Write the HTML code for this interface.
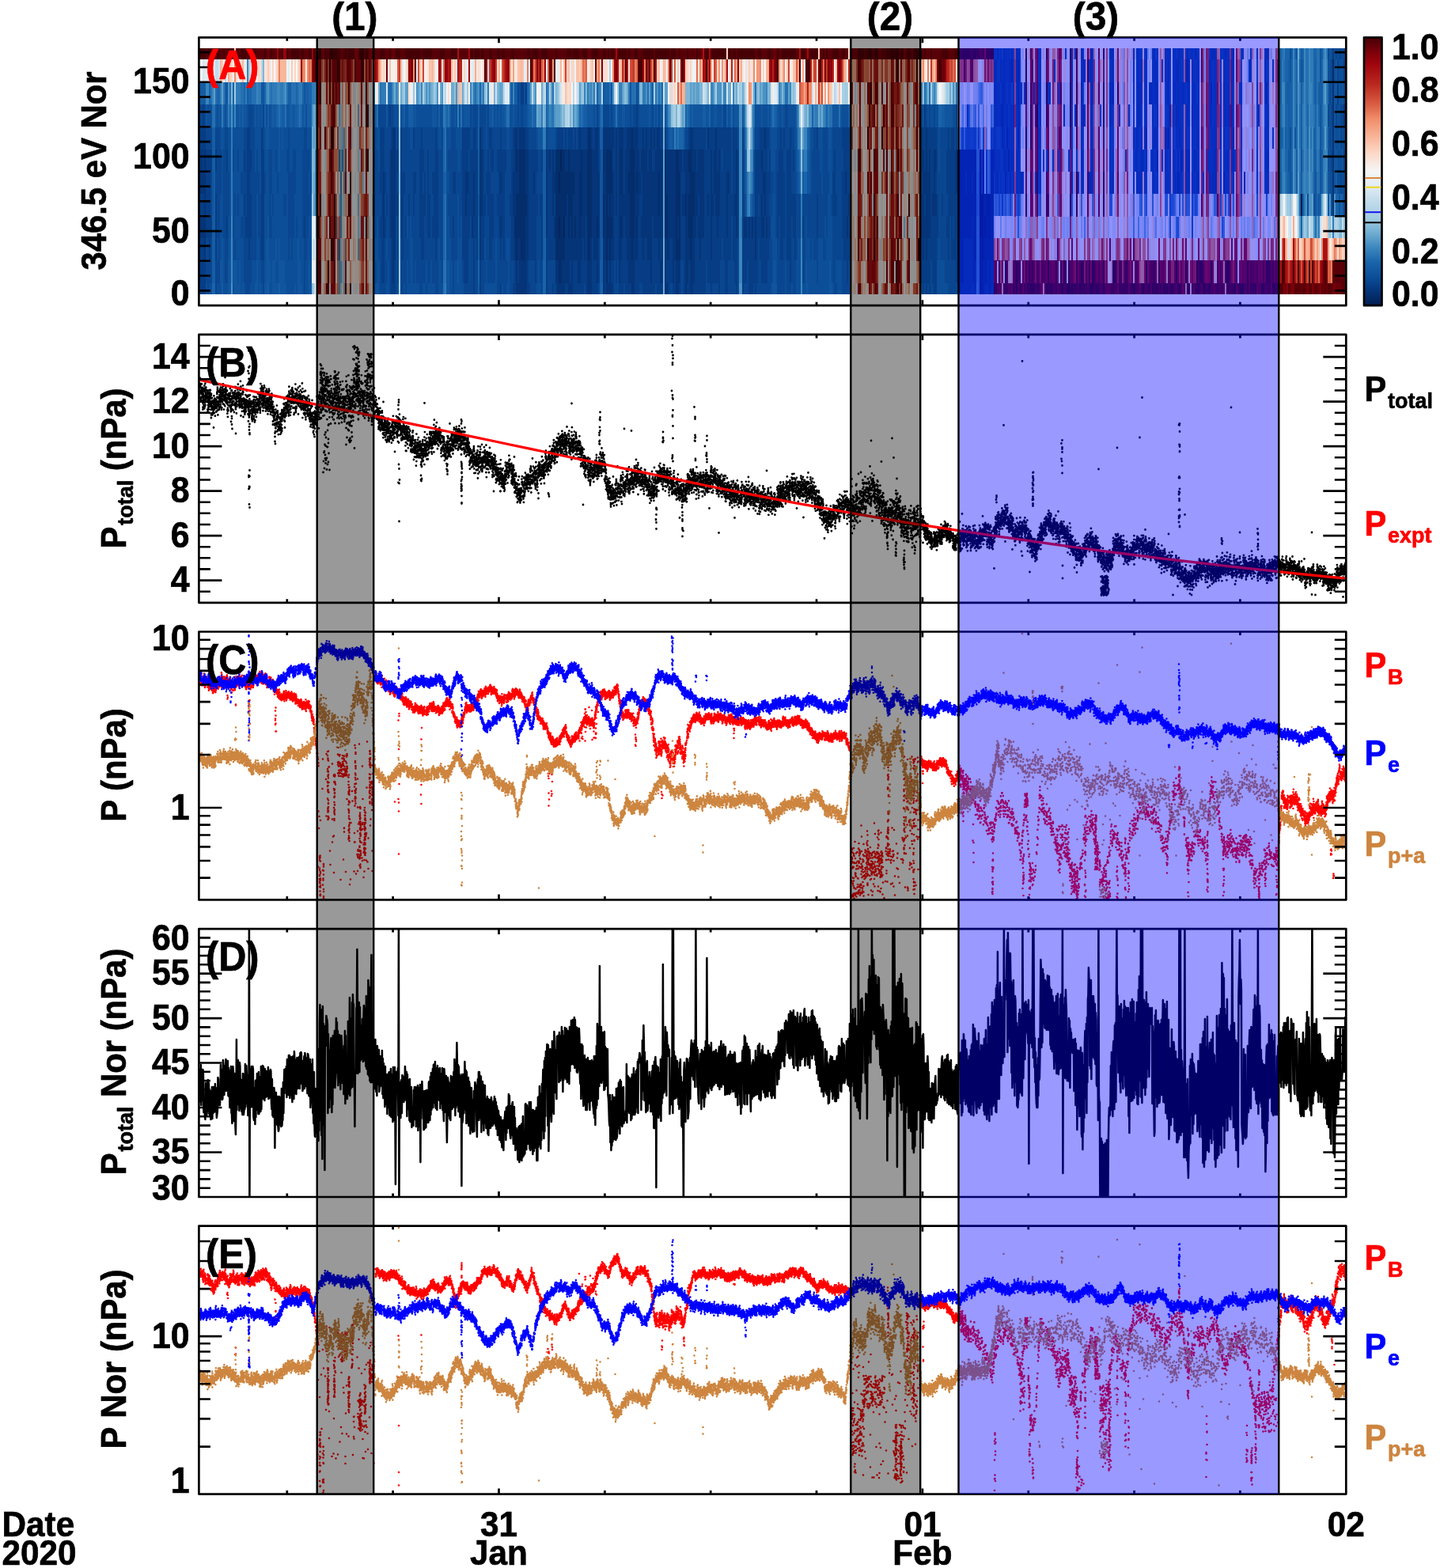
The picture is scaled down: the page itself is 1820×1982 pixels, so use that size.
<!DOCTYPE html>
<html><head><meta charset="utf-8"><title>Figure</title>
<style>
html,body{margin:0;padding:0;background:#fff;}
svg{display:block;}
text{font-family:"Liberation Sans", Arial, Helvetica, sans-serif;font-weight:bold;stroke-width:0.7px;stroke-linejoin:round;}
</style></head>
<body>
<svg width="1820" height="1982" viewBox="0 0 1820 1982">
<rect width="1820" height="1982" fill="#fff"/>
<defs><path id="t0" vector-effect="non-scaling-stroke" d="M0 -.4h0m0 1.85h0m.5-.85h0m0 1.6h0m0-2.2h0m.5 .2h0m0 .5h0m0 .65h0m.5-.85h0m0-1.7h0m0 1.35h0m0 .15h0m0-.6h0m.5-.7h0m0 2.4h0m0-1.7h0m0-.6h0m0 1.3h0m.5-.8h0m0-.45h0m0 .85h0m0-.55h0m0 .3h0m0 .55h0m0-.6h0m0-.55h0m.5 .65h0m0-.25h0m0 .8h0m0-1.15h0m0-.8h0m0 1.45h0m0-1.25h0m0-.4h0m0 2.4h0m.5-1.35h0m0 1.15h0m0-1.15h0m.5-.7h0m0 .2h0m0 1.1h0m0 .4h0m.5-.5h0m0 .65h0m0-1.3h0m0 1.5h0m0-2.05h0m0 1.55h0m.5 1.4h0m0 .55h0m.5 .45h0m0-3.45h0m0 2.05h0m0 .5h0m0-.15h0m.5-2.3h0"/><path id="t1" vector-effect="non-scaling-stroke" d="M0 1.4h0m0-.5h0m.5-2.25h0m0 2h0m0 1.15h0m0-1.4h0m0-.6h0m0 .45h0m.5-.8h0m0 1.15h0m.5-.65h0m0 1.4h0m0-1h0m0-1.25h0m.5 1.25h0m0 .25h0m0-1.25h0m0 .2h0m0-1.35h0m0 2.85h0m.5-1.45h0m0-1.65h0m0 .3h0m0 1.6h0m.5 .7h0m0-.75h0m.5 .65h0m0-1.5h0m0-.35h0m0 2.3h0m0-.35h0m0-.45h0m0 1.45h0m.5-1.8h0m0 .35h0m0 1.15h0m0 .8h0m0-1.75h0m.5 1.1h0m0-1.85h0m0 .85h0m0-.3h0m0-1.6h0m.5 2h0m0 .45h0m0-1.05h0m0-.25h0m0 1.3h0m.5-2.45h0m0-.25h0m0 .9h0m0-.5h0m0 2.55h0m.5-1.05h0m0-1.3h0m0 .25h0"/><path id="t2" vector-effect="non-scaling-stroke" d="M.5 -.2h0m0 1.3h0m0-3.25h0m0 2.1h0m0-.85h0m0 1.45h0m.5-.95h0m0-.25h0m0 .65h0m.5-1.6h0m0 1.6h0m0-.95h0m0 .35h0m0 .15h0m0 1.6h0m.5-1.25h0m0 .35h0m0 .3h0m0-1.25h0m0 1.5h0m0 .05h0m0-.05h0m.5-.75h0m0-.25h0m0 .5h0m0 1.05h0m.5-2.8h0m0 1.35h0m0-.7h0m0 1.15h0m0-.2h0m0 .85h0m.5-3.9h0m0 2.1h0m0-.7h0m0 1.15h0m.5-.5h0m0 .25h0m0 1.65h0m0 1.45h0m0-4.6h0m.5 2.65h0m.5 .25h0m0-.2h0m0-.3h0m0-1.35h0m.5 .75h0m0 1.45h0m0 .5h0m0-1.05h0m0-.65h0m0 1.2h0m0-.55h0m0 .4h0m.5-.45h0m0-.5h0"/><path id="t3" vector-effect="non-scaling-stroke" d="M0 0h0m0-.1h0m.5 .95h0m0 .25h0m0-.65h0m0-.95h0m0 .35h0m0-.3h0m.5 2.4h0m0-.6h0m0 .15h0m0-.8h0m0-.75h0m0 1.55h0m.5 .45h0m0-1.15h0m0-.85h0m0 1h0m0-1.5h0m.5 1.25h0m0-1.3h0m0-.45h0m0 1.3h0m0-.3h0m.5 1.35h0m0-1.7h0m0 0h0m0-1.4h0m0-.5h0m0 .05h0m0 2.05h0m.5-1.3h0m.5 2h0m0 .45h0m0-1.65h0m0 1.7h0m0-1.4h0m.5 .6h0m0-1h0m0 1.2h0m0-2.05h0m0 1.15h0m.5-.8h0m0 .55h0m0 .55h0m.5-.35h0m0-.5h0m0 1.3h0m0 .2h0m0-1.75h0m0 1.85h0m.5 .3h0m0-1.15h0m0 .9h0m0-1.4h0m.5 2.4h0"/><path id="t4" vector-effect="non-scaling-stroke" d="M0 0h0m0 1.4h0m0-.15h0m.5-1.35h0m0-.05h0m.5 .95h0m0-.35h0m0 .2h0m0-1.95h0m.5 1.7h0m0-1.6h0m0-1.15h0m0 1.85h0m0 .8h0m0 1.45h0m0-2.35h0m.5-.7h0m0 3h0m0-1.85h0m0-.55h0m.5-.65h0m0-.25h0m0 2.45h0m0-1.7h0m0-.25h0m.5 .2h0m0 2.25h0m0-2.35h0m0 1.4h0m0-.2h0m0-.05h0m0-.7h0m.5 1.45h0m0 1.15h0m0-1.7h0m0-1h0m0-.05h0m.5 1.85h0m0-.35h0m0 .3h0m.5-.1h0m0-1.7h0m.5 2h0m0-.2h0m0-.75h0m0 .15h0m0 .25h0m0-.8h0m0-.6h0m.5 1.6h0m0-1.55h0m.5 .05h0m0-.8h0m0 1.2h0m0-1.25h0m0 .05h0"/><path id="t5" vector-effect="non-scaling-stroke" d="M0 -1.85h0m0 3.6h0m.5-2.75h0m0-.15h0m0 .25h0m0 .9h0m.5 .45h0m0 .1h0m0 .25h0m0-.9h0m0-1h0m0 1.85h0m0 .95h0m0-.35h0m0-1.15h0m0 .45h0m.5-1h0m0 .25h0m0-.85h0m0 1.25h0m.5 .5h0m0-.4h0m0 .85h0m0 1h0m0-.35h0m0-1.8h0m0-.65h0m.5-.4h0m0-.15h0m.5 .9h0m0 .25h0m0-.35h0m0-.1h0m.5-.2h0m0-.3h0m0-.6h0m0 2.55h0m0-.5h0m.5-1.9h0m0-.1h0m0 .6h0m.5 .65h0m0 1.15h0m0-.05h0m0 .35h0m0-.25h0m.5-.15h0m0-.7h0m0-.15h0m.5-.55h0m0-1.55h0m0 1.3h0m0 1.9h0m0-2.1h0m.5-.15h0m0 1.75h0"/><path id="t6" vector-effect="non-scaling-stroke" d="M0 .25h0m0 .05h0m.5-1.5h0m0 .75h0m0-.15h0m0-.6h0m0 .8h0m0 .1h0m0 .8h0m.5 .5h0m0-1.6h0m0 .35h0m0 .7h0m0 .3h0m.5-2.6h0m0 2.55h0m0-.95h0m.5 1h0m0-1.35h0m0-.15h0m0 .85h0m.5 .45h0m.5-.55h0m0-1.5h0m0 1.95h0m0-1.85h0m.5 .55h0m0-.15h0m0-.45h0m0 .6h0m0 .1h0m0 .3h0m0 .5h0m0-.05h0m.5-.5h0m0 1.15h0m0 .8h0m0-.1h0m0-.2h0m.5 .35h0m0 .2h0m0 .1h0m0 .3h0m0-1.55h0m.5-.1h0m0 .95h0m0-.05h0m0 0h0m0-2.95h0m0 1.35h0m0-2.1h0m.5 2.55h0m0-.65h0m0-.05h0m0-.35h0m.5 1.15h0"/><path id="t7" vector-effect="non-scaling-stroke" d="M0 .4h0m0-.55h0m.5 .95h0m0 .6h0m0-1.7h0m0 .9h0m.5-.4h0m0 .9h0m0-.5h0m0-2h0m0 .45h0m0-1.35h0m.5 .6h0m0 1.05h0m0 .5h0m0 .45h0m0-1.2h0m.5-.9h0m0 1.65h0m0-.35h0m.5 .25h0m.5 .1h0m0-.15h0m0-.1h0m.5 0h0m.5-1.05h0m0 1.2h0m0-.95h0m0 .25h0m0 2.45h0m0-1.4h0m0-1.5h0m0 2.85h0m0 .05h0m0 .35h0m0-1.55h0m.5 .45h0m0-.55h0m0-.85h0m0 2.45h0m0-2.2h0m0-.05h0m.5 .1h0m0 2.2h0m0-.8h0m0-1.55h0m.5 .4h0m0 .45h0m0 .4h0m0-2.05h0m0 2.6h0m.5-1.45h0m0-.5h0m0 .15h0m0 1.25h0m0 1.05h0"/><path id="s0" vector-effect="non-scaling-stroke" d="M0 -1.25h0m1 2.15h0m0-.1h0m.5-.45h0m0 .35h0m0 .6h0m0-.9h0m0 .2h0m1-1.55h0m1 0h0m0 1.55h0m0-.95h0m0 .9h0m.5-1.85h0m0-.25h0m1-.25h0m0 3.05h0m.5-2.4h0m0 2.2h0m0-1.65h0m0 .6h0m.5 1.35h0"/><path id="s1" vector-effect="non-scaling-stroke" d="M.5 -1.75h0m.5 3.1h0m.5-2.15h0m0 2.4h0m0 .45h0m.5-1.15h0m0-.95h0m0 .85h0m.5-.75h0m0 .55h0m.5-.3h0m0-.95h0m.5 .65h0m.5 .35h0m0-.65h0m.5 .8h0m0-.8h0m0-1.4h0m0 1.25h0m.5 .15h0m1-.05h0m0-1.5h0"/><path id="s2" vector-effect="non-scaling-stroke" d="M0 -1.55h0m.5 1.25h0m.5 .1h0m.5 2h0m0-.1h0m.5-2.75h0m0 .8h0m.5 .5h0m0 1.2h0m.5-.65h0m.5-.55h0m0-1.35h0m.5 .3h0m0-1.05h0m.5 .7h0m0 1.45h0m0 .25h0m.5-1.2h0m0 .75h0m0 1.25h0m.5-1.1h0m0-.1h0"/><path id="s3" vector-effect="non-scaling-stroke" d="M.5 -.1h0m0 1.65h0m0-2.45h0m.5 .05h0m0 1.15h0m.5 .9h0m0-.95h0m1.5-1.6h0m.5 1.85h0m0 .3h0m0 1.45h0m0-2.35h0m0 .65h0m0-.3h0m0-1.05h0m.5 .9h0m.5 .6h0m1-1.85h0m0-.3h0m0-.05h0m.5 2.25h0m0-1.65h0"/><path id="s4" vector-effect="non-scaling-stroke" d="M.5 .05h0m0-.6h0m0 .5h0m0 .75h0m.5-2.95h0m0 2.65h0m0-1.05h0m0-.95h0m1 1.95h0m0-.1h0m0 .15h0m0-1.7h0m0 2.65h0m.5-1.75h0m.5-.3h0m0 1.75h0m0-.3h0m0 .2h0m.5 .1h0m.5-2.6h0m.5 3.1h0m.5-1.25h0"/><path id="s5" vector-effect="non-scaling-stroke" d="M.5 -.1h0m0 .55h0m0-1.05h0m0-1.1h0m.5 1.55h0m0 .35h0m.5 .95h0m.5-.8h0m0-1.95h0m.5 .85h0m.5-.4h0m0 .7h0m0-.4h0m.5-.45h0m.5 1.7h0m0-.3h0m.5-.3h0m0 1.2h0m.5 1.45h0m.5-1.45h0m.5-.4h0m0 .6h0"/><path id="s6" vector-effect="non-scaling-stroke" d="M0 1.95h0m.5-1.2h0m.5-.05h0m.5-1.7h0m0 .6h0m0-.55h0m0 .85h0m0 1.8h0m0-1.15h0m0-.05h0m.5-2h0m.5-.35h0m0 1.1h0m.5 .7h0m.5-.65h0m0 1.4h0m.5-1.25h0m.5 1.85h0m0-.25h0m0-2.1h0m0 1.15h0m0-.55h0"/><path id="s7" vector-effect="non-scaling-stroke" d="M0 .9h0m.5-.25h0m0-1.85h0m0 2.3h0m0 .2h0m.5-1.15h0m0-.8h0m0 0h0m.5-.15h0m.5 1.05h0m0-.75h0m.5-1.35h0m0 4h0m.5-3.85h0m0 2.7h0m.5-1.55h0m0 1.4h0m.5-1.8h0m.5 1.5h0m1-.8h0m0 .05h0m0 .7h0"/></defs>
<defs><clipPath id="clipA"><rect x="251.4" y="47.3" width="1449.9" height="338.9"/></clipPath><clipPath id="clipB"><rect x="251.4" y="422.9" width="1449.9" height="338.9"/></clipPath><clipPath id="clipC"><rect x="251.4" y="798.5" width="1449.9" height="338.9"/></clipPath><clipPath id="clipD"><rect x="251.4" y="1174.1" width="1449.9" height="338.9"/></clipPath><clipPath id="clipE"><rect x="251.4" y="1549.7" width="1449.9" height="338.9"/></clipPath></defs>
<g shape-rendering="crispEdges" fill="none"><path stroke="#053478" stroke-width="14.7" d="M652 365h14M704 365h10M718 365h6M742 365h6M762 365h2M766 365h8M798 365h4M840 365h4M854 365h4M866 365h2M872 365h4M1238 365h4"/><path stroke="#063d84" stroke-width="14.7" d="M1378 68.5h2M1558 68.5h2M1684 68.5h2M254 365h6M494 365h6M598 365h2M606 365h2M632 365h2M648 365h4M666 365h4M690 365h2M698 365h2M702 365h2M714 365h4M724 365h14M740 365h2M748 365h8M764 365h2M774 365h2M782 365h6M790 365h8M802 365h6M812 365h16M830 365h8M844 365h2M850 365h4M858 365h2M864 365h2M868 365h4M876 365h16M898 365h2M908 365h2M916 365h4M930 365h2M938 365h2M946 365h6M954 365h2M1162 365h2M1166 365h2M1170 365h2M1174 365h2M1180 365h4M1212 365h2M1242 365h2M1250 365h2"/><path stroke="#09468f" stroke-width="14.7" d="M1260 68.5h2M1268 68.5h2M1278 68.5h2M1284 68.5h4M1366 68.5h2M1404 68.5h4M1432 68.5h2M1458 68.5h2M1500 68.5h2M1510 68.5h2M1530 68.5h6M1548 68.5h2M1600 68.5h2M1678 68.5h2M1688 68.5h2M1692 68.5h4M1698 68.5h2M252 365h2M262 365h2M272 365h2M310 365h6M332 365h2M384 365h2M480 365h8M492 365h2M500 365h2M506 365h4M512 365h2M530 365h4M538 365h2M550 365h4M572 365h2M586 365h12M600 365h4M608 365h4M628 365h4M636 365h4M644 365h4M670 365h8M684 365h2M692 365h6M700 365h2M738 365h2M756 365h2M776 365h6M788 365h2M808 365h4M828 365h2M846 365h4M860 365h4M892 365h6M900 365h8M910 365h6M920 365h10M932 365h2M940 365h6M952 365h2M956 365h18M982 365h10M994 365h6M1002 365h4M1054 365h4M1064 365h10M1164 365h2M1168 365h2M1172 365h2M1176 365h4M1198 365h14M1214 365h14M1230 365h4M1244 365h6M1252 365h4"/><path stroke="#0c4e98" stroke-width="14.7" d="M1256 68.5h2M1264 68.5h2M1270 68.5h6M1288 68.5h2M1312 68.5h4M1346 68.5h2M1354 68.5h2M1358 68.5h2M1368 68.5h2M1380 68.5h2M1402 68.5h2M1436 68.5h4M1448 68.5h2M1456 68.5h2M1462 68.5h2M1472 68.5h8M1482 68.5h4M1488 68.5h6M1504 68.5h4M1512 68.5h2M1536 68.5h2M1542 68.5h2M1546 68.5h2M1550 68.5h4M1556 68.5h2M1570 68.5h2M1580 68.5h2M1588 68.5h2M1598 68.5h2M1602 68.5h2M1630 68.5h2M1682 68.5h2M1686 68.5h2M1690 68.5h2M1696 68.5h2M260 365h2M264 365h4M274 365h6M282 365h6M294 365h2M304 365h2M308 365h2M316 365h6M326 365h2M330 365h2M340 365h4M362 365h10M374 365h2M382 365h2M386 365h4M472 365h4M478 365h2M488 365h4M502 365h2M510 365h2M514 365h16M534 365h4M540 365h10M554 365h6M568 365h4M574 365h12M612 365h16M634 365h2M640 365h4M678 365h6M974 365h2M992 365h2M1000 365h2M1006 365h6M1014 365h4M1022 365h26M1052 365h2M1058 365h6M1184 365h14M1228 365h2"/><path stroke="#10559e" stroke-width="14.7" d="M1258 68.5h2M1262 68.5h2M1276 68.5h2M1440 68.5h4M1446 68.5h2M1486 68.5h2M1494 68.5h2M1498 68.5h2M1502 68.5h2M1508 68.5h2M1514 68.5h2M1528 68.5h2M1544 68.5h2M1568 68.5h2M1638 68.5h2M1668 68.5h2M1680 68.5h2M288 365h4M296 365h8M306 365h2M322 365h4M328 365h2M334 365h4M344 365h8M354 365h8M372 365h2M376 365h6M390 365h4M476 365h2M564 365h4M976 365h6M1018 365h4M1048 365h4"/><path stroke="#155da4" stroke-width="14.7" d="M1266 68.5h2M1280 68.5h2M1460 68.5h2M1632 68.5h2M1644 68.5h2M1670 68.5h2M280 365h2M338 365h2M352 365h2M604 365h2M758 365h2"/><path stroke="#1964aa" stroke-width="14.7" d="M1616 68.5h4M1624 68.5h6M1636 68.5h2M1646 68.5h2M1660 68.5h4M268 365h4M686 365h4M760 365h2"/><path stroke="#2570b1" stroke-width="14.7" d="M1620 68.5h2M1642 68.5h2M1650 68.5h4M1664 68.5h4M560 365h2"/><path stroke="#307bb7" stroke-width="14.7" d="M1622 68.5h2M1656 68.5h4M1672 68.5h2M1676 68.5h2M562 365h2"/><path stroke="#3b86bd" stroke-width="14.7" d="M1634 68.5h2M1648 68.5h2M1654 68.5h2M1012 365h2M1236 365h2"/><path stroke="#4b92c4" stroke-width="14.7" d="M1674 68.5h2M292 365h2M934 365h4M1234 365h2"/><path stroke="#5c9eca" stroke-width="14.7" d="M428 365h2"/><path stroke="#6dabd0" stroke-width="14.7" d="M1640 68.5h2M838 365h2"/><path stroke="#7eb6d6" stroke-width="14.7" d="M434 365h2"/><path stroke="#8ec0db" stroke-width="14.7" d="M394 365h2"/><path stroke="#9fcae1" stroke-width="14.7" d="M1450 68.5h2M1576 68.5h2M504 365h2"/><path stroke="#a8cfe4" stroke-width="14.7" d="M1454 68.5h2M1606 68.5h2M430 365h2"/><path stroke="#b2d3e6" stroke-width="14.7" d="M396 365h2"/><path stroke="#bbd8e9" stroke-width="14.7" d="M1418 68.5h2"/><path stroke="#c4dcec" stroke-width="14.7" d="M1434 68.5h2M1522 68.5h2M1578 68.5h2"/><path stroke="#cde1ef" stroke-width="14.7" d="M1292 68.5h2M1326 68.5h2M1344 68.5h2M1370 68.5h2M1400 68.5h2M1572 68.5h2"/><path stroke="#d7e6f1" stroke-width="14.7" d="M1290 68.5h2M1348 68.5h2M450 365h2"/><path stroke="#e0ecf4" stroke-width="14.7" d="M1316 68.5h2M1428 68.5h2M1584 68.5h4M446 365h2"/><path stroke="#e8f0f5" stroke-width="14.7" d="M1452 68.5h2M1610 68.5h2M400 365h2M416 365h2M444 365h2M452 365h2M1074 365h2M1082 365h2M1112 365h2"/><path stroke="#eff3f6" stroke-width="14.7" d="M1298 68.5h2M1320 68.5h2M1350 68.5h2M1408 68.5h2M1414 68.5h2M1608 68.5h2M398 365h2M406 365h2M1076 365h2M1110 365h2M1142 365h2"/><path stroke="#f6f6f6" stroke-width="14.7" d="M1294 68.5h2M1390 68.5h4M1480 68.5h2M1560 68.5h2M1122 365h2M1150 365h2"/><path stroke="#f7eeea" stroke-width="14.7" d="M1384 68.5h4M1422 68.5h2M1468 68.5h2M470 365h2"/><path stroke="#f8e6de" stroke-width="14.7" d="M1372 68.5h2M1396 68.5h2M1444 68.5h2M1464 68.5h2M1516 68.5h2M1590 68.5h2M468 365h2M1094 365h2M1152 365h2"/><path stroke="#faded2" stroke-width="14.7" d="M1306 68.5h2M1328 68.5h2M1364 68.5h2M1574 68.5h2M1596 68.5h2M432 365h2M448 365h2M1096 365h2"/><path stroke="#fbd6c5" stroke-width="14.7" d="M918 68.5h2M1072 68.5h2M1318 68.5h2M1334 68.5h2M1362 68.5h2M1426 68.5h2M466 365h2M1078 365h4M1090 365h2M1146 365h2"/><path stroke="#fbcdb8" stroke-width="14.7" d="M296 68.5h2M1034 68.5h2M1342 68.5h2M1410 68.5h2M1416 68.5h2M1604 68.5h2M408 365h2M440 365h2M460 365h2M1092 365h2M1124 365h2M1144 365h2M1504 365h2"/><path stroke="#fac2aa" stroke-width="14.7" d="M1300 68.5h2M1430 68.5h2M1594 68.5h2M438 365h2"/><path stroke="#f8b79c" stroke-width="14.7" d="M1470 68.5h2"/><path stroke="#f7ad8e" stroke-width="14.7" d="M424 365h2M1266 365h2M1318 365h2M1498 365h2M1548 365h2"/><path stroke="#f4a282" stroke-width="14.7" d="M1382 68.5h2M1420 68.5h2M1496 68.5h2M1540 68.5h2M1564 68.5h2M1102 365h2M1114 365h2M1140 365h2M1148 365h2M1160 365h2"/><path stroke="#f29776" stroke-width="14.7" d="M1332 68.5h2M1356 68.5h2M1424 68.5h2M1466 68.5h2"/><path stroke="#f08c69" stroke-width="14.7" d="M1330 68.5h2M1538 68.5h2M1566 68.5h2M1582 68.5h2M410 365h2M1088 365h2"/><path stroke="#e97d5d" stroke-width="14.7" d="M1376 68.5h2M454 365h2"/><path stroke="#e16e51" stroke-width="14.7" d="M1282 68.5h2M1520 68.5h2M1614 68.5h2M426 365h2"/><path stroke="#d95e44" stroke-width="14.7" d="M1398 68.5h2M1592 68.5h2M464 365h2M1116 365h2M1154 365h4"/><path stroke="#d2513b" stroke-width="14.7" d="M1554 68.5h2M1612 68.5h2M1136 365h2"/><path stroke="#ca4432" stroke-width="14.7" d="M1336 68.5h2"/><path stroke="#c23829" stroke-width="14.7" d="M1304 68.5h2M1526 68.5h2M456 365h2"/><path stroke="#bb2b20" stroke-width="14.7" d="M1324 68.5h2M1524 68.5h2M1100 365h2M1104 365h2M1128 365h4M1158 365h2"/><path stroke="#b5221b" stroke-width="14.7" d="M1308 68.5h2"/><path stroke="#ae1918" stroke-width="14.7" d="M1108 365h2M1118 365h4"/><path stroke="#a81114" stroke-width="14.7" d="M578 68.5h2M888 68.5h2M1010 68.5h2M1412 68.5h2M1562 68.5h2M1084 365h2M1126 365h2"/><path stroke="#a20810" stroke-width="14.7" d="M450 68.5h2M592 68.5h2M778 68.5h2M896 68.5h2M1020 68.5h2M1244 68.5h2M1340 68.5h2M1374 68.5h2M420 365h4M458 365h2M462 365h2M1098 365h2"/><path stroke="#97040e" stroke-width="14.7" d="M350 68.5h2M358 68.5h4M394 68.5h2M408 68.5h2M448 68.5h2M466 68.5h4M1310 68.5h2M1338 68.5h2M404 365h2M418 365h2M1132 365h2M1316 365h2M1494 365h2"/><path stroke="#89020c" stroke-width="14.7" d="M406 68.5h2M430 68.5h4M452 68.5h2M1142 68.5h2M1388 68.5h2M402 365h2M1138 365h2M1278 365h2M1292 365h2M1412 365h2M1426 365h2M1440 365h2M1562 365h2M1588 365h2M1626 365h2"/><path stroke="#7b000a" stroke-width="14.7" d="M412 68.5h4M434 68.5h2M438 68.5h2M460 68.5h2M470 68.5h2M1078 68.5h6M1110 68.5h4M1144 68.5h2M1152 68.5h2M1518 68.5h2M1106 365h2M1260 365h4M1274 365h2M1286 365h2M1296 365h2M1314 365h2M1336 365h2M1398 365h6M1454 365h2M1486 365h2M1508 365h2M1518 365h2M1534 365h2M1546 365h2M1574 365h2M1578 365h2M1590 365h4M1606 365h2M1622 365h2M1632 365h4M1652 365h2M1658 365h2M1668 365h2M1686 365h2"/><path stroke="#6a0009" stroke-width="14.7" d="M338 68.5h2M410 68.5h2M426 68.5h4M436 68.5h2M440 68.5h8M464 68.5h2M496 68.5h2M744 68.5h2M886 68.5h2M978 68.5h2M1076 68.5h2M1092 68.5h2M1102 68.5h4M1114 68.5h6M1136 68.5h2M1150 68.5h2M1238 68.5h4M1302 68.5h2M412 365h4M1086 365h2M1264 365h2M1268 365h2M1276 365h2M1282 365h2M1308 365h2M1320 365h2M1330 365h4M1338 365h2M1344 365h4M1362 365h2M1374 365h2M1390 365h4M1396 365h2M1408 365h4M1436 365h4M1446 365h4M1464 365h2M1468 365h2M1476 365h2M1484 365h2M1492 365h2M1496 365h2M1516 365h2M1524 365h2M1530 365h4M1536 365h2M1540 365h4M1554 365h2M1564 365h2M1572 365h2M1598 365h4M1612 365h2M1616 365h2M1624 365h2M1630 365h2M1644 365h2M1650 365h2M1660 365h2M1664 365h4M1672 365h2M1676 365h2M1684 365h2M1688 365h8"/><path stroke="#580007" stroke-width="14.7" d="M260 68.5h2M268 68.5h2M272 68.5h2M278 68.5h4M284 68.5h4M298 68.5h2M302 68.5h2M312 68.5h2M324 68.5h10M336 68.5h2M340 68.5h2M344 68.5h6M352 68.5h4M364 68.5h4M378 68.5h2M384 68.5h6M398 68.5h4M416 68.5h2M420 68.5h6M454 68.5h2M462 68.5h2M474 68.5h6M486 68.5h6M494 68.5h2M498 68.5h2M506 68.5h6M532 68.5h2M546 68.5h10M562 68.5h8M580 68.5h12M598 68.5h2M606 68.5h2M612 68.5h6M622 68.5h6M632 68.5h2M638 68.5h8M650 68.5h16M670 68.5h2M680 68.5h4M692 68.5h10M704 68.5h12M722 68.5h2M732 68.5h4M742 68.5h2M746 68.5h2M756 68.5h6M766 68.5h2M770 68.5h2M776 68.5h2M780 68.5h2M792 68.5h2M796 68.5h6M806 68.5h6M826 68.5h2M846 68.5h2M854 68.5h4M860 68.5h8M870 68.5h10M882 68.5h4M890 68.5h2M898 68.5h2M924 68.5h2M930 68.5h2M954 68.5h4M962 68.5h8M974 68.5h4M980 68.5h2M984 68.5h4M1006 68.5h4M1018 68.5h2M1022 68.5h2M1036 68.5h4M1042 68.5h2M1046 68.5h6M1060 68.5h4M1068 68.5h4M1074 68.5h2M1084 68.5h2M1088 68.5h4M1094 68.5h4M1108 68.5h2M1120 68.5h6M1130 68.5h2M1138 68.5h4M1146 68.5h4M1154 68.5h2M1162 68.5h2M1166 68.5h2M1170 68.5h6M1178 68.5h12M1198 68.5h8M1210 68.5h6M1226 68.5h4M1234 68.5h4M1242 68.5h2M1246 68.5h2M1250 68.5h2M436 365h2M1134 365h2M1258 365h2M1270 365h4M1288 365h4M1294 365h2M1298 365h4M1310 365h4M1324 365h4M1334 365h2M1340 365h2M1352 365h2M1356 365h6M1366 365h8M1376 365h2M1382 365h4M1388 365h2M1404 365h4M1414 365h12M1428 365h4M1434 365h2M1442 365h2M1450 365h4M1458 365h4M1466 365h2M1472 365h2M1478 365h2M1482 365h2M1488 365h2M1500 365h2M1506 365h2M1510 365h4M1526 365h2M1538 365h2M1544 365h2M1550 365h4M1556 365h4M1580 365h6M1602 365h4M1618 365h4M1628 365h2M1636 365h8M1646 365h4M1654 365h4M1662 365h2M1670 365h2M1674 365h2M1678 365h6M1696 365h4"/><path stroke="#460005" stroke-width="14.7" d="M252 68.5h8M262 68.5h6M270 68.5h2M274 68.5h4M282 68.5h2M288 68.5h8M300 68.5h2M304 68.5h8M314 68.5h10M334 68.5h2M342 68.5h2M356 68.5h2M362 68.5h2M368 68.5h10M380 68.5h4M390 68.5h4M396 68.5h2M402 68.5h4M418 68.5h2M456 68.5h4M472 68.5h2M480 68.5h6M492 68.5h2M500 68.5h6M512 68.5h20M534 68.5h12M556 68.5h6M570 68.5h8M594 68.5h4M600 68.5h6M608 68.5h4M618 68.5h4M628 68.5h4M634 68.5h4M646 68.5h4M666 68.5h4M672 68.5h8M684 68.5h8M702 68.5h2M716 68.5h6M724 68.5h8M736 68.5h6M748 68.5h8M762 68.5h4M768 68.5h2M772 68.5h4M782 68.5h10M794 68.5h2M802 68.5h4M812 68.5h14M828 68.5h18M848 68.5h6M858 68.5h2M868 68.5h2M880 68.5h2M892 68.5h4M900 68.5h18M920 68.5h4M926 68.5h4M932 68.5h22M958 68.5h4M970 68.5h4M982 68.5h2M988 68.5h18M1012 68.5h6M1024 68.5h10M1040 68.5h2M1044 68.5h2M1052 68.5h8M1064 68.5h4M1086 68.5h2M1098 68.5h4M1106 68.5h2M1126 68.5h4M1132 68.5h4M1156 68.5h6M1164 68.5h2M1168 68.5h2M1176 68.5h2M1190 68.5h8M1206 68.5h4M1216 68.5h10M1230 68.5h4M1248 68.5h2M1252 68.5h4M1296 68.5h2M1322 68.5h2M1352 68.5h2M1360 68.5h2M1394 68.5h2M442 365h2M1256 365h2M1280 365h2M1284 365h2M1302 365h6M1322 365h2M1328 365h2M1342 365h2M1348 365h4M1354 365h2M1364 365h2M1378 365h4M1386 365h2M1394 365h2M1432 365h2M1444 365h2M1456 365h2M1462 365h2M1470 365h2M1474 365h2M1480 365h2M1490 365h2M1502 365h2M1514 365h2M1520 365h4M1528 365h2M1560 365h2M1566 365h6M1576 365h2M1586 365h2M1594 365h4M1608 365h4M1614 365h2"/><path stroke="#031e50" stroke-width="28.8" d="M1644 259.1h2"/><path stroke="#04255d" stroke-width="28.8" d="M708 202.6h2M706 230.9h2M706 287.4h2M712 287.4h2"/><path stroke="#042d6b" stroke-width="28.8" d="M1684 89.7h2M744 174.4h2M798 174.4h2M652 202.6h2M656 202.6h8M702 202.6h6M710 202.6h4M718 202.6h2M734 202.6h2M742 202.6h6M762 202.6h2M766 202.6h8M784 202.6h2M796 202.6h6M840 202.6h2M854 202.6h4M870 202.6h4M1238 202.6h2M656 230.9h8M702 230.9h4M708 230.9h18M732 230.9h4M742 230.9h6M766 230.9h8M784 230.9h2M794 230.9h8M804 230.9h2M832 230.9h2M840 230.9h2M854 230.9h6M872 230.9h6M1238 230.9h2M652 259.1h14M702 259.1h14M718 259.1h6M732 259.1h4M742 259.1h6M762 259.1h2M766 259.1h2M770 259.1h2M796 259.1h6M832 259.1h2M840 259.1h4M854 259.1h6M866 259.1h2M870 259.1h8M1238 259.1h4M650 287.4h14M702 287.4h4M708 287.4h4M718 287.4h2M722 287.4h2M726 287.4h2M732 287.4h2M742 287.4h6M754 287.4h2M762 287.4h2M766 287.4h8M784 287.4h2M796 287.4h6M804 287.4h2M840 287.4h4M854 287.4h2M858 287.4h2M870 287.4h6M1238 287.4h4M652 315.6h2M658 315.6h6M702 315.6h12M742 315.6h4M766 315.6h2M770 315.6h2M798 315.6h2M854 315.6h6M872 315.6h2M706 343.8h4M766 343.8h2"/><path stroke="#053478" stroke-width="28.8" d="M1684 117.9h2M1684 146.1h2M1698 146.1h2M496 174.4h4M606 174.4h2M650 174.4h4M656 174.4h8M732 174.4h2M742 174.4h2M746 174.4h2M752 174.4h4M762 174.4h14M778 174.4h2M782 174.4h6M792 174.4h6M800 174.4h6M812 174.4h2M816 174.4h2M822 174.4h2M826 174.4h2M830 174.4h4M872 174.4h4M894 174.4h2M904 174.4h2M966 174.4h2M1162 174.4h4M1170 174.4h2M1684 174.4h2M254 202.6h2M258 202.6h2M494 202.6h6M606 202.6h4M650 202.6h2M654 202.6h2M664 202.6h4M690 202.6h2M694 202.6h2M698 202.6h2M714 202.6h4M720 202.6h14M736 202.6h6M748 202.6h8M764 202.6h2M778 202.6h2M782 202.6h2M786 202.6h2M790 202.6h6M802 202.6h6M810 202.6h8M820 202.6h4M828 202.6h10M842 202.6h12M858 202.6h4M864 202.6h6M874 202.6h6M882 202.6h8M898 202.6h2M902 202.6h4M908 202.6h2M930 202.6h2M962 202.6h2M1162 202.6h6M1170 202.6h2M1174 202.6h2M1180 202.6h4M1208 202.6h6M1242 202.6h2M1684 202.6h2M252 230.9h8M484 230.9h2M494 230.9h6M588 230.9h4M598 230.9h2M606 230.9h4M632 230.9h2M648 230.9h8M664 230.9h4M674 230.9h2M690 230.9h2M698 230.9h4M726 230.9h6M736 230.9h6M748 230.9h10M762 230.9h4M774 230.9h2M778 230.9h2M782 230.9h2M786 230.9h2M790 230.9h4M802 230.9h2M806 230.9h4M812 230.9h20M834 230.9h4M842 230.9h12M866 230.9h6M878 230.9h12M898 230.9h2M902 230.9h8M918 230.9h4M930 230.9h2M964 230.9h4M1068 230.9h2M1162 230.9h2M1166 230.9h10M1180 230.9h2M1208 230.9h6M1232 230.9h2M1242 230.9h2M1684 230.9h2M258 259.1h2M484 259.1h2M494 259.1h6M588 259.1h2M598 259.1h2M606 259.1h4M648 259.1h4M666 259.1h2M690 259.1h2M698 259.1h2M716 259.1h2M724 259.1h8M736 259.1h6M748 259.1h10M764 259.1h2M768 259.1h2M772 259.1h4M778 259.1h2M782 259.1h14M802 259.1h6M812 259.1h20M834 259.1h4M844 259.1h10M862 259.1h4M868 259.1h2M878 259.1h4M884 259.1h6M894 259.1h2M898 259.1h4M904 259.1h6M918 259.1h2M928 259.1h4M962 259.1h2M966 259.1h2M1072 259.1h2M1162 259.1h6M1170 259.1h6M1178 259.1h6M1210 259.1h4M1242 259.1h2M1246 259.1h6M1684 259.1h2M252 287.4h8M484 287.4h2M494 287.4h6M596 287.4h2M606 287.4h2M632 287.4h2M664 287.4h4M690 287.4h2M700 287.4h2M714 287.4h4M720 287.4h2M724 287.4h2M728 287.4h4M734 287.4h6M748 287.4h6M756 287.4h2M764 287.4h2M774 287.4h2M782 287.4h2M786 287.4h2M790 287.4h6M802 287.4h2M810 287.4h14M826 287.4h12M844 287.4h10M856 287.4h2M866 287.4h4M876 287.4h4M882 287.4h8M898 287.4h2M906 287.4h2M918 287.4h2M930 287.4h2M940 287.4h4M946 287.4h2M950 287.4h2M954 287.4h2M962 287.4h4M968 287.4h2M1070 287.4h2M1162 287.4h14M1212 287.4h2M1242 287.4h6M1250 287.4h2M258 315.6h2M496 315.6h4M606 315.6h2M650 315.6h2M654 315.6h4M664 315.6h4M714 315.6h22M738 315.6h2M746 315.6h2M750 315.6h6M762 315.6h4M768 315.6h2M772 315.6h4M782 315.6h4M792 315.6h6M800 315.6h6M812 315.6h2M818 315.6h6M832 315.6h2M836 315.6h2M840 315.6h6M850 315.6h4M866 315.6h6M874 315.6h4M884 315.6h2M898 315.6h2M954 315.6h2M1166 315.6h2M1170 315.6h2M1238 315.6h6M496 343.8h2M652 343.8h2M656 343.8h10M702 343.8h4M710 343.8h10M722 343.8h2M730 343.8h4M742 343.8h6M754 343.8h2M762 343.8h2M770 343.8h2M782 343.8h2M794 343.8h8M822 343.8h2M834 343.8h4M840 343.8h2M850 343.8h2M854 343.8h6M866 343.8h4M872 343.8h6M1238 343.8h4"/><path stroke="#063d84" stroke-width="28.8" d="M1278 89.7h2M1286 89.7h2M1500 89.7h2M1698 89.7h2M658 117.9h4M664 117.9h2M1286 117.9h2M1366 117.9h2M1406 117.9h2M1530 117.9h2M1600 117.9h2M1690 117.9h2M256 146.1h2M492 146.1h2M804 146.1h2M1168 146.1h2M1208 146.1h2M1266 146.1h2M1368 146.1h2M1478 146.1h2M1556 146.1h2M252 174.4h8M312 174.4h4M330 174.4h2M480 174.4h6M494 174.4h2M506 174.4h2M522 174.4h2M532 174.4h2M550 174.4h2M584 174.4h10M598 174.4h4M608 174.4h2M618 174.4h4M632 174.4h2M648 174.4h2M654 174.4h2M664 174.4h4M704 174.4h8M714 174.4h2M718 174.4h6M726 174.4h2M730 174.4h2M734 174.4h8M748 174.4h4M756 174.4h2M776 174.4h2M780 174.4h2M788 174.4h4M806 174.4h6M814 174.4h2M818 174.4h4M824 174.4h2M828 174.4h2M834 174.4h4M840 174.4h2M870 174.4h2M876 174.4h16M896 174.4h8M906 174.4h18M926 174.4h6M938 174.4h2M960 174.4h6M968 174.4h4M986 174.4h2M990 174.4h2M998 174.4h2M1032 174.4h2M1064 174.4h10M1166 174.4h4M1172 174.4h12M1198 174.4h2M1202 174.4h4M1208 174.4h2M1272 174.4h2M1286 174.4h2M1448 174.4h2M1472 174.4h2M1476 174.4h2M1558 174.4h2M252 202.6h2M256 202.6h2M260 202.6h8M272 202.6h2M286 202.6h2M308 202.6h2M312 202.6h6M330 202.6h4M472 202.6h2M480 202.6h6M492 202.6h2M500 202.6h4M506 202.6h2M530 202.6h6M540 202.6h2M550 202.6h4M584 202.6h8M594 202.6h10M610 202.6h2M616 202.6h2M620 202.6h4M628 202.6h12M646 202.6h4M668 202.6h12M684 202.6h2M692 202.6h2M696 202.6h2M700 202.6h2M756 202.6h2M774 202.6h4M780 202.6h2M788 202.6h2M808 202.6h2M818 202.6h2M824 202.6h4M862 202.6h2M880 202.6h2M890 202.6h8M900 202.6h2M906 202.6h2M910 202.6h2M914 202.6h10M926 202.6h4M932 202.6h2M938 202.6h2M954 202.6h8M964 202.6h6M972 202.6h2M984 202.6h6M994 202.6h6M1002 202.6h2M1054 202.6h2M1066 202.6h8M1168 202.6h2M1172 202.6h2M1176 202.6h4M1196 202.6h12M1214 202.6h20M1252 202.6h4M1274 202.6h2M1462 202.6h2M1492 202.6h2M1502 202.6h2M1698 202.6h2M260 230.9h6M312 230.9h4M330 230.9h4M472 230.9h2M480 230.9h4M486 230.9h2M492 230.9h2M500 230.9h2M506 230.9h6M522 230.9h4M530 230.9h4M536 230.9h2M540 230.9h2M546 230.9h8M572 230.9h4M584 230.9h4M592 230.9h6M600 230.9h4M610 230.9h2M614 230.9h6M630 230.9h2M634 230.9h4M646 230.9h2M668 230.9h6M676 230.9h2M692 230.9h6M776 230.9h2M780 230.9h2M788 230.9h2M810 230.9h2M860 230.9h6M890 230.9h8M900 230.9h2M910 230.9h8M922 230.9h2M926 230.9h4M932 230.9h2M938 230.9h2M954 230.9h10M968 230.9h6M982 230.9h10M994 230.9h6M1052 230.9h4M1064 230.9h4M1070 230.9h4M1164 230.9h2M1176 230.9h4M1182 230.9h2M1196 230.9h12M1214 230.9h6M1222 230.9h6M1230 230.9h2M1252 230.9h4M1270 230.9h2M1354 230.9h2M1488 230.9h2M1546 230.9h2M1572 230.9h2M252 259.1h6M260 259.1h6M272 259.1h2M308 259.1h2M312 259.1h6M330 259.1h4M472 259.1h2M482 259.1h2M488 259.1h2M492 259.1h2M500 259.1h4M506 259.1h4M516 259.1h2M522 259.1h2M530 259.1h8M540 259.1h4M548 259.1h6M584 259.1h4M590 259.1h8M600 259.1h4M610 259.1h4M616 259.1h8M628 259.1h10M644 259.1h4M668 259.1h12M682 259.1h4M692 259.1h6M700 259.1h2M776 259.1h2M780 259.1h2M808 259.1h4M860 259.1h2M882 259.1h2M890 259.1h4M896 259.1h2M902 259.1h2M910 259.1h8M920 259.1h8M932 259.1h2M938 259.1h2M954 259.1h4M960 259.1h2M964 259.1h2M968 259.1h4M982 259.1h10M994 259.1h12M1032 259.1h2M1052 259.1h6M1064 259.1h8M1168 259.1h2M1176 259.1h2M1184 259.1h2M1190 259.1h2M1198 259.1h12M1214 259.1h20M1244 259.1h2M1252 259.1h4M260 287.4h8M272 287.4h2M286 287.4h2M310 287.4h8M330 287.4h4M384 287.4h2M480 287.4h4M486 287.4h2M492 287.4h2M506 287.4h4M512 287.4h2M530 287.4h6M540 287.4h4M546 287.4h8M572 287.4h2M584 287.4h10M598 287.4h6M608 287.4h4M618 287.4h6M630 287.4h2M634 287.4h4M646 287.4h4M668 287.4h10M684 287.4h2M692 287.4h8M740 287.4h2M776 287.4h6M788 287.4h2M806 287.4h4M824 287.4h2M860 287.4h6M880 287.4h2M890 287.4h8M900 287.4h6M908 287.4h10M920 287.4h4M926 287.4h4M932 287.4h2M938 287.4h2M944 287.4h2M948 287.4h2M952 287.4h2M956 287.4h6M966 287.4h2M970 287.4h4M982 287.4h2M986 287.4h6M994 287.4h6M1002 287.4h4M1014 287.4h2M1032 287.4h2M1064 287.4h6M1072 287.4h2M1176 287.4h10M1196 287.4h4M1202 287.4h2M1206 287.4h6M1214 287.4h14M1230 287.4h4M1248 287.4h2M1252 287.4h4M252 315.6h6M264 315.6h2M272 315.6h2M314 315.6h2M330 315.6h4M482 315.6h4M494 315.6h2M508 315.6h2M532 315.6h4M550 315.6h2M584 315.6h8M598 315.6h2M602 315.6h2M608 315.6h4M618 315.6h4M632 315.6h2M636 315.6h2M646 315.6h4M668 315.6h10M684 315.6h2M690 315.6h12M736 315.6h2M740 315.6h2M748 315.6h2M756 315.6h2M776 315.6h6M786 315.6h6M806 315.6h6M814 315.6h4M824 315.6h8M834 315.6h2M846 315.6h4M860 315.6h6M878 315.6h6M886 315.6h12M900 315.6h12M914 315.6h10M926 315.6h6M938 315.6h16M956 315.6h2M960 315.6h12M986 315.6h4M994 315.6h6M1004 315.6h2M1066 315.6h8M1162 315.6h4M1168 315.6h2M1172 315.6h12M1198 315.6h2M1202 315.6h16M1230 315.6h4M1244 315.6h12M252 343.8h8M482 343.8h4M494 343.8h2M498 343.8h2M586 343.8h6M598 343.8h2M606 343.8h2M650 343.8h2M654 343.8h2M666 343.8h2M676 343.8h2M690 343.8h2M720 343.8h2M724 343.8h6M734 343.8h8M748 343.8h6M756 343.8h2M764 343.8h2M768 343.8h2M772 343.8h4M778 343.8h2M784 343.8h10M802 343.8h20M824 343.8h10M842 343.8h8M852 343.8h2M864 343.8h2M870 343.8h2M878 343.8h14M894 343.8h16M916 343.8h4M928 343.8h4M938 343.8h6M946 343.8h12M962 343.8h8M998 343.8h2M1070 343.8h2M1162 343.8h14M1178 343.8h6M1208 343.8h10M1230 343.8h2M1242 343.8h6M1250 343.8h2"/><path stroke="#09468f" stroke-width="28.8" d="M1256 89.7h4M1264 89.7h2M1268 89.7h2M1276 89.7h2M1284 89.7h2M1354 89.7h2M1368 89.7h4M1378 89.7h2M1406 89.7h2M1432 89.7h2M1442 89.7h2M1460 89.7h2M1472 89.7h2M1476 89.7h2M1486 89.7h4M1498 89.7h2M1502 89.7h2M1528 89.7h2M1556 89.7h4M1580 89.7h2M1598 89.7h2M1682 89.7h2M1690 89.7h2M654 117.9h2M1256 117.9h4M1266 117.9h4M1306 117.9h2M1312 117.9h4M1378 117.9h4M1402 117.9h4M1438 117.9h6M1454 117.9h2M1460 117.9h4M1474 117.9h4M1484 117.9h2M1488 117.9h2M1494 117.9h2M1502 117.9h2M1508 117.9h2M1546 117.9h2M1552 117.9h2M1556 117.9h2M1680 117.9h2M1698 117.9h2M252 146.1h4M258 146.1h2M314 146.1h6M332 146.1h2M478 146.1h10M490 146.1h2M494 146.1h4M594 146.1h2M598 146.1h6M606 146.1h8M616 146.1h2M654 146.1h2M658 146.1h4M754 146.1h2M762 146.1h8M772 146.1h2M796 146.1h2M800 146.1h4M806 146.1h2M824 146.1h2M832 146.1h2M914 146.1h4M992 146.1h4M1164 146.1h2M1170 146.1h2M1174 146.1h2M1180 146.1h2M1258 146.1h2M1264 146.1h2M1272 146.1h2M1280 146.1h2M1286 146.1h2M1314 146.1h2M1358 146.1h2M1378 146.1h2M1402 146.1h2M1414 146.1h2M1426 146.1h2M1438 146.1h4M1456 146.1h2M1462 146.1h2M1486 146.1h4M1500 146.1h2M1506 146.1h2M1530 146.1h2M1548 146.1h2M1552 146.1h2M1590 146.1h2M1678 146.1h2M1682 146.1h2M1688 146.1h2M1694 146.1h4M260 174.4h8M272 174.4h6M284 174.4h4M308 174.4h4M316 174.4h6M332 174.4h2M364 174.4h2M384 174.4h4M472 174.4h4M486 174.4h8M500 174.4h4M508 174.4h10M524 174.4h8M534 174.4h16M552 174.4h2M558 174.4h2M570 174.4h6M594 174.4h4M602 174.4h2M610 174.4h4M616 174.4h2M622 174.4h10M634 174.4h6M644 174.4h4M668 174.4h10M690 174.4h2M702 174.4h2M712 174.4h2M716 174.4h2M724 174.4h2M728 174.4h2M842 174.4h2M866 174.4h4M892 174.4h2M924 174.4h2M932 174.4h2M954 174.4h6M972 174.4h2M982 174.4h4M988 174.4h2M992 174.4h6M1000 174.4h4M1028 174.4h4M1040 174.4h6M1052 174.4h12M1184 174.4h2M1188 174.4h10M1200 174.4h2M1206 174.4h2M1266 174.4h4M1312 174.4h2M1432 174.4h2M1436 174.4h2M1442 174.4h2M1446 174.4h2M1458 174.4h4M1474 174.4h2M1490 174.4h2M1512 174.4h2M1536 174.4h2M1542 174.4h2M1546 174.4h2M1556 174.4h2M1568 174.4h2M1680 174.4h2M1694 174.4h2M1698 174.4h2M274 202.6h6M282 202.6h4M294 202.6h2M300 202.6h2M310 202.6h2M318 202.6h4M324 202.6h2M340 202.6h4M348 202.6h2M362 202.6h4M370 202.6h4M382 202.6h10M474 202.6h4M486 202.6h6M508 202.6h22M536 202.6h4M542 202.6h8M554 202.6h6M566 202.6h12M582 202.6h2M592 202.6h2M612 202.6h4M618 202.6h2M624 202.6h4M640 202.6h6M680 202.6h4M912 202.6h2M924 202.6h2M970 202.6h2M980 202.6h4M990 202.6h4M1000 202.6h2M1004 202.6h2M1026 202.6h10M1040 202.6h6M1052 202.6h2M1056 202.6h10M1184 202.6h2M1188 202.6h8M1256 202.6h2M1268 202.6h4M1278 202.6h2M1286 202.6h2M1330 202.6h2M1366 202.6h2M1380 202.6h2M1436 202.6h2M1442 202.6h4M1448 202.6h2M1456 202.6h2M1472 202.6h2M1488 202.6h2M1498 202.6h4M1508 202.6h4M1526 202.6h2M1534 202.6h4M1550 202.6h2M1556 202.6h4M1588 202.6h2M1600 202.6h4M1682 202.6h2M266 230.9h2M272 230.9h8M282 230.9h8M304 230.9h8M316 230.9h12M334 230.9h2M340 230.9h4M350 230.9h2M364 230.9h10M382 230.9h8M392 230.9h2M474 230.9h6M488 230.9h4M502 230.9h2M512 230.9h10M526 230.9h4M534 230.9h2M538 230.9h2M542 230.9h4M554 230.9h6M568 230.9h4M576 230.9h8M612 230.9h2M620 230.9h10M638 230.9h8M678 230.9h8M924 230.9h2M974 230.9h4M980 230.9h2M992 230.9h2M1000 230.9h6M1026 230.9h12M1040 230.9h8M1056 230.9h8M1184 230.9h12M1220 230.9h2M1228 230.9h2M1258 230.9h4M1276 230.9h2M1290 230.9h2M1308 230.9h2M1362 230.9h2M1368 230.9h2M1376 230.9h4M1406 230.9h2M1432 230.9h2M1436 230.9h2M1440 230.9h2M1484 230.9h2M1490 230.9h2M1498 230.9h2M1502 230.9h2M1512 230.9h4M1520 230.9h2M1528 230.9h2M1532 230.9h6M1694 230.9h2M1698 230.9h2M266 259.1h2M274 259.1h4M282 259.1h8M296 259.1h2M300 259.1h2M310 259.1h2M318 259.1h6M326 259.1h4M340 259.1h2M344 259.1h2M358 259.1h4M364 259.1h8M382 259.1h10M474 259.1h8M486 259.1h2M490 259.1h2M510 259.1h6M518 259.1h4M524 259.1h6M538 259.1h2M544 259.1h4M554 259.1h6M566 259.1h12M580 259.1h4M614 259.1h2M624 259.1h4M638 259.1h6M680 259.1h2M940 259.1h2M958 259.1h2M972 259.1h4M980 259.1h2M992 259.1h2M1006 259.1h6M1014 259.1h18M1034 259.1h12M1050 259.1h2M1058 259.1h6M1186 259.1h4M1192 259.1h6M1698 259.1h2M274 287.4h4M282 287.4h4M294 287.4h2M304 287.4h6M318 287.4h6M326 287.4h4M340 287.4h4M364 287.4h8M374 287.4h2M382 287.4h2M386 287.4h4M472 287.4h4M478 287.4h2M488 287.4h4M500 287.4h4M510 287.4h2M516 287.4h2M520 287.4h10M536 287.4h4M544 287.4h2M554 287.4h6M568 287.4h4M574 287.4h4M580 287.4h2M594 287.4h2M612 287.4h6M624 287.4h6M638 287.4h8M678 287.4h6M924 287.4h2M980 287.4h2M984 287.4h2M992 287.4h2M1000 287.4h2M1006 287.4h6M1016 287.4h2M1020 287.4h12M1034 287.4h8M1044 287.4h2M1052 287.4h12M1186 287.4h10M1200 287.4h2M1204 287.4h2M1228 287.4h2M260 315.6h4M266 315.6h2M276 315.6h2M284 315.6h4M296 315.6h2M308 315.6h6M316 315.6h8M328 315.6h2M364 315.6h2M368 315.6h2M384 315.6h4M472 315.6h2M478 315.6h4M486 315.6h2M490 315.6h4M500 315.6h4M506 315.6h2M510 315.6h8M522 315.6h10M536 315.6h14M552 315.6h2M556 315.6h4M570 315.6h8M592 315.6h6M600 315.6h2M614 315.6h4M622 315.6h4M628 315.6h4M634 315.6h2M638 315.6h2M644 315.6h2M678 315.6h6M912 315.6h2M924 315.6h2M932 315.6h2M958 315.6h2M972 315.6h4M982 315.6h4M990 315.6h4M1000 315.6h4M1006 315.6h2M1014 315.6h4M1024 315.6h2M1028 315.6h6M1040 315.6h4M1052 315.6h14M1184 315.6h2M1188 315.6h10M1200 315.6h2M1218 315.6h12M260 343.8h8M272 343.8h6M284 343.8h4M308 343.8h10M330 343.8h4M384 343.8h2M472 343.8h4M480 343.8h2M486 343.8h4M492 343.8h2M500 343.8h4M506 343.8h8M516 343.8h2M522 343.8h2M526 343.8h12M540 343.8h4M546 343.8h8M558 343.8h2M572 343.8h2M584 343.8h2M592 343.8h6M600 343.8h4M608 343.8h6M616 343.8h10M628 343.8h14M644 343.8h6M668 343.8h8M678 343.8h2M682 343.8h4M692 343.8h10M776 343.8h2M780 343.8h2M860 343.8h4M892 343.8h2M910 343.8h6M920 343.8h8M932 343.8h2M944 343.8h2M958 343.8h4M970 343.8h6M982 343.8h10M994 343.8h4M1000 343.8h6M1014 343.8h4M1032 343.8h2M1052 343.8h4M1064 343.8h6M1072 343.8h2M1176 343.8h2M1194 343.8h14M1218 343.8h12M1232 343.8h2M1248 343.8h2M1252 343.8h4"/><path stroke="#0c4e98" stroke-width="28.8" d="M1266 89.7h2M1270 89.7h6M1288 89.7h2M1312 89.7h4M1332 89.7h2M1366 89.7h2M1376 89.7h2M1380 89.7h2M1404 89.7h2M1436 89.7h6M1446 89.7h4M1456 89.7h4M1468 89.7h2M1474 89.7h2M1482 89.7h4M1490 89.7h2M1506 89.7h4M1512 89.7h4M1530 89.7h2M1534 89.7h4M1546 89.7h8M1608 89.7h2M1678 89.7h4M1686 89.7h2M1692 89.7h6M656 117.9h2M662 117.9h2M804 117.9h2M1260 117.9h4M1270 117.9h2M1274 117.9h4M1280 117.9h2M1284 117.9h2M1288 117.9h4M1294 117.9h2M1324 117.9h4M1338 117.9h2M1354 117.9h2M1432 117.9h2M1436 117.9h2M1446 117.9h4M1452 117.9h2M1456 117.9h4M1482 117.9h2M1486 117.9h2M1490 117.9h4M1496 117.9h2M1500 117.9h2M1506 117.9h2M1510 117.9h2M1514 117.9h2M1528 117.9h2M1534 117.9h4M1542 117.9h2M1548 117.9h4M1566 117.9h4M1588 117.9h2M1598 117.9h2M1682 117.9h2M1694 117.9h2M262 146.1h6M274 146.1h2M284 146.1h2M312 146.1h2M320 146.1h2M324 146.1h2M328 146.1h2M336 146.1h2M340 146.1h2M386 146.1h2M472 146.1h2M498 146.1h6M506 146.1h2M512 146.1h4M526 146.1h20M552 146.1h2M556 146.1h4M570 146.1h4M576 146.1h2M580 146.1h2M584 146.1h2M596 146.1h2M614 146.1h2M624 146.1h2M628 146.1h2M632 146.1h2M644 146.1h4M650 146.1h4M656 146.1h2M662 146.1h4M750 146.1h2M756 146.1h2M770 146.1h2M774 146.1h2M782 146.1h4M790 146.1h6M798 146.1h2M808 146.1h12M822 146.1h2M828 146.1h2M836 146.1h2M898 146.1h4M906 146.1h6M920 146.1h2M926 146.1h2M954 146.1h8M964 146.1h6M972 146.1h2M984 146.1h4M990 146.1h2M996 146.1h10M1064 146.1h8M1162 146.1h2M1166 146.1h2M1172 146.1h2M1176 146.1h4M1182 146.1h4M1204 146.1h4M1222 146.1h2M1256 146.1h2M1260 146.1h4M1268 146.1h4M1276 146.1h4M1284 146.1h2M1288 146.1h2M1344 146.1h2M1366 146.1h2M1404 146.1h2M1436 146.1h2M1446 146.1h4M1476 146.1h2M1482 146.1h2M1490 146.1h4M1502 146.1h2M1508 146.1h8M1528 146.1h2M1534 146.1h4M1542 146.1h2M1546 146.1h2M1550 146.1h2M1600 146.1h4M1680 146.1h2M1690 146.1h4M278 174.4h2M282 174.4h2M288 174.4h4M294 174.4h14M322 174.4h8M334 174.4h2M340 174.4h12M354 174.4h2M358 174.4h6M366 174.4h18M388 174.4h6M476 174.4h4M518 174.4h4M554 174.4h4M564 174.4h6M576 174.4h8M614 174.4h2M640 174.4h4M678 174.4h2M692 174.4h10M974 174.4h8M1004 174.4h2M1024 174.4h4M1034 174.4h6M1046 174.4h2M1050 174.4h2M1186 174.4h2M1256 174.4h2M1274 174.4h8M1366 174.4h2M1378 174.4h4M1402 174.4h2M1438 174.4h2M1456 174.4h2M1462 174.4h2M1486 174.4h4M1492 174.4h2M1498 174.4h2M1502 174.4h2M1506 174.4h4M1514 174.4h2M1530 174.4h6M1552 174.4h2M1598 174.4h6M1608 174.4h2M1630 174.4h2M1682 174.4h2M1688 174.4h4M1696 174.4h2M280 202.6h2M288 202.6h4M296 202.6h4M302 202.6h6M322 202.6h2M326 202.6h4M334 202.6h6M344 202.6h4M350 202.6h2M354 202.6h8M366 202.6h4M374 202.6h8M392 202.6h2M478 202.6h2M564 202.6h2M578 202.6h4M758 202.6h2M940 202.6h2M952 202.6h2M974 202.6h6M1024 202.6h2M1036 202.6h4M1046 202.6h6M1186 202.6h2M1258 202.6h6M1272 202.6h2M1276 202.6h2M1280 202.6h2M1284 202.6h2M1312 202.6h2M1338 202.6h2M1350 202.6h2M1354 202.6h2M1360 202.6h2M1368 202.6h2M1378 202.6h2M1402 202.6h2M1406 202.6h2M1422 202.6h2M1434 202.6h2M1440 202.6h2M1460 202.6h2M1468 202.6h2M1474 202.6h2M1478 202.6h2M1482 202.6h4M1494 202.6h2M1512 202.6h4M1528 202.6h6M1546 202.6h4M1552 202.6h2M1568 202.6h2M1598 202.6h2M1678 202.6h4M1690 202.6h6M280 230.9h2M290 230.9h2M294 230.9h10M328 230.9h2M336 230.9h4M344 230.9h6M352 230.9h12M374 230.9h8M390 230.9h2M564 230.9h4M940 230.9h2M952 230.9h2M978 230.9h2M1006 230.9h2M1024 230.9h2M1038 230.9h2M1048 230.9h4M1264 230.9h2M1272 230.9h2M1280 230.9h2M1284 230.9h6M1292 230.9h2M1314 230.9h2M1380 230.9h2M1402 230.9h4M1438 230.9h2M1442 230.9h2M1446 230.9h2M1456 230.9h4M1462 230.9h2M1472 230.9h6M1486 230.9h2M1492 230.9h2M1500 230.9h2M1506 230.9h4M1530 230.9h2M1542 230.9h2M1548 230.9h6M1558 230.9h2M1588 230.9h2M1600 230.9h4M1680 230.9h4M1690 230.9h4M1696 230.9h2M278 259.1h4M290 259.1h2M294 259.1h2M298 259.1h2M302 259.1h6M324 259.1h2M334 259.1h6M342 259.1h2M346 259.1h12M362 259.1h2M372 259.1h10M392 259.1h2M564 259.1h2M578 259.1h2M952 259.1h2M976 259.1h4M1046 259.1h4M1652 259.1h2M1660 259.1h2M1682 259.1h2M278 287.4h4M288 287.4h4M296 287.4h8M324 287.4h2M334 287.4h4M344 287.4h20M372 287.4h2M376 287.4h6M390 287.4h4M476 287.4h2M514 287.4h2M518 287.4h2M564 287.4h4M578 287.4h2M582 287.4h2M974 287.4h6M1018 287.4h2M1042 287.4h2M1046 287.4h6M274 315.6h2M278 315.6h2M282 315.6h2M288 315.6h2M294 315.6h2M298 315.6h10M324 315.6h4M334 315.6h2M340 315.6h8M350 315.6h2M354 315.6h10M366 315.6h2M370 315.6h6M378 315.6h6M388 315.6h6M474 315.6h4M488 315.6h2M518 315.6h4M554 315.6h2M564 315.6h6M578 315.6h6M612 315.6h2M626 315.6h2M640 315.6h4M976 315.6h6M1008 315.6h4M1018 315.6h6M1026 315.6h2M1034 315.6h6M1044 315.6h8M1186 315.6h2M282 343.8h2M300 343.8h2M304 343.8h4M318 343.8h6M326 343.8h4M334 343.8h2M342 343.8h2M348 343.8h4M360 343.8h16M380 343.8h4M386 343.8h4M392 343.8h2M476 343.8h4M490 343.8h2M514 343.8h2M518 343.8h4M524 343.8h2M538 343.8h2M544 343.8h2M554 343.8h4M568 343.8h4M574 343.8h4M580 343.8h4M614 343.8h2M626 343.8h2M642 343.8h2M680 343.8h2M976 343.8h2M980 343.8h2M992 343.8h2M1006 343.8h6M1020 343.8h12M1034 343.8h14M1050 343.8h2M1056 343.8h8M1184 343.8h10"/><path stroke="#10559e" stroke-width="28.8" d="M1260 89.7h4M1280 89.7h2M1402 89.7h2M1462 89.7h2M1478 89.7h2M1492 89.7h4M1510 89.7h2M1532 89.7h2M1542 89.7h2M1568 89.7h2M1578 89.7h2M1600 89.7h4M1630 89.7h2M1644 89.7h2M1668 89.7h2M1688 89.7h2M286 117.9h2M330 117.9h4M384 117.9h2M646 117.9h2M762 117.9h2M772 117.9h2M796 117.9h2M1264 117.9h2M1272 117.9h2M1368 117.9h2M1498 117.9h2M1512 117.9h2M1532 117.9h2M1558 117.9h2M1616 117.9h2M1686 117.9h4M1692 117.9h2M1696 117.9h2M260 146.1h2M272 146.1h2M276 146.1h4M298 146.1h4M304 146.1h2M308 146.1h4M322 146.1h2M326 146.1h2M330 146.1h2M342 146.1h2M346 146.1h2M362 146.1h4M370 146.1h2M382 146.1h2M488 146.1h2M508 146.1h2M522 146.1h4M546 146.1h6M574 146.1h2M586 146.1h8M618 146.1h4M626 146.1h2M630 146.1h2M634 146.1h4M648 146.1h2M666 146.1h2M742 146.1h8M752 146.1h2M776 146.1h2M780 146.1h2M786 146.1h4M820 146.1h2M826 146.1h2M830 146.1h2M834 146.1h2M840 146.1h2M872 146.1h2M876 146.1h12M892 146.1h4M902 146.1h4M912 146.1h2M922 146.1h2M928 146.1h6M938 146.1h2M962 146.1h2M970 146.1h2M982 146.1h2M988 146.1h2M1052 146.1h8M1062 146.1h2M1194 146.1h10M1274 146.1h2M1312 146.1h2M1354 146.1h2M1370 146.1h2M1380 146.1h2M1390 146.1h2M1406 146.1h2M1432 146.1h2M1442 146.1h2M1458 146.1h4M1474 146.1h2M1484 146.1h2M1494 146.1h2M1498 146.1h2M1532 146.1h2M1558 146.1h2M1568 146.1h2M1588 146.1h2M1668 146.1h2M1686 146.1h2M280 174.4h2M336 174.4h4M352 174.4h2M356 174.4h2M680 174.4h6M844 174.4h2M850 174.4h2M864 174.4h2M940 174.4h2M1006 174.4h2M1048 174.4h2M1258 174.4h2M1264 174.4h2M1270 174.4h2M1288 174.4h2M1314 174.4h2M1354 174.4h2M1368 174.4h2M1404 174.4h4M1434 174.4h2M1440 174.4h2M1478 174.4h2M1482 174.4h2M1494 174.4h2M1500 174.4h2M1510 174.4h2M1528 174.4h2M1548 174.4h4M1588 174.4h2M1636 174.4h2M1668 174.4h2M1678 174.4h2M1686 174.4h2M1692 174.4h2M352 202.6h2M1006 202.6h2M1022 202.6h2M1240 202.6h2M1246 202.6h2M1264 202.6h4M1288 202.6h2M1314 202.6h2M1318 202.6h2M1404 202.6h2M1432 202.6h2M1438 202.6h2M1446 202.6h2M1454 202.6h2M1458 202.6h2M1476 202.6h2M1486 202.6h2M1490 202.6h2M1506 202.6h2M1542 202.6h2M1560 202.6h2M1628 202.6h4M1644 202.6h2M1668 202.6h2M1686 202.6h4M1696 202.6h2M268 230.9h2M758 230.9h4M1008 230.9h2M1020 230.9h4M1240 230.9h2M1246 230.9h2M1256 230.9h2M1262 230.9h2M1266 230.9h4M1274 230.9h2M1278 230.9h2M1312 230.9h2M1366 230.9h2M1448 230.9h2M1460 230.9h2M1478 230.9h2M1482 230.9h2M1510 230.9h2M1556 230.9h2M1568 230.9h2M1598 230.9h2M1630 230.9h2M1662 230.9h2M1668 230.9h2M1678 230.9h2M1686 230.9h2M268 259.1h2M604 259.1h2M758 259.1h4M942 259.1h2M950 259.1h2M1662 259.1h2M1666 259.1h2M1678 259.1h2M1692 259.1h2M338 287.4h2M758 287.4h4M280 315.6h2M290 315.6h2M336 315.6h4M348 315.6h2M352 315.6h2M376 315.6h2M758 315.6h2M278 343.8h4M288 343.8h4M294 343.8h6M302 343.8h2M324 343.8h2M336 343.8h6M344 343.8h4M352 343.8h8M376 343.8h4M390 343.8h2M564 343.8h4M578 343.8h2M978 343.8h2M1018 343.8h2M1048 343.8h2"/><path stroke="#155da4" stroke-width="28.8" d="M1588 89.7h2M1618 89.7h2M1628 89.7h2M1646 89.7h2M1662 89.7h2M252 117.9h8M284 117.9h2M312 117.9h2M364 117.9h4M386 117.9h4M650 117.9h4M764 117.9h6M806 117.9h2M824 117.9h2M1278 117.9h2M1472 117.9h2M1478 117.9h2M1602 117.9h2M1618 117.9h2M1626 117.9h6M1644 117.9h2M1662 117.9h2M1666 117.9h6M1678 117.9h2M282 146.1h2M286 146.1h2M294 146.1h2M302 146.1h2M306 146.1h2M334 146.1h2M338 146.1h2M344 146.1h2M348 146.1h2M356 146.1h4M366 146.1h4M372 146.1h4M384 146.1h2M388 146.1h6M474 146.1h2M510 146.1h2M516 146.1h6M554 146.1h2M568 146.1h2M604 146.1h2M622 146.1h2M638 146.1h2M668 146.1h4M738 146.1h4M874 146.1h2M888 146.1h4M918 146.1h2M974 146.1h2M980 146.1h2M1072 146.1h2M1190 146.1h4M1472 146.1h2M1598 146.1h2M1616 146.1h2M1628 146.1h4M1638 146.1h2M1644 146.1h2M268 174.4h4M604 174.4h2M758 174.4h4M846 174.4h4M952 174.4h2M1022 174.4h2M1216 174.4h2M1222 174.4h4M1230 174.4h4M1236 174.4h2M1242 174.4h2M1252 174.4h4M1260 174.4h4M1284 174.4h2M1484 174.4h2M1616 174.4h4M1624 174.4h2M1628 174.4h2M1644 174.4h2M1660 174.4h2M268 202.6h4M604 202.6h2M686 202.6h4M760 202.6h2M1008 202.6h2M1020 202.6h2M1322 202.6h2M1616 202.6h2M1638 202.6h2M1660 202.6h4M1670 202.6h2M270 230.9h2M560 230.9h2M604 230.9h2M686 230.9h4M942 230.9h2M1014 230.9h2M1494 230.9h2M1616 230.9h4M1628 230.9h2M1632 230.9h2M1638 230.9h2M1644 230.9h2M1660 230.9h2M1670 230.9h2M1688 230.9h2M270 259.1h2M686 259.1h4M1266 259.1h2M1646 259.1h2M1696 259.1h2M268 287.4h4M604 287.4h2M686 287.4h4M1506 287.4h2M268 315.6h4M604 315.6h2M686 315.6h2M760 315.6h2M268 343.8h4M758 343.8h4"/><path stroke="#1964aa" stroke-width="28.8" d="M1616 89.7h2M1624 89.7h4M1632 89.7h2M1638 89.7h2M1642 89.7h2M1660 89.7h2M1670 89.7h2M264 117.9h2M274 117.9h4M294 117.9h2M308 117.9h2M314 117.9h4M334 117.9h2M374 117.9h2M382 117.9h2M390 117.9h4M492 117.9h2M606 117.9h2M666 117.9h2M754 117.9h2M836 117.9h2M1624 117.9h2M1632 117.9h2M1638 117.9h2M1660 117.9h2M290 146.1h2M350 146.1h2M354 146.1h2M376 146.1h2M380 146.1h2M564 146.1h2M674 146.1h4M690 146.1h2M732 146.1h2M736 146.1h2M758 146.1h2M842 146.1h2M866 146.1h2M870 146.1h2M896 146.1h2M924 146.1h2M978 146.1h2M1006 146.1h2M1026 146.1h2M1044 146.1h2M1186 146.1h4M1618 146.1h2M1624 146.1h4M1632 146.1h2M1652 146.1h2M1662 146.1h2M1666 146.1h2M1670 146.1h2M560 174.4h2M854 174.4h2M858 174.4h6M1020 174.4h2M1220 174.4h2M1226 174.4h4M1620 174.4h2M1626 174.4h2M1632 174.4h2M1638 174.4h2M1652 174.4h2M1662 174.4h2M1670 174.4h2M560 202.6h2M942 202.6h2M1618 202.6h2M1624 202.6h4M1632 202.6h2M562 230.9h2M1010 230.9h2M1016 230.9h4M1626 230.9h2M560 259.1h2M948 259.1h2M1286 259.1h2M1478 259.1h2M1506 259.1h2M1642 259.1h2M1664 259.1h2M1668 259.1h2M1688 259.1h4M1694 259.1h2M560 287.4h2M1644 287.4h2M560 315.6h2M688 315.6h2M604 343.8h2M686 343.8h4"/><path stroke="#2570b1" stroke-width="28.8" d="M1622 89.7h2M1636 89.7h2M1650 89.7h4M1664 89.7h4M266 117.9h2M272 117.9h2M290 117.9h2M304 117.9h4M318 117.9h6M342 117.9h2M362 117.9h2M368 117.9h6M376 117.9h2M480 117.9h2M490 117.9h2M494 117.9h2M600 117.9h2M668 117.9h2M690 117.9h2M698 117.9h2M770 117.9h2M798 117.9h6M818 117.9h2M822 117.9h2M832 117.9h2M954 117.9h2M992 117.9h4M1168 117.9h2M1174 117.9h2M1208 117.9h2M1636 117.9h2M1646 117.9h2M1650 117.9h4M1664 117.9h2M268 146.1h4M352 146.1h2M360 146.1h2M378 146.1h2M476 146.1h2M562 146.1h2M566 146.1h2M582 146.1h2M640 146.1h4M672 146.1h2M692 146.1h2M698 146.1h2M734 146.1h2M760 146.1h2M778 146.1h2M868 146.1h2M940 146.1h2M952 146.1h2M976 146.1h2M1048 146.1h4M1060 146.1h2M1636 146.1h2M1642 146.1h2M1650 146.1h2M1660 146.1h2M562 174.4h2M856 174.4h2M1642 174.4h2M1656 174.4h2M1672 174.4h2M562 202.6h2M1010 202.6h2M1014 202.6h2M1646 202.6h2M1652 202.6h2M1666 202.6h2M950 230.9h2M1624 230.9h2M1642 230.9h2M1664 230.9h4M562 259.1h2M1262 259.1h2M1276 259.1h2M1510 259.1h2M1542 259.1h2M1588 259.1h2M1600 259.1h2M562 287.4h2M1478 287.4h2M1488 287.4h2M1662 287.4h2M428 315.6h2M562 315.6h2M560 343.8h4"/><path stroke="#307bb7" stroke-width="28.8" d="M1620 89.7h2M1656 89.7h4M278 117.9h2M282 117.9h2M298 117.9h6M310 117.9h2M326 117.9h4M340 117.9h2M344 117.9h6M354 117.9h4M378 117.9h4M394 117.9h4M482 117.9h6M598 117.9h2M610 117.9h2M616 117.9h2M644 117.9h2M742 117.9h2M750 117.9h2M756 117.9h2M784 117.9h2M794 117.9h2M812 117.9h4M828 117.9h2M1642 117.9h2M1658 117.9h2M1676 117.9h2M280 146.1h2M288 146.1h2M560 146.1h2M578 146.1h2M684 146.1h2M696 146.1h2M1030 146.1h4M1042 146.1h2M1046 146.1h2M1224 146.1h2M1620 146.1h2M1646 146.1h2M1656 146.1h4M1664 146.1h2M1672 146.1h2M292 174.4h2M686 174.4h4M852 174.4h2M942 174.4h2M1008 174.4h2M1214 174.4h2M1622 174.4h2M1646 174.4h2M1650 174.4h2M1664 174.4h4M1676 174.4h2M292 202.6h2M428 202.6h2M1016 202.6h4M1620 202.6h4M1636 202.6h2M1642 202.6h2M1650 202.6h2M1656 202.6h2M1664 202.6h2M1672 202.6h2M292 230.9h2M944 230.9h2M1236 230.9h2M1620 230.9h2M1636 230.9h2M1646 230.9h2M1650 230.9h4M1658 230.9h2M1672 230.9h2M1676 230.9h2M292 259.1h2M944 259.1h2M1012 259.1h2M1234 259.1h4M1270 259.1h2M1288 259.1h2M1314 259.1h2M1354 259.1h2M1402 259.1h4M1448 259.1h2M1474 259.1h2M1480 259.1h4M1490 259.1h2M1498 259.1h2M1512 259.1h2M1548 259.1h2M1552 259.1h2M1568 259.1h2M1648 259.1h2M936 287.4h2M1012 287.4h2M1544 287.4h2M1666 287.4h2M1684 287.4h2"/><path stroke="#3b86bd" stroke-width="28.8" d="M312 89.7h2M1634 89.7h2M1648 89.7h2M1654 89.7h2M1672 89.7h2M1676 89.7h2M260 117.9h4M268 117.9h2M324 117.9h2M336 117.9h2M350 117.9h4M358 117.9h2M398 117.9h2M500 117.9h2M532 117.9h2M594 117.9h2M602 117.9h2M648 117.9h2M692 117.9h2M738 117.9h2M746 117.9h2M758 117.9h2M782 117.9h2M834 117.9h2M898 117.9h4M914 117.9h4M926 117.9h2M968 117.9h2M984 117.9h2M998 117.9h2M1164 117.9h2M1170 117.9h2M1180 117.9h2M1620 117.9h4M1634 117.9h2M1648 117.9h2M1654 117.9h4M1672 117.9h2M296 146.1h2M694 146.1h2M730 146.1h2M844 146.1h2M1008 146.1h2M1028 146.1h2M1040 146.1h2M1622 146.1h2M1634 146.1h2M1648 146.1h2M1654 146.1h2M1674 146.1h4M934 174.4h4M1010 174.4h2M1016 174.4h4M1634 174.4h2M1648 174.4h2M1658 174.4h2M398 202.6h2M432 202.6h2M934 202.6h4M950 202.6h2M1234 202.6h4M1250 202.6h2M1648 202.6h2M1658 202.6h2M1674 202.6h4M398 230.9h2M430 230.9h2M934 230.9h4M948 230.9h2M1234 230.9h2M1250 230.9h2M1622 230.9h2M1648 230.9h2M1656 230.9h2M398 259.1h2M934 259.1h4M946 259.1h2M1258 259.1h2M1284 259.1h2M1442 259.1h2M1456 259.1h2M1472 259.1h2M1494 259.1h2M1500 259.1h4M1558 259.1h2M292 287.4h2M934 287.4h2M1234 287.4h4M1286 287.4h2M1486 287.4h2M292 315.6h2M934 315.6h4M1012 315.6h2M1234 315.6h4M292 343.8h2M934 343.8h4M1012 343.8h2M1234 343.8h4"/><path stroke="#4b92c4" stroke-width="28.8" d="M1674 89.7h2M288 117.9h2M338 117.9h2M360 117.9h2M472 117.9h2M496 117.9h2M502 117.9h2M526 117.9h2M538 117.9h2M542 117.9h2M552 117.9h2M558 117.9h2M576 117.9h2M604 117.9h2M608 117.9h2M676 117.9h2M744 117.9h2M774 117.9h2M816 117.9h2M830 117.9h2M906 117.9h6M964 117.9h4M986 117.9h2M1204 117.9h2M1240 117.9h2M1640 117.9h2M292 146.1h2M394 146.1h2M700 146.1h2M724 146.1h2M846 146.1h2M934 146.1h4M950 146.1h2M1022 146.1h4M1036 146.1h2M1232 146.1h2M1236 146.1h2M1252 146.1h2M1640 146.1h2M950 174.4h2M1218 174.4h2M1234 174.4h2M1640 174.4h2M1654 174.4h2M948 202.6h2M1634 202.6h2M1640 202.6h2M1654 202.6h2M946 230.9h2M1634 230.9h2M1654 230.9h2M1674 230.9h2M430 259.1h2M1256 259.1h2M1260 259.1h2M1264 259.1h2M1268 259.1h2M1274 259.1h2M1278 259.1h2M1312 259.1h2M1336 259.1h2M1366 259.1h2M1380 259.1h2M1432 259.1h2M1440 259.1h2M1446 259.1h2M1484 259.1h2M1508 259.1h2M1534 259.1h4M1650 259.1h2M1654 259.1h4M1680 259.1h2M1686 259.1h2M430 287.4h2M1546 287.4h2M1660 287.4h2"/><path stroke="#5c9eca" stroke-width="28.8" d="M1640 89.7h2M270 117.9h2M280 117.9h2M512 117.9h4M528 117.9h2M632 117.9h2M670 117.9h2M696 117.9h2M732 117.9h2M748 117.9h2M786 117.9h2M820 117.9h2M840 117.9h4M872 117.9h2M876 117.9h2M880 117.9h4M960 117.9h2M990 117.9h2M996 117.9h2M1178 117.9h2M1182 117.9h2M1238 117.9h2M1674 117.9h2M398 146.1h2M680 146.1h4M702 146.1h6M728 146.1h2M862 146.1h2M1230 146.1h2M396 174.4h2M1014 174.4h2M1238 174.4h2M1674 174.4h2M838 202.6h2M1248 202.6h2M434 230.9h2M838 230.9h2M1248 230.9h2M1640 230.9h2M396 259.1h2M838 259.1h2M1272 259.1h2M1658 259.1h2M838 287.4h2M1432 287.4h2M1642 287.4h2M1664 287.4h2M428 343.8h2"/><path stroke="#6dabd0" stroke-width="28.8" d="M478 117.9h2M498 117.9h2M506 117.9h2M540 117.9h2M544 117.9h2M556 117.9h2M570 117.9h4M584 117.9h2M596 117.9h2M630 117.9h2M634 117.9h2M674 117.9h2M684 117.9h2M792 117.9h2M874 117.9h2M878 117.9h2M902 117.9h2M920 117.9h4M930 117.9h2M938 117.9h2M952 117.9h2M962 117.9h2M1162 117.9h2M1200 117.9h2M396 146.1h2M452 146.1h2M678 146.1h2M688 146.1h2M708 146.1h2M726 146.1h2M864 146.1h2M942 146.1h2M1018 146.1h2M1034 146.1h2M1038 146.1h2M1216 146.1h2M1254 146.1h2M394 174.4h2M398 174.4h2M434 174.4h2M838 174.4h2M1246 174.4h2M396 230.9h2M1012 230.9h2M1670 259.1h2M1370 287.4h2M1438 287.4h2M1446 287.4h2M1652 287.4h2M452 315.6h2M838 315.6h2M430 343.8h2M838 343.8h2"/><path stroke="#7eb6d6" stroke-width="28.8" d="M332 89.7h2M292 117.9h2M530 117.9h2M536 117.9h2M546 117.9h2M624 117.9h2M628 117.9h2M702 117.9h2M740 117.9h2M788 117.9h2M808 117.9h4M866 117.9h6M884 117.9h4M894 117.9h2M956 117.9h2M970 117.9h4M988 117.9h2M1172 117.9h2M1206 117.9h2M1236 117.9h2M428 146.1h2M686 146.1h2M712 146.1h2M720 146.1h2M854 146.1h2M860 146.1h2M1016 146.1h2M1242 146.1h2M944 174.4h2M948 174.4h2M1210 174.4h2M394 202.6h4M430 202.6h2M394 230.9h2M504 230.9h2M452 259.1h2M1640 259.1h2M426 287.4h2M1460 287.4h2M1584 287.4h2M1646 287.4h2M1694 287.4h2"/><path stroke="#8ec0db" stroke-width="28.8" d="M508 117.9h2M550 117.9h2M574 117.9h2M612 117.9h2M704 117.9h2M734 117.9h2M790 117.9h2M928 117.9h2M958 117.9h2M1002 117.9h2M1166 117.9h2M710 146.1h2M848 146.1h2M1020 146.1h2M1220 146.1h2M1226 146.1h2M432 174.4h2M504 174.4h2M1212 174.4h2M434 202.6h2M504 202.6h2M944 202.6h2M1012 202.6h2M428 259.1h2M504 259.1h2M1630 259.1h2M504 287.4h2M1610 287.4h2M1650 287.4h2M1680 287.4h2M1692 287.4h2M1698 287.4h2M434 315.6h2M504 315.6h2"/><path stroke="#9fcae1" stroke-width="28.8" d="M296 117.9h2M510 117.9h2M522 117.9h2M548 117.9h2M590 117.9h2M736 117.9h2M752 117.9h2M912 117.9h2M934 117.9h2M940 117.9h2M1000 117.9h2M1004 117.9h2M1068 117.9h2M1196 117.9h2M1202 117.9h2M1242 117.9h2M722 146.1h2M838 146.1h2M850 146.1h2M1010 146.1h2M1228 146.1h2M1240 174.4h2M946 202.6h2M394 259.1h2M1290 259.1h2M1486 259.1h2M1626 259.1h4M1676 259.1h2M452 287.4h2M1142 287.4h2M1264 287.4h2M1300 287.4h2M1354 287.4h2M1450 287.4h2M1490 287.4h2M1530 287.4h2M1648 287.4h2M1678 287.4h2M504 343.8h2"/><path stroke="#a8cfe4" stroke-width="28.8" d="M314 89.7h2M1576 89.7h2M534 117.9h2M614 117.9h2M686 117.9h2M694 117.9h2M780 117.9h2M826 117.9h2M892 117.9h2M904 117.9h2M936 117.9h2M1064 117.9h4M1070 117.9h2M1176 117.9h2M1198 117.9h2M504 146.1h2M852 146.1h2M1428 146.1h2M428 174.4h4M1418 174.4h2M452 202.6h2M1244 202.6h2M458 230.9h2M1244 230.9h2M1556 259.1h2M1616 259.1h2M1288 287.4h2M1306 287.4h2M1366 287.4h2M1472 287.4h2M1572 287.4h2M1586 287.4h2M1596 287.4h2M1658 287.4h2M1686 287.4h2M1690 287.4h2M430 315.6h2M434 343.8h2"/><path stroke="#b2d3e6" stroke-width="28.8" d="M770 89.7h2M580 117.9h2M586 117.9h2M700 117.9h2M706 117.9h2M1234 117.9h2M1370 117.9h2M1418 117.9h2M430 146.1h2M714 146.1h4M858 146.1h2M1014 146.1h2M1214 146.1h2M1246 146.1h2M1298 146.1h2M1012 174.4h2M1356 230.9h2M434 259.1h2M1550 259.1h2M1618 259.1h2M1632 259.1h2M1672 259.1h2M1318 287.4h2M1448 287.4h2M1476 287.4h2M1502 287.4h2M1558 287.4h2M1568 287.4h2M1576 287.4h2M1640 287.4h2M1656 287.4h2M1688 287.4h2M432 343.8h2"/><path stroke="#bbd8e9" stroke-width="28.8" d="M330 89.7h2M616 89.7h2M1418 89.7h2M562 117.9h2M636 117.9h2M672 117.9h2M724 117.9h2M730 117.9h2M760 117.9h2M776 117.9h2M932 117.9h2M982 117.9h2M1054 117.9h2M1194 117.9h2M1222 117.9h2M1230 117.9h4M1292 117.9h2M1298 117.9h2M1344 117.9h2M1428 117.9h2M466 146.1h2M718 146.1h2M856 146.1h2M1234 146.1h2M1240 146.1h2M1290 146.1h2M1584 146.1h2M1298 174.4h2M1320 174.4h2M1450 202.6h2M1606 230.9h2M432 259.1h2M1438 259.1h2M1462 259.1h2M1532 259.1h2M1606 259.1h2M454 287.4h2M1256 287.4h2M1270 287.4h2M1284 287.4h2M1298 287.4h2M1316 287.4h2M1334 287.4h2M1344 287.4h2M1348 287.4h2M1400 287.4h2M1458 287.4h2M1468 287.4h2M1484 287.4h2M1578 287.4h2M1588 287.4h2M1682 287.4h2"/><path stroke="#c4dcec" stroke-width="28.8" d="M272 89.7h4M284 89.7h2M1290 89.7h2M1428 89.7h2M1452 89.7h2M1522 89.7h2M688 117.9h2M890 117.9h2M950 117.9h2M1080 117.9h2M1184 117.9h2M1212 117.9h2M1224 117.9h2M1246 117.9h2M1320 117.9h2M1400 117.9h2M944 146.1h2M1156 146.1h2M1218 146.1h2M1238 146.1h2M444 174.4h2M452 174.4h2M946 174.4h2M1292 174.4h2M1334 174.4h2M1356 174.4h2M1408 174.4h2M1584 174.4h2M454 202.6h2M1080 202.6h2M1344 202.6h2M1584 202.6h2M1576 230.9h2M470 259.1h2M1514 259.1h2M1528 259.1h2M1546 259.1h2M1602 259.1h2M1624 259.1h2M1638 259.1h2M1290 287.4h2M1328 287.4h2M1342 287.4h2M1350 287.4h2M1380 287.4h2M1384 287.4h2M1444 287.4h2M1482 287.4h2M1510 287.4h2M1532 287.4h2M1542 287.4h2M1654 287.4h2M1668 287.4h2M1696 287.4h2M396 315.6h2M1112 315.6h2M1334 315.6h2"/><path stroke="#cde1ef" stroke-width="28.8" d="M316 89.7h2M1320 89.7h2M430 117.9h2M460 117.9h2M560 117.9h2M626 117.9h2M838 117.9h2M848 117.9h2M888 117.9h2M1026 117.9h2M1056 117.9h2M1150 117.9h2M1214 117.9h4M1250 117.9h2M1254 117.9h2M1576 117.9h2M948 146.1h2M1306 146.1h2M1346 146.1h6M1522 146.1h2M1118 202.6h2M1408 202.6h2M452 230.9h2M1142 230.9h2M1318 230.9h2M1418 230.9h2M1590 230.9h2M1102 259.1h2M1280 259.1h2M1292 259.1h2M1298 259.1h2M1428 259.1h2M1436 259.1h2M1488 259.1h2M1492 259.1h2M1584 259.1h2M1620 259.1h2M398 287.4h2M432 287.4h2M466 287.4h2M1278 287.4h2M1346 287.4h2M1356 287.4h2M1372 287.4h2M1386 287.4h2M1390 287.4h2M1426 287.4h6M1440 287.4h4M1466 287.4h2M1498 287.4h4M1552 287.4h2M1570 287.4h2M1580 287.4h2M1602 287.4h4M1616 287.4h2M1630 287.4h2M1276 315.6h2M1452 315.6h2M1508 315.6h2"/><path stroke="#d7e6f1" stroke-width="28.8" d="M256 89.7h2M276 89.7h2M318 89.7h4M558 89.7h2M576 89.7h2M1294 89.7h2M1408 89.7h2M1430 89.7h2M1450 89.7h2M1516 89.7h2M448 117.9h2M488 117.9h2M588 117.9h2M708 117.9h2M728 117.9h2M918 117.9h2M942 117.9h2M974 117.9h2M1192 117.9h2M1252 117.9h2M1318 117.9h2M1346 117.9h6M1408 117.9h2M1570 117.9h2M470 146.1h2M1250 146.1h2M1318 146.1h2M1334 146.1h2M1452 146.1h2M1504 146.1h2M470 174.4h2M1110 174.4h2M1250 174.4h2M1290 174.4h2M1452 174.4h2M1570 174.4h2M1576 174.4h2M410 202.6h2M1124 202.6h2M1328 202.6h2M1400 202.6h2M1428 202.6h2M1522 202.6h2M1574 202.6h2M428 230.9h2M448 230.9h2M1136 230.9h2M1152 230.9h2M408 259.1h2M444 259.1h2M1356 259.1h2M1368 259.1h2M1384 259.1h2M1408 259.1h2M1460 259.1h2M1476 259.1h2M1530 259.1h2M408 287.4h2M1144 287.4h2M1148 287.4h2M1272 287.4h6M1280 287.4h2M1314 287.4h2M1326 287.4h2M1358 287.4h2M1362 287.4h2M1368 287.4h2M1396 287.4h2M1406 287.4h4M1434 287.4h4M1504 287.4h2M1512 287.4h2M1516 287.4h2M1528 287.4h2M1556 287.4h2M1574 287.4h2M1628 287.4h2M394 315.6h2M424 315.6h2M468 315.6h2M1076 315.6h2M1278 315.6h2M1346 315.6h2M1404 315.6h2M1628 315.6h2M1668 315.6h2M1564 343.8h2"/><path stroke="#e0ecf4" stroke-width="28.8" d="M258 89.7h4M268 89.7h4M308 89.7h2M364 89.7h2M508 89.7h2M526 89.7h2M588 89.7h2M596 89.7h4M662 89.7h2M702 89.7h2M720 89.7h2M926 89.7h2M944 89.7h2M1240 89.7h2M1306 89.7h2M1356 89.7h2M1464 89.7h2M1574 89.7h2M1606 89.7h2M468 117.9h2M524 117.9h2M618 117.9h4M638 117.9h6M978 117.9h4M1006 117.9h2M1058 117.9h2M1082 117.9h2M1190 117.9h2M1210 117.9h2M1220 117.9h2M1334 117.9h2M1416 117.9h2M1422 117.9h2M1450 117.9h2M1504 117.9h2M1580 117.9h2M946 146.1h2M1144 146.1h2M1210 146.1h4M1248 146.1h2M1294 146.1h2M1392 146.1h2M1400 146.1h2M1578 146.1h2M450 174.4h2M1078 174.4h2M1148 174.4h2M1294 174.4h2M1348 174.4h2M1392 174.4h2M1522 174.4h2M1578 174.4h2M1606 174.4h2M1076 202.6h2M1082 202.6h2M1364 202.6h2M1370 202.6h2M1418 202.6h2M1570 202.6h2M460 230.9h2M1112 230.9h2M1144 230.9h2M1294 230.9h2M1316 230.9h2M1426 230.9h2M1452 230.9h2M1586 230.9h2M450 259.1h2M1080 259.1h4M1152 259.1h2M1386 259.1h2M1434 259.1h2M1450 259.1h2M1454 259.1h2M1458 259.1h2M1598 259.1h2M1674 259.1h2M394 287.4h2M460 287.4h2M1152 287.4h2M1268 287.4h2M1312 287.4h2M1376 287.4h2M1462 287.4h4M1508 287.4h2M1514 287.4h2M1522 287.4h2M1534 287.4h4M1670 287.4h2M1408 315.6h2M1516 315.6h2M1542 315.6h2M1588 315.6h2M1338 343.8h2"/><path stroke="#e8f0f5" stroke-width="28.8" d="M264 89.7h4M286 89.7h2M664 89.7h2M668 89.7h2M690 89.7h2M704 89.7h2M850 89.7h2M874 89.7h2M910 89.7h2M1348 89.7h4M1386 89.7h2M1392 89.7h2M1584 89.7h2M444 117.9h2M470 117.9h2M474 117.9h2M520 117.9h2M712 117.9h2M1052 117.9h2M1094 117.9h2M1116 117.9h2M1142 117.9h2M1244 117.9h2M1248 117.9h2M1372 117.9h2M1434 117.9h2M1584 117.9h2M406 146.1h2M410 146.1h2M1012 146.1h2M1090 146.1h2M1292 146.1h2M1320 146.1h2M1384 146.1h2M1396 146.1h2M1418 146.1h2M1444 146.1h2M1594 146.1h2M1608 146.1h2M1150 174.4h2M1396 174.4h2M1516 174.4h2M1596 174.4h2M448 202.6h2M470 202.6h2M1130 202.6h2M1144 202.6h2M1320 202.6h2M1348 202.6h2M1358 202.6h2M1396 202.6h2M1576 202.6h2M1596 202.6h2M450 230.9h2M468 230.9h2M1298 230.9h2M1334 230.9h2M1416 230.9h2M1434 230.9h2M1450 230.9h2M1578 230.9h4M1584 230.9h2M1074 259.1h2M1326 259.1h2M1344 259.1h2M1370 259.1h2M1378 259.1h2M1426 259.1h2M1452 259.1h2M1576 259.1h2M1604 259.1h2M396 287.4h2M400 287.4h2M414 287.4h2M1116 287.4h2M1392 287.4h2M1402 287.4h2M1410 287.4h2M1416 287.4h2M1422 287.4h2M1494 287.4h2M1550 287.4h2M1560 287.4h2M1590 287.4h2M1632 287.4h2M398 315.6h2M1156 315.6h2M1264 315.6h2M1292 315.6h2M1310 315.6h2M1330 315.6h2M1364 315.6h2M1378 315.6h2M1386 315.6h2M1564 315.6h2M1586 315.6h2M1600 315.6h2M1618 315.6h2M396 343.8h4M1076 343.8h2M1112 343.8h2M1154 343.8h4"/><path stroke="#eff3f6" stroke-width="28.8" d="M252 89.7h2M302 89.7h2M324 89.7h2M342 89.7h2M362 89.7h2M490 89.7h2M494 89.7h2M550 89.7h2M726 89.7h2M750 89.7h2M834 89.7h2M842 89.7h2M854 89.7h2M920 89.7h2M940 89.7h2M962 89.7h2M1238 89.7h2M1292 89.7h2M1298 89.7h2M1316 89.7h2M1396 89.7h2M1400 89.7h2M1434 89.7h2M450 117.9h2M564 117.9h2M680 117.9h2M844 117.9h2M854 117.9h2M896 117.9h2M1316 117.9h2M1430 117.9h2M1464 117.9h2M1480 117.9h2M1516 117.9h2M1572 117.9h2M438 146.1h2M446 146.1h2M1150 146.1h4M1326 146.1h2M1422 146.1h2M1430 146.1h2M1434 146.1h2M1516 146.1h2M1574 146.1h2M1606 146.1h2M406 174.4h2M1144 174.4h2M1248 174.4h2M1306 174.4h2M1318 174.4h2M1342 174.4h4M1350 174.4h2M1358 174.4h2M1372 174.4h2M1390 174.4h2M1400 174.4h2M1428 174.4h2M1580 174.4h2M1586 174.4h2M1604 174.4h2M438 202.6h2M1102 202.6h2M1152 202.6h2M1294 202.6h2M1306 202.6h2M1316 202.6h2M1326 202.6h2M1346 202.6h2M1356 202.6h2M1452 202.6h2M1610 202.6h2M440 230.9h2M446 230.9h2M466 230.9h2M1082 230.9h2M1092 230.9h2M1370 230.9h2M1384 230.9h2M1400 230.9h2M1408 230.9h2M1430 230.9h2M1464 230.9h2M1468 230.9h2M448 259.1h2M1090 259.1h2M1112 259.1h2M1118 259.1h2M1294 259.1h2M1320 259.1h2M1348 259.1h4M1358 259.1h2M1406 259.1h2M1416 259.1h2M1464 259.1h2M1516 259.1h2M1522 259.1h2M1586 259.1h2M450 287.4h2M1112 287.4h2M1122 287.4h2M1156 287.4h2M1260 287.4h2M1266 287.4h2M1364 287.4h2M1404 287.4h2M1454 287.4h2M1566 287.4h2M1638 287.4h2M450 315.6h2M1142 315.6h2M1284 315.6h2M1366 315.6h2M1460 315.6h2M1476 315.6h2M1502 315.6h2M1524 315.6h2M1558 315.6h2M394 343.8h2M1092 343.8h2M1118 343.8h2M1142 343.8h2M1150 343.8h2"/><path stroke="#f6f6f6" stroke-width="28.8" d="M254 89.7h2M294 89.7h2M346 89.7h2M366 89.7h2M370 89.7h2M374 89.7h2M510 89.7h2M552 89.7h2M608 89.7h2M632 89.7h2M710 89.7h2M772 89.7h2M876 89.7h2M966 89.7h2M1012 89.7h2M1170 89.7h2M1342 89.7h2M1364 89.7h2M1454 89.7h2M1480 89.7h2M1560 89.7h2M1570 89.7h2M434 117.9h2M554 117.9h2M568 117.9h2M678 117.9h2M722 117.9h2M726 117.9h2M778 117.9h2M924 117.9h2M1008 117.9h2M1044 117.9h2M1062 117.9h2M1090 117.9h2M1118 117.9h2M1186 117.9h4M1218 117.9h2M1226 117.9h4M1396 117.9h2M1426 117.9h2M1586 117.9h2M1596 117.9h2M1316 146.1h2M1356 146.1h2M1416 146.1h2M1570 146.1h2M1576 146.1h2M1596 146.1h2M438 174.4h2M448 174.4h2M460 174.4h2M1082 174.4h2M1094 174.4h2M1102 174.4h2M1142 174.4h2M1326 174.4h2M1370 174.4h2M1414 174.4h2M1450 174.4h2M1464 174.4h2M1610 174.4h2M408 202.6h2M466 202.6h2M1092 202.6h2M1110 202.6h2M1114 202.6h2M1290 202.6h4M1414 202.6h4M1430 202.6h2M1464 202.6h2M1504 202.6h2M1572 202.6h2M1580 202.6h2M1590 202.6h2M1604 202.6h6M424 230.9h2M1076 230.9h2M1300 230.9h2M1320 230.9h2M1328 230.9h2M1344 230.9h2M1348 230.9h4M1428 230.9h2M1454 230.9h2M1570 230.9h2M410 259.1h2M446 259.1h2M466 259.1h4M1094 259.1h2M1110 259.1h2M1116 259.1h2M1362 259.1h2M1372 259.1h2M1418 259.1h2M1422 259.1h2M1470 259.1h2M1504 259.1h2M1574 259.1h2M1622 259.1h2M1636 259.1h2M468 287.4h4M1080 287.4h2M1110 287.4h2M1140 287.4h2M1154 287.4h2M1258 287.4h2M1262 287.4h2M1320 287.4h2M1414 287.4h2M1452 287.4h2M1474 287.4h2M1548 287.4h2M1600 287.4h2M1606 287.4h2M1626 287.4h2M444 315.6h2M1074 315.6h2M1352 315.6h2M1356 315.6h4M1418 315.6h2M1430 315.6h2M1468 315.6h2M1490 315.6h2M1500 315.6h2M1512 315.6h2M1566 315.6h2M1592 315.6h2M408 343.8h2M424 343.8h2M438 343.8h2M466 343.8h4M1130 343.8h2"/><path stroke="#f7eeea" stroke-width="28.8" d="M282 89.7h2M300 89.7h2M386 89.7h2M496 89.7h6M536 89.7h4M584 89.7h2M590 89.7h2M594 89.7h2M742 89.7h2M768 89.7h2M858 89.7h2M878 89.7h2M900 89.7h2M954 89.7h2M992 89.7h2M998 89.7h4M1016 89.7h2M1054 89.7h2M1070 89.7h2M1174 89.7h2M1318 89.7h2M1384 89.7h2M1422 89.7h2M1426 89.7h2M1572 89.7h2M1586 89.7h2M466 117.9h2M504 117.9h2M518 117.9h2M592 117.9h2M682 117.9h2M944 117.9h2M976 117.9h2M1028 117.9h2M1072 117.9h2M1078 117.9h2M1152 117.9h2M1328 117.9h2M1392 117.9h2M1468 117.9h2M1606 117.9h2M1610 117.9h2M434 146.1h2M450 146.1h2M458 146.1h4M1088 146.1h2M1110 146.1h2M1142 146.1h2M1454 146.1h2M1572 146.1h2M408 174.4h2M424 174.4h2M446 174.4h2M468 174.4h2M1090 174.4h2M1300 174.4h2M1346 174.4h2M1416 174.4h2M1504 174.4h2M1572 174.4h2M400 202.6h2M446 202.6h2M468 202.6h2M1090 202.6h2M1142 202.6h2M1392 202.6h2M1426 202.6h2M1516 202.6h2M1586 202.6h2M408 230.9h4M438 230.9h2M470 230.9h2M1078 230.9h2M1094 230.9h2M1122 230.9h2M1326 230.9h2M1392 230.9h2M1414 230.9h2M1516 230.9h2M1544 230.9h2M1610 230.9h2M426 259.1h2M1122 259.1h2M1136 259.1h2M1140 259.1h2M1146 259.1h2M1300 259.1h2M1306 259.1h2M1390 259.1h4M1444 259.1h2M1594 259.1h4M1610 259.1h2M1634 259.1h2M436 287.4h2M1150 287.4h2M1292 287.4h4M1338 287.4h2M1378 287.4h2M1418 287.4h2M1470 287.4h2M1480 287.4h2M1594 287.4h2M1636 287.4h2M400 315.6h2M442 315.6h2M1144 315.6h2M1312 315.6h2M1326 315.6h2M1342 315.6h2M1368 315.6h2M1384 315.6h2M1462 315.6h2M1466 315.6h2M1480 315.6h2M1484 315.6h2M1510 315.6h2M1580 315.6h6M1594 315.6h2M1610 315.6h2M1680 315.6h2M406 343.8h2M440 343.8h2M446 343.8h2M470 343.8h2M1078 343.8h2M1114 343.8h2M1140 343.8h2M1152 343.8h2M1268 343.8h2M1402 343.8h2"/><path stroke="#f8e6de" stroke-width="28.8" d="M262 89.7h2M310 89.7h2M322 89.7h2M334 89.7h2M512 89.7h2M540 89.7h2M602 89.7h2M606 89.7h2M646 89.7h2M650 89.7h4M706 89.7h2M744 89.7h2M836 89.7h2M870 89.7h2M882 89.7h2M938 89.7h2M948 89.7h2M1236 89.7h2M1300 89.7h2M1326 89.7h2M1344 89.7h4M1358 89.7h2M1594 89.7h4M1604 89.7h2M408 117.9h2M476 117.9h2M622 117.9h2M710 117.9h2M1040 117.9h2M1074 117.9h2M1088 117.9h2M1112 117.9h2M1144 117.9h2M1300 117.9h2M1342 117.9h2M1356 117.9h4M1364 117.9h2M1384 117.9h2M1390 117.9h2M1410 117.9h2M1470 117.9h2M408 146.1h2M426 146.1h2M444 146.1h2M1080 146.1h2M1084 146.1h2M1112 146.1h2M1244 146.1h2M1300 146.1h2M1342 146.1h2M1362 146.1h2M1450 146.1h2M1464 146.1h2M1470 146.1h2M1560 146.1h2M1112 174.4h2M1410 174.4h2M1422 174.4h2M1426 174.4h2M1454 174.4h2M1544 174.4h2M406 202.6h2M1094 202.6h2M1112 202.6h2M1122 202.6h2M1150 202.6h2M1372 202.6h2M1544 202.6h2M1594 202.6h2M406 230.9h2M1110 230.9h2M1150 230.9h2M1372 230.9h2M1386 230.9h2M1522 230.9h2M1560 230.9h2M1078 259.1h2M1114 259.1h2M1144 259.1h2M1316 259.1h4M1346 259.1h2M1414 259.1h2M1468 259.1h2M1560 259.1h2M1578 259.1h4M1608 259.1h2M448 287.4h2M1090 287.4h2M1492 287.4h2M1598 287.4h2M1608 287.4h2M1618 287.4h2M1624 287.4h2M1094 315.6h2M1150 315.6h2M1154 315.6h2M1286 315.6h2M1296 315.6h4M1308 315.6h2M1372 315.6h2M1416 315.6h2M1442 315.6h2M1448 315.6h2M1454 315.6h6M1474 315.6h2M1522 315.6h2M1554 315.6h2M1616 315.6h2M448 343.8h4M1110 343.8h2M1260 343.8h2"/><path stroke="#faded2" stroke-width="28.8" d="M298 89.7h2M304 89.7h2M328 89.7h2M336 89.7h2M340 89.7h2M348 89.7h2M482 89.7h2M486 89.7h2M572 89.7h2M604 89.7h2M762 89.7h6M794 89.7h2M942 89.7h2M950 89.7h2M986 89.7h2M1168 89.7h2M1208 89.7h2M1328 89.7h2M1416 89.7h2M1504 89.7h2M1544 89.7h2M1590 89.7h2M406 117.9h2M452 117.9h2M516 117.9h2M566 117.9h2M718 117.9h2M850 117.9h2M1032 117.9h2M1444 117.9h2M1578 117.9h2M1604 117.9h2M1328 146.1h2M1586 146.1h2M1604 146.1h2M1610 146.1h2M1080 174.4h2M1092 174.4h2M1316 174.4h2M1328 174.4h2M1384 174.4h2M1590 174.4h2M1594 174.4h2M444 202.6h2M450 202.6h2M460 202.6h2M1074 202.6h2M1078 202.6h2M1156 202.6h2M464 230.9h2M1074 230.9h2M1080 230.9h2M1146 230.9h2M1396 230.9h2M1422 230.9h2M1504 230.9h2M1574 230.9h2M1594 230.9h4M1142 259.1h2M1334 259.1h2M1396 259.1h2M1400 259.1h2M1570 259.1h2M434 287.4h2M444 287.4h2M1456 287.4h2M1672 287.4h4M408 315.6h2M464 315.6h2M1082 315.6h2M1152 315.6h2M1328 315.6h2M1348 315.6h2M1400 315.6h2M1406 315.6h2M1604 315.6h2M1642 315.6h2M1682 315.6h2M1690 315.6h2M444 343.8h2M452 343.8h2M1090 343.8h2M1122 343.8h2M1290 343.8h2M1348 343.8h2M1400 343.8h2M1536 343.8h2"/><path stroke="#fbd6c5" stroke-width="28.8" d="M292 89.7h2M326 89.7h2M344 89.7h2M372 89.7h2M376 89.7h2M484 89.7h2M532 89.7h2M548 89.7h2M586 89.7h2M610 89.7h2M628 89.7h2M722 89.7h4M868 89.7h2M872 89.7h2M906 89.7h2M914 89.7h2M922 89.7h2M964 89.7h2M1032 89.7h2M1162 89.7h2M1362 89.7h2M1414 89.7h2M1610 89.7h2M410 117.9h2M446 117.9h2M716 117.9h2M720 117.9h2M846 117.9h2M852 117.9h2M1110 117.9h2M1122 117.9h2M1522 117.9h2M1560 117.9h2M448 146.1h2M454 146.1h2M468 146.1h2M1076 146.1h2M1092 146.1h2M1364 146.1h2M1372 146.1h2M1408 146.1h4M1468 146.1h2M414 174.4h2M1152 174.4h2M1430 174.4h2M1444 174.4h2M1560 174.4h2M1574 174.4h2M1100 202.6h2M1298 202.6h4M1334 202.6h2M1384 202.6h4M1390 202.6h2M432 230.9h2M444 230.9h2M1102 230.9h2M1158 230.9h2M1342 230.9h2M406 259.1h2M1076 259.1h2M1092 259.1h2M1150 259.1h2M1154 259.1h2M1328 259.1h2M1572 259.1h2M1590 259.1h2M446 287.4h2M1076 287.4h2M1082 287.4h2M1094 287.4h2M1324 287.4h2M1398 287.4h2M1420 287.4h2M1496 287.4h2M1620 287.4h2M406 315.6h2M448 315.6h2M466 315.6h2M470 315.6h2M1078 315.6h2M1110 315.6h2M1314 315.6h2M1362 315.6h2M1396 315.6h2M1492 315.6h2M1518 315.6h2M1630 315.6h2M1696 315.6h2M1074 343.8h2M1116 343.8h2M1144 343.8h2M1432 343.8h2"/><path stroke="#fbcdb8" stroke-width="28.8" d="M280 89.7h2M290 89.7h2M338 89.7h2M350 89.7h2M368 89.7h2M514 89.7h2M574 89.7h2M716 89.7h2M732 89.7h2M746 89.7h2M758 89.7h2M830 89.7h2M856 89.7h2M866 89.7h2M934 89.7h2M946 89.7h2M994 89.7h2M1242 89.7h2M1334 89.7h2M1372 89.7h2M1470 89.7h2M1582 89.7h2M458 117.9h2M1050 117.9h2M1386 117.9h2M1544 117.9h2M1074 146.1h2M1094 146.1h2M1122 146.1h2M1332 146.1h2M1580 146.1h2M466 174.4h2M1140 174.4h2M1364 174.4h2M1470 202.6h2M1480 202.6h2M1578 202.6h2M1346 230.9h2M1390 230.9h2M1444 230.9h2M1470 230.9h2M1604 230.9h2M454 259.1h2M1332 259.1h2M1342 259.1h2M1364 259.1h2M1376 259.1h2M1078 287.4h2M1676 287.4h2M416 315.6h2M432 315.6h2M1114 315.6h2M1332 315.6h2M1340 315.6h2M1504 315.6h2M1536 315.6h2M1544 315.6h2M1626 315.6h2M1644 315.6h2M1662 315.6h2M460 343.8h2M1080 343.8h2M1088 343.8h2M1276 343.8h2M1502 343.8h2"/><path stroke="#fac2aa" stroke-width="28.8" d="M378 89.7h2M492 89.7h2M530 89.7h2M542 89.7h4M654 89.7h4M660 89.7h2M712 89.7h2M718 89.7h2M728 89.7h4M748 89.7h2M782 89.7h4M832 89.7h2M840 89.7h2M988 89.7h2M1002 89.7h4M1056 89.7h2M1136 89.7h2M1160 89.7h2M1164 89.7h2M1180 89.7h2M454 117.9h2M582 117.9h2M714 117.9h2M1048 117.9h2M1060 117.9h2M1414 117.9h2M1574 117.9h2M1590 117.9h2M1608 117.9h2M1082 146.1h2M1386 146.1h2M1544 146.1h2M1074 174.4h2M1088 174.4h2M1386 174.4h2M1468 174.4h2M1480 174.4h2M1154 202.6h2M1154 230.9h2M1306 230.9h2M1332 230.9h2M1358 230.9h2M1364 230.9h2M1480 230.9h2M1160 259.1h2M1430 259.1h2M406 287.4h2M1088 287.4h2M1114 287.4h2M1330 287.4h2M1518 287.4h2M412 315.6h2M446 315.6h2M1080 315.6h2M1136 315.6h2M1258 315.6h2M1382 315.6h2M1496 315.6h2M1570 315.6h2M1666 315.6h2M1698 315.6h2M410 343.8h2M454 343.8h2M1474 343.8h2M1534 343.8h2"/><path stroke="#f8b79c" stroke-width="28.8" d="M278 89.7h2M306 89.7h2M354 89.7h8M480 89.7h2M506 89.7h2M546 89.7h2M570 89.7h2M630 89.7h2M658 89.7h2M708 89.7h2M734 89.7h2M838 89.7h2M886 89.7h2M968 89.7h2M1026 89.7h2M1068 89.7h2M1116 89.7h2M1130 89.7h2M1410 89.7h2M1444 89.7h2M858 117.9h2M862 117.9h2M1030 117.9h2M1084 117.9h2M1092 117.9h2M1362 117.9h2M412 146.1h2M440 146.1h2M400 174.4h2M1362 174.4h2M412 202.6h2M1096 202.6h2M1160 202.6h2M1362 202.6h2M1420 202.6h2M1090 230.9h2M1148 230.9h2M1608 230.9h2M412 259.1h2M1496 259.1h2M1296 287.4h2M1388 287.4h2M1524 287.4h2M1538 287.4h2M1622 287.4h2M438 315.6h2M460 315.6h2M1122 315.6h2M1320 315.6h2M1632 315.6h2M1652 315.6h2M1684 315.6h2M1694 315.6h2M1082 343.8h2M1158 343.8h2M1274 343.8h2M1278 343.8h2M1404 343.8h2"/><path stroke="#f7ad8e" stroke-width="28.8" d="M288 89.7h2M600 89.7h2M936 89.7h2M970 89.7h2M1014 89.7h2M1078 89.7h4M1102 89.7h2M1142 89.7h2M1390 89.7h2M1420 89.7h2M578 117.9h2M864 117.9h2M1102 117.9h2M1140 117.9h2M1148 117.9h2M1594 117.9h2M432 146.1h2M436 146.1h2M1106 146.1h2M1376 146.1h2M436 174.4h2M1104 174.4h2M1376 174.4h2M1564 174.4h2M1410 202.6h2M1116 230.9h2M1156 230.9h2M438 259.1h2M1398 259.1h2M1420 259.1h2M1130 287.4h2M1308 287.4h2M1336 287.4h2M1564 287.4h2M1582 287.4h2M1612 287.4h2M1634 287.4h2M1390 315.6h2M1488 315.6h2M1578 315.6h2M1638 315.6h2M1646 315.6h2M1650 315.6h2M416 343.8h2M464 343.8h2M1094 343.8h2"/><path stroke="#f4a282" stroke-width="28.8" d="M644 89.7h2M648 89.7h2M754 89.7h2M898 89.7h2M916 89.7h2M930 89.7h2M1066 89.7h2M1076 89.7h2M1110 89.7h2M1178 89.7h2M1592 89.7h2M1016 117.9h2M1042 117.9h2M1078 146.1h2M458 174.4h2M1130 174.4h2M1154 174.4h2M1160 174.4h2M1244 174.4h2M1282 174.4h2M1420 174.4h2M1466 174.4h2M1470 174.4h2M1282 202.6h2M412 230.9h2M426 230.9h2M1088 230.9h2M1410 230.9h2M436 259.1h2M1410 259.1h2M1304 287.4h2M1360 287.4h2M1382 287.4h2M1424 287.4h2M414 315.6h2M1090 315.6h2M1146 315.6h2M1306 315.6h2M1344 315.6h2M1380 315.6h2M1654 315.6h2M1660 315.6h2M1664 315.6h2M1678 315.6h2M1688 315.6h2M1692 315.6h2M1462 343.8h2M1546 343.8h2"/><path stroke="#f29776" stroke-width="28.8" d="M698 89.7h2M908 89.7h2M912 89.7h2M956 89.7h4M984 89.7h2M1008 89.7h2M1074 89.7h2M1098 89.7h2M1112 89.7h2M1122 89.7h4M1140 89.7h2M1156 89.7h2M1234 89.7h2M1466 89.7h2M414 117.9h2M432 117.9h2M948 117.9h2M1036 117.9h2M1046 117.9h2M1138 117.9h2M1160 117.9h2M1332 117.9h2M1466 117.9h2M1564 117.9h2M1420 146.1h2M1496 146.1h2M1592 146.1h2M464 174.4h2M1136 174.4h2M1332 174.4h2M1424 174.4h2M1496 174.4h2M1582 174.4h2M1140 202.6h2M1540 202.6h2M1130 230.9h2M1582 230.9h2M1096 259.1h2M410 287.4h2M1118 287.4h2M1282 287.4h2M1302 287.4h2M1394 287.4h2M1412 287.4h2M1520 287.4h2M1554 287.4h2M1092 315.6h2M1140 315.6h2M1262 315.6h2M1294 315.6h2M1426 315.6h2M1438 315.6h2M1624 315.6h2M442 343.8h2M1442 343.8h4"/><path stroke="#f08c69" stroke-width="28.8" d="M296 89.7h2M384 89.7h2M388 89.7h2M408 89.7h2M478 89.7h2M522 89.7h2M774 89.7h2M884 89.7h2M952 89.7h2M960 89.7h2M990 89.7h2M1166 89.7h2M1182 89.7h2M1232 89.7h2M436 117.9h2M464 117.9h2M946 117.9h2M1022 117.9h4M1376 117.9h2M1424 117.9h2M424 146.1h2M1096 146.1h2M1114 146.1h2M1388 146.1h2M1424 146.1h2M1466 146.1h2M1480 146.1h2M456 174.4h2M1084 174.4h2M1122 174.4h2M1330 174.4h2M1398 174.4h2M1592 174.4h2M414 202.6h2M426 202.6h2M1088 202.6h2M1148 202.6h2M1332 202.6h2M1376 202.6h2M1466 202.6h2M1496 202.6h2M1564 202.6h2M454 230.9h2M1124 230.9h2M1420 230.9h2M1540 230.9h2M1424 259.1h2M1544 259.1h2M1582 259.1h2M440 287.4h2M1332 287.4h2M1340 287.4h2M1540 287.4h2M1132 315.6h2M1270 315.6h2M1388 315.6h2M1436 315.6h2M1530 315.6h4M1576 315.6h2M1670 315.6h2M412 343.8h2"/><path stroke="#e97d5d" stroke-width="28.8" d="M352 89.7h2M382 89.7h2M392 89.7h2M460 89.7h2M470 89.7h2M666 89.7h2M674 89.7h2M686 89.7h2M738 89.7h2M756 89.7h2M802 89.7h2M814 89.7h2M824 89.7h2M844 89.7h2M1092 89.7h2M1154 89.7h2M1172 89.7h2M1222 89.7h2M1230 89.7h2M1424 89.7h2M1496 89.7h2M438 117.9h2M442 117.9h2M1014 117.9h2M1018 117.9h2M1124 117.9h2M1420 117.9h2M1520 117.9h2M1540 117.9h2M1124 146.1h2M1138 146.1h2M1148 146.1h2M1330 146.1h2M1382 146.1h2M1582 146.1h2M422 174.4h2M1146 174.4h2M1156 174.4h2M1612 174.4h4M422 202.6h4M1342 202.6h2M1592 202.6h2M1612 202.6h2M456 230.9h2M1466 230.9h2M1496 230.9h2M1564 230.9h2M1108 259.1h2M1520 259.1h2M1592 259.1h2M464 287.4h2M1092 287.4h2M1096 287.4h2M1160 287.4h2M1592 287.4h2M454 315.6h2M1118 315.6h2M1272 315.6h2M1280 315.6h2M1444 315.6h4M1478 315.6h2M1534 315.6h2M1596 315.6h2M1614 315.6h2M1686 315.6h2M426 343.8h2M1440 343.8h2M1682 343.8h2"/><path stroke="#e16e51" stroke-width="28.8" d="M390 89.7h2M446 89.7h2M560 89.7h2M736 89.7h2M804 89.7h2M880 89.7h2M928 89.7h2M1040 89.7h2M1094 89.7h4M1150 89.7h2M1204 89.7h2M1224 89.7h2M1246 89.7h2M1564 89.7h2M418 117.9h2M860 117.9h2M1012 117.9h2M1282 117.9h2M1582 117.9h2M416 146.1h2M1146 146.1h2M1520 146.1h2M1614 146.1h2M416 174.4h2M1116 174.4h4M1124 174.4h2M1382 174.4h2M1566 174.4h2M1160 230.9h2M1398 230.9h2M1538 230.9h2M1566 230.9h2M456 259.1h2M1330 259.1h2M1466 259.1h2M1566 259.1h2M1310 287.4h2M1526 287.4h2M1562 287.4h2M410 315.6h2M1086 315.6h2M1116 315.6h2M1256 315.6h2M1288 315.6h2M1304 315.6h2M1394 315.6h2M1410 315.6h2M1414 315.6h2M1434 315.6h2M1526 315.6h2M1550 315.6h2M1658 315.6h2M400 343.8h2M456 343.8h2M1084 343.8h2M1160 343.8h2M1666 343.8h2"/><path stroke="#d95e44" stroke-width="28.8" d="M406 89.7h2M502 89.7h2M684 89.7h2M692 89.7h2M740 89.7h2M788 89.7h2M852 89.7h2M904 89.7h2M1006 89.7h2M1118 89.7h2M1212 89.7h2M1250 89.7h2M1254 89.7h2M1336 89.7h2M1398 89.7h2M1520 89.7h2M1540 89.7h2M1566 89.7h2M856 117.9h2M1382 117.9h2M1398 117.9h2M1612 117.9h2M414 146.1h2M1130 146.1h2M1136 146.1h2M412 174.4h2M1076 174.4h2M1538 174.4h2M458 202.6h2M1424 202.6h2M1554 202.6h2M1614 202.6h2M1282 230.9h2M1336 230.9h2M1554 230.9h2M1592 230.9h2M424 259.1h2M458 259.1h2M1124 259.1h2M1130 259.1h2M1156 259.1h2M1540 259.1h2M428 287.4h2M1098 287.4h2M1374 287.4h2M436 315.6h2M456 315.6h2M1124 315.6h2M1290 315.6h2M1370 315.6h2M1374 315.6h2M1398 315.6h2M1420 315.6h4M1450 315.6h2M1470 315.6h4M1520 315.6h2M1552 315.6h2M1598 315.6h2M1602 315.6h2M1636 315.6h2M1640 315.6h2M1678 343.8h4"/><path stroke="#d2513b" stroke-width="28.8" d="M414 89.7h2M528 89.7h2M634 89.7h2M796 89.7h2M1082 89.7h2M1120 89.7h2M1144 89.7h2M1200 89.7h2M1206 89.7h2M1214 89.7h4M1282 89.7h2M1612 89.7h2M1010 117.9h2M1038 117.9h2M1104 117.9h2M1562 117.9h2M1154 146.1h2M1336 146.1h2M1398 146.1h2M1566 146.1h2M402 174.4h2M426 174.4h2M454 174.4h2M1520 174.4h2M1540 174.4h2M404 202.6h2M1146 202.6h2M1398 202.6h2M1520 202.6h2M1566 202.6h2M414 230.9h2M422 230.9h2M1114 230.9h2M1140 230.9h2M1330 230.9h2M464 259.1h2M1382 259.1h2M1564 259.1h2M1322 287.4h2M1614 287.4h2M426 315.6h2M1102 315.6h2M1266 315.6h4M1274 315.6h2M1282 315.6h2M1316 315.6h2M1338 315.6h2M1350 315.6h2M1376 315.6h2M1528 315.6h2M1548 315.6h2M1620 315.6h2M1648 315.6h2M458 343.8h2M1086 343.8h2M1108 343.8h2M1264 343.8h2M1644 343.8h2M1652 343.8h2"/><path stroke="#ca4432" stroke-width="28.8" d="M436 89.7h2M464 89.7h2M534 89.7h2M618 89.7h2M676 89.7h2M714 89.7h2M798 89.7h2M822 89.7h2M902 89.7h2M996 89.7h2M1028 89.7h4M1064 89.7h2M1114 89.7h2M1152 89.7h2M1202 89.7h2M1252 89.7h2M1382 89.7h2M1154 117.9h2M1554 117.9h2M1592 117.9h2M1614 117.9h2M400 146.1h2M1134 146.1h2M1160 146.1h2M1412 146.1h2M1540 146.1h2M1612 146.1h2M1098 174.4h2M1336 174.4h2M1524 174.4h2M442 202.6h2M1136 202.6h2M1382 202.6h2M1538 202.6h2M1582 202.6h2M1118 230.9h2M1382 230.9h2M1614 230.9h2M1088 259.1h2M1308 259.1h2M1524 259.1h2M1612 259.1h2M404 287.4h2M412 287.4h2M1074 287.4h2M1102 287.4h2M1134 287.4h2M1146 287.4h2M1300 315.6h2M1324 315.6h2M1412 315.6h2M1440 315.6h2M1506 315.6h2M1608 315.6h2M1656 315.6h2M1124 343.8h2M1418 343.8h2M1628 343.8h2M1656 343.8h2M1662 343.8h2"/><path stroke="#c23829" stroke-width="28.8" d="M410 89.7h2M430 89.7h2M434 89.7h2M504 89.7h2M626 89.7h2M800 89.7h2M848 89.7h2M1044 89.7h2M1090 89.7h2M1176 89.7h2M1308 89.7h2M1524 89.7h4M1538 89.7h2M1554 89.7h2M1034 117.9h2M1136 117.9h2M1100 146.1h2M1108 146.1h2M1118 146.1h2M1282 146.1h2M1338 146.1h2M1538 146.1h2M1564 146.1h2M462 174.4h2M436 202.6h2M1128 202.6h2M1132 202.6h2M1098 230.9h2M1132 230.9h2M1138 230.9h2M1424 230.9h2M402 259.1h2M418 259.1h2M1338 259.1h2M1526 259.1h2M1614 259.1h2M424 287.4h2M1106 287.4h2M1352 287.4h2M440 315.6h2M1088 315.6h2M1138 315.6h2M1158 315.6h2M1318 315.6h2M1360 315.6h2M1482 315.6h2M1568 315.6h2M1606 315.6h2M1612 315.6h2M1480 343.8h4M1638 343.8h2"/><path stroke="#bb2b20" stroke-width="28.8" d="M418 89.7h2M444 89.7h2M636 89.7h2M786 89.7h2M894 89.7h2M1072 89.7h2M1104 89.7h2M1198 89.7h2M1210 89.7h2M1330 89.7h2M1340 89.7h2M400 117.9h2M1130 117.9h2M1146 117.9h2M1330 117.9h2M1132 146.1h2M1304 146.1h2M1106 174.4h4M1138 174.4h2M1554 174.4h2M1562 202.6h2M404 230.9h2M416 230.9h2M1134 230.9h2M1304 230.9h2M1518 230.9h2M1526 230.9h2M1562 230.9h2M1612 230.9h2M400 259.1h2M414 259.1h2M460 259.1h2M1106 259.1h2M1138 259.1h2M1282 259.1h2M438 287.4h2M458 315.6h2M1486 315.6h2M1538 315.6h2M1590 315.6h2M418 343.8h2M1138 343.8h2M1370 343.8h2M1396 343.8h2M1490 343.8h2M1510 343.8h2M1558 343.8h2M1650 343.8h2M1664 343.8h2"/><path stroke="#b5221b" stroke-width="28.8" d="M468 89.7h2M472 89.7h2M476 89.7h2M580 89.7h4M620 89.7h2M680 89.7h2M924 89.7h2M976 89.7h2M1052 89.7h2M1100 89.7h2M1196 89.7h2M1220 89.7h2M1244 89.7h2M1324 89.7h2M1614 89.7h2M422 117.9h2M1020 117.9h2M1132 117.9h2M1308 117.9h2M1518 117.9h2M1524 117.9h4M402 146.1h4M456 146.1h2M1140 146.1h2M1518 146.1h2M1526 146.1h2M1100 174.4h2M1304 174.4h2M1308 174.4h2M1562 174.4h2M1308 202.6h2M1336 202.6h2M1352 202.6h2M1524 202.6h2M402 230.9h2M1128 230.9h2M420 259.1h2M1084 259.1h4M1100 259.1h2M1412 259.1h2M1100 287.4h2M1124 287.4h2M1158 287.4h2M1106 315.6h4M1260 315.6h2M1392 315.6h2M1424 315.6h2M1546 315.6h2M462 343.8h2M1146 343.8h2M1412 343.8h2M1496 343.8h2M1508 343.8h2M1616 343.8h2"/><path stroke="#ae1918" stroke-width="28.8" d="M432 89.7h2M556 89.7h2M566 89.7h2M1024 89.7h2M1038 89.7h2M1088 89.7h2M1108 89.7h2M1128 89.7h2M1146 89.7h2M1248 89.7h2M1388 89.7h2M1412 89.7h2M412 117.9h2M426 117.9h2M1304 117.9h2M1336 117.9h2M1538 117.9h2M442 146.1h2M1102 146.1h2M1524 146.1h2M440 174.4h2M1322 174.4h2M1526 174.4h2M402 202.6h2M420 202.6h2M456 202.6h2M1304 202.6h2M1518 202.6h2M1338 230.9h4M1524 230.9h2M462 259.1h2M1120 259.1h2M1128 259.1h2M1158 259.1h2M1554 259.1h2M418 287.4h4M456 287.4h4M1120 287.4h2M1126 287.4h2M422 315.6h2M1098 315.6h2M1120 315.6h2M1322 315.6h2M1464 315.6h2M1494 315.6h2M1560 315.6h2M1676 315.6h2M1106 343.8h2M1294 343.8h2M1308 343.8h2M1314 343.8h2M1358 343.8h2M1428 343.8h2M1472 343.8h2M1504 343.8h2M1626 343.8h2M1630 343.8h2M1642 343.8h2"/><path stroke="#a81114" stroke-width="28.8" d="M578 89.7h2M638 89.7h2M792 89.7h2M818 89.7h2M888 89.7h4M1106 89.7h2M1126 89.7h2M1076 117.9h2M1156 117.9h2M418 146.1h2M1158 146.1h2M1340 146.1h2M1554 146.1h2M1086 174.4h2M1126 174.4h4M1134 174.4h2M440 202.6h2M1098 202.6h2M1116 202.6h2M1138 202.6h2M1374 202.6h2M1412 202.6h2M1104 230.9h2M1108 230.9h2M1324 230.9h2M1098 259.1h2M1126 259.1h2M1132 259.1h2M1304 259.1h2M1128 287.4h2M1100 315.6h2M1130 315.6h2M1562 315.6h2M1572 315.6h2M1672 315.6h4M420 343.8h2M436 343.8h2M1096 343.8h6M1336 343.8h2M1342 343.8h2M1378 343.8h2M1398 343.8h2M1446 343.8h2M1450 343.8h2M1494 343.8h2M1524 343.8h2M1556 343.8h2M1618 343.8h2M1636 343.8h2M1646 343.8h2M1660 343.8h2M1668 343.8h2"/><path stroke="#a20810" stroke-width="28.8" d="M442 89.7h2M450 89.7h6M462 89.7h2M554 89.7h2M568 89.7h2M780 89.7h2M828 89.7h2M918 89.7h2M972 89.7h2M1058 89.7h2M1338 89.7h2M1394 89.7h2M402 117.9h2M1128 117.9h2M1134 117.9h2M1086 146.1h2M1120 146.1h2M1374 146.1h2M1562 146.1h2M1412 174.4h2M1108 202.6h2M1340 202.6h2M420 230.9h2M436 230.9h2M462 230.9h2M1084 230.9h4M1388 230.9h2M1562 259.1h2M442 287.4h2M1086 287.4h2M1132 287.4h2M404 315.6h2M1128 315.6h2M1302 315.6h2M1354 315.6h2M1428 315.6h2M1498 315.6h2M1514 315.6h2M1540 315.6h2M1556 315.6h2M1574 315.6h2M1622 315.6h2M1634 315.6h2M1102 343.8h4M1356 343.8h2M1426 343.8h2M1438 343.8h2M1506 343.8h2M1522 343.8h2M1526 343.8h4M1544 343.8h2M1566 343.8h2M1624 343.8h2M1632 343.8h2"/><path stroke="#97040e" stroke-width="28.8" d="M380 89.7h2M402 89.7h2M438 89.7h2M474 89.7h2M518 89.7h2M564 89.7h2M592 89.7h2M622 89.7h2M640 89.7h2M688 89.7h2M776 89.7h2M812 89.7h2M864 89.7h2M896 89.7h2M1048 89.7h2M1062 89.7h2M1138 89.7h2M1302 89.7h2M1310 89.7h2M1562 89.7h2M428 117.9h2M1086 117.9h2M1098 117.9h2M1120 117.9h2M1296 146.1h2M1324 146.1h2M404 174.4h2M1120 174.4h2M1132 174.4h2M1324 174.4h2M416 202.6h2M1126 202.6h2M1158 202.6h2M1302 202.6h2M1388 202.6h2M1394 202.6h2M1106 230.9h2M1296 230.9h2M1352 230.9h2M416 259.1h2M1340 259.1h2M1136 287.4h2M462 315.6h2M1402 315.6h2M1256 343.8h2M1266 343.8h2M1298 343.8h2M1322 343.8h2M1330 343.8h2M1362 343.8h2M1374 343.8h2M1386 343.8h2M1390 343.8h2M1466 343.8h2M1540 343.8h2M1560 343.8h2M1568 343.8h2M1572 343.8h2M1590 343.8h2M1594 343.8h2M1598 343.8h2"/><path stroke="#89020c" stroke-width="28.8" d="M394 89.7h2M400 89.7h2M404 89.7h2M412 89.7h2M420 89.7h6M440 89.7h2M466 89.7h2M516 89.7h2M562 89.7h2M614 89.7h2M624 89.7h2M642 89.7h2M672 89.7h2M678 89.7h2M932 89.7h2M974 89.7h2M978 89.7h2M1050 89.7h2M1148 89.7h2M1194 89.7h2M1226 89.7h2M1322 89.7h2M424 117.9h2M456 117.9h2M1096 117.9h2M1108 117.9h2M1114 117.9h2M1310 117.9h2M422 146.1h2M1104 146.1h2M1308 146.1h2M442 174.4h2M1310 174.4h2M1338 174.4h4M1374 174.4h2M1388 174.4h2M1518 174.4h2M1084 202.6h2M1106 202.6h2M1310 202.6h2M400 230.9h2M1096 230.9h2M1120 230.9h2M1412 230.9h2M1302 259.1h2M1374 259.1h2M1084 287.4h2M402 315.6h2M1126 315.6h2M1336 315.6h2M1126 343.8h2M1292 343.8h2M1306 343.8h2M1326 343.8h4M1332 343.8h2M1392 343.8h2M1420 343.8h2M1430 343.8h2M1452 343.8h2M1460 343.8h2M1468 343.8h2M1478 343.8h2M1484 343.8h2M1488 343.8h2M1492 343.8h2M1532 343.8h2M1570 343.8h2M1574 343.8h2M1578 343.8h2M1586 343.8h2M1592 343.8h2M1610 343.8h2M1614 343.8h2M1670 343.8h2"/><path stroke="#7b000a" stroke-width="28.8" d="M448 89.7h2M682 89.7h2M696 89.7h2M760 89.7h2M778 89.7h2M860 89.7h2M1034 89.7h2M1042 89.7h2M1046 89.7h2M1060 89.7h2M1086 89.7h2M1184 89.7h2M1218 89.7h2M1228 89.7h2M1304 89.7h2M1518 89.7h2M1158 117.9h2M1374 117.9h2M1388 117.9h2M420 146.1h2M1126 146.1h4M410 174.4h2M1352 174.4h2M1394 174.4h2M1104 202.6h2M1324 202.6h2M418 230.9h2M1100 230.9h2M1374 230.9h2M442 259.1h2M1310 259.1h2M1388 259.1h2M1518 259.1h2M1538 259.1h2M416 287.4h2M1104 287.4h2M1108 287.4h2M1138 287.4h2M1084 315.6h2M1148 315.6h2M1432 315.6h2M422 343.8h2M1120 343.8h2M1128 343.8h2M1134 343.8h4M1148 343.8h2M1258 343.8h2M1280 343.8h2M1302 343.8h2M1312 343.8h2M1318 343.8h4M1352 343.8h4M1364 343.8h2M1384 343.8h2M1434 343.8h2M1470 343.8h2M1476 343.8h2M1500 343.8h2M1554 343.8h2M1582 343.8h4M1606 343.8h2"/><path stroke="#6a0009" stroke-width="28.8" d="M396 89.7h2M428 89.7h2M488 89.7h2M520 89.7h2M752 89.7h2M816 89.7h2M980 89.7h2M1084 89.7h2M1132 89.7h2M1190 89.7h4M1352 89.7h2M1374 89.7h2M416 117.9h2M420 117.9h2M440 117.9h2M1106 117.9h2M1126 117.9h2M1296 117.9h2M1302 117.9h2M1340 117.9h2M1098 146.1h2M1116 146.1h2M1158 174.4h2M1360 174.4h2M418 202.6h2M462 202.6h2M1120 202.6h2M1322 230.9h2M1104 259.1h2M1134 259.1h2M1324 259.1h2M1096 315.6h2M402 343.8h4M1272 343.8h2M1282 343.8h2M1286 343.8h2M1310 343.8h2M1316 343.8h2M1372 343.8h2M1388 343.8h2M1410 343.8h2M1414 343.8h4M1424 343.8h2M1436 343.8h2M1454 343.8h4M1514 343.8h2M1520 343.8h2M1538 343.8h2M1542 343.8h2M1548 343.8h2M1562 343.8h2M1580 343.8h2M1588 343.8h2M1596 343.8h2M1608 343.8h2M1612 343.8h2M1672 343.8h2M1676 343.8h2"/><path stroke="#580007" stroke-width="28.8" d="M456 89.7h4M524 89.7h2M612 89.7h2M694 89.7h2M806 89.7h2M820 89.7h2M846 89.7h2M862 89.7h2M1360 89.7h2M462 117.9h2M464 146.1h2M1322 146.1h2M1360 146.1h2M1096 174.4h2M1296 202.6h2M1302 230.9h2M1310 230.9h2M1148 259.1h2M1296 259.1h2M1322 259.1h2M420 315.6h2M1262 343.8h2M1288 343.8h2M1296 343.8h2M1300 343.8h2M1304 343.8h2M1340 343.8h2M1346 343.8h2M1360 343.8h2M1368 343.8h2M1376 343.8h2M1382 343.8h2M1458 343.8h2M1464 343.8h2M1602 343.8h4M1684 343.8h16"/><path stroke="#460005" stroke-width="28.8" d="M398 89.7h2M416 89.7h2M426 89.7h2M670 89.7h2M700 89.7h2M790 89.7h2M808 89.7h4M826 89.7h2M892 89.7h2M982 89.7h2M1010 89.7h2M1018 89.7h6M1036 89.7h2M1134 89.7h2M1158 89.7h2M1186 89.7h4M1296 89.7h2M404 117.9h2M1100 117.9h2M1322 117.9h2M1352 117.9h2M1360 117.9h2M1394 117.9h2M1412 117.9h2M462 146.1h2M1302 146.1h2M1310 146.1h2M1352 146.1h2M1394 146.1h2M418 174.4h4M1114 174.4h2M1296 174.4h2M1302 174.4h2M464 202.6h2M1086 202.6h2M1134 202.6h2M442 230.9h2M1126 230.9h2M1360 230.9h2M1394 230.9h2M404 259.1h2M422 259.1h2M440 259.1h2M1352 259.1h2M1360 259.1h2M1394 259.1h2M402 287.4h2M422 287.4h2M462 287.4h2M418 315.6h2M1104 315.6h2M1134 315.6h2M1160 315.6h2M414 343.8h2M1132 343.8h2M1270 343.8h2M1284 343.8h2M1324 343.8h2M1334 343.8h2M1344 343.8h2M1350 343.8h2M1366 343.8h2M1380 343.8h2M1394 343.8h2M1406 343.8h4M1422 343.8h2M1448 343.8h2M1486 343.8h2M1498 343.8h2M1512 343.8h2M1516 343.8h4M1530 343.8h2M1550 343.8h4M1576 343.8h2M1600 343.8h2M1620 343.8h4M1634 343.8h2M1640 343.8h2M1648 343.8h2M1654 343.8h2M1658 343.8h2M1674 343.8h2"/></g>
<g clip-path="url(#clipB)">
<g stroke="#000" stroke-width="2.8" stroke-linecap="round" fill="none"><use href="#t5" transform="matrix(-1 -1.4 0 8 258.4 502.3)"/><use href="#t7" transform="matrix(1 .87 0 8 258.4 502.3)"/><use href="#t3" transform="matrix(1 .95 0 -8 264.4 507.5)"/><use href="#t6" transform="matrix(1 -1.5 0 -8 270.4 513.2)"/><use href="#t1" transform="matrix(-1 .82 0 -8 282.4 499.3)"/><use href="#t0" transform="matrix(1 1.39 0 8 282.4 499.3)"/><use href="#t4" transform="matrix(-1 .06 0 -8 294.4 507.3)"/><use href="#t4" transform="matrix(-1 .8 0 -8 300.4 502.5)"/><use href="#t2" transform="matrix(1 .75 0 8 300.4 502.5)"/><use href="#t0" transform="matrix(-1 -.82 0 -8 312.4 511.9)"/><use href="#t4" transform="matrix(1 1.12 0 -8 312.4 511.9)"/><use href="#t1" transform="matrix(-1 .43 0 -8 324.4 516)"/><use href="#t6" transform="matrix(1 -2.43 0 8 324.4 516)"/><use href="#t1" transform="matrix(-1 -.69 0 8 336.4 505.6)"/><use href="#t1" transform="matrix(-1 -.68 0 8 342.4 509.7)"/><use href="#t3" transform="matrix(1 3.46 0 -8 342.4 509.7)"/><use href="#t4" transform="matrix(1 .67 0 8 348.4 530.4)"/><use href="#t7" transform="matrix(-1 2.36 0 8 360.4 520.3)"/><use href="#t6" transform="matrix(1 -2.55 0 8 360.4 520.3)"/><use href="#t0" transform="matrix(-1 .12 0 8 372.4 504.2)"/><use href="#t6" transform="matrix(-1 -.12 0 8 378.4 505)"/><use href="#t2" transform="matrix(1 .77 0 8 378.4 505)"/><use href="#t5" transform="matrix(1 1.35 0 8 384.4 509.6)"/><use href="#t1" transform="matrix(-1 -2.62 0 8 396.4 533.4)"/><use href="#t2" transform="matrix(1 -3.03 0 -8 396.4 533.4)"/><use href="#t5" transform="matrix(-1 2.27 0 -13 408.4 501.6)"/><use href="#t6" transform="matrix(1 -.41 0 -13 408.4 501.6)"/><use href="#t1" transform="matrix(-1 -.87 0 13 420.4 504.3)"/><use href="#t3" transform="matrix(1 .53 0 13 420.4 504.3)"/><use href="#t1" transform="matrix(-1 -.57 0 13 432.4 510.9)"/><use href="#t0" transform="matrix(1 -.46 0 -13 432.4 510.9)"/><use href="#t2" transform="matrix(-1 .67 0 -13 444.4 504.2)"/><use href="#t5" transform="matrix(1 -.94 0 13 444.4 504.2)"/><use href="#t3" transform="matrix(1 .75 0 -13 450.4 498.5)"/><use href="#t0" transform="matrix(1 -.21 0 -13 456.4 503)"/><use href="#t1" transform="matrix(-1 -.89 0 -13 468.4 507.2)"/><use href="#t6" transform="matrix(-1 -1.62 0 13 474.4 516.9)"/><use href="#t5" transform="matrix(-1 -2.16 0 7.5 480.4 529.8)"/><use href="#t1" transform="matrix(1 2.02 0 7.5 480.4 529.8)"/><use href="#t1" transform="matrix(1 .57 0 -7.5 486.4 542)"/><use href="#t4" transform="matrix(-1 .42 0 7.5 498.4 542.8)"/><use href="#t4" transform="matrix(-1 .53 0 -7.5 504.4 539.7)"/><use href="#t0" transform="matrix(1 1.11 0 -7.5 504.4 539.7)"/><use href="#t2" transform="matrix(-1 -.7 0 -7.5 516.4 550.5)"/><use href="#t0" transform="matrix(1 2.32 0 -7.5 516.4 550.5)"/><use href="#t2" transform="matrix(1 .7 0 -7.5 522.4 564.5)"/><use href="#t5" transform="matrix(-1 -.22 0 7.5 534.4 570)"/><use href="#t2" transform="matrix(-1 .87 0 7.5 540.4 564.8)"/><use href="#t0" transform="matrix(1 -1.79 0 7.5 540.4 564.8)"/><use href="#t2" transform="matrix(-1 .68 0 7.5 552.4 550)"/><use href="#t0" transform="matrix(1 1.49 0 7.5 552.4 550)"/><use href="#t4" transform="matrix(1 2.24 0 7.5 558.4 558.9)"/><use href="#t5" transform="matrix(1 -1.92 0 -7.5 564.4 572.3)"/><use href="#t1" transform="matrix(-1 1.36 0 7.5 576.4 552.7)"/><use href="#t1" transform="matrix(1 .29 0 -7.5 576.4 552.7)"/><use href="#t6" transform="matrix(1 .72 0 7.5 582.4 554.4)"/><use href="#t0" transform="matrix(1 2.76 0 7.5 588.4 558.8)"/><use href="#t6" transform="matrix(1 1.03 0 -7.5 594.4 575.3)"/><use href="#t2" transform="matrix(1 .35 0 -7.5 600.4 581.5)"/><use href="#t0" transform="matrix(-1 .33 0 -7.5 612.4 581.6)"/><use href="#t2" transform="matrix(-1 .08 0 -7.5 618.4 581.1)"/><use href="#t5" transform="matrix(-1 -1.26 0 7.5 624.4 588.7)"/><use href="#t3" transform="matrix(1 1.68 0 -7.5 624.4 588.7)"/><use href="#t2" transform="matrix(-1 -1.72 0 7.5 636.4 609.1)"/><use href="#t3" transform="matrix(1 -2.88 0 7.5 636.4 609.1)"/><use href="#t7" transform="matrix(1 1.25 0 7.5 642.4 591.8)"/><use href="#t1" transform="matrix(-1 -4.05 0 7.5 654.4 623.6)"/><use href="#t0" transform="matrix(1 -.51 0 -7.5 654.4 623.6)"/><use href="#t4" transform="matrix(1 -2.12 0 -7.5 660.4 620.5)"/><use href="#t6" transform="matrix(1 -.58 0 -7.5 666.4 607.8)"/><use href="#t6" transform="matrix(1 -.48 0 7.5 672.4 604.3)"/><use href="#t0" transform="matrix(-1 1.19 0 7.5 684.4 594.3)"/><use href="#t0" transform="matrix(1 -1.08 0 -7.5 684.4 594.3)"/><use href="#t4" transform="matrix(-1 1.37 0 7.5 696.4 579.7)"/><use href="#t3" transform="matrix(-1 1.8 0 7.5 702.4 568.8)"/><use href="#t4" transform="matrix(1 -1.44 0 -7.5 702.4 568.8)"/><use href="#t1" transform="matrix(-1 -.09 0 -7.5 714.4 560.7)"/><use href="#t7" transform="matrix(-1 -.22 0 7.5 720.4 562)"/><use href="#t2" transform="matrix(-1 .06 0 7.5 726.4 561.7)"/><use href="#t6" transform="matrix(-1 -.59 0 -7.5 732.4 565.2)"/><use href="#t5" transform="matrix(1 3.36 0 7.5 732.4 565.2)"/><use href="#t7" transform="matrix(-1 -2.07 0 7.5 744.4 597.8)"/><use href="#t6" transform="matrix(-1 .11 0 7.5 750.4 597.1)"/><use href="#t3" transform="matrix(-1 1.37 0 7.5 756.4 588.8)"/><use href="#t1" transform="matrix(1 -.66 0 7.5 756.4 588.8)"/><use href="#t4" transform="matrix(1 5.22 0 7.5 762.4 584.9)"/><use href="#t1" transform="matrix(-1 -1.84 0 -7.5 774.4 627.3)"/><use href="#t6" transform="matrix(1 -1.28 0 -7.5 774.4 627.3)"/><use href="#t6" transform="matrix(1 -.62 0 -7.5 780.4 619.6)"/><use href="#t0" transform="matrix(-1 .74 0 -7.5 792.4 611.5)"/><use href="#t0" transform="matrix(-1 .36 0 -7.5 798.4 609.3)"/><use href="#t1" transform="matrix(-1 1.33 0 7.5 804.4 601.3)"/><use href="#t5" transform="matrix(1 .39 0 -7.5 804.4 601.3)"/><use href="#t3" transform="matrix(-1 -1.04 0 -7.5 816.4 609.9)"/><use href="#t6" transform="matrix(1 1.65 0 -7.5 816.4 609.9)"/><use href="#t1" transform="matrix(1 -.58 0 7.5 822.4 619.8)"/><use href="#t6" transform="matrix(-1 3.09 0 7.5 834.4 597.8)"/><use href="#t3" transform="matrix(-1 -.98 0 -7.5 840.4 603.7)"/><use href="#t0" transform="matrix(1 .69 0 7.5 840.4 603.7)"/><use href="#t0" transform="matrix(1 1.13 0 -7.5 846.4 607.8)"/><use href="#t4" transform="matrix(-1 -.62 0 7.5 858.4 618.3)"/><use href="#t1" transform="matrix(1 1.17 0 7.5 858.4 618.3)"/><use href="#t3" transform="matrix(-1 2.32 0 -7.5 870.4 611.4)"/><use href="#t1" transform="matrix(1 -.92 0 7.5 870.4 611.4)"/><use href="#t2" transform="matrix(1 .84 0 -7.5 876.4 605.9)"/><use href="#t0" transform="matrix(-1 0 0 7.5 888.4 610.9)"/><use href="#t1" transform="matrix(1 -.29 0 -7.5 888.4 610.9)"/><use href="#t6" transform="matrix(1 -.89 0 -7.5 894.4 609.2)"/><use href="#t0" transform="matrix(-1 -.67 0 7.5 906.4 607.9)"/><use href="#t5" transform="matrix(1 1.41 0 7.5 906.4 607.9)"/><use href="#t3" transform="matrix(-1 -.59 0 7.5 918.4 619.8)"/><use href="#t5" transform="matrix(-1 -.42 0 7.5 924.4 622.4)"/><use href="#t1" transform="matrix(1 .34 0 7.5 924.4 622.4)"/><use href="#t4" transform="matrix(1 .4 0 7.5 930.4 624.4)"/><use href="#t7" transform="matrix(1 -.3 0 7.5 936.4 626.8)"/><use href="#t2" transform="matrix(1 -.07 0 7.5 942.4 625)"/><use href="#t1" transform="matrix(1 .7 0 7.5 948.4 624.6)"/><use href="#t0" transform="matrix(1 .4 0 7.5 954.4 628.8)"/><use href="#t5" transform="matrix(-1 -.02 0 -7.5 966.4 631.3)"/><use href="#t6" transform="matrix(1 .38 0 -7.5 966.4 631.3)"/><use href="#t4" transform="matrix(1 .17 0 7.5 972.4 633.5)"/><use href="#t7" transform="matrix(1 -1.18 0 -7.5 978.4 634.6)"/><use href="#t1" transform="matrix(-1 .84 0 -7.5 990.4 622.5)"/><use href="#t4" transform="matrix(-1 .55 0 7.5 996.4 619.2)"/><use href="#t7" transform="matrix(-1 .52 0 7.5 1002.4 616)"/><use href="#t6" transform="matrix(-1 -.36 0 7.5 1008.4 618.2)"/><use href="#t5" transform="matrix(-1 -.1 0 -7.5 1014.4 618.8)"/><use href="#t5" transform="matrix(-1 .25 0 7.5 1020.4 617.3)"/><use href="#t5" transform="matrix(-1 -.74 0 -7.5 1026.4 621.8)"/><use href="#t4" transform="matrix(-1 -1.43 0 -7.5 1032.4 630.3)"/><use href="#t1" transform="matrix(1 2.22 0 7.5 1032.4 630.3)"/><use href="#t6" transform="matrix(-1 -2.11 0 -7.5 1044.4 656.3)"/><use href="#t5" transform="matrix(1 -.16 0 7.5 1044.4 656.3)"/><use href="#t0" transform="matrix(1 -1.08 0 7.5 1050.4 655.3)"/><use href="#t6" transform="matrix(1 -1.25 0 7.5 1056.4 648.9)"/><use href="#t6" transform="matrix(1 -.51 0 7.5 1062.4 641.3)"/><use href="#t2" transform="matrix(-1 -.86 0 -7.5 1074.4 643.4)"/><use href="#t2" transform="matrix(-1 .49 0 -11 1080.4 640.5)"/><use href="#t4" transform="matrix(1 -.69 0 11 1080.4 640.5)"/><use href="#t5" transform="matrix(-1 1.17 0 -11 1092.4 629.3)"/><use href="#t6" transform="matrix(-1 .85 0 11 1098.4 624.2)"/><use href="#t4" transform="matrix(1 -.95 0 -11 1098.4 624.2)"/><use href="#t3" transform="matrix(-1 -2.32 0 -11 1110.4 632.4)"/><use href="#t1" transform="matrix(-1 -1.91 0 -11 1116.4 643.9)"/><use href="#t5" transform="matrix(1 2.33 0 11 1116.4 643.9)"/><use href="#t4" transform="matrix(-1 1.56 0 -11 1128.4 648.5)"/><use href="#t5" transform="matrix(-1 .94 0 -11 1134.4 642.9)"/><use href="#t3" transform="matrix(-1 -2.77 0 11 1140.4 659.5)"/><use href="#t1" transform="matrix(-1 -.86 0 11 1146.4 664.7)"/><use href="#t7" transform="matrix(-1 -.03 0 11 1152.4 664.8)"/><use href="#t0" transform="matrix(-1 .75 0 11 1158.4 660.3)"/><use href="#t7" transform="matrix(-1 .37 0 -11 1164.4 658.1)"/><use href="#t1" transform="matrix(1 2.36 0 5.5 1164.4 658.1)"/><use href="#t5" transform="matrix(1 1.42 0 -5.5 1170.4 672.3)"/><use href="#t7" transform="matrix(1 .51 0 -5.5 1176.4 680.8)"/><use href="#t4" transform="matrix(1 -1.01 0 -5.5 1182.4 683.9)"/><use href="#t5" transform="matrix(1 -1.28 0 5.5 1188.4 677.8)"/><use href="#t1" transform="matrix(-1 -.96 0 5.5 1200.4 675.9)"/><use href="#t7" transform="matrix(1 1.53 0 5.5 1200.4 675.9)"/><use href="#t7" transform="matrix(-1 .04 0 5.5 1212.4 684.8)"/><use href="#t7" transform="matrix(-1 .93 0 7 1218.4 679.2)"/><use href="#t4" transform="matrix(-1 -.15 0 -7 1224.4 680.1)"/><use href="#t3" transform="matrix(1 -.07 0 -7 1224.4 680.1)"/><use href="#t4" transform="matrix(1 .6 0 7 1230.4 679.7)"/><use href="#t4" transform="matrix(1 -1.82 0 7 1236.4 683.4)"/><use href="#t0" transform="matrix(1 .34 0 7 1242.4 672.4)"/><use href="#t1" transform="matrix(-1 -1.05 0 7 1254.4 680.8)"/><use href="#t5" transform="matrix(-1 2.88 0 -7 1260.4 663.5)"/><use href="#t3" transform="matrix(1 -1.63 0 -7 1260.4 663.5)"/><use href="#t5" transform="matrix(-1 -.15 0 -7 1272.4 654.6)"/><use href="#t0" transform="matrix(-1 -1.79 0 -7 1278.4 665.3)"/><use href="#t7" transform="matrix(-1 -1.56 0 -7 1284.4 674.7)"/><use href="#t6" transform="matrix(1 -.8 0 7 1284.4 674.7)"/><use href="#t7" transform="matrix(-1 -.14 0 7 1296.4 670.7)"/><use href="#t2" transform="matrix(-1 -2.25 0 -7 1302.4 684.2)"/><use href="#t5" transform="matrix(1 2.16 0 7 1302.4 684.2)"/><use href="#t5" transform="matrix(1 -2.81 0 7 1308.4 697.1)"/><use href="#t6" transform="matrix(-1 2.61 0 -7 1320.4 664.6)"/><use href="#t7" transform="matrix(-1 .6 0 7 1326.4 661)"/><use href="#t7" transform="matrix(-1 -.82 0 -7 1332.4 665.9)"/><use href="#t2" transform="matrix(-1 -1.01 0 -6.5 1338.4 672)"/><use href="#t0" transform="matrix(-1 .38 0 6.5 1344.4 669.7)"/><use href="#t3" transform="matrix(-1 -1.82 0 -6.5 1350.4 680.6)"/><use href="#t2" transform="matrix(-1 -1.99 0 6.5 1356.4 692.6)"/><use href="#t4" transform="matrix(-1 -1.37 0 -6.5 1362.4 700.8)"/><use href="#t5" transform="matrix(-1 .14 0 6.5 1368.4 699.9)"/><use href="#t4" transform="matrix(-1 2.61 0 -6.5 1374.4 684.3)"/><use href="#t4" transform="matrix(-1 .26 0 6.5 1380.4 682.8)"/><use href="#t3" transform="matrix(-1 -1.63 0 -6.5 1386.4 692.6)"/><use href="#t6" transform="matrix(-1 -2.5 0 6.5 1392.4 707.6)"/><use href="#t4" transform="matrix(1 .37 0 6.5 1392.4 707.6)"/><use href="#t1" transform="matrix(1 -.26 0 -6.5 1398.4 709.8)"/><use href="#t3" transform="matrix(1 -3.69 0 6.5 1404.4 708.2)"/><use href="#t1" transform="matrix(1 .81 0 6.5 1410.4 686.1)"/><use href="#t2" transform="matrix(1 1.43 0 6.5 1416.4 691)"/><use href="#t4" transform="matrix(1 .18 0 6.5 1422.4 699.6)"/><use href="#t6" transform="matrix(1 -1.65 0 6.5 1428.4 700.7)"/><use href="#t0" transform="matrix(1 -.34 0 6.5 1434.4 690.8)"/><use href="#t4" transform="matrix(-1 -.54 0 -6.5 1446.4 692)"/><use href="#t6" transform="matrix(-1 -.09 0 -6.5 1452.4 692.5)"/><use href="#t5" transform="matrix(1 .58 0 6.5 1452.4 692.5)"/><use href="#t0" transform="matrix(-1 -1.13 0 -6.5 1464.4 702.8)"/><use href="#t2" transform="matrix(1 .75 0 -6.5 1464.4 702.8)"/><use href="#t6" transform="matrix(-1 -.38 0 -6.5 1476.4 709.6)"/><use href="#t6" transform="matrix(1 .68 0 6.5 1476.4 709.6)"/><use href="#t5" transform="matrix(-1 -.82 0 -6.5 1488.4 718.6)"/><use href="#t4" transform="matrix(1 1.21 0 6.5 1488.4 718.6)"/><use href="#t4" transform="matrix(-1 -.84 0 6.5 1500.4 730.9)"/><use href="#t2" transform="matrix(1 .18 0 -6.5 1500.4 730.9)"/><use href="#t0" transform="matrix(1 -1.5 0 6.5 1506.4 732)"/><use href="#t1" transform="matrix(-1 .83 0 6.5 1518.4 718)"/><use href="#t0" transform="matrix(1 .3 0 6.5 1518.4 718)"/><use href="#t4" transform="matrix(1 .4 0 -6.5 1524.4 719.8)"/><use href="#t1" transform="matrix(-1 -.2 0 -6.5 1536.4 723.4)"/><use href="#t1" transform="matrix(1 -.75 0 6.5 1536.4 723.4)"/><use href="#t2" transform="matrix(-1 .41 0 6.5 1548.4 716.4)"/><use href="#t2" transform="matrix(-1 -.34 0 6.5 1554.4 718.4)"/><use href="#t0" transform="matrix(1 .02 0 -6.5 1554.4 718.4)"/><use href="#t4" transform="matrix(1 .32 0 -6.5 1560.4 718.5)"/><use href="#t0" transform="matrix(1 -.45 0 -6.5 1566.4 720.5)"/><use href="#t3" transform="matrix(1 -.09 0 -6.5 1572.4 717.8)"/><use href="#t2" transform="matrix(1 -.52 0 6.5 1578.4 717.3)"/><use href="#t0" transform="matrix(1 .63 0 6.5 1584.4 714.2)"/><use href="#t4" transform="matrix(-1 -.08 0 6.5 1596.4 718.5)"/><use href="#t7" transform="matrix(-1 -.7 0 -6.5 1602.4 722.7)"/><use href="#t1" transform="matrix(-1 .66 0 -6.5 1608.4 718.7)"/><use href="#t4" transform="matrix(-1 .77 0 -6.5 1614.4 714.1)"/><use href="#t3" transform="matrix(1 .26 0 -5.5 1614.4 714.1)"/><use href="#t0" transform="matrix(1 .25 0 -5.5 1620.4 715.6)"/><use href="#t5" transform="matrix(-1 -.26 0 -5.5 1632.4 718.7)"/><use href="#t4" transform="matrix(1 .57 0 -5.5 1632.4 718.7)"/><use href="#t3" transform="matrix(-1 -.08 0 5.5 1644.4 722.5)"/><use href="#t0" transform="matrix(1 1.28 0 5.5 1644.4 722.5)"/><use href="#t0" transform="matrix(1 -.75 0 5.5 1650.4 730.2)"/><use href="#t3" transform="matrix(-1 -.12 0 5.5 1662.4 726.4)"/><use href="#t3" transform="matrix(1 -.09 0 5.5 1662.4 726.4)"/><use href="#t6" transform="matrix(1 .59 0 5.5 1668.4 725.9)"/><use href="#t5" transform="matrix(-1 -1.14 0 5.5 1680.4 736.2)"/><use href="#t4" transform="matrix(1 .38 0 -5.5 1680.4 736.2)"/><use href="#t2" transform="matrix(1 -2.42 0 5.5 1686.4 738.5)"/><use href="#t0" transform="matrix(-1 .35 0 5.5 1698.4 721.9)"/><use href="#t3" transform="matrix(-1 .54 0 5.5 1704.4 718.7)"/></g>
<path d="M255.5 502h0m2.5-11h0m3 2h0m3 5h0m3 0h0m3 42.5h0m2.5-28.5h0m3-3.5h0m3 6.5h0m2.5-15h0m3.5-23h0m3 26.5h0m2.5 5.5h0m2 24h0m1-4h0m0 7.5h0m.5 5.5h0m2.5-21h0m2 27h0m1-37.5h0m2.5-20.5h0m3 7.5h0m3 29.5h0m3-11.5h0m3-46.5h0m1 149h0m0-100.5h0m0 83.5h0m0 2h0m0-131h0m0-7.5h0m0-21h0m0 35.5h0m.5 64.5h0m0-18h0m0 14h0m0 75.5h0m0-90h0m0 112.5h0m0-20.5h0m0-92.5h0m.5 11.5h0m0-96.5h0m0 176h0m0 26h0m0-39.5h0m0-91h0m0-48h0m0 86h0m0 45.5h0m0-47h0m.5-38h0m3 14h0m3-21.5h0m3 2.5h0m3 0h0m2.5-10.5h0m3 12.5h0m3 8h0m3-18.5h0m3 8h0m2.5 11.5h0m2.5 32h0m0 10.5h0m0-6h0m.5 9h0m0-15.5h0m3-10.5h0m3-7.5h0m3 2h0m3 11h0m2.5-28h0m3-15.5h0m3 16.5h0m3 10.5h0m3-8.5h0m2.5 8h0m3-18.5h0m3 8.5h0m3-19.5h0m2.5 26.5h0m3 10h0m3-24.5h0m3 46h0m3-23h0m3-24.5h0m1.5-31h0m0 7h0m0-9.5h0m0 13h0m0-23.5h0m.5 44h0m0-32.5h0m0-.5h0m0-1.5h0m0 22.5h0m.5-18h0m0 16h0m0 3h0m0-9.5h0m0-22h0m0 66.5h0m0-51h0m0-11.5h0m.5 6h0m0 32.5h0m.5-14.5h0m.5-9.5h0m0 12h0m0-9h0m.5 7.5h0m0-25h0m.5 5h0m0 9.5h0m0 6.5h0m0 11.5h0m0 98.5h0m.5-14h0m0-89h0m.5-19.5h0m0 97.5h0m0-.5h0m.5-1h0m0-79.5h0m0 10.5h0m0 90.5h0m0-120.5h0m.5 90.5h0m0-73.5h0m0-9.5h0m0 70.5h0m.5-62h0m0 87.5h0m0 4.5h0m.5-102.5h0m0 4.5h0m0 3h0m0 101h0m0-39h0m0 17h0m.5-10.5h0m0-43h0m0 71.5h0m.5-94.5h0m.5 106.5h0m0-14.5h0m.5-14h0m.5-21h0m0 43h0m0-22h0m1-5h0m0-5h0m0-17.5h0m0 46.5h0m.5-11h0m0-36.5h0m1 57.5h0m1.5-58.5h0m3-28.5h0m1-15h0m0-14h0m.5 13.5h0m.5-22h0m0 13.5h0m0 12h0m0-18.5h0m.5-7h0m0 22.5h0m0 43h0m0-64.5h0m0 15h0m.5-8h0m0 2h0m.5-1h0m0 1h0m0-5h0m.5 15h0m0-11.5h0m.5 27.5h0m.5-23h0m.5 20.5h0m0-17.5h0m0-12h0m.5 5h0m0 26.5h0m.5-4h0m0-22.5h0m0 18h0m0 3h0m.5-28.5h0m.5 32h0m.5-11h0m3.5 22h0m3-11.5h0m2 38.5h0m0 21h0m.5-45.5h0m.5 36.5h0m0-17.5h0m.5-1h0m1 8.5h0m1-37h0m0 50.5h0m0-22.5h0m.5 3h0m.5 22h0m0-1h0m0-21.5h0m.5-2.5h0m0 20h0m0 4.5h0m0-20.5h0m1 19h0m.5-29h0m.5 18.5h0m0-8h0m.5 13.5h0m1.5-113.5h0m0 15.5h0m0 20h0m0 27.5h0m.5-20.5h0m0-12h0m.5-14.5h0m0 25h0m0-1.5h0m0 6h0m.5-43h0m0-3.5h0m0 129h0m0-87h0m1-13.5h0m0-27h0m0 34h0m0-5h0m.5-2.5h0m0 1h0m.5 18.5h0m0-25h0m0-14.5h0m.5 7h0m0 18h0m0-9h0m.5 14.5h0m0-8h0m0 15.5h0m0-23.5h0m0-14.5h0m.5 38.5h0m0-40.5h0m0 29h0m0-6.5h0m0-26.5h0m0 29.5h0m.5-27h0m0 20.5h0m0 21.5h0m0-20.5h0m.5-22h0m0 22.5h0m0-17h0m0 6.5h0m0-6h0m.5 47.5h0m0-47.5h0m0 26h0m0-24h0m.5 36.5h0m0-18h0m0-10.5h0m0 16h0m0-5.5h0m0 1.5h0m0 8h0m0-28.5h0m.5-3h0m0 36h0m0-37h0m0 18h0m0 16.5h0m0-.5h0m1.5 22h0m3 1.5h0m2.5 26h0m2.5-74h0m0 21h0m.5 5h0m0-12h0m.5 15h0m0-25h0m0 21h0m.5-6.5h0m0-13.5h0m0 18h0m0 0h0m0-20.5h0m0 4.5h0m0-14h0m.5 .5h0m0 17.5h0m0 8h0m0 1.5h0m.5-2h0m.5-16h0m0 6h0m0-12.5h0m0-2.5h0m.5 12h0m0 4h0m0 41h0m0-50h0m0-4h0m.5-2.5h0m0 3h0m0 25h0m.5 3.5h0m0 .5h0m0-6.5h0m0-24.5h0m0 30h0m0-1h0m.5-27.5h0m.5 9h0m0-12.5h0m0 4.5h0m0-.5h0m0 26.5h0m.5-20.5h0m0 5.5h0m0-15h0m.5 78.5h0m0-67h0m0 18h0m.5-2.5h0m0-4.5h0m.5 6h0m0-13.5h0m2 45h0m2.5-2.5h0m3.5-2h0m2.5 18h0m3-13.5h0m3 48h0m3 .5h0m2.5-5.5h0m3 3.5h0m3 16.5h0m3-21h0m1.5-38h0m0 28.5h0m0-23h0m0 92.5h0m.5-23h0m0-36.5h0m0-42h0m0 25.5h0m0-28.5h0m0 54h0m.5-25.5h0m0 125h0m0-66.5h0m0-50h0m0 68.5h0m.5-4.5h0m0-70.5h0m3 9.5h0m2.5 9h0m3 15.5h0m3-13h0m3 4.5h0m2.5 7.5h0m3-5.5h0m3 14.5h0m3-8.5h0m1 37h0m0-19h0m0 13.5h0m.5 7h0m.5-3h0m0-16h0m0 16.5h0m0-15.5h0m1-31.5h0m2.5-49h0m3 71h0m3-14h0m3 0h0m3-8h0m3-5.5h0m2.5-4h0m3-2h0m3 8h0m3 23h0m1.5 15h0m.5-4h0m.5-2h0m0 12.5h0m0-5h0m0 1.5h0m0-44.5h0m3-16h0m3 16h0m3 6h0m2.5-4.5h0m3 11.5h0m3-34h0m0 44h0m0-26.5h0m0 60h0m0 9.5h0m0-33.5h0m0 36.5h0m0-5.5h0m0-3h0m0-76.5h0m.5 54.5h0m0-41h0m0 71h0m0-5h0m0 20.5h0m0-8.5h0m0-81.5h0m0 52.5h0m0 8h0m0 8.5h0m0 3.5h0m0-30h0m0-55.5h0m0 104h0m0-39.5h0m0 17h0m0-28h0m.5-19h0m0 36h0m0-10.5h0m0-24h0m2-13h0m3 8.5h0m3 5h0m3 13.5h0m2.5-3h0m3 1.5h0m3-11.5h0m2.5 27h0m3-34.5h0m3.5 29h0m2.5-19.5h0m3 3.5h0m3 12h0m3 34h0m2.5-21.5h0m3-6h0m3 27.5h0m3-12h0m2.5-13h0m3.5 14.5h0m2.5-22.5h0m3 9.5h0m3-20h0m3 50.5h0m3-25.5h0m3 19h0m2.5 9h0m3-18h0m3-6h0m2.5-13.5h0m3-13.5h0m3 25.5h0m3 2h0m1.5 16.5h0m0 6.5h0m1.5-31h0m2.5 2.5h0m3.5 9.5h0m2.5-16h0m2.5 28.5h0m.5-34h0m0 35.5h0m.5 2.5h0m2.5-57h0m3-7.5h0m3 12.5h0m2.5-15h0m3-2h0m3 1.5h0m3-10.5h0m2.5-10h0m3 33h0m3-62.5h0m2.5 67h0m3-13h0m3-5h0m3 30.5h0m3 48.5h0m2.5-53h0m3 5h0m3.5-1.5h0m2.5 2.5h0m3-1.5h0m3 6.5h0m3-46h0m0 11h0m0-14h0m0 35h0m0-24h0m.5 3.5h0m0-31.5h0m0 10h0m0 17h0m.5-36h0m0 6.5h0m0 3.5h0m0 13.5h0m2 22h0m2.5 20h0m3 7.5h0m3 35.5h0m3 11h0m3-38h0m2.5 10h0m3-23h0m2.5 33h0m3 14.5h0m3-95h0m3.5 62.5h0m2.5-14h0m3-46h0m3 61h0m3-24.5h0m2.5 44h0m3-11.5h0m3-2h0m2.5-8.5h0m3.5 12.5h0m2.5-2h0m3-17.5h0m3-5h0m2 65.5h0m0 .5h0m.5 3.5h0m0-17h0m0-1.5h0m0 26.5h0m0-18h0m.5-40h0m0 33.5h0m2.5-23.5h0m3-14h0m2-48h0m.5-5.5h0m0-7h0m0 8h0m0 5h0m.5-2h0m0 50.5h0m3-10h0m2.5 16h0m3.5-17.5h0m1.5-102h0m.5-49h0m0 134.5h0m0-151.5h0m.5 97h0m0-22h0m0-78.5h0m0 12h0m0 63h0m0 111.5h0m0-84.5h0m0-68h0m0 2.5h0m0 116.5h0m0-2h0m.5-21.5h0m0-49.5h0m0-51.5h0m0 101h0m0 29h0m0-44.5h0m0-89.5h0m0 69.5h0m2.5 86.5h0m3 14h0m3 35.5h0m3-13h0m.5 6h0m0 30.5h0m0-21.5h0m0 2h0m0-7h0m0 18h0m0-2h0m1 3.5h0m1-38h0m3-19h0m3 1.5h0m2.5-7.5h0m3-4h0m1.5-89.5h0m.5 42.5h0m.5-27.5h0m0 28h0m0-7.5h0m0-23h0m0 26.5h0m.5 28.5h0m0-2h0m0-27.5h0m0 58.5h0m3 3h0m3-11.5h0m3-.5h0m3-38h0m1.5 12h0m.5-3.5h0m0 2h0m0 2h0m.5-25.5h0m0 29.5h0m0 3.5h0m0-27.5h0m0 41h0m3 45h0m3-51.5h0m2.5 3.5h0m3.5 26h0m3 53h0m2.5-59.5h0m3-12h0m3-.5h0m3 9.5h0m2.5 17h0m3 13.5h0m3 13h0m3-28h0m2.5 2.5h0m3.5-8h0m2.5 4.5h0m3 10.5h0m3-2.5h0m3 4h0m3-9.5h0m2.5-7.5h0m3 29h0m2.5-35.5h0m3 29.5h0m3.5-13h0m2.5-35.5h0m3 33h0m3 8h0m3-2.5h0m2.5-2.5h0m3-2.5h0m3-19h0m3 31h0m3-19.5h0m2.5 1h0m3 4h0m3-9h0m3-12h0m3 37.5h0m2.5-22h0m3-3.5h0m3 37h0m3-36h0m3-20.5h0m2.5 30h0m3-22.5h0m3 38h0m3-2h0m3 5h0m2.5 10h0m3.5 24.5h0m2.5-41.5h0m3 4h0m3 17.5h0m2.5-13h0m3-3h0m3-12.5h0m3 21h0m2.5-17.5h0m3.5-14h0m2.5 7.5h0m3 21.5h0m3-45h0m3 62.5h0m3-56h0m2.5-13h0m0 45.5h0m3-47.5h0m3 28.5h0m3-4h0m2.5-5h0m3-27h0m1.5-32.5h0m1.5 101.5h0m3-40h0m3 27h0m3 3h0m2.5-65h0m3 55.5h0m3-4h0m1 40h0m0 3.5h0m0 1.5h0m.5-1h0m0-2h0m0 10h0m0 0h0m0-1h0m.5 8h0m0-4h0m.5-36h0m3-5.5h0m2-94.5h0m1 128h0m1-103.5h0m2 73h0m.5 46.5h0m0-8h0m0 12h0m.5-16.5h0m0 8.5h0m0 5h0m0 3.5h0m.5-15.5h0m.5-82h0m1 35h0m3 11.5h0m3 22h0m1.5 34.5h0m.5 3h0m0-6h0m0 9h0m0-6.5h0m.5 11.5h0m0-1.5h0m0-21.5h0m0 5h0m0 9.5h0m.5 0h0m2.5-44h0m3-21.5h0m2.5 35.5h0m3-2h0m1 11.5h0m.5 9.5h0m.5-4h0m0-3.5h0m1-36.5h0m3 15.5h0m3-18.5h0m3 33.5h0m3-5h0m2.5 6.5h0m3-7h0m3 .5h0m3 7h0m3-2h0m3-16.5h0m2.5-6.5h0m3 4.5h0m3 .5h0m2.5 6h0m3.5 1h0m2.5 3h0m3 15h0m3-11.5h0m3-22h0m3 34h0m0-44h0m3 31.5h0m2.5 11h0m3-26.5h0m2.5 7.5h0m3-8h0m3 22h0m3 3.5h0m3-13.5h0m3-24.5h0m3 10h0m2.5 25.5h0m3 5h0m3-1h0m3 26.5h0m2.5-87h0m0 0h0m0 32h0m.5-35h0m0 6.5h0m0-8.5h0m2.5 40.5h0m3.5-7.5h0m2.5-9.5h0m.5-112.5h0m2 147h0m3.5-22.5h0m2.5-11h0m3 43.5h0m3-32h0m2.5-7.5h0m3 10.5h0m3 31.5h0m1-240.5h0m0 246h0m2-36.5h0m3-1.5h0m3 23h0m1.5 35.5h0m1-25h0m2.5-81h0m0 15h0m0-21.5h0m0 7h0m0 13.5h0m.5-18h0m0 15h0m0-24h0m0-6.5h0m0 91.5h0m0-58.5h0m0 7.5h0m0-1.5h0m0 3h0m0-17.5h0m0-20h0m0 10h0m.5-6.5h0m0 26h0m0-11h0m0-23.5h0m0 10.5h0m0 6h0m2.5 92.5h0m3-17.5h0m3-7h0m2.5-11.5h0m3.5-14h0m2.5 19.5h0m3-12.5h0m3 11h0m3-15.5h0m3 13h0m2.5-25h0m3 28.5h0m1-114.5h0m0 19.5h0m.5 3h0m.5-17.5h0m0-9h0m0 32h0m0 9.5h0m0-26.5h0m0-4h0m.5 147.5h0m0 16h0m0-65.5h0m3.5 9h0m3 24h0m2.5-37h0m3 23h0m3 33h0m3 6h0m2.5-15h0m3 3h0m3-10h0m3-23.5h0m2.5 7h0m3 0h0m3-6h0m3 13.5h0m2.5-1h0m2-98.5h0m1 100h0m2 51h0m0-15h0m.5 23.5h0m0-6h0m0-11h0m0 7.5h0m0 8.5h0m.5-6.5h0m0-10.5h0m0 13h0m0 2.5h0m.5-52.5h0m0 31h0m0 0h0m.5 3h0m0 .5h0m0-1h0m0 19.5h0m.5-8.5h0m0 1h0m0 0h0m0-.5h0m0-7h0m0-4h0m0 9.5h0m0-4.5h0m0 11h0m0-17.5h0m.5 6h0m0 10h0m0-9h0m0 7h0m0-7h0m0 10h0m0-13h0m0 1h0m.5 17h0m0-18h0m0 18.5h0m0-8.5h0m0-13h0m0 18h0m.5-7h0m0-34.5h0m.5 38.5h0m0-3.5h0m0-8.5h0m0-5h0m0 22.5h0m.5-7.5h0m0-9.5h0m0 11h0m0-6h0m0 2h0m0-5h0m0 11h0m0 .5h0m0-5.5h0m.5 9h0m0-17h0m0 11h0m0 1.5h0m0 3.5h0m0-11.5h0m0-10.5h0m0 16.5h0m0-16h0m.5 17h0m0-16h0m0 7h0m.5 15h0m0-9.5h0m0-10h0m0 1.5h0m0 15.5h0m0-21h0m0 .5h0m.5 9h0m0 5h0m0-6h0m0 12.5h0m0-8h0m0-21.5h0m0 15h0m0-3.5h0m0 8h0m0 9h0m0-20.5h0m0 24.5h0m.5-16h0m0-7h0m0 9.5h0m0 1.5h0m.5-1.5h0m0 12.5h0m0-11.5h0m0 3h0m0-1h0m0-7h0m.5 4.5h0m0-6.5h0m0 9h0m0 8h0m0-20.5h0m0 5h0m.5 2.5h0m0 6.5h0m0 6.5h0m0-1.5h0m0-15h0m.5 13h0m0 .5h0m.5-2h0m0-39h0m3-2h0m2.5-24h0m3-4.5h0m2-109.5h0m1 133.5h0m3-20.5h0m3 16.5h0m2.5 2h0m3 1.5h0m3-.5h0m3 8.5h0m3 6.5h0m3-19.5h0m3-3h0m1-138h0m1.5 140.5h0m1.5-191h0m1.5 174.5h0m2.5-7.5h0m3.5 25h0m2.5-8.5h0m3-3.5h0m3 21h0m3 .5h0m2.5 3h0m3 1.5h0m3 2h0m3 7h0m3-42.5h0m3 51.5h0m2.5 25.5h0m3-36h0m3 25h0m1.5-116h0m0 30h0m0-118h0m0 67h0m0 40.5h0m0-20h0m0 28h0m0-31h0m0 38.5h0m.5-124h0m0 94.5h0m0 2.5h0m0-71h0m0-24.5h0m0 65h0m.5 20h0m0-77h0m0 72.5h0m0 35h0m0-88.5h0m0 80h0m0-.5h0m0-108.5h0m0 116h0m0-81h0m0 .5h0m0-8.5h0m0 103.5h0m0-62h0m0 61h0m3 45h0m3 10h0m.5-69.5h0m2.5 82.5h0m3-4h0m3 23h0m2.5-9.5h0m3.5-16h0m2.5-7.5h0m3 4.5h0m3-9h0m3 8h0m3 20h0m2.5-2h0m3-2.5h0m3-11.5h0m3-23h0m3 8h0m2.5-6.5h0m.5-24.5h0m0 2h0m0 4h0m.5 1h0m.5-3.5h0m1.5 27.5h0m3 2h0m3-5.5h0m2.5-7h0m1-186h0m2 209.5h0m3 14h0m3-15.5h0m3-50h0m0 30.5h0m2.5 17h0m3.5 1.5h0m2.5-5.5h0m3 3.5h0m2.5 7.5h0m3-13.5h0m3 .5h0m2.5-23.5h0m0-17h0m0-5.5h0m.5 26h0m0-19h0m0 14.5h0m0-16h0m0 8h0m0 5.5h0m3 29.5h0m2.5 7.5h0m3-8.5h0m3 14h0m3-16h0m3 19.5h0m3-14.5h0m3 11.5h0m2.5-1h0m3-2h0m3-11.5h0m3 5h0m2.5 3h0m3.5-3h0m2.5-17.5h0m3 7h0m3 13.5h0m3-6h0m2.5-8.5h0m3.5-3h0m2.5 21h0m3-3h0m2.5 13.5h0m1.5-65h0m0 78.5h0m1.5-25h0m3 25.5h0m3-28.5h0m3-8h0m3 25h0m3-10h0m3 15.5h0m2.5-7.5h0m3-6h0m2.5 5h0m3-2.5h0m3 .5h0m3 0h0m3 19h0" stroke="#000" stroke-width="2.8" stroke-linecap="round" fill="none"/>
<path d="M251.4 480 276 485.3 300.5 490.5 325.1 495.7 349.7 500.9 374.3 506 398.8 511.1 423.4 516 448 520.9 472.6 525.9 497.1 531 521.7 536.1 546.3 541.3 570.9 546.5 595.4 551.6 620 556.8 644.6 562 669.2 567.1 693.7 572.3 718.3 577.5 742.9 582.6 767.5 587.8 792 592.9 816.6 597.9 841.2 603 865.8 608.1 890.3 613.2 914.9 618.2 939.5 623.1 964.1 627.9 988.6 632.6 1013.2 637.2 1037.8 641.6 1062.4 646 1086.9 650.3 1111.5 654.6 1136.1 658.8 1160.7 662.8 1185.2 666.6 1209.8 670.3 1234.4 673.9 1259 677.6 1283.5 681.2 1308.1 684.7 1332.7 688.2 1357.3 691.5 1381.8 694.8 1406.4 698.1 1431 701.2 1455.6 704.3 1480.1 707.3 1504.7 710.2 1529.3 713 1553.9 715.8 1578.4 718.6 1603 721.2 1627.6 723.8 1652.2 726.3 1676.7 728.8 1701.3 731.2" stroke="#f00" stroke-width="3.2" fill="none"/>
</g>
<g clip-path="url(#clipC)">
<g stroke="#f00" stroke-width="2.6" stroke-linecap="round" fill="none"><use href="#t0" transform="matrix(-1 .23 0 -3.6 258.4 859.4)"/><use href="#t0" transform="matrix(-1 -1 0 3.6 264.4 865.4)"/><use href="#t3" transform="matrix(-1 -.73 0 3.6 270.4 869.8)"/><use href="#t1" transform="matrix(-1 1.03 0 3.6 276.4 863.6)"/><use href="#t2" transform="matrix(1 -.86 0 3.6 276.4 863.6)"/><use href="#t6" transform="matrix(1 .53 0 -3.6 282.4 858.4)"/><use href="#t4" transform="matrix(-1 -1.19 0 -3.6 294.4 868.7)"/><use href="#t1" transform="matrix(1 -1.54 0 -3.6 294.4 868.7)"/><use href="#t2" transform="matrix(-1 -.38 0 3.6 306.4 861.8)"/><use href="#t3" transform="matrix(-1 -.47 0 3.6 312.4 864.6)"/><use href="#t5" transform="matrix(-1 .36 0 3.6 318.4 862.4)"/><use href="#t6" transform="matrix(-1 .69 0 3.6 324.4 858.3)"/><use href="#t5" transform="matrix(-1 .31 0 -3.6 330.4 856.5)"/><use href="#t7" transform="matrix(-1 -.61 0 3.6 336.4 860.2)"/><use href="#t7" transform="matrix(1 .48 0 -3.6 336.4 860.2)"/><use href="#t4" transform="matrix(-1 -1.39 0 -3.6 348.4 871.4)"/><use href="#t4" transform="matrix(-1 -1.49 0 2.8 354.4 880.3)"/><use href="#t6" transform="matrix(1 -.13 0 -2.8 354.4 880.3)"/><use href="#t6" transform="matrix(-1 .01 0 2.8 366.4 879.5)"/><use href="#t1" transform="matrix(-1 -.36 0 -2.8 372.4 881.7)"/><use href="#t6" transform="matrix(-1 -1.16 0 -2.8 378.4 888.6)"/><use href="#t1" transform="matrix(-1 -.65 0 -2.8 384.4 892.5)"/><use href="#t2" transform="matrix(-1 .64 0 -2.8 390.4 888.7)"/><use href="#t1" transform="matrix(1 4.07 0 2.8 390.4 888.7)"/><use href="#t4" transform="matrix(-1 -8.54 0 2.8 402.4 964.4)"/><use href="#t0" transform="matrix(-1 -.51 0 -2.8 480.4 860.7)"/><use href="#t2" transform="matrix(-1 -.58 0 2.8 486.4 864.1)"/><use href="#t6" transform="matrix(-1 -1.03 0 -2.8 492.4 870.3)"/><use href="#t0" transform="matrix(-1 -.53 0 2.8 498.4 873.5)"/><use href="#t0" transform="matrix(-1 -.22 0 2.8 504.4 874.8)"/><use href="#t1" transform="matrix(-1 -1.85 0 2.8 510.4 885.9)"/><use href="#t1" transform="matrix(1 .49 0 2.8 510.4 885.9)"/><use href="#t0" transform="matrix(-1 -1.01 0 2.8 522.4 894.9)"/><use href="#t3" transform="matrix(1 .15 0 2.8 522.4 894.9)"/><use href="#t5" transform="matrix(-1 -.55 0 -2.8 534.4 899.2)"/><use href="#t7" transform="matrix(-1 .32 0 -2.8 540.4 897.3)"/><use href="#t0" transform="matrix(1 -.96 0 2.8 540.4 897.3)"/><use href="#t6" transform="matrix(-1 -1 0 -2.8 552.4 897.5)"/><use href="#t3" transform="matrix(1 .01 0 -2.8 552.4 897.5)"/><use href="#t1" transform="matrix(-1 1.57 0 -2.8 564.4 888.1)"/><use href="#t2" transform="matrix(1 .41 0 2.8 564.4 888.1)"/><use href="#t6" transform="matrix(-1 -3.65 0 -2.8 576.4 912.5)"/><use href="#t6" transform="matrix(-1 -.86 0 2.8 582.4 917.6)"/><use href="#t3" transform="matrix(1 -3.92 0 -2.8 582.4 917.6)"/><use href="#t6" transform="matrix(-1 -.49 0 2.8 594.4 897.1)"/><use href="#t5" transform="matrix(-1 1.38 0 2.8 600.4 888.8)"/><use href="#t4" transform="matrix(-1 1.88 0 2.8 606.4 877.5)"/><use href="#t3" transform="matrix(1 -.46 0 -2.8 606.4 877.5)"/><use href="#t6" transform="matrix(-1 .64 0 -2.8 618.4 870.9)"/><use href="#t3" transform="matrix(1 .28 0 -2.8 618.4 870.9)"/><use href="#t3" transform="matrix(-1 -1.71 0 2.8 630.4 882.8)"/><use href="#t2" transform="matrix(1 .38 0 -2.8 630.4 882.8)"/><use href="#t7" transform="matrix(1 -.62 0 2.8 636.4 885.1)"/><use href="#t0" transform="matrix(1 -.64 0 -2.8 642.4 881.4)"/><use href="#t4" transform="matrix(1 -.45 0 -2.8 648.4 877.5)"/><use href="#t3" transform="matrix(1 1.28 0 2.8 654.4 874.8)"/><use href="#t4" transform="matrix(-1 -1.92 0 -2.8 666.4 894)"/><use href="#t6" transform="matrix(-1 2.44 0 -2.8 672.4 879.4)"/><use href="#t5" transform="matrix(-1 -3.47 0 2.8 678.4 900.2)"/><use href="#t6" transform="matrix(-1 -2.01 0 -2.8 684.4 912.3)"/><use href="#t3" transform="matrix(1 1.13 0 -2.8 684.4 912.3)"/><use href="#t0" transform="matrix(1 2.7 0 -2.8 690.4 919)"/><use href="#t1" transform="matrix(-1 -.83 0 -2.8 702.4 940.2)"/><use href="#t7" transform="matrix(-1 1.15 0 -2.8 708.4 933.3)"/><use href="#t4" transform="matrix(-1 1.89 0 -2.8 714.4 921.9)"/><use href="#t0" transform="matrix(-1 -2.96 0 -2.8 720.4 939.7)"/><use href="#t3" transform="matrix(1 -1.08 0 2.8 720.4 939.7)"/><use href="#t7" transform="matrix(-1 1.23 0 -2.8 732.4 925.8)"/><use href="#t2" transform="matrix(-1 2.78 0 -2.8 738.4 909.1)"/><use href="#t1" transform="matrix(-1 -.36 0 -2.8 744.4 911.3)"/><use href="#t5" transform="matrix(-1 -.64 0 -2.8 750.4 915.1)"/><use href="#t0" transform="matrix(-1 5.4 0 2.8 756.4 882.7)"/><use href="#t1" transform="matrix(1 -1.04 0 2.8 756.4 882.7)"/><use href="#t3" transform="matrix(1 .42 0 -2.8 762.4 876.5)"/><use href="#t3" transform="matrix(1 -.28 0 -2.8 768.4 879)"/><use href="#t1" transform="matrix(1 -1.3 0 2.8 774.4 877.3)"/><use href="#t1" transform="matrix(1 5.71 0 -2.8 780.4 869.5)"/><use href="#t7" transform="matrix(1 -.19 0 -2.8 786.4 903.7)"/><use href="#t5" transform="matrix(1 .55 0 -2.8 792.4 902.6)"/><use href="#t2" transform="matrix(-1 -1.42 0 -2.8 804.4 914.4)"/><use href="#t4" transform="matrix(1 -4.45 0 -2.8 804.4 914.4)"/><use href="#t3" transform="matrix(1 -.07 0 2.8 810.4 887.7)"/><use href="#t4" transform="matrix(1 2.57 0 2.8 816.4 887.3)"/><use href="#t1" transform="matrix(1 7.26 0 5 822.4 902.7)"/><use href="#t7" transform="matrix(1 .06 0 -5 828.4 946.3)"/><use href="#t6" transform="matrix(-1 1.14 0 5 840.4 939.8)"/><use href="#t4" transform="matrix(-1 -2.9 0 5 846.4 957.2)"/><use href="#t0" transform="matrix(-1 -.11 0 5 852.4 957.9)"/><use href="#t7" transform="matrix(1 -3.58 0 5 852.4 957.9)"/><use href="#t7" transform="matrix(1 3.86 0 -5 858.4 936.4)"/><use href="#t7" transform="matrix(-1 6.39 0 5 870.4 921.2)"/><use href="#t4" transform="matrix(1 -2.13 0 -2.8 870.4 921.2)"/><use href="#t1" transform="matrix(1 -.47 0 -2.8 876.4 908.4)"/><use href="#t4" transform="matrix(1 1.06 0 2.8 882.4 905.6)"/><use href="#t4" transform="matrix(1 -1.09 0 -2.8 888.4 912)"/><use href="#t6" transform="matrix(1 .67 0 2.8 894.4 905.5)"/><use href="#t3" transform="matrix(1 -.47 0 2.8 900.4 909.5)"/><use href="#t6" transform="matrix(-1 -.09 0 2.8 912.4 907.2)"/><use href="#t0" transform="matrix(-1 -.54 0 2.8 918.4 910.5)"/><use href="#t4" transform="matrix(-1 .4 0 -2.8 924.4 908.1)"/><use href="#t5" transform="matrix(1 .65 0 2.8 924.4 908.1)"/><use href="#t4" transform="matrix(1 -.3 0 2.8 930.4 911.9)"/><use href="#t0" transform="matrix(1 .78 0 2.8 936.4 910.1)"/><use href="#t1" transform="matrix(-1 -.33 0 2.8 948.4 916.8)"/><use href="#t5" transform="matrix(-1 1.08 0 2.8 954.4 910.3)"/><use href="#t7" transform="matrix(-1 -.41 0 2.8 960.4 912.8)"/><use href="#t6" transform="matrix(-1 -.58 0 2.8 966.4 916.3)"/><use href="#t0" transform="matrix(1 .34 0 -2.8 966.4 916.3)"/><use href="#t2" transform="matrix(-1 .97 0 -2.8 978.4 912.5)"/><use href="#t3" transform="matrix(-1 -.78 0 -2.8 984.4 917.2)"/><use href="#t0" transform="matrix(1 -.82 0 -2.8 984.4 917.2)"/><use href="#t5" transform="matrix(1 .34 0 -2.8 990.4 912.3)"/><use href="#t7" transform="matrix(-1 .26 0 2.8 1002.4 912.8)"/><use href="#t1" transform="matrix(1 -.5 0 2.8 1002.4 912.8)"/><use href="#t5" transform="matrix(1 .75 0 -2.8 1008.4 909.8)"/><use href="#t5" transform="matrix(-1 -.42 0 -2.8 1020.4 916.8)"/><use href="#t1" transform="matrix(-1 -1.57 0 -2.8 1026.4 926.3)"/><use href="#t5" transform="matrix(-1 -1.14 0 -2.8 1032.4 933.1)"/><use href="#t4" transform="matrix(1 -.38 0 -2.8 1032.4 933.1)"/><use href="#t7" transform="matrix(1 -.13 0 2.8 1038.4 930.8)"/><use href="#t4" transform="matrix(1 .41 0 2.8 1044.4 930.1)"/><use href="#t5" transform="matrix(1 -.5 0 2.8 1050.4 932.5)"/><use href="#t6" transform="matrix(1 .15 0 -2.8 1056.4 929.5)"/><use href="#t6" transform="matrix(-1 -.06 0 2.8 1068.4 930.8)"/><use href="#t6" transform="matrix(-1 -2.89 0 2.8 1074.4 948.1)"/><use href="#t5" transform="matrix(1 1.19 0 2.8 1164.4 961.5)"/><use href="#t4" transform="matrix(1 -.42 0 -2.8 1170.4 968.7)"/><use href="#t4" transform="matrix(-1 -.59 0 2.8 1182.4 969.7)"/><use href="#t1" transform="matrix(-1 1.1 0 -2.8 1188.4 963.1)"/><use href="#t1" transform="matrix(-1 -.16 0 2.8 1194.4 964.1)"/><use href="#t3" transform="matrix(1 2.5 0 -2.8 1194.4 964.1)"/><use href="#t2" transform="matrix(-1 -1.55 0 -2.8 1206.4 988.4)"/><use href="#t4" transform="matrix(1 -2.13 0 -2.8 1206.4 988.4)"/><use href="#t7" transform="matrix(-1 -2.94 0 7 1218.4 993.2)"/><use href="#t4" transform="matrix(-1 -.09 0 -7 1224.4 993.8)"/><use href="#s2" transform="matrix(1 2.01 0 -7 1224.4 993.8)"/><use href="#s3" transform="matrix(-1 -3.37 0 7 1236.4 1026.1)"/><use href="#s7" transform="matrix(1 .5 0 -7 1236.4 1026.1)"/><use href="#s1" transform="matrix(1 2.02 0 -7 1242.4 1029.1)"/><use href="#s0" transform="matrix(1 2.22 0 7 1248.4 1041.3)"/><use href="#s1" transform="matrix(1 -4.88 0 7 1254.4 1054.6)"/><use href="#s6" transform="matrix(-1 1.54 0 -7 1266.4 1016)"/><use href="#s6" transform="matrix(1 1.3 0 -7 1266.4 1016)"/><use href="#s7" transform="matrix(1 1.45 0 -7 1272.4 1023.8)"/><use href="#s0" transform="matrix(-1 -2.65 0 7 1284.4 1048.4)"/><use href="#s5" transform="matrix(1 4.23 0 7 1284.4 1048.4)"/><use href="#s1" transform="matrix(-1 9.44 0 -7 1296.4 1017.1)"/><use href="#s7" transform="matrix(1 14.78 0 -7 1296.4 1017.1)"/><use href="#s7" transform="matrix(1 .1 0 -7 1302.4 1105.8)"/><use href="#s7" transform="matrix(-1 16.85 0 -7 1314.4 1005.3)"/><use href="#s2" transform="matrix(1 4.13 0 7 1314.4 1005.3)"/><use href="#s3" transform="matrix(-1 -.91 0 -7 1326.4 1035.5)"/><use href="#s6" transform="matrix(1 2.78 0 -7 1326.4 1035.5)"/><use href="#s1" transform="matrix(-1 -6.54 0 -7 1338.4 1091.4)"/><use href="#s4" transform="matrix(1 -4.17 0 -7 1338.4 1091.4)"/><use href="#s4" transform="matrix(-1 -3.25 0 7 1350.4 1085.9)"/><use href="#s4" transform="matrix(1 4.29 0 7 1350.4 1085.9)"/><use href="#s1" transform="matrix(1 2.7 0 -7 1356.4 1111.7)"/><use href="#s5" transform="matrix(1 -9.54 0 7 1362.4 1127.9)"/><use href="#s0" transform="matrix(1 -4.45 0 -7 1368.4 1070.6)"/><use href="#s4" transform="matrix(-1 .57 0 7 1380.4 1040.5)"/><use href="#s4" transform="matrix(1 5.43 0 7 1380.4 1040.5)"/><use href="#s3" transform="matrix(1 5.74 0 -7 1386.4 1073.1)"/><use href="#s5" transform="matrix(-1 .44 0 7 1398.4 1104.9)"/><use href="#s0" transform="matrix(1 -8.48 0 -7 1398.4 1104.9)"/><use href="#s1" transform="matrix(1 .54 0 7 1404.4 1054)"/><use href="#s6" transform="matrix(1 3.36 0 7 1410.4 1057.3)"/><use href="#s4" transform="matrix(1 3.55 0 7 1416.4 1077.5)"/><use href="#s0" transform="matrix(1 -8.07 0 -7 1422.4 1098.8)"/><use href="#s4" transform="matrix(-1 1.01 0 7 1434.4 1044.3)"/><use href="#s3" transform="matrix(1 -3.52 0 7 1434.4 1044.3)"/><use href="#s7" transform="matrix(-1 .93 0 7 1446.4 1017.6)"/><use href="#s1" transform="matrix(1 2.54 0 7 1446.4 1017.6)"/><use href="#s7" transform="matrix(-1 .12 0 7 1458.4 1032.1)"/><use href="#s3" transform="matrix(-1 -1.42 0 7 1464.4 1040.7)"/><use href="#s7" transform="matrix(-1 -4.83 0 7 1470.4 1069.6)"/><use href="#s7" transform="matrix(-1 .93 0 -7 1476.4 1064)"/><use href="#s1" transform="matrix(-1 9.32 0 7 1482.4 1008.1)"/><use href="#s4" transform="matrix(1 -3.38 0 7 1482.4 1008.1)"/><use href="#s2" transform="matrix(1 4.04 0 -7 1488.4 987.8)"/><use href="#s3" transform="matrix(-1 -10.72 0 7 1500.4 1076.4)"/><use href="#s5" transform="matrix(-1 .12 0 -7 1506.4 1075.7)"/><use href="#s7" transform="matrix(1 -3.72 0 -7 1506.4 1075.7)"/><use href="#s6" transform="matrix(1 1.07 0 -7 1512.4 1053.4)"/><use href="#s1" transform="matrix(-1 -2.89 0 -7 1524.4 1077.1)"/><use href="#s5" transform="matrix(-1 13.2 0 7 1530.4 997.9)"/><use href="#s4" transform="matrix(1 .24 0 7 1530.4 997.9)"/><use href="#s2" transform="matrix(1 7.85 0 7 1536.4 999.4)"/><use href="#s6" transform="matrix(-1 -5.24 0 -7 1548.4 1078)"/><use href="#s7" transform="matrix(-1 2.57 0 7 1554.4 1062.6)"/><use href="#s4" transform="matrix(1 2.12 0 7 1554.4 1062.6)"/><use href="#s2" transform="matrix(-1 -.63 0 -7 1566.4 1079)"/><use href="#s0" transform="matrix(1 -2.1 0 -7 1566.4 1079)"/><use href="#s7" transform="matrix(1 .72 0 7 1572.4 1066.4)"/><use href="#s0" transform="matrix(-1 -5.73 0 -7 1584.4 1105.1)"/><use href="#s4" transform="matrix(1 1.09 0 -7 1584.4 1105.1)"/><use href="#s1" transform="matrix(1 -3.85 0 -7 1590.4 1111.6)"/><use href="#s2" transform="matrix(1 -1.42 0 -7 1596.4 1088.6)"/><use href="#s1" transform="matrix(1 .26 0 -7 1602.4 1080)"/><use href="#s1" transform="matrix(-1 -1.04 0 -7 1614.4 1087.8)"/><use href="#t1" transform="matrix(1 -13.53 0 4.5 1614.4 1087.8)"/><use href="#t3" transform="matrix(1 1.78 0 -4.5 1620.4 1006.6)"/><use href="#t7" transform="matrix(1 -1.09 0 4.5 1626.4 1017.3)"/><use href="#t2" transform="matrix(-1 -.02 0 4.5 1638.4 1010.9)"/><use href="#t1" transform="matrix(-1 -2.09 0 4.5 1644.4 1023.4)"/><use href="#t7" transform="matrix(-1 -2.53 0 4.5 1650.4 1038.6)"/><use href="#t0" transform="matrix(1 -2.09 0 -4.5 1650.4 1038.6)"/><use href="#t2" transform="matrix(1 -.91 0 4.5 1656.4 1026.1)"/><use href="#t3" transform="matrix(-1 -.18 0 4.5 1668.4 1021.7)"/><use href="#t3" transform="matrix(1 .55 0 4.5 1668.4 1021.7)"/><use href="#t3" transform="matrix(1 -3.15 0 4.5 1674.4 1025)"/><use href="#t5" transform="matrix(-1 .29 0 4.5 1686.4 1004.4)"/><use href="#t0" transform="matrix(1 -4.46 0 4.5 1686.4 1004.4)"/><use href="#t0" transform="matrix(-1 -.22 0 -4.5 1698.4 978.9)"/><use href="#t7" transform="matrix(-1 -1.11 0 -4.5 1704.4 985.5)"/></g>
<path d="M287.5 883.5h0m0-4.5h0m.5 2.5h0m10 9h0m0 1h0m16.5 9.5h0m0-11.5h0m0 4h0m0-6.5h0m.5-1h0m0 4.5h0m.5-5.5h0m0 29.5h0m0-16h0m0 16.5h0m32.5-6.5h0m0-10h0m0 12h0m0 5.5h0m.5-11.5h0m0 10h0m0-20h0m0 30h0m.5 0h0m53 171h0m.5-70h0m.5 21.5h0m.5-15h0m.5 68h0m0 15h0m0-32h0m0 23h0m0-8.5h0m0-12.5h0m0 22h0m0 4h0m0-23.5h0m0 33.5h0m0-9.5h0m.5 9.5h0m0 5.5h0m0-42.5h0m0 29h0m0 3.5h0m0-33.5h0m0 48.5h0m0-50h0m.5 31h0m0-10.5h0m0 17.5h0m0 12.5h0m0-28h0m0-15.5h0m0 42h0m0-20h0m0 11h0m0-84.5h0m2.5-40h0m.5 121.5h0m0-18.5h0m0-140.5h0m.5 153h0m0-2h0m.5-18.5h0m0 8.5h0m0 0h0m0 5h0m0 27.5h0m0-9h0m0 3h0m0-34h0m0 2.5h0m0 39.5h0m3-150h0m.5-32h0m0 78.5h0m1.5-43h0m0-38.5h0m0 44h0m0-39h0m0 17h0m0 16h0m0 21.5h0m0-34.5h0m.5 49.5h0m0-26h0m0 1.5h0m0-10.5h0m0-15h0m0 23.5h0m0 24.5h0m0-64h0m0 22.5h0m0 44h0m0 1.5h0m0-66h0m0 32.5h0m0 28.5h0m0 14.5h0m.5-60.5h0m0 58h0m0-8.5h0m0-45.5h0m0 35.5h0m0-53.5h0m0 58.5h0m0-41h0m0 4.5h0m0-34h0m0 52h0m0 33.5h0m0-3h0m0-16h0m0-66.5h0m0 62h0m.5 22.5h0m0-64.5h0m0 32h0m0-12.5h0m.5-19.5h0m1 106h0m.5 17.5h0m2.5-57.5h0m0-70h0m0 99h0m1-7h0m1-1h0m0-59.5h0m0-16h0m0 122h0m0-82h0m0-41.5h0m.5 48h0m0 9.5h0m0-48h0m0 36h0m0 2h0m0-28h0m0 36h0m0-27h0m0 6h0m0-6.5h0m0-10h0m0 37.5h0m0 0h0m0-47h0m.5 18.5h0m0 11h0m0 12h0m0-12.5h0m0-29h0m0-6.5h0m0 16.5h0m0-19h0m0 23h0m0 1h0m0 20.5h0m.5-43h0m0 9h0m.5 2h0m3-25h0m0-13h0m0 24h0m0-14h0m.5 .5h0m0-19h0m0 9h0m.5 26.5h0m0-17.5h0m0 5.5h0m.5 0h0m0 8h0m0 4.5h0m0-7.5h0m0 .5h0m.5-18.5h0m0 22h0m.5-12.5h0m0-11h0m.5 23h0m0-12.5h0m0 2h0m.5 145.5h0m0-139h0m.5-3h0m0 11h0m0-13h0m.5 6.5h0m0-1.5h0m.5-6.5h0m0 11.5h0m.5-11.5h0m0 2h0m0-10h0m.5-3.5h0m0 17.5h0m0-9.5h0m.5 2h0m0 17h0m0-23.5h0m0 8.5h0m0 12.5h0m0-14h0m0-6.5h0m.5 127.5h0m0-119.5h0m0 13.5h0m.5-2h0m0-6.5h0m.5-10.5h0m0-5.5h0m0 95.5h0m0-92h0m0 87h0m0-91h0m0 91.5h0m.5-78h0m0 4.5h0m0 5h0m.5 2h0m0-8.5h0m.5 6.5h0m0-2.5h0m.5-3.5h0m0 129.5h0m0-128.5h0m0-11h0m0 9.5h0m1 3h0m0-10.5h0m0 14h0m0-5.5h0m0-17h0m0 .5h0m.5-19h0m0 43h0m0-26.5h0m0-1h0m0 57h0m0-34.5h0m0-6h0m0-14h0m0 13h0m.5 2.5h0m1.5 11.5h0m0 78h0m0-57h0m0 13.5h0m0-16h0m0-9h0m0 31h0m0-35h0m0 61.5h0m0-61.5h0m.5-8.5h0m0 48h0m0 21.5h0m0-53.5h0m0 18h0m0 45.5h0m0-45.5h0m0 21h0m0 15.5h0m0-47h0m0 21.5h0m0 32h0m0 2h0m0-33.5h0m0 19.5h0m0-32h0m0-12h0m0 31h0m.5-33h0m0 61h0m0-12h0m0-33h0m0-10h0m0 38h0m0 20.5h0m0-62.5h0m0-5.5h0m0 9.5h0m0 48h0m.5-38.5h0m0 21.5h0m0 4.5h0m0 78h0m1-6.5h0m.5-71.5h0m1.5-40h0m.5 12.5h0m2 89h0m.5-37h0m0-70h0m0 58.5h0m.5 11.5h0m0-65h0m0-57.5h0m0 76.5h0m0-27.5h0m0 18.5h0m.5-45.5h0m0 43h0m0-7h0m0 12.5h0m0-29.5h0m0 8h0m0-8h0m0 19.5h0m0-40.5h0m0-16.5h0m0 32h0m.5 30.5h0m0 7.5h0m0-47.5h0m0 41.5h0m0-40.5h0m0 2.5h0m0 8h0m0 22.5h0m0-49h0m0 46h0m0-48h0m0 34.5h0m.5 11.5h0m0 107.5h0m0-114h0m1.5 89.5h0m.5-29.5h0m0 31.5h0m0-61.5h0m0 80.5h0m0-116.5h0m.5 89.5h0m0 10h0m0-8.5h0m.5-34h0m0 38.5h0m1-139.5h0m0 98.5h0m.5 46.5h0m0-25.5h0m0 16h0m0-1h0m0 9h0m0-14.5h0m0-49h0m0 11h0m0 62.5h0m0-11h0m0-12h0m.5 13.5h0m0-49h0m0-5.5h0m0-10h0m0 33.5h0m0-19h0m0 19.5h0m0-26.5h0m0 11.5h0m0 9.5h0m0 32.5h0m0-34.5h0m0-14.5h0m0 9.5h0m0 21.5h0m0 13h0m.5-55h0m0 17.5h0m0 58.5h0m0-63h0m0 23h0m0-15.5h0m0-19.5h0m0 26h0m0 44.5h0m0-28h0m0-21.5h0m0-3.5h0m0 56h0m0-42.5h0m.5 22.5h0m0-26h0m0-4h0m0 35.5h0m0-2.5h0m0-23h0m.5-6h0m0-7h0m.5 22.5h0m.5 19.5h0m.5-43.5h0m0 7h0m0-79.5h0m0 119.5h0m.5-48h0m0-30h0m0 32h0m1 35.5h0m0 31.5h0m0-41.5h0m.5 5.5h0m.5-8h0m0 6.5h0m0 4.5h0m0 11h0m0-39.5h0m0 54h0m0-57h0m0 17.5h0m0-38h0m.5-3h0m0 15h0m0 13.5h0m0 9.5h0m0-1h0m0 21.5h0m0-20.5h0m0 14h0m0-31h0m0 5.5h0m0-7.5h0m0 18h0m0 16h0m0-6.5h0m0-37h0m0 29.5h0m0-5.5h0m.5-28h0m0 9.5h0m0-9h0m0 54h0m0-27.5h0m0-7.5h0m0 14h0m0-29h0m0 3h0m0 24h0m0 7.5h0m0 2h0m0-21h0m0 15h0m0-7.5h0m.5-1h0m0-13h0m0-3h0m0 10.5h0m0 30.5h0m0-41.5h0m0-9h0m0 45h0m.5-16h0m.5 31h0m0-34.5h0m0 1h0m.5-58.5h0m.5-58h0m.5 152h0m1-30h0m0 38.5h0m1.5-135.5h0m0 33h0m0-11h0m0-25h0m0-.5h0m0 43.5h0m0-24h0m0-12h0m0 42h0m0-25.5h0m0 17.5h0m.5-7.5h0m0-26.5h0m0 25.5h0m0-9h0m0-17.5h0m0-16.5h0m0 39.5h0m0-38.5h0m0 65.5h0m0-16.5h0m0 7.5h0m0-39h0m0-14.5h0m0 60.5h0m.5-55.5h0m0-5h0m0 12h0m0 78.5h0m0-83.5h0m0 10h0m0 26h0m0-29h0m0 12h0m0-14.5h0m0 38.5h0m.5 32.5h0m.5-45h0m.5-2h0m.5-21h0m0 47h0m0-4h0m0-22.5h0m0 36h0m0-19.5h0m0-10h0m.5 81h0m0-85h0m0-.5h0m0 8h0m0 11.5h0m0 2.5h0m0 89h0m0-100h0m0-13h0m0 8h0m0-7.5h0m0 29h0m0-1h0m.5-12.5h0m0-2h0m0 4h0m0-15h0m0 7.5h0m0-20.5h0m0 18h0m28 17.5h0m4.5-3.5h0m0-99.5h0m.5 115h0m0 54h0m0-65h0m0-67.5h0m.5-42h0m0-3h0m0 71.5h0m0-68.5h0m0 86h0m27.5 13.5h0m.5 11.5h0m0-81.5h0m0 57.5h0m.5-72h0m0 61.5h0" stroke="#f00" stroke-width="2.6" stroke-linecap="round" fill="none"/>
<path d="M693 981h0m.5 37.5h0m0-34.5h0m0 18.5h0m.5 8h0m0-32.5h0m3 22h0m0 6h0m.5-27h0m0 24.5h0m.5-15.5h0m34.5-51.5h0m2.5-3.5h0m.5-18.5h0m.5 16.5h0m.5 3h0m2.5-15h0m0-17h0m.5-5.5h0m0 40h0m0-28h0m.5 0h0m0 16.5h0m0-28.5h0m.5 10h0m0-6.5h0m.5 19.5h0m0-10.5h0m1-5h0m1.5 10h0m1-2.5h0m0-17.5h0m1.5 27h0m2-23h0m.5 37h0m2-2.5h0m0-8h0m1.5 8h0m1-6h0m0 1.5h0m0 5h0m0-12.5h0m0-27h0m0 10h0m.5 23.5h0m0-19.5h0m.5 7.5h0m2-15h0m47 28.5h0m0 13h0m.5-9.5h0m0 0h0m0 11h0m0-9h0m.5 3h0m0-2h0m32 66h0m.5 3h0m0 5h0m1-3.5h0m90-84.5h0m0 6h0m0 6h0m.5-12h0m0 2.5h0" stroke="#f00" stroke-width="2.6" stroke-linecap="round" fill="none"/>
<path d="M1076 1097h0m0 16.5h0m0-22h0m.5-14.5h0m0 55h0m0 2h0m0-61.5h0m0 11h0m0 30.5h0m.5-40h0m0 15h0m0-3h0m0-1.5h0m.5-7h0m0 20h0m0 19.5h0m.5-7.5h0m0-14h0m0 37.5h0m0-16.5h0m0 14h0m.5 2.5h0m0-42.5h0m0 29h0m.5-6h0m0-32.5h0m0-2h0m0 50.5h0m0-57.5h0m0 24h0m0 14h0m.5-28h0m0 40h0m0-32h0m0 45.5h0m0-13h0m0 8.5h0m.5-40h0m.5-27h0m.5 41.5h0m0 23.5h0m0 2.5h0m0-46.5h0m0 18.5h0m.5 4.5h0m0-4h0m0 19.5h0m0 6.5h0m.5-31.5h0m0-7.5h0m0-12.5h0m0 29h0m.5 26h0m.5-5h0m0-34h0m.5 27h0m0-27.5h0m0-5h0m0-12h0m.5 33h0m0 8h0m0-20h0m.5 12.5h0m0 10.5h0m0 9h0m.5-57.5h0m0 54.5h0m0-29h0m.5-9.5h0m0 2.5h0m0 34.5h0m0-59.5h0m0 62.5h0m.5-50h0m0-4.5h0m0 16h0m0-8.5h0m0 39h0m0-25h0m.5 29.5h0m0-49.5h0m.5 56h0m0-52.5h0m0-1.5h0m0 41h0m0-33.5h0m.5 37h0m0-36h0m0 42h0m.5 1.5h0m0-32.5h0m0 20.5h0m.5 1.5h0m0-27h0m0 4h0m0 9h0m0-61.5h0m.5 14h0m0 44h0m0-25.5h0m.5 53h0m0-20h0m0-14.5h0m.5 4h0m0 23.5h0m0-26.5h0m0 28h0m0 3h0m.5-37h0m0 9.5h0m0 16h0m0-28.5h0m.5 16h0m0-22h0m0 27h0m.5-40.5h0m0 40h0m0 20.5h0m0-7.5h0m0 12.5h0m0-44h0m.5-6.5h0m.5 29h0m0-3.5h0m.5-1.5h0m0-24h0m0 25h0m0-1h0m0-4.5h0m.5-4.5h0m0-19.5h0m0-3h0m.5 24.5h0m0 10.5h0m.5-5.5h0m.5-13h0m.5-9h0m0 14h0m0-30.5h0m0 19h0m0-1h0m0-4h0m0 28h0m0-31.5h0m.5-8h0m0 25h0m0-17h0m0 4.5h0m0-30h0m0 56h0m0-10.5h0m0-6.5h0m0 12h0m.5 17.5h0m0-63.5h0m0 62h0m0-49h0m0 30h0m0-11.5h0m0 17.5h0m0-18.5h0m0 32.5h0m0-55.5h0m0 53.5h0m0-30h0m.5-13.5h0m0 17h0m0-13h0m.5 29h0m0-18.5h0m0 43.5h0m0-55h0m.5 17h0m0-17h0m0 9h0m0 6.5h0m0 7h0m0-12.5h0m.5 20.5h0m0-25h0m0-2.5h0m0 3.5h0m1 9.5h0m0 2h0m0 13h0m0-29h0m0 14h0m0 .5h0m.5 7.5h0m0-3h0m0-26h0m0 41h0m.5-17.5h0m0-10h0m.5 41h0m0-14.5h0m0-32h0m0 14h0m0-.5h0m0-4h0m.5 8.5h0m0 4.5h0m0-20h0m0 12h0m0 11h0m0-24.5h0m.5 1h0m0 11h0m0 13.5h0m0-11h0m0 8.5h0m.5-11h0m0 39.5h0m.5-53.5h0m0 49h0m0-42.5h0m0 5h0m0 9h0m.5-21.5h0m.5 19.5h0m0 21h0m0-15.5h0m0 .5h0m.5 1h0m0-11.5h0m.5-15.5h0m0 34.5h0m0-28h0m0-42.5h0m.5 62h0m0 18h0m0-14.5h0m0-3.5h0m0-8h0m.5-5h0m0 6.5h0m0-13h0m0-29h0m0 42h0m0 3.5h0m0-20.5h0m.5 5h0m0 18h0m0-20.5h0m.5 19.5h0m0-2.5h0m.5 8h0m.5-29.5h0m.5 17.5h0m0 10.5h0m0-25.5h0m0 27.5h0m0-22.5h0m.5 5h0m0-31h0m.5 19h0m0 12h0m0-17.5h0m0 26h0m0 28h0m.5-58.5h0m0 16h0m0-33.5h0m0 32.5h0m0-32h0m0 33h0m0-1h0m0 38h0m0-32h0m0-4h0m.5-30.5h0m0 1h0m0 44h0m0-49.5h0m0 50h0m0-38.5h0m0 8h0m0 18h0m0-33.5h0m0 30.5h0m.5 16h0m0-11.5h0m0 15.5h0m0-9h0m0-15.5h0m.5 12h0m0 1.5h0m0 9h0m0-17h0m.5 6.5h0m0 9h0m0-14.5h0m0 40.5h0m0-44.5h0m.5 9h0m0 36.5h0m0-27.5h0m0 9h0m.5-2h0m0-1.5h0m.5-24h0m0 3.5h0m0 17h0m0-49.5h0m0 38h0m0-13h0m0 3.5h0m0 7h0m0 35h0m.5-32.5h0m0 4.5h0m0-19h0m0 22.5h0m0-11h0m0 16h0m0-18.5h0m0 21.5h0m0-9.5h0m.5-9.5h0m0 20.5h0m0-21h0m0 1h0m0-1h0m.5-9h0m0 1h0m0 11h0m0-8.5h0m0 5.5h0m.5 43.5h0m0-48h0m0 23.5h0m.5 9.5h0m0-19.5h0m1.5 39h0m1.5-21h0m.5-38h0m.5-3.5h0m0-1h0m0 15.5h0m.5 0h0m0 17h0m0-3.5h0m0-21h0m0-21h0m0-1.5h0m1 57.5h0m.5-66h0m0-101.5h0m0 111.5h0m0-61h0m0-46h0m0 29h0m0 70.5h0m0-100h0m0 130.5h0m0-135.5h0m0 107h0m0-57.5h0m0 43h0m0 29.5h0m0-2h0m0 3.5h0m0 7.5h0m.5-48.5h0m0-81h0m0 105h0m0-4h0m0 3.5h0m0-15.5h0m0-52.5h0m0-34h0m0 14h0m0 109.5h0m0-47.5h0m0 27.5h0m0 7h0m0-81.5h0m0 67h0m0-50h0m0-10.5h0m0-15.5h0m.5 116.5h0m0-104.5h0m0 97h0m0-12h0m0-18h0m0-22.5h0m0 2.5h0m0-24h0m0 31.5h0m0-30h0m0-58h0m.5 119h0m0 14.5h0m.5-5.5h0m.5 2.5h0m.5-3h0m0-2.5h0m.5 14h0m.5 30h0m0-27h0m0-8h0m.5 4.5h0m1-40.5h0m.5 70h0m0-40.5h0m0 7.5h0m1-8h0m0 6.5h0m0-2h0m.5 40.5h0m0-40.5h0m0 8h0m.5-39h0m1 58.5h0m0 24h0m2-65h0m.5 31h0m.5-13h0m.5-6h0m0 .5h0m.5 19.5h0m.5 10h0m1.5 7.5h0m2-30h0m1.5 0h0m0-27h0m.5 31.5h0m0-29h0m.5 26h0m.5-24h0m0-42h0m.5-9.5h0m0 37.5h0m0-64.5h0m0 86.5h0m0-30.5h0m0 31.5h0m0-39.5h0m0 40.5h0m0-73.5h0m0 6.5h0m0-8.5h0m0 13.5h0m.5 36h0m0-4.5h0m0 35h0m0-121.5h0m0 28h0m0-12h0m0 106.5h0m0-73.5h0m0-29.5h0m0 16.5h0m0-13h0m0 43h0m0 39h0m0-24h0m0 24h0m0-1.5h0m.5-54.5h0m0-40h0m0 18.5h0m0 84.5h0m0-17h0m.5 70h0m1-63h0m0-25.5h0m0-54.5h0m0 100.5h0m.5-86h0m0-26h0m.5 42.5h0m0 10.5h0m.5 22.5h0m0-21h0m0-8h0m.5-29h0m0 5h0m0-3h0m0 135h0m0-135h0m0 70h0m0-51.5h0m0 16h0m0-61h0m0 21.5h0m.5 141.5h0m0 2.5h0m0-113h0m.5 11h0m0-30.5h0m.5 4h0m.5 7h0m0-.5h0m0 34h0m0 2h0m.5-38.5h0m0 14.5h0m0 83h0m.5-8h0m0-101.5h0m0 47.5h0m0 6.5h0m0 50.5h0m0-21.5h0m0-79.5h0m0-33.5h0m.5 32h0m0 59h0m0-68.5h0m.5 20.5h0m.5-20h0m0 5.5h0m.5 104.5h0m.5-96h0m0 100.5h0m0-42.5h0m0-97.5h0m0 106.5h0m0-18.5h0m0-40h0m.5 42.5h0m0 20h0m0-46h0m0-35h0m.5 10h0m0 13.5h0m.5 27.5h0m.5 51h0m0-117h0m0 129h0m0 1h0m0-21h0m0-74.5h0m0 97h0m0-87.5h0m0 109.5h0m0-13.5h0m0-146.5h0m0-3.5h0m0 117h0m0-87.5h0m0-30.5h0m.5 2.5h0m0 128.5h0m0 23.5h0m0-105h0m0 31h0m0 14.5h0m0 17.5h0m0-72h0m0 119.5h0m0-93h0m0-55h0m0 40.5h0m0-11h0m0 39h0m0 75h0m0-71.5h0m0-53.5h0m0 50.5h0m.5-41h0m0 45h0m0 17h0m0-62h0m0 36h0m0 8h0m0 0h0m0-76h0m0 18.5h0m0 40h0m0-4h0m0 76.5h0m0-36h0m0-100.5h0m0 167.5h0m0-10h0m.5-84.5h0m0 88.5h0m.5-100.5h0m0 92h0m0-141h0m0-14.5h0m.5 9h0m0-10h0m.5 160h0m0-75h0m0-17.5h0m.5-14h0m0 11h0m0 .5h0m0-36.5h0m0 41.5h0m.5 28.5h0m.5-46h0m0-10h0m1 59h0m0-97h0m0-6h0m0 66.5h0m0-45.5h0m.5 120.5h0m0-62.5h0m0 12h0m0-41h0m0-45h0m.5 95.5h0m5-68h0m0-15h0m.5-.5h0m0 3.5h0m0-3h0m50 53.5h0m1 9.5h0m0-6.5h0m0-5h0m12 36h0m.5-20.5h0m.5 23h0m0 25h0m0-12h0m23.5-28.5h0m0 46.5h0m0 19h0m0 13h0m.5-5h0m0 4h0m0 3h0m0-13.5h0m0-15h0m0-41.5h0m0 0h0m0 27.5h0m0 36.5h0m0-25h0m0 10.5h0m.5-23h0m0 28h0m0-60.5h0m0 64h0m0-19.5h0m0-20h0m0-28h0m0 37.5h0m0-30h0m.5 38.5h0m37 26.5h0m0-31.5h0m.5-7h0m0 12.5h0m0 15.5h0m0 4.5h0m0-32h0m0 2.5h0m.5 22h0m0-1h0m0 4h0m0-4.5h0m0 7.5h0m0 16.5h0m0-29h0m0-14h0m0 18h0m.5-27h0m0 31h0m0-29h0m0 24h0m1.5-102.5h0m0 8h0m0-6h0m0 7h0m.5 0h0m0-.5h0m0 3.5h0m.5 1h0m0-2h0m0-8h0m.5 10.5h0m0 1h0m0-14h0m.5 11h0m0-6h0m0 7h0m.5 2.5h0m0 0h0m0-6h0m0-4.5h0m0-5h0m0 2h0m.5 10.5h0m0 .5h0m0-4.5h0m0 7h0m0-8.5h0m.5 3h0m0 0h0m0 5h0m1.5 95.5h0m.5 9.5h0m0 8h0m0-26h0m0 30.5h0m0-44.5h0m.5 21.5h0m0 10h0m0-9h0m0 0h0m0-22.5h0m0 8.5h0m.5-7h0m0 16h0m0-4h0m0 17h0m0-22.5h0m0 24.5h0m0-18h0" stroke="#f00" stroke-width="2.6" stroke-linecap="round" fill="none"/>
<path d="M1335 1066.5h0m.5-4.5h0m0-14h0m.5 17.5h0m0-17h0m0 10h0m.5-8.5h0m0 5.5h0m.5 10.5h0m.5-16h0m.5 29.5h0m0-12h0m.5-23h0m.5 24h0m0-20.5h0m0 31h0m0-34h0m.5 23.5h0m0 6h0m1-29.5h0m0 9.5h0m0 15.5h0m.5-11h0m0 11.5h0m1-3h0m0-11h0m.5-12.5h0m0-1h0m0 1h0m.5 24.5h0m0-13.5h0m0 3h0m0-9.5h0m1 18h0m0-1h0m0 12.5h0m1-2h0m0-31h0m.5 14h0m.5-6.5h0m0 19.5h0m0 6h0m.5-24.5h0m0 26h0m.5-30.5h0m0 18h0m0-21.5h0m.5 14h0m0 19.5h0m.5-25.5h0m0-10.5h0m.5 18h0m1 12.5h0m0 4h0m0-23h0m0 18.5h0m.5-21h0m.5 12.5h0m0-6h0m.5-10.5h0m.5 44.5h0m.5 15.5h0m.5 5h0m.5-9.5h0m.5 2h0m.5-7.5h0m0 32h0m.5-31.5h0m0 21.5h0m0-24h0m0 27h0m0-29h0m.5 21.5h0m0 0h0m0-3.5h0m0-12h0m0-9.5h0m.5 37h0m0-7.5h0m0-12h0m0 12h0m0-19.5h0m0 .5h0m.5 0h0m0-2h0m0 15.5h0m0 6h0m1-21.5h0m0 7.5h0m.5 15h0m0 1h0m0-29h0m0 25.5h0m0 8h0m0-25h0m.5-3h0m0 8.5h0m0 9h0m0 8.5h0m0-10.5h0m0 13.5h0m.5-13.5h0m0-22h0m.5 9.5h0m0-9h0m0 31.5h0m.5-15.5h0m0-4h0m.5-1h0m0 5h0m.5-5h0m0 26h0m0-22h0m.5-11.5h0m0 25.5h0m0 10.5h0m0-3h0m0-3.5h0m0-13h0m.5-16h0m0 32.5h0m0-27h0m0 11.5h0m0-7h0m0-3.5h0m0-3h0m0 8.5h0m0 21.5h0m0-29h0m.5 .5h0m0 32.5h0m0-3.5h0m0-26.5h0m9-17h0m0 45h0m0-54.5h0m0 40h0m0-69.5h0m0-1h0m0-1.5h0m0 73h0m.5-86.5h0m0 44h0m0-16.5h0m0-37.5h0m0 29.5h0m0 .5h0m0 48h0m.5-23h0m0-45.5h0m0 29h0m0-28.5h0m0 75h0m0 1.5h0m0-78h0m0 72.5h0m0 30.5h0m0-53.5h0m0-11.5h0m0 58h0m.5-84.5h0m0 83h0m11.5-52.5h0m0-39h0m0 4.5h0m0 17.5h0m0 23h0m0 20h0m0-52.5h0m0 30.5h0m.5-30.5h0m0 49h0m0-53.5h0m0-3.5h0m0 5h0m0 9h0m0 34.5h0m0-35h0m0 8h0m0 4.5h0m0 0h0m0-4h0m0 12.5h0m0 25h0m0-46.5h0m0 40h0m0-55.5h0m0 37.5h0m0 0h0m.5-40h0m0 56.5h0m0-29h0m0 2.5h0m0-6.5h0m0 32.5h0m0-28h0m0-5.5h0m0 30.5h0m0-10h0m0 8.5h0m0-40h0m0 53h0m0-40.5h0m0 .5h0m0-24h0m0 31h0m0-2h0m0-32.5h0m0 42h0m0-23.5h0m.5 25h0m0 16.5h0m0-43h0m0-12.5h0m0 34h0m0-4h0m0-33.5h0m0 53.5h0m0-47.5h0m0-6.5h0m0 2h0m0 47h0m.5-10.5h0m0 19.5h0m0-18.5h0m.5 25.5h0m0 .5h0m0-27.5h0m0 7.5h0m0 19h0m0 3.5h0m0-30.5h0m0 8.5h0m.5 8.5h0m0-17h0m0 3.5h0m0 4h0m0-5h0m0 16h0m0 9.5h0m0-25h0m0 21h0m0-24.5h0m0 4h0m.5-2.5h0m0 7h0m0 21h0m0-11.5h0m0 11.5h0m0-27.5h0m0 18.5h0m0-9.5h0m2.5 41.5h0m0-2.5h0m0-3h0m.5-3h0m1 4h0m1.5-5h0m.5 8.5h0m0-8.5h0m.5 3h0m0-2.5h0m0 6.5h0m0 10h0m.5 5h0m0-20h0m.5 21.5h0m.5-13h0m.5-8h0m.5 20.5h0m.5-8h0m1-8h0m0 6.5h0m0 1h0m0 9h0m0-16h0m.5 4.5h0m0-9h0m.5 21h0m.5-13.5h0m0-5.5h0m.5 18.5h0m.5-1h0m0-2.5h0m.5-13.5h0m0 18h0m.5-8.5h0m0-9.5h0m0-2h0m.5 1h0m.5 5.5h0m0-8.5h0m0 17.5h0m0 2.5h0m.5-.5h0m0-3.5h0m8.5-22h0m0-5.5h0m0 31.5h0m.5-38h0m0 5h0m.5 12h0m0 17h0m0-19h0m0 24.5h0m.5-16h0m9-28.5h0m0 9h0m0-35h0m0 32.5h0m0-37.5h0m0 43.5h0m0-.5h0m0-5.5h0m0 26.5h0m0-30.5h0m0 29h0m0-18.5h0m0-37.5h0m.5 58.5h0m0-63h0m0-1h0m0 52h0m0-39h0m0 27.5h0m.5-3.5h0m0 36.5h0m0-29.5h0m0 30.5h0m0-50h0m0-4.5h0m3 36h0m0-45h0m0 55.5h0m0-17.5h0m0-5.5h0m.5-29h0m0 35h0m0-9h0m0-9.5h0m.5 28.5h0m0-44.5h0m0 27.5h0m0 21h0m0-21h0m0 .5h0m47.5-13h0m.5 2.5h0m0 0h0m0-10h0m0 10.5h0m0-12.5h0m0 22.5h0m.5-20.5h0m0 9h0m0-5.5h0m0 5h0m.5-8h0m14-91h0m0-19.5h0m0 18h0m0 5h0m0-16.5h0m0 13.5h0m0-11h0m.5-.5h0m0 10.5h0m0-20h0m0-2.5h0m0 11h0m0 11.5h0m0-6h0m.5 2.5h0m0-17h0m0 15h0m0 10h0m0-25.5h0m0 8h0m10 94h0m0 26h0m0-33.5h0m0 28h0m.5-17.5h0m0-.5h0m0 25h0m0-31h0m0 8h0m0 50.5h0m0-37h0m.5-3.5h0m0-5.5h0m0 6h0m0-11.5h0m0 56.5h0m0-39h0m0-17h0m0 0h0m0 27.5h0m.5-24.5h0m0 35h0m0-48h0m0 33h0m0-26.5h0m0-8.5h0m23 59.5h0m0-32h0m.5-21h0m0-2.5h0m0 44.5h0m0-9.5h0m0-12h0m0 19.5h0m0-43.5h0m0 30.5h0m0-36h0m.5 52.5h0m0 12h0m0-58h0m0 36h0m0 22h0m0-48h0m0 7.5h0m0 28h0m0-2h0m0 9h0m0-39.5h0m19.5-1h0m0-5.5h0m0-13h0m0 35.5h0m0 21.5h0m0-33.5h0m0 46h0m.5-52.5h0m0 20.5h0m0-37h0m0 54h0m.5-4.5h0m0-36.5h0m0-18h0m0 4h0m0 46h0m0 19.5h0m0-29.5h0m0 0h0m0-24.5h0m0-14h0m2 13h0m.5 10h0m1-19h0m0 6.5h0m1 10h0m.5-9h0m.5-.5h0m0 5h0m.5-10.5h0m0 10h0m2.5 2.5h0m1.5-20.5h0m.5 17h0m.5 6.5h0m.5-19.5h0m0 11.5h0m1-9.5h0m.5 2h0m.5 7.5h0m0 3h0m.5 0h0m.5 7h0m.5 0h0m.5-2h0m0-21h0m.5 18h0m.5-5h0m0 5h0m.5-7h0m1.5 4.5h0m0-2h0m1-16.5h0m.5 10h0m.5 10h0m.5-20h0m0 10.5h0m0-4.5h0m0 5.5h0m.5-4.5h0m.5-1h0m1 2.5h0m0 5.5h0m.5-7.5h0m.5 1h0m0-5h0m.5 5h0m0 7h0m2-15h0m1 24.5h0m0-21.5h0m1 12h0m0 1.5h0m0 5.5h0m.5-14.5h0m.5-2.5h0m0 11h0m.5 1h0m.5 .5h0m.5-9h0m1-1h0m1 17h0m0-22.5h0m0 6h0m0 4h0m1.5-7.5h0m0 7.5h0m1 14h0m8 25.5h0m.5 3.5h0m0 22h0m0-21h0m0 13h0m0-1h0m0-17h0m0 19.5h0m0 3.5h0m.5 2h0m0-28.5h0m0 24h0m0 8h0m0-1.5h0m0-17.5h0m0 5h0m0 8.5h0m0 .5h0m0-1h0m.5-23h0m0 14.5h0m6.5-22.5h0m0 10.5h0m0-17h0m.5 21h0m0 4h0m0-11h0m.5-7.5h0m0 11.5h0m0 10h0m0-16h0m.5 7h0m0-15h0m13-9h0m0 44h0m0-48h0m0 24.5h0m.5-26h0m0 30.5h0m0 18h0m0-37h0m.5 22h0m0 6.5h0m0-1.5h0m0-.5h0m68-40.5h0m0 1.5h0m0-6h0m.5-1h0m.5 6.5h0m0-4.5h0m2 34.5h0m.5-3.5h0m0 1h0m0-3h0m.5 2.5h0" stroke="#f00" stroke-width="2.6" stroke-linecap="round" fill="none"/>
<g stroke="#00f" stroke-width="2.6" stroke-linecap="round" fill="none"><use href="#t7" transform="matrix(-1 -.76 0 -3.2 258.4 859.6)"/><use href="#t0" transform="matrix(1 -.03 0 -3.2 258.4 859.6)"/><use href="#t2" transform="matrix(-1 -.71 0 -3.2 270.4 863.7)"/><use href="#t3" transform="matrix(-1 .21 0 -3.2 276.4 862.4)"/><use href="#t2" transform="matrix(1 .23 0 3.2 276.4 862.4)"/><use href="#t2" transform="matrix(1 .29 0 -3.2 282.4 863.8)"/><use href="#t2" transform="matrix(-1 .21 0 3.2 294.4 864.3)"/><use href="#t4" transform="matrix(1 -.69 0 3.2 294.4 864.3)"/><use href="#t2" transform="matrix(-1 -.27 0 -3.2 306.4 861.7)"/><use href="#t1" transform="matrix(-1 .55 0 -3.2 312.4 858.4)"/><use href="#t3" transform="matrix(-1 .18 0 3.2 318.4 857.3)"/><use href="#t6" transform="matrix(-1 -.63 0 3.2 324.4 861.1)"/><use href="#t3" transform="matrix(1 -.86 0 3.2 324.4 861.1)"/><use href="#t0" transform="matrix(-1 -.68 0 -3.2 336.4 860)"/><use href="#t0" transform="matrix(-1 -1.03 0 -3.2 342.4 866.2)"/><use href="#t4" transform="matrix(-1 -.21 0 -3.2 348.4 867.5)"/><use href="#t3" transform="matrix(-1 1.74 0 3.2 354.4 857.1)"/><use href="#t5" transform="matrix(-1 -.06 0 -3.2 360.4 857.4)"/><use href="#t0" transform="matrix(1 -1.83 0 3.2 360.4 857.4)"/><use href="#t6" transform="matrix(1 .72 0 3.2 366.4 846.4)"/><use href="#t7" transform="matrix(1 -1.07 0 3.2 372.4 850.7)"/><use href="#t0" transform="matrix(1 .2 0 3.2 378.4 844.3)"/><use href="#t5" transform="matrix(1 .13 0 3.2 384.4 845.5)"/><use href="#t7" transform="matrix(-1 -2.84 0 3.2 396.4 863.4)"/><use href="#t5" transform="matrix(-1 6.19 0 -3.2 402.4 826.2)"/><use href="#t2" transform="matrix(1 -1.08 0 -3.2 402.4 826.2)"/><use href="#t4" transform="matrix(-1 .42 0 3.2 414.4 817.2)"/><use href="#t4" transform="matrix(1 .71 0 3.2 414.4 817.2)"/><use href="#t5" transform="matrix(1 .84 0 -3.2 420.4 821.5)"/><use href="#t0" transform="matrix(-1 0 0 3.2 432.4 826.5)"/><use href="#t3" transform="matrix(-1 .11 0 -3.2 438.4 825.9)"/><use href="#t1" transform="matrix(1 .19 0 -3.2 438.4 825.9)"/><use href="#t6" transform="matrix(-1 .31 0 3.2 450.4 825.1)"/><use href="#t5" transform="matrix(-1 .37 0 3.2 456.4 822.9)"/><use href="#t5" transform="matrix(1 1.19 0 -3.2 456.4 822.9)"/><use href="#t1" transform="matrix(-1 -1.44 0 -3.2 468.4 838.7)"/><use href="#t2" transform="matrix(1 2.94 0 3.2 468.4 838.7)"/><use href="#t0" transform="matrix(-1 .05 0 -3.2 480.4 856)"/><use href="#t7" transform="matrix(1 1.72 0 3.2 480.4 856)"/><use href="#t7" transform="matrix(1 .14 0 -3.2 486.4 866.3)"/><use href="#t3" transform="matrix(1 .5 0 3.2 492.4 867.1)"/><use href="#t5" transform="matrix(-1 -1.18 0 3.2 504.4 877.2)"/><use href="#t3" transform="matrix(1 -1.48 0 3.2 504.4 877.2)"/><use href="#t1" transform="matrix(-1 .43 0 -3.2 516.4 865.7)"/><use href="#t7" transform="matrix(-1 .94 0 -3.2 522.4 860.1)"/><use href="#t4" transform="matrix(-1 -.3 0 -3.2 528.4 861.9)"/><use href="#t5" transform="matrix(-1 .12 0 -3.2 534.4 861.1)"/><use href="#t6" transform="matrix(-1 -.52 0 3.2 540.4 864.2)"/><use href="#t1" transform="matrix(1 -.49 0 -3.2 540.4 864.2)"/><use href="#t6" transform="matrix(1 -.47 0 -3.2 546.4 861.3)"/><use href="#t4" transform="matrix(-1 -.26 0 -3.2 558.4 860)"/><use href="#t1" transform="matrix(-1 -2.23 0 3.2 564.4 873.4)"/><use href="#t3" transform="matrix(-1 -.41 0 3.2 570.4 875.9)"/><use href="#t3" transform="matrix(-1 3.5 0 3.2 576.4 854.9)"/><use href="#t3" transform="matrix(1 .59 0 -3.2 576.4 854.9)"/><use href="#t2" transform="matrix(-1 -2.69 0 -3.2 588.4 874.6)"/><use href="#t7" transform="matrix(-1 -.98 0 3.2 594.4 880.4)"/><use href="#t7" transform="matrix(-1 -1.27 0 3.2 600.4 888)"/><use href="#t5" transform="matrix(1 1.52 0 3.2 600.4 888)"/><use href="#t6" transform="matrix(-1 -3.96 0 -3.2 612.4 920.9)"/><use href="#t3" transform="matrix(-1 .76 0 -3.2 618.4 916.4)"/><use href="#t7" transform="matrix(1 -.88 0 -3.2 618.4 916.4)"/><use href="#t3" transform="matrix(-1 .98 0 -3.2 630.4 905.2)"/><use href="#t3" transform="matrix(1 -.85 0 3.2 630.4 905.2)"/><use href="#t3" transform="matrix(-1 .47 0 -3.2 642.4 897.3)"/><use href="#t4" transform="matrix(-1 -.87 0 3.2 648.4 902.5)"/><use href="#t5" transform="matrix(-1 -5.17 0 -3.2 654.4 933.5)"/><use href="#t0" transform="matrix(-1 3.38 0 3.2 660.4 913.2)"/><use href="#t4" transform="matrix(1 -2.32 0 3.2 660.4 913.2)"/><use href="#t2" transform="matrix(1 3.68 0 -3.2 666.4 899.3)"/><use href="#t4" transform="matrix(1 -6.76 0 -3.2 672.4 921.4)"/><use href="#t6" transform="matrix(1 -2.39 0 3.2 678.4 880.8)"/><use href="#t5" transform="matrix(-1 1.24 0 3.2 690.4 859.1)"/><use href="#t1" transform="matrix(-1 2.1 0 -3.2 696.4 846.5)"/><use href="#t4" transform="matrix(1 -.51 0 3.2 696.4 846.5)"/><use href="#t2" transform="matrix(1 .45 0 -3.2 702.4 843.4)"/><use href="#t4" transform="matrix(-1 -1.67 0 -3.2 714.4 856.2)"/><use href="#t5" transform="matrix(-1 1.9 0 -3.2 720.4 844.8)"/><use href="#t1" transform="matrix(-1 .29 0 -3.2 726.4 843)"/><use href="#t6" transform="matrix(1 1.03 0 3.2 726.4 843)"/><use href="#t2" transform="matrix(-1 -2.11 0 3.2 738.4 861.9)"/><use href="#t3" transform="matrix(-1 -1.62 0 3.2 744.4 871.6)"/><use href="#t2" transform="matrix(1 .31 0 3.2 744.4 871.6)"/><use href="#t7" transform="matrix(1 1.24 0 -3.2 750.4 873.4)"/><use href="#t5" transform="matrix(1 3.13 0 -3.2 756.4 880.9)"/><use href="#t5" transform="matrix(-1 -.79 0 3.2 768.4 904.4)"/><use href="#t2" transform="matrix(-1 -3.32 0 -3.2 774.4 924.3)"/><use href="#t6" transform="matrix(1 -1.5 0 -3.2 774.4 924.3)"/><use href="#t0" transform="matrix(-1 4.01 0 -3.2 786.4 891.2)"/><use href="#t7" transform="matrix(-1 1.54 0 -3.2 792.4 882)"/><use href="#t5" transform="matrix(-1 .88 0 3.2 798.4 876.7)"/><use href="#t3" transform="matrix(-1 -.94 0 -3.2 804.4 882.3)"/><use href="#t0" transform="matrix(-1 -1.57 0 3.2 810.4 891.7)"/><use href="#t7" transform="matrix(1 .25 0 3.2 810.4 891.7)"/><use href="#t6" transform="matrix(1 -1.43 0 3.2 816.4 893.2)"/><use href="#t3" transform="matrix(1 -3.97 0 -3.2 822.4 884.6)"/><use href="#t2" transform="matrix(1 -1.52 0 3.2 828.4 860.8)"/><use href="#t0" transform="matrix(-1 -.8 0 3.2 840.4 856.5)"/><use href="#t1" transform="matrix(-1 -.44 0 -3.2 846.4 859.1)"/><use href="#t3" transform="matrix(-1 .37 0 -3.2 852.4 856.9)"/><use href="#t1" transform="matrix(1 1.18 0 -3.2 852.4 856.9)"/><use href="#t1" transform="matrix(-1 -1.93 0 -3.2 864.4 875.6)"/><use href="#t6" transform="matrix(-1 -.08 0 -3.2 870.4 876.1)"/><use href="#t3" transform="matrix(1 1.04 0 3.2 870.4 876.1)"/><use href="#t0" transform="matrix(-1 -.89 0 3.2 882.4 887.7)"/><use href="#t7" transform="matrix(-1 -.32 0 3.2 888.4 889.7)"/><use href="#t3" transform="matrix(1 -.03 0 -3.2 888.4 889.7)"/><use href="#t3" transform="matrix(-1 .02 0 3.2 900.4 889.3)"/><use href="#t5" transform="matrix(1 .23 0 3.2 900.4 889.3)"/><use href="#t6" transform="matrix(1 .21 0 3.2 906.4 890.7)"/><use href="#t2" transform="matrix(1 .06 0 -3.2 912.4 891.9)"/><use href="#t5" transform="matrix(1 .47 0 3.2 918.4 892.3)"/><use href="#t2" transform="matrix(1 1.01 0 3.2 924.4 895.1)"/><use href="#t2" transform="matrix(-1 .55 0 -3.2 936.4 897.8)"/><use href="#t0" transform="matrix(-1 .57 0 -3.2 942.4 894.4)"/><use href="#t1" transform="matrix(1 .55 0 -3.2 942.4 894.4)"/><use href="#t5" transform="matrix(1 .16 0 -3.2 948.4 897.7)"/><use href="#t6" transform="matrix(1 -.55 0 -3.2 954.4 898.7)"/><use href="#t4" transform="matrix(-1 .82 0 -3.2 966.4 890.5)"/><use href="#t1" transform="matrix(1 .91 0 -3.2 966.4 890.5)"/><use href="#t5" transform="matrix(-1 .95 0 -3.2 978.4 890.3)"/><use href="#t1" transform="matrix(-1 .27 0 -3.2 984.4 888.7)"/><use href="#t6" transform="matrix(-1 .11 0 -3.2 990.4 888)"/><use href="#t2" transform="matrix(-1 -.25 0 3.2 996.4 889.5)"/><use href="#t4" transform="matrix(1 -.81 0 -3.2 996.4 889.5)"/><use href="#t1" transform="matrix(-1 -.61 0 -3.2 1008.4 888.3)"/><use href="#t5" transform="matrix(-1 -.52 0 3.2 1014.4 891.5)"/><use href="#t7" transform="matrix(1 -1.24 0 3.2 1014.4 891.5)"/><use href="#t2" transform="matrix(-1 0 0 -3.2 1026.4 884)"/><use href="#t1" transform="matrix(1 .63 0 -3.2 1026.4 884)"/><use href="#t5" transform="matrix(1 .58 0 3.2 1032.4 887.8)"/><use href="#t3" transform="matrix(-1 -.45 0 -3.2 1044.4 894)"/><use href="#t4" transform="matrix(-1 -.27 0 3.2 1050.4 895.6)"/><use href="#t7" transform="matrix(1 -.79 0 -3.2 1050.4 895.6)"/><use href="#t2" transform="matrix(1 .16 0 -3.2 1056.4 890.9)"/><use href="#t5" transform="matrix(-1 -.34 0 -3.2 1068.4 894)"/><use href="#t6" transform="matrix(-1 3.16 0 3.2 1074.4 875)"/><use href="#t5" transform="matrix(1 -1.2 0 4.5 1074.4 875)"/><use href="#t3" transform="matrix(1 -.15 0 -4.5 1080.4 867.8)"/><use href="#t0" transform="matrix(1 .3 0 -4.5 1086.4 866.9)"/><use href="#t2" transform="matrix(-1 .49 0 -4.5 1098.4 865.7)"/><use href="#t0" transform="matrix(-1 -.02 0 4.5 1104.4 865.8)"/><use href="#t7" transform="matrix(-1 -1.35 0 -4.5 1110.4 873.9)"/><use href="#t2" transform="matrix(-1 -.8 0 4.5 1116.4 878.7)"/><use href="#t7" transform="matrix(-1 -2.97 0 4.5 1122.4 896.6)"/><use href="#t5" transform="matrix(1 -1.86 0 4.5 1122.4 896.6)"/><use href="#t7" transform="matrix(-1 1.01 0 4.5 1134.4 879.4)"/><use href="#t4" transform="matrix(-1 -1.35 0 -4.5 1140.4 887.5)"/><use href="#t7" transform="matrix(1 1.1 0 4.5 1140.4 887.5)"/><use href="#t0" transform="matrix(1 -.34 0 4.5 1146.4 894.1)"/><use href="#t4" transform="matrix(1 -.91 0 -4.5 1152.4 892.1)"/><use href="#t5" transform="matrix(1 2.27 0 -4.5 1158.4 886.6)"/><use href="#t7" transform="matrix(1 -.6 0 3.2 1164.4 900.3)"/><use href="#t5" transform="matrix(1 .67 0 -3.2 1170.4 896.7)"/><use href="#t3" transform="matrix(-1 -.08 0 3.2 1182.4 901.1)"/><use href="#t4" transform="matrix(-1 1.58 0 -3.2 1188.4 891.7)"/><use href="#t5" transform="matrix(-1 -.04 0 3.2 1194.4 891.9)"/><use href="#t1" transform="matrix(1 .51 0 3.2 1194.4 891.9)"/><use href="#t0" transform="matrix(1 .72 0 -3.2 1200.4 895)"/><use href="#t7" transform="matrix(1 -.2 0 3.2 1206.4 899.3)"/><use href="#t6" transform="matrix(1 -.35 0 3.2 1212.4 898.1)"/><use href="#t1" transform="matrix(-1 1.25 0 -3.2 1224.4 888.5)"/><use href="#t7" transform="matrix(1 -.44 0 3.2 1224.4 888.5)"/><use href="#t2" transform="matrix(1 -.87 0 3.2 1230.4 885.9)"/><use href="#t7" transform="matrix(1 -.4 0 -3.2 1236.4 880.7)"/><use href="#t2" transform="matrix(1 .18 0 3.2 1242.4 878.2)"/><use href="#t1" transform="matrix(-1 .04 0 3.2 1254.4 879.1)"/><use href="#t7" transform="matrix(-1 -.83 0 3.2 1260.4 884.1)"/><use href="#t2" transform="matrix(1 .26 0 3.2 1260.4 884.1)"/><use href="#t0" transform="matrix(1 -.65 0 -3.2 1266.4 885.6)"/><use href="#t5" transform="matrix(1 .72 0 3.2 1272.4 881.8)"/><use href="#t3" transform="matrix(1 .58 0 -3.2 1278.4 886.1)"/><use href="#t2" transform="matrix(1 -.42 0 -3.2 1284.4 889.6)"/><use href="#t1" transform="matrix(-1 -.18 0 3.2 1296.4 888.1)"/><use href="#t7" transform="matrix(1 .37 0 3.2 1296.4 888.1)"/><use href="#t4" transform="matrix(-1 -.01 0 3.2 1308.4 890.4)"/><use href="#t0" transform="matrix(-1 .71 0 -3.2 1314.4 886.2)"/><use href="#t1" transform="matrix(1 -.12 0 3.2 1314.4 886.2)"/><use href="#t0" transform="matrix(1 .9 0 -3.2 1320.4 885.5)"/><use href="#t6" transform="matrix(1 .03 0 3.2 1326.4 890.9)"/><use href="#t3" transform="matrix(-1 -.31 0 3.2 1338.4 892.9)"/><use href="#t2" transform="matrix(1 .3 0 -3.2 1338.4 892.9)"/><use href="#t6" transform="matrix(1 1.3 0 3.2 1344.4 894.7)"/><use href="#t3" transform="matrix(1 .02 0 3.2 1350.4 902.5)"/><use href="#t4" transform="matrix(-1 .49 0 -3.2 1362.4 899.7)"/><use href="#t0" transform="matrix(1 -.94 0 -3.2 1362.4 899.7)"/><use href="#t1" transform="matrix(-1 .85 0 3.2 1374.4 888.9)"/><use href="#t2" transform="matrix(1 .4 0 -3.2 1374.4 888.9)"/><use href="#t2" transform="matrix(-1 -1.72 0 -3.2 1386.4 901.7)"/><use href="#t2" transform="matrix(1 .87 0 3.2 1386.4 901.7)"/><use href="#t5" transform="matrix(1 .21 0 -3.2 1392.4 906.9)"/><use href="#t0" transform="matrix(1 -.2 0 3.2 1398.4 908.1)"/><use href="#t4" transform="matrix(-1 1.21 0 3.2 1410.4 899.7)"/><use href="#t3" transform="matrix(1 -1.25 0 -3.2 1410.4 899.7)"/><use href="#t5" transform="matrix(-1 -.9 0 3.2 1422.4 897.6)"/><use href="#t5" transform="matrix(-1 -1.95 0 3.2 1428.4 909.3)"/><use href="#t3" transform="matrix(-1 .96 0 3.2 1434.4 903.5)"/><use href="#t2" transform="matrix(1 .76 0 -3.2 1434.4 903.5)"/><use href="#t1" transform="matrix(1 .21 0 3.2 1440.4 908.1)"/><use href="#t3" transform="matrix(-1 .5 0 -3.2 1452.4 906.4)"/><use href="#t7" transform="matrix(-1 .43 0 3.2 1458.4 903.8)"/><use href="#t5" transform="matrix(-1 -.11 0 3.2 1464.4 904.4)"/><use href="#t4" transform="matrix(-1 -1.45 0 3.2 1470.4 913.2)"/><use href="#t2" transform="matrix(1 .83 0 -3.2 1470.4 913.2)"/><use href="#t1" transform="matrix(1 1.07 0 -3.2 1476.4 918.2)"/><use href="#t7" transform="matrix(1 -.24 0 -3.2 1482.4 924.6)"/><use href="#t1" transform="matrix(1 1.39 0 -3.2 1488.4 923.2)"/><use href="#t0" transform="matrix(-1 .37 0 -3.2 1500.4 929.3)"/><use href="#t7" transform="matrix(-1 .31 0 3.2 1506.4 927.4)"/><use href="#t3" transform="matrix(1 -.45 0 -3.2 1506.4 927.4)"/><use href="#t2" transform="matrix(-1 .58 0 -3.2 1518.4 921.3)"/><use href="#t2" transform="matrix(-1 -.57 0 -3.2 1524.4 924.7)"/><use href="#t0" transform="matrix(-1 -.22 0 -3.2 1530.4 926)"/><use href="#t2" transform="matrix(1 1.41 0 -3.2 1530.4 926)"/><use href="#t0" transform="matrix(-1 .77 0 3.2 1542.4 929.9)"/><use href="#t5" transform="matrix(-1 1.46 0 -3.2 1548.4 921.1)"/><use href="#t5" transform="matrix(-1 .01 0 -3.2 1554.4 921.1)"/><use href="#t3" transform="matrix(1 .55 0 3.2 1554.4 921.1)"/><use href="#t5" transform="matrix(-1 -.1 0 3.2 1566.4 924.9)"/><use href="#t7" transform="matrix(1 .4 0 -3.2 1566.4 924.9)"/><use href="#t4" transform="matrix(-1 1.17 0 3.2 1578.4 920.3)"/><use href="#t4" transform="matrix(1 -.87 0 -3.2 1578.4 920.3)"/><use href="#t5" transform="matrix(-1 0 0 3.2 1590.4 915.1)"/><use href="#t5" transform="matrix(1 .35 0 3.2 1590.4 915.1)"/><use href="#t2" transform="matrix(-1 -.47 0 -3.2 1602.4 920)"/><use href="#t1" transform="matrix(-1 .08 0 3.2 1608.4 919.5)"/><use href="#t1" transform="matrix(-1 -.33 0 -3.2 1614.4 921.5)"/><use href="#t2" transform="matrix(-1 -1.31 0 3.2 1620.4 929.4)"/><use href="#t3" transform="matrix(-1 .27 0 3.2 1626.4 927.7)"/><use href="#t3" transform="matrix(1 .11 0 -3.2 1626.4 927.7)"/><use href="#t5" transform="matrix(1 .3 0 3.2 1632.4 928.4)"/><use href="#t2" transform="matrix(1 .91 0 -3.2 1638.4 930.2)"/><use href="#t0" transform="matrix(1 -.33 0 -3.2 1644.4 935.7)"/><use href="#t1" transform="matrix(1 -.64 0 3.2 1650.4 933.7)"/><use href="#t1" transform="matrix(1 -.46 0 -3.2 1656.4 929.9)"/><use href="#t1" transform="matrix(-1 .58 0 3.2 1668.4 923.6)"/><use href="#t5" transform="matrix(-1 -.83 0 -3.2 1674.4 928.6)"/><use href="#t5" transform="matrix(1 1.09 0 3.2 1674.4 928.6)"/><use href="#t5" transform="matrix(1 1.83 0 -3.2 1680.4 935.1)"/><use href="#t4" transform="matrix(1 1.83 0 -3.2 1686.4 946.1)"/><use href="#t3" transform="matrix(1 -1.5 0 -3.2 1692.4 957.1)"/><use href="#t3" transform="matrix(-1 .32 0 -3.2 1704.4 946.1)"/></g>
<path d="M291.5 888h0m0-1.5h0m.5-11h0m.5 5.5h0m21.5 5.5h0m0 30.5h0m0-51h0m0 33.5h0m0-50h0m0 51.5h0m.5-98h0m0 67.5h0m0-21.5h0m0 3.5h0m0 79h0m0-83h0m0 9.5h0m0 3.5h0m0-47.5h0m0 6h0m0 34h0m0 23h0m0-61h0m0-11.5h0m0 46.5h0m0 25h0m0 16h0m0 44h0m0-61h0m0-47h0m0 8h0m0-16h0m0 17h0m.5 88h0m0 1.5h0m0-65h0m0 61h0m0-9.5h0m0-2.5h0m0-48.5h0m0 3.5h0m0-26h0m0-21.5h0m0 69h0m0-21.5h0m0 49.5h0m0-7h0m.5-64.5h0m0-20h0m188 11h0m0 23.5h0m0-2h0m.5-13h0m0-6.5h0m0 38.5h0m0-24.5h0m0 2h0m.5-16.5h0m0 9h0m0 8.5h0m0-20.5h0m78.5 129.5h0m0-48h0m0-1h0m0 42.5h0m0-8.5h0m0-56.5h0m0 56h0m0-81.5h0m0 37.5h0m0-43h0m0 103.5h0m.5-93.5h0m0 3h0m0-5h0m0 .5h0m0 50h0m0-25.5h0m0 11.5h0m0 27.5h0m0-65.5h0m0 15.5h0m0 89.5h0m0-60h0m.5 15.5h0m0 9.5h0m0-18.5h0m0-20h0m0-13.5h0m0 43h0m0 27h0" stroke="#00f" stroke-width="2.6" stroke-linecap="round" fill="none"/>
<path d="M849 804.5h0m0 2h0m.5 5h0m0 26.5h0m0 1.5h0m0-17h0m0-6h0m0 17h0m.5-27h0m0 40h0m0-26h0m0 25.5h0m0-36h0m0-4h0m0 13h0m0 26h0m0-20.5h0m0 16.5h0m.5-6h0m0-28.5h0m0 7h0m0 22h0m28.5 26h0m.5-7.5h0m.5 2h0m0-2h0m12.5 0h0m.5 6h0m0-5.5h0m.5 .5h0m48.5 76.5h0m1-3.5h0m0 .5h0" stroke="#00f" stroke-width="2.6" stroke-linecap="round" fill="none"/>
<path d="M1102 844.5h0m0 5.5h0m0-7.5h0m.5 13h0m.5-.5h0m39.5 69h0m.5 1.5h0m0 11h0m.5-11h0" stroke="#00f" stroke-width="2.6" stroke-linecap="round" fill="none"/>
<path d="M1477 942h0m.5 1.5h0m0-2h0m0 3h0m.5-2.5h0m12-79.5h0m0-7h0m0-16h0m0 26h0m0-1.5h0m0 32.5h0m0-41.5h0m0 1h0m0-9h0m0 32.5h0m.5-25.5h0m0 25.5h0m0-21.5h0m0 24.5h0m0 11.5h0m0-33h0m0-3h0m0-7.5h0m0 34h0m0 16h0m.5-42h0m0 8.5h0m0 28h0m0-22.5h0m16 73h0m.5-2h0m0-5h0m16 1.5h0m1-.5h0m.5-.5h0m13.5 3h0m0 5h0m0-6.5h0m0 3h0m76.5-15.5h0m0-.5h0m0 23h0m.5-6.5h0m0 10.5h0m0-17h0m0 22h0m.5-29h0m0 24h0m0 3h0" stroke="#00f" stroke-width="2.6" stroke-linecap="round" fill="none"/>
<g stroke="#cd853f" stroke-width="2.6" stroke-linecap="round" fill="none"><use href="#t4" transform="matrix(-1 -.99 0 -3.8 258.4 963)"/><use href="#t3" transform="matrix(-1 .33 0 -3.8 264.4 961)"/><use href="#t1" transform="matrix(-1 -.43 0 -3.8 270.4 963.6)"/><use href="#t7" transform="matrix(-1 .97 0 3.8 276.4 957.8)"/><use href="#t4" transform="matrix(1 -.55 0 3.8 276.4 957.8)"/><use href="#t5" transform="matrix(-1 -.45 0 3.8 288.4 957.2)"/><use href="#t2" transform="matrix(-1 .36 0 3.8 294.4 955.1)"/><use href="#t5" transform="matrix(-1 -.14 0 -3.8 300.4 955.9)"/><use href="#t1" transform="matrix(1 .44 0 -3.8 300.4 955.9)"/><use href="#t1" transform="matrix(1 .59 0 -3.8 306.4 958.6)"/><use href="#t1" transform="matrix(1 1.69 0 -3.8 312.4 962.1)"/><use href="#t7" transform="matrix(-1 .46 0 3.8 324.4 969.4)"/><use href="#t4" transform="matrix(1 .5 0 3.8 324.4 969.4)"/><use href="#t2" transform="matrix(1 -.01 0 3.8 330.4 972.4)"/><use href="#t0" transform="matrix(1 -.38 0 -3.8 336.4 972.4)"/><use href="#t1" transform="matrix(1 -.83 0 -3.8 342.4 970.1)"/><use href="#t7" transform="matrix(-1 -.12 0 3.8 354.4 965.8)"/><use href="#t2" transform="matrix(1 -1.32 0 -3.8 354.4 965.8)"/><use href="#t5" transform="matrix(-1 1.05 0 -3.8 366.4 951.6)"/><use href="#t7" transform="matrix(1 .04 0 3.8 366.4 951.6)"/><use href="#t6" transform="matrix(1 .85 0 -3.8 372.4 951.9)"/><use href="#t2" transform="matrix(1 -1.34 0 3.8 378.4 957)"/><use href="#t2" transform="matrix(1 -.37 0 -3.8 384.4 948.9)"/><use href="#t3" transform="matrix(1 -1.99 0 3.8 390.4 946.7)"/><use href="#t7" transform="matrix(-1 6.2 0 3.8 402.4 897.6)"/><use href="#t3" transform="matrix(-1 -.41 0 9 408.4 900)"/><use href="#t2" transform="matrix(1 2.6 0 9 408.4 900)"/><use href="#t7" transform="matrix(-1 .24 0 -9 420.4 914.2)"/><use href="#t0" transform="matrix(-1 -1.92 0 9 426.4 925.7)"/><use href="#t5" transform="matrix(-1 .46 0 9 432.4 923)"/><use href="#t2" transform="matrix(1 1.6 0 -9 432.4 923)"/><use href="#t0" transform="matrix(-1 3.68 0 -9 444.4 910.5)"/><use href="#t4" transform="matrix(1 -7 0 9 444.4 910.5)"/><use href="#t6" transform="matrix(-1 -2.34 0 9 456.4 882.5)"/><use href="#t2" transform="matrix(1 2.32 0 9 456.4 882.5)"/><use href="#t6" transform="matrix(-1 7.13 0 9 468.4 853.6)"/><use href="#t6" transform="matrix(-1 -20.1 0 -9 474.4 974.2)"/><use href="#t6" transform="matrix(1 1.17 0 -3.8 474.4 974.2)"/><use href="#t4" transform="matrix(-1 -1.14 0 -3.8 486.4 988.1)"/><use href="#t7" transform="matrix(1 .12 0 -3.8 486.4 988.1)"/><use href="#t0" transform="matrix(-1 1.73 0 3.8 498.4 978.4)"/><use href="#t4" transform="matrix(1 -.55 0 -3.8 498.4 978.4)"/><use href="#t6" transform="matrix(-1 .84 0 3.8 510.4 970)"/><use href="#t7" transform="matrix(1 .96 0 3.8 510.4 970)"/><use href="#t3" transform="matrix(-1 -.1 0 3.8 522.4 976.4)"/><use href="#t4" transform="matrix(-1 -.62 0 3.8 528.4 980.1)"/><use href="#t5" transform="matrix(-1 .31 0 3.8 534.4 978.3)"/><use href="#t7" transform="matrix(1 .53 0 -3.8 534.4 978.3)"/><use href="#t7" transform="matrix(-1 .95 0 -3.8 546.4 975.8)"/><use href="#t3" transform="matrix(1 .14 0 -3.8 546.4 975.8)"/><use href="#t7" transform="matrix(-1 .51 0 3.8 558.4 973.5)"/><use href="#t2" transform="matrix(1 1.28 0 -3.8 558.4 973.5)"/><use href="#t2" transform="matrix(-1 1.86 0 -3.8 570.4 970)"/><use href="#t1" transform="matrix(1 -2.25 0 3.8 570.4 970)"/><use href="#t6" transform="matrix(1 .87 0 3.8 576.4 956.6)"/><use href="#t5" transform="matrix(1 2.32 0 3.8 582.4 961.8)"/><use href="#t4" transform="matrix(-1 0 0 3.8 594.4 975.6)"/><use href="#t5" transform="matrix(1 -2.77 0 -3.8 594.4 975.6)"/><use href="#t2" transform="matrix(1 -.2 0 -3.8 600.4 959)"/><use href="#t1" transform="matrix(-1 -3.55 0 3.8 612.4 979.1)"/><use href="#t4" transform="matrix(-1 1.09 0 -3.8 618.4 972.6)"/><use href="#t5" transform="matrix(-1 -1.67 0 -3.8 624.4 982.6)"/><use href="#t7" transform="matrix(1 1.57 0 -3.8 624.4 982.6)"/><use href="#t7" transform="matrix(1 .15 0 3.8 630.4 992)"/><use href="#t2" transform="matrix(-1 -.68 0 -3.8 642.4 997)"/><use href="#t7" transform="matrix(1 -.16 0 3.8 642.4 997)"/><use href="#t5" transform="matrix(1 5.16 0 -3.8 648.4 996.1)"/><use href="#t7" transform="matrix(-1 4.48 0 -3.8 660.4 1000.2)"/><use href="#t0" transform="matrix(-1 3.97 0 -3.8 666.4 976.3)"/><use href="#t5" transform="matrix(1 -.23 0 3.8 666.4 976.3)"/><use href="#t0" transform="matrix(1 .53 0 -3.8 672.4 974.9)"/><use href="#t3" transform="matrix(-1 1.79 0 3.8 684.4 967.4)"/><use href="#t1" transform="matrix(-1 .24 0 -3.8 690.4 965.9)"/><use href="#t2" transform="matrix(-1 -1.25 0 3.8 696.4 973.4)"/><use href="#t1" transform="matrix(-1 1.88 0 3.8 702.4 962.1)"/><use href="#t1" transform="matrix(1 .15 0 3.8 702.4 962.1)"/><use href="#t2" transform="matrix(1 .5 0 3.8 708.4 963)"/><use href="#t7" transform="matrix(-1 -1.26 0 3.8 720.4 973.6)"/><use href="#t7" transform="matrix(1 .08 0 3.8 720.4 973.6)"/><use href="#t0" transform="matrix(-1 -2.26 0 -3.8 732.4 987.6)"/><use href="#t2" transform="matrix(1 1.61 0 -3.8 732.4 987.6)"/><use href="#t3" transform="matrix(1 .53 0 -3.8 738.4 997.3)"/><use href="#t0" transform="matrix(-1 .68 0 -3.8 750.4 996.4)"/><use href="#t2" transform="matrix(-1 -.52 0 -3.8 756.4 999.5)"/><use href="#t4" transform="matrix(1 -.1 0 -3.8 756.4 999.5)"/><use href="#t7" transform="matrix(1 .89 0 -3.8 762.4 998.9)"/><use href="#t6" transform="matrix(-1 -5.07 0 -3.8 774.4 1034.6)"/><use href="#t6" transform="matrix(-1 -.91 0 3.8 780.4 1040.1)"/><use href="#t7" transform="matrix(1 -1.47 0 -3.8 780.4 1040.1)"/><use href="#t3" transform="matrix(-1 3.22 0 -3.8 792.4 1011.9)"/><use href="#t5" transform="matrix(1 1.92 0 3.8 792.4 1011.9)"/><use href="#t4" transform="matrix(1 -1 0 3.8 798.4 1023.4)"/><use href="#t6" transform="matrix(1 .94 0 3.8 804.4 1017.4)"/><use href="#t6" transform="matrix(1 -.26 0 3.8 810.4 1023.1)"/><use href="#t7" transform="matrix(-1 2.15 0 3.8 822.4 1008.6)"/><use href="#t3" transform="matrix(-1 2.08 0 -3.8 828.4 996.1)"/><use href="#t2" transform="matrix(1 -1.26 0 -3.8 828.4 996.1)"/><use href="#t5" transform="matrix(1 -.55 0 3.8 834.4 988.5)"/><use href="#t4" transform="matrix(1 1.71 0 -3.8 840.4 985.2)"/><use href="#t6" transform="matrix(-1 -1.23 0 3.8 852.4 1002.9)"/><use href="#t0" transform="matrix(1 -.62 0 3.8 852.4 1002.9)"/><use href="#t5" transform="matrix(-1 .36 0 3.8 864.4 997)"/><use href="#t6" transform="matrix(-1 -2.68 0 -3.8 870.4 1013.1)"/><use href="#t5" transform="matrix(1 1.03 0 3.8 870.4 1013.1)"/><use href="#t4" transform="matrix(-1 .88 0 3.8 882.4 1014)"/><use href="#t0" transform="matrix(1 .21 0 3.8 882.4 1014)"/><use href="#t0" transform="matrix(-1 .77 0 -3.8 894.4 1010.6)"/><use href="#t2" transform="matrix(1 .09 0 3.8 894.4 1010.6)"/><use href="#t4" transform="matrix(1 .18 0 3.8 900.4 1011.2)"/><use href="#t4" transform="matrix(1 .1 0 3.8 906.4 1012.3)"/><use href="#t0" transform="matrix(1 -.2 0 3.8 912.4 1012.8)"/><use href="#t7" transform="matrix(1 .3 0 3.8 918.4 1011.7)"/><use href="#t5" transform="matrix(1 .06 0 -3.8 924.4 1013.5)"/><use href="#t2" transform="matrix(1 -.71 0 3.8 930.4 1013.8)"/><use href="#t5" transform="matrix(-1 .13 0 3.8 942.4 1008.8)"/><use href="#t4" transform="matrix(1 .47 0 3.8 942.4 1008.8)"/><use href="#t5" transform="matrix(1 -.16 0 3.8 948.4 1011.7)"/><use href="#t4" transform="matrix(-1 -.19 0 -3.8 960.4 1011.9)"/><use href="#t7" transform="matrix(1 1.07 0 -3.8 960.4 1011.9)"/><use href="#t4" transform="matrix(1 2.35 0 -3.8 966.4 1018.3)"/><use href="#t7" transform="matrix(1 -.5 0 -3.8 972.4 1032.4)"/><use href="#t0" transform="matrix(1 -.64 0 3.8 978.4 1029.4)"/><use href="#t1" transform="matrix(1 -1.04 0 3.8 984.4 1025.6)"/><use href="#t6" transform="matrix(-1 .54 0 -3.8 996.4 1016.1)"/><use href="#t6" transform="matrix(1 -.21 0 -3.8 996.4 1016.1)"/><use href="#t5" transform="matrix(1 -.07 0 3.8 1002.4 1014.8)"/><use href="#t2" transform="matrix(1 .41 0 3.8 1008.4 1014.4)"/><use href="#t0" transform="matrix(1 .07 0 -3.8 1014.4 1016.8)"/><use href="#t7" transform="matrix(-1 1.6 0 3.8 1026.4 1007.6)"/><use href="#t4" transform="matrix(-1 .62 0 -3.8 1032.4 1003.9)"/><use href="#t1" transform="matrix(1 1.74 0 3.8 1032.4 1003.9)"/><use href="#t5" transform="matrix(-1 -1.82 0 3.8 1044.4 1025.2)"/><use href="#t1" transform="matrix(1 -.18 0 -3.8 1044.4 1025.2)"/><use href="#t0" transform="matrix(-1 -.38 0 3.8 1056.4 1026.4)"/><use href="#t2" transform="matrix(-1 -.75 0 -3.8 1062.4 1030.9)"/><use href="#t0" transform="matrix(-1 -1.38 0 -3.8 1068.4 1039.2)"/><use href="#t0" transform="matrix(1 -9.74 0 -3.8 1068.4 1039.2)"/><use href="#t5" transform="matrix(1 -5.08 0 -8.5 1074.4 980.7)"/><use href="#t6" transform="matrix(-1 .75 0 8.5 1086.4 945.8)"/><use href="#t7" transform="matrix(1 2.65 0 8.5 1086.4 945.8)"/><use href="#t4" transform="matrix(1 -3.79 0 8.5 1092.4 961.7)"/><use href="#t5" transform="matrix(-1 .91 0 8.5 1104.4 933.5)"/><use href="#t3" transform="matrix(-1 1.94 0 8.5 1110.4 921.9)"/><use href="#t3" transform="matrix(-1 -4.79 0 8.5 1116.4 950.6)"/><use href="#t7" transform="matrix(1 .96 0 -8.5 1116.4 950.6)"/><use href="#t2" transform="matrix(1 -1.89 0 -8.5 1122.4 956.4)"/><use href="#t3" transform="matrix(1 -3.33 0 -8.5 1128.4 945.1)"/><use href="#t2" transform="matrix(1 3.9 0 8.5 1134.4 925.1)"/><use href="#t7" transform="matrix(1 7.92 0 -8.5 1140.4 948.4)"/><use href="#t1" transform="matrix(-1 -.09 0 8.5 1152.4 996.5)"/><use href="#t6" transform="matrix(1 -2.1 0 -8.5 1152.4 996.5)"/><use href="#t0" transform="matrix(1 8.29 0 -8.5 1158.4 983.9)"/><use href="#t4" transform="matrix(1 .44 0 -3.8 1164.4 1033.6)"/><use href="#t2" transform="matrix(-1 -.93 0 -3.8 1176.4 1041.9)"/><use href="#t0" transform="matrix(1 -1.07 0 -3.8 1176.4 1041.9)"/><use href="#t3" transform="matrix(-1 1.07 0 3.8 1188.4 1029)"/><use href="#t1" transform="matrix(1 -.52 0 3.8 1188.4 1029)"/><use href="#t3" transform="matrix(-1 -.48 0 -3.8 1200.4 1028.8)"/><use href="#t1" transform="matrix(-1 .87 0 -3.8 1206.4 1023.5)"/><use href="#t2" transform="matrix(1 -.51 0 3.8 1206.4 1023.5)"/><use href="#t1" transform="matrix(1 -1.51 0 -5.5 1212.4 1020.5)"/><use href="#t6" transform="matrix(1 .31 0 -5.5 1218.4 1011.5)"/><use href="#t4" transform="matrix(1 -1.91 0 -5.5 1224.4 1013.3)"/><use href="#t5" transform="matrix(-1 .69 0 -5.5 1236.4 997.8)"/><use href="#t4" transform="matrix(1 .31 0 5.5 1236.4 997.8)"/><use href="#t3" transform="matrix(-1 -1.85 0 -5.5 1248.4 1010.7)"/><use href="#t2" transform="matrix(1 -4.56 0 5.5 1248.4 1010.7)"/><use href="#t0" transform="matrix(-1 5.38 0 -5.5 1260.4 951.1)"/><use href="#t7" transform="matrix(-1 -3.06 0 -8 1266.4 969.5)"/><use href="#s2" transform="matrix(-1 4.66 0 -8 1272.4 941.5)"/><use href="#s5" transform="matrix(-1 -1.89 0 8 1278.4 952.9)"/><use href="#s7" transform="matrix(1 .69 0 -8 1278.4 952.9)"/><use href="#s7" transform="matrix(1 1.29 0 8 1284.4 957)"/><use href="#s3" transform="matrix(-1 -1.82 0 8 1296.4 975.7)"/><use href="#s2" transform="matrix(1 -.89 0 -8 1296.4 975.7)"/><use href="#s7" transform="matrix(-1 .6 0 -8 1308.4 966.8)"/><use href="#s3" transform="matrix(1 -.32 0 -8 1308.4 966.8)"/><use href="#s7" transform="matrix(1 2.27 0 8 1314.4 964.9)"/><use href="#s3" transform="matrix(1 .06 0 8 1320.4 978.5)"/><use href="#s2" transform="matrix(-1 1.22 0 -8 1332.4 971.6)"/><use href="#s5" transform="matrix(1 -1 0 -8 1332.4 971.6)"/><use href="#s6" transform="matrix(1 -.25 0 -8 1338.4 965.6)"/><use href="#s0" transform="matrix(1 -.43 0 -8 1344.4 964.1)"/><use href="#s4" transform="matrix(1 1.13 0 8 1350.4 961.5)"/><use href="#s5" transform="matrix(-1 .6 0 -8 1362.4 964.7)"/><use href="#s6" transform="matrix(1 2.81 0 8 1362.4 964.7)"/><use href="#s0" transform="matrix(1 4.13 0 8 1368.4 981.5)"/><use href="#s1" transform="matrix(1 -2.79 0 -8 1374.4 1006.3)"/><use href="#s5" transform="matrix(1 -.14 0 -8 1380.4 989.5)"/><use href="#s7" transform="matrix(-1 -.37 0 -8 1392.4 990.9)"/><use href="#s0" transform="matrix(-1 .37 0 -8 1398.4 988.7)"/><use href="#s1" transform="matrix(-1 1.88 0 -8 1404.4 977.4)"/><use href="#s0" transform="matrix(1 .8 0 -8 1404.4 977.4)"/><use href="#s5" transform="matrix(-1 -2.24 0 8 1416.4 995.6)"/><use href="#s6" transform="matrix(-1 2.94 0 -8 1422.4 978)"/><use href="#s6" transform="matrix(-1 -2.36 0 8 1428.4 992.2)"/><use href="#s3" transform="matrix(1 1.46 0 8 1428.4 992.2)"/><use href="#s5" transform="matrix(-1 -.77 0 8 1440.4 1005.6)"/><use href="#s5" transform="matrix(-1 -.61 0 -8 1446.4 1009.2)"/><use href="#s4" transform="matrix(1 -2.3 0 -8 1446.4 1009.2)"/><use href="#s1" transform="matrix(-1 -1.4 0 -8 1458.4 1003.8)"/><use href="#s5" transform="matrix(1 .28 0 -8 1458.4 1003.8)"/><use href="#s5" transform="matrix(-1 1.26 0 8 1470.4 998)"/><use href="#s2" transform="matrix(-1 -1.62 0 8 1476.4 1007.7)"/><use href="#s6" transform="matrix(1 5.18 0 -8 1476.4 1007.7)"/><use href="#s7" transform="matrix(1 -1.92 0 -8 1482.4 1038.8)"/><use href="#s4" transform="matrix(1 -4.1 0 -8 1488.4 1027.3)"/><use href="#s4" transform="matrix(1 1.92 0 -8 1494.4 1002.7)"/><use href="#s3" transform="matrix(-1 -2.98 0 8 1506.4 1032.1)"/><use href="#s1" transform="matrix(1 .99 0 -8 1506.4 1032.1)"/><use href="#s0" transform="matrix(-1 2.93 0 -8 1518.4 1020.5)"/><use href="#s5" transform="matrix(-1 -.08 0 -8 1524.4 1020.9)"/><use href="#s4" transform="matrix(-1 -2.6 0 8 1530.4 1036.5)"/><use href="#s4" transform="matrix(-1 2.9 0 -8 1536.4 1019.1)"/><use href="#s1" transform="matrix(1 -3.33 0 -8 1536.4 1019.1)"/><use href="#s6" transform="matrix(-1 1.44 0 -8 1548.4 990.5)"/><use href="#s6" transform="matrix(-1 -.23 0 8 1554.4 991.9)"/><use href="#s7" transform="matrix(1 3.78 0 8 1554.4 991.9)"/><use href="#s5" transform="matrix(-1 2.91 0 -8 1566.4 997.1)"/><use href="#s3" transform="matrix(1 -2.21 0 8 1566.4 997.1)"/><use href="#s3" transform="matrix(1 .45 0 -8 1572.4 983.9)"/><use href="#s0" transform="matrix(-1 .22 0 -8 1584.4 985.3)"/><use href="#s6" transform="matrix(1 3.29 0 8 1584.4 985.3)"/><use href="#s7" transform="matrix(-1 1.67 0 -8 1596.4 995)"/><use href="#s2" transform="matrix(1 1.77 0 8 1596.4 995)"/><use href="#s3" transform="matrix(1 -.13 0 -8 1602.4 1005.6)"/><use href="#s3" transform="matrix(-1 -1.22 0 -8 1614.4 1012.2)"/><use href="#t6" transform="matrix(-1 -3.74 0 -3.8 1620.4 1034.6)"/><use href="#t3" transform="matrix(1 -.25 0 -3.8 1620.4 1034.6)"/><use href="#t2" transform="matrix(-1 -1.28 0 3.8 1632.4 1040.8)"/><use href="#t0" transform="matrix(1 -.33 0 -3.8 1632.4 1040.8)"/><use href="#t2" transform="matrix(1 1.79 0 -3.8 1638.4 1038.8)"/><use href="#t3" transform="matrix(-1 -.55 0 -3.8 1650.4 1052.9)"/><use href="#t4" transform="matrix(1 -.56 0 -3.8 1650.4 1052.9)"/><use href="#t4" transform="matrix(-1 .85 0 3.8 1662.4 1044.5)"/><use href="#t2" transform="matrix(-1 .97 0 3.8 1668.4 1038.6)"/><use href="#t0" transform="matrix(1 .89 0 3.8 1668.4 1038.6)"/><use href="#t2" transform="matrix(-1 -1.93 0 -3.8 1680.4 1055.6)"/><use href="#t6" transform="matrix(-1 -1.66 0 -3.8 1686.4 1065.5)"/><use href="#t6" transform="matrix(-1 -.21 0 -3.8 1692.4 1066.8)"/><use href="#t4" transform="matrix(-1 .76 0 -3.8 1698.4 1062.2)"/><use href="#t5" transform="matrix(1 .46 0 3.8 1698.4 1062.2)"/></g>
<path d="M297 935h0m0 .5h0m.5-2h0m.5-14h0m.5 5.5h0m0 9.5h0m16-14h0m0-32h0m0 43h0m0-35.5h0m.5 5h0m0 1.5h0m0 .5h0m0 12h0m0 20h0m.5-6h0m0-24.5h0m0-11.5h0m0 39h0m0-40.5h0m188 50.5h0m0-17h0m0 42.5h0m0-9.5h0m.5 2.5h0m0-30h0m0-111h0m.5 118h0m0 27.5h0m0-25h0m.5 3.5h0m27 23.5h0m.5-25.5h0m0 19h0m0-11.5h0m.5-5.5h0m0 5.5h0m50 145.5h0m0-21.5h0m0-11h0m0-52h0m0 41h0m0-49h0m0 55h0m0 61.5h0m.5-87.5h0m0 64h0m0-73h0m0 9.5h0m0 3.5h0m0-24h0m0 50.5h0m0 33h0m0-60.5h0m0 85.5h0m0-41.5h0m0-2.5h0m0 43.5h0m.5-58.5h0m0 55h0m0-34h0m0-37.5h0m0-38.5h0m0 82h0m0 10.5h0" stroke="#cd853f" stroke-width="2.6" stroke-linecap="round" fill="none"/>
<path d="M665.5 966h0m0 5.5h0m0-5.5h0m.5-11h0m0 1.5h0m0 16h0m15 150h0m72.5-146h0m.5-1.5h0m0-6h0m0-5h0m.5 9h0m0 10.5h0m.5-21.5h0m0 17.5h0m3 1h0m0-13.5h0m.5-5.5h0m0 23.5h0m.5-22.5h0m0 20h0m9.5-21h0m9 23.5h0m50 72h0m22-94.5h0m0-5.5h0m.5 7h0m0-27.5h0m0 32.5h0m0-14h0m0-2h0m.5 2.5h0m0-7h0m0 28h0m27.5-22.5h0m.5 4h0m0 6h0m0 2.5h0m.5-11h0m0 0h0m9.5 113h0m0 9h0m4.5-112h0m0 17h0m0 3h0m.5-4.5h0m0-1h0m0-3h0m0-7.5h0m34 20h0m1 2h0m0 5.5h0m.5-8.5h0" stroke="#cd853f" stroke-width="2.6" stroke-linecap="round" fill="none"/>
<path d="M1124 957h0m0 70h0m0-2h0m0-69h0m0 70h0m0-11h0m0 11h0m0-34.5h0m.5-50h0m0 1.5h0m0 57h0m0 7h0m0-8.5h0m0-36.5h0m.5-16.5h0m0-4h0m0 50h0m0-32.5h0m2.5-105h0m2 14h0m14.5 108h0m0 49.5h0m.5 20.5h0m0-67h0m0 59h0m0-2h0m0 20.5h0m0-85.5h0m0 36h0m0 2h0m0 25.5h0m.5-64.5h0m0 75.5h0m0-7.5h0m0-41.5h0m0 10.5h0m0-19.5h0m0 33h0m0 14h0m0-37h0m0 38h0m.5-12.5h0m0-31h0m0-26.5h0m0 40.5h0m5 38h0m0-60h0m0 6h0m0 25h0m0 25.5h0m0-81.5h0m0 50h0m0-46h0m0 64.5h0m0-61.5h0m0 11.5h0m.5 33.5h0m0 25h0m0-35.5h0m0-28h0m0 17h0m0-10h0m0 58h0m0-48h0m0-11h0m0 48h0m.5-67.5h0m0 83.5h0m0-32h0m0-42.5h0m0 41h0m0-45.5h0m0 7.5h0m0 7h0m0 38h0m117-165.5h0m23.5-49.5h0m13 72.5h0m0 13h0m0-5h0m0-5.5h0m.5-2.5h0m0 1h0m0 40.5h0m0-35h0m.5 10h0" stroke="#cd853f" stroke-width="2.6" stroke-linecap="round" fill="none"/>
<path d="M1341.5 869.5h0m.5-1.5h0m.5 2.5h0m0 3.5h0m0-4.5h0m.5 258h0m0-259.5h0m.5 261h0m0-9.5h0m0-2h0m28-62.5h0m17-191.5h0m5.5 178.5h0m18-201.5h0m28.5 9h0m0 232h0m3-263h0m43 263h0m69.5-268h0m80 168.5h0m17.5 7.5h0m0 21h0m0 1h0m0-3.5h0m0-9h0m0-11.5h0m0 23h0m.5-23.5h0m0 16h0m0 9.5h0m0-7.5h0m0-21.5h0m0 17.5h0m0 16.5h0m0-19h0m0-20h0m.5 19h0m0 12.5h0m0-30.5h0m0 15.5h0m0-9.5h0m.5 13.5h0m1-20h0m2-60h0m0 161.5h0" stroke="#cd853f" stroke-width="2.6" stroke-linecap="round" fill="none"/>
<path d="M1343.5 973h0m2.5 90.5h0m1-125.5h0m2 85.5h0m3-5.5h0m3.5-60.5h0m3 53.5h0m2-24h0m1 26.5h0m0 47.5h0m6-41.5h0m2 23.5h0m1.5-39h0m3-9h0m.5-7.5h0m0-4.5h0m3-42.5h0m10.5 29h0m1 4.5h0m1 150.5h0m0-4h0m.5 13h0m.5-8h0m.5 4.5h0m.5-1h0m0-1.5h0m.5 .5h0m0-2.5h0m.5 2.5h0m0 5.5h0m.5-66h0m.5 53h0m.5 4.5h0m.5-63h0m0 62.5h0m1 9.5h0m0-1h0m.5-9.5h0m0 .5h0m0 8h0m.5-100.5h0m.5-92h0m0 189.5h0m.5 1h0m2-1h0m0 1h0m3-94h0m.5-69.5h0m3.5 49h0m2.5-43h0m0 46h0m1-23.5h0m.5-10h0m4.5 46h0m2-31.5h0m13 59.5h0m2.5-52h0m2.5-34h0m5.5 61.5h0m2-6.5h0m0-4h0m.5-46.5h0m1 44.5h0m1-24.5h0m1-18.5h0m1.5 11.5h0m7.5 47h0m1.5-.5h0m3-11h0m3.5-6.5h0m3.5-35.5h0m0 72h0m4.5-63h0m4 67.5h0m1.5-51h0m.5 36.5h0m7.5-76.5h0m5 74h0m.5-70h0m2 23.5h0m0-13.5h0m12.5 15.5h0m5 33.5h0m9-10h0m.5 12.5h0m3-11.5h0m5.5-33.5h0m1 13.5h0m3.5-41.5h0m0-18h0m8.5 99h0m0-39.5h0m1-1h0m5 1.5h0m5.5-4h0m4-62.5h0m4.5 66.5h0m5-52h0m12 97h0m4-89.5h0m1 29.5h0m.5-47h0m1 49h0m.5 60h0m.5 15h0m2-99.5h0m11.5 70h0m2.5-51h0m5 70h0m1.5 6.5h0m1.5-95.5h0m2 4.5h0m1.5 0h0" stroke="#cd853f" stroke-width="2.6" stroke-linecap="round" fill="none"/>
</g>
<g clip-path="url(#clipD)"><path d="M252.4 1379l.5-27l.5 41l.5-47l.5 51l.5-39l.5 33l.5-39l.5 0l.5 3l.5 51l.5-1l.5-5l.5 10l.5 5l.5-46l.5 41l.5-40l.5 39l.5-6l.5-36l.5-2l.5 39l.5-35l.5 39l.5-2l.5 4l.5-31l.5 36l.5-34l.5 33l.5-40l.5 40l.5-39l.5 32l.5-33l.5 32l.5-3l.5 1l.5-34l.5 35l.5-30l.5 27l.5 11l.5-5l.5-4l.5-42l.5 2l.5 31l.5 2l.5-3l.5 3l.5-10l.5-41l.5 43l.5-37l.5 31l.5 7l.5-1l.5-49l.5 41l.5-34l.5 37l.5-37l.5 30l.5-32l.5-6l.5 40l.5-8l.5-30l.5 37l.5-37l.5 44l.5-35l.5 36l.5-33l.5 47l.5-47l.5 42l.5-47l.5 59l.5 0l.5 13l.5-11l.5-61l.5 6l.5 63l.5 0l.5-2l.5-58l.5 66l.5 11l.5-32l.5-88l.5 89l.5-58l.5 51l.5-56l.5 56l.5-42l.5 50l.5-61l.5 5l.5 53l.5-1l.5-35l.5 40l.5-37l.5 41l.5-52l.5 3l.5 49l.5-4l.5-47l.5 44l.5-57l.5 54l.5-52l.5 0l.5 12l.5 36l.5-35l.5 50l.5-51l.5 48l.5-247l.5 373l.5-174l.5 41l.5-49l.5 44l.5-47l.5 51l.5-39l.5-12l.5 4l.5 59l.5 5l.5-8l.5-33l.5 46l.5-55l.5 46l.5-47l.5 37l.5-45l.5 46l.5-42l.5 47l.5-53l.5 53l.5-47l.5 42l.5-41l.5 43l.5-57l.5 54l.5-50l.5 35l.5-40l.5 42l.5-41l.5 39l.5-34l.5 38l.5-40l.5 33l.5 3l.5-3l.5-30l.5 28l.5-27l.5 31l.5-37l.5 40l.5-4l.5 3l.5-34l.5 1l.5-3l.5 2l.5 40l.5 8l.5-38l.5 46l.5-35l.5 37l.5-33l.5-4l.5 5l.5 71l.5-58l.5-4l.5-8l.5 39l.5-34l.5 36l.5-36l.5 38l.5 6l.5-2l.5-42l.5 36l.5-35l.5 30l.5-30l.5 37l.5-48l.5 47l.5-10l.5 3l.5-48l.5 39l.5-39l.5-16l.5 10l.5-8l.5-3l.5 31l.5-34l.5 39l.5-48l.5 32l.5-32l.5 45l.5-50l.5 41l.5-41l.5 54l.5-52l.5 48l.5-48l.5 1l.5 44l.5 12l.5-57l.5-1l.5 4l.5 50l.5-60l.5 10l.5 3l.5 40l.5-42l.5 43l.5-38l.5-8l.5 8l.5 31l.5-35l.5 33l.5-38l.5 38l.5 2l.5-45l.5 3l.5-4l.5 1l.5 39l.5-29l.5 38l.5-3l.5-5l.5-28l.5-8l.5 41l.5-45l.5 6l.5 36l.5-32l.5 30l.5-34l.5 45l.5-50l.5 1l.5 4l.5 48l.5-43l.5 44l.5-47l.5 61l.5-8l.5 1l.5-48l.5 47l.5-53l.5 68l.5-6l.5 19l.5-65l.5 66l.5 15l.5 1l.5-61l.5 56l.5-9l.5-2l.5-7l.5 15l.5-81l.5 94l.5-116l.5 103l.5-135l.5-24l.5 42l.5 104l.5-119l.5 138l.5-159l.5 189l.5-193l.5 149l.5-127l.5 128l.5-116l.5 173l.5-182l.5 20l.5 5l.5-38l.5 3l.5 2l.5 6l.5 112l.5-100l.5 83l.5 6l.5 4l.5-73l.5 62l.5-69l.5-8l.5 1l.5 93l.5-85l.5 75l.5-87l.5 13l.5 3l.5 49l.5-71l.5 72l.5-9l.5-6l.5-73l.5 65l.5-60l.5 64l.5-53l.5 69l.5-51l.5 47l.5-60l.5 60l.5-52l.5 61l.5-56l.5-12l.5 9l.5 10l.5 41l.5-41l.5 4l.5 51l.5-61l.5 54l.5-73l.5 92l.5-86l.5 64l.5-9l.5 5l.5 20l.5-21l.5-77l.5 0l.5 86l.5 6l.5-122l.5 124l.5-93l.5 84l.5-89l.5 82l.5-102l.5 107l.5-117l.5 18l.5-6l.5 94l.5-6l.5 67l.5-69l.5-2l.5 4l.5-83l.5 2l.5-76l.5 72l.5 85l.5-5l.5 0l.5-85l.5 88l.5-82l.5 68l.5-7l.5 5l.5-43l.5 38l.5-46l.5 47l.5 7l.5-51l.5-20l.5 4l.5 1l.5 65l.5-63l.5 70l.5-89l.5 92l.5-82l.5 1l.5 88l.5-119l.5 21l.5 100l.5-112l.5 118l.5-92l.5 94l.5-116l.5-45l.5 161l.5-1l.5-85l.5 86l.5 0l.5-3l.5-51l.5 62l.5-57l.5-5l.5 55l.5 11l.5-50l.5 55l.5-63l.5 49l.5-4l.5 2l.5-42l.5 53l.5-6l.5-39l.5 1l.5 4l.5-5l.5 38l.5-45l.5 55l.5-45l.5 50l.5-44l.5 44l.5-39l.5 50l.5-51l.5 48l.5-32l.5 2l.5-8l.5 50l.5-42l.5 34l.5-35l.5-9l.5-1l.5 55l.5-48l.5 40l.5-51l.5 61l.5-54l.5 47l.5-47l.5 60l.5-69l.5 67l.5-54l.5 42l.5-55l.5 54l.5 94l.5-85l.5-57l.5 0l.5 7l.5 0l.5-12l.5 60l.5-250l.5 373l.5-164l.5 44l.5-45l.5 45l.5-44l.5-4l.5 42l.5-48l.5 11l.5-4l.5-5l.5 32l.5-4l.5 0l.5-41l.5 9l.5 0l.5 34l.5-36l.5 56l.5-53l.5 44l.5-37l.5 35l.5-29l.5 45l.5-52l.5 54l.5-42l.5 38l.5-40l.5 51l.5-10l.5 1l.5 1l.5 6l.5-45l.5 4l.5-8l.5 41l.5-40l.5-1l.5 50l.5-36l.5-4l.5 36l.5-48l.5 57l.5-46l.5 41l.5-49l.5 7l.5-11l.5 98l.5-93l.5 38l.5-35l.5-12l.5 12l.5 1l.5-1l.5 49l.5 0l.5-47l.5-2l.5 47l.5-44l.5 43l.5-47l.5 41l.5-40l.5-1l.5 37l.5 4l.5-51l.5-1l.5 0l.5 49l.5-55l.5 48l.5-53l.5 47l.5-6l.5-2l.5-44l.5 49l.5-54l.5 45l.5-46l.5 49l.5-52l.5 56l.5 3l.5-4l.5-47l.5 53l.5-56l.5 43l.5-39l.5 38l.5-36l.5 38l.5-41l.5 51l.5-44l.5 38l.5-3l.5 3l.5-45l.5 53l.5-52l.5 53l.5 13l.5-66l.5 7l.5 46l.5-43l.5 45l.5-46l.5 59l.5 25l.5-31l.5-51l.5 4l.5 2l.5 42l.5-41l.5 45l.5-43l.5 45l.5-56l.5 42l.5-41l.5 41l.5-39l.5 37l.5-1l.5-44l.5 44l.5-60l.5 18l.5 53l.5-53l.5 43l.5-48l.5-34l.5 26l.5 53l.5-51l.5 59l.5-57l.5 48l.5-38l.5 54l.5-52l.5 49l.5-48l.5 138l.5-141l.5 61l.5-4l.5-12l.5-45l.5 49l.5-11l.5-54l.5 19l.5 41l.5-49l.5 67l.5-65l.5 64l.5-50l.5 49l.5-56l.5 61l.5-56l.5 3l.5 9l.5 54l.5-47l.5 42l.5-53l.5 52l.5-37l.5 41l.5-40l.5 37l.5-49l.5 51l.5-49l.5-13l.5 4l.5 0l.5 10l.5 38l.5 17l.5-64l.5-9l.5 50l.5-59l.5 61l.5-61l.5 58l.5-52l.5-1l.5 1l.5 70l.5-53l.5-2l.5-9l.5 53l.5-49l.5 58l.5-53l.5 41l.5-45l.5 48l.5-31l.5 37l.5-4l.5 0l.5-36l.5 47l.5-44l.5 46l.5-43l.5 34l.5-36l.5 31l.5 5l.5-3l.5-36l.5 7l.5 0l.5 29l.5-1l.5-7l.5-23l.5 28l.5-34l.5 30l.5-27l.5 34l.5-30l.5 34l.5-29l.5 4l.5 33l.5-4l.5-27l.5 8l.5-2l.5 31l.5-29l.5 29l.5-29l.5 32l.5-28l.5 34l.5-24l.5 25l.5-35l.5 38l.5-38l.5 1l.5-4l.5-8l.5 4l.5 32l.5-41l.5 32l.5-31l.5-2l.5-1l.5 28l.5-43l.5 39l.5-37l.5 46l.5 4l.5 4l.5-41l.5 31l.5 6l.5-40l.5-2l.5 42l.5 11l.5-3l.5-44l.5 46l.5-32l.5 41l.5-3l.5-25l.5 3l.5 1l.5 6l.5 30l.5-33l.5-8l.5-1l.5 45l.5-46l.5 43l.5-5l.5 5l.5-45l.5 46l.5-47l.5 43l.5-52l.5 43l.5 7l.5-6l.5 4l.5-1l.5-62l.5-1l.5 10l.5 48l.5-56l.5 48l.5 0l.5 1l.5-2l.5-43l.5-8l.5 59l.5-54l.5 56l.5-61l.5 51l.5-37l.5 45l.5-49l.5 56l.5-56l.5 51l.5 1l.5-10l.5-39l.5-2l.5 2l.5 45l.5-51l.5 67l.5-66l.5 66l.5-80l.5 63l.5-64l.5 61l.5-74l.5 71l.5-59l.5 67l.5-70l.5 59l.5-71l.5 59l.5-59l.5-18l.5 4l.5 83l.5-98l.5 89l.5-93l.5 74l.5-82l.5 19l.5-11l.5-17l.5 7l.5 96l.5-102l.5 134l.5-35l.5-17l.5 2l.5-79l.5 1l.5 75l.5 16l.5-20l.5-82l.5 87l.5-75l.5 74l.5 6l.5-104l.5 13l.5 60l.5 4l.5-4l.5-50l.5 62l.5-79l.5 2l.5 2l.5-5l.5 2l.5 57l.5-63l.5 55l.5-51l.5 57l.5-55l.5 52l.5-65l.5 60l.5-55l.5 77l.5-69l.5 54l.5-56l.5 48l.5-58l.5 63l.5-57l.5 59l.5-64l.5 56l.5 12l.5-65l.5 13l.5 3l.5-6l.5 57l.5-72l.5 56l.5-51l.5 43l.5-56l.5 51l.5 3l.5 1l.5-56l.5 52l.5-42l.5 47l.5-60l.5 64l.5-61l.5 51l.5-42l.5 2l.5 55l.5-56l.5 57l.5-5l.5-46l.5 7l.5-12l.5 12l.5 49l.5 9l.5-50l.5 69l.5-58l.5-11l.5 11l.5-9l.5 59l.5 17l.5-59l.5 52l.5-57l.5 62l.5-48l.5 55l.5-64l.5 7l.5 57l.5-11l.5-55l.5 50l.5-40l.5 46l.5-52l.5 62l.5-52l.5 41l.5-51l.5 50l.5-51l.5 2l.5 12l.5 43l.5 4l.5 7l.5-73l.5 78l.5-63l.5 72l.5-87l.5 66l.5-79l.5 75l.5-103l.5 85l.5 10l.5-92l.5 12l.5 64l.5-152l.5 147l.5-64l.5 64l.5-70l.5 71l.5-5l.5-59l.5 5l.5 52l.5-56l.5 72l.5-74l.5 73l.5-54l.5 50l.5-48l.5 47l.5-40l.5 0l.5-6l.5 58l.5 4l.5 11l.5 18l.5 6l.5-39l.5 60l.5-52l.5 62l.5-13l.5 7l.5-64l.5 59l.5-49l.5 46l.5-53l.5 53l.5-51l.5 51l.5-53l.5 54l.5-65l.5 63l.5-2l.5-9l.5-53l.5 44l.5-50l.5 57l.5-59l.5 66l.5-68l.5 57l.5-55l.5 54l.5-46l.5 49l.5-6l.5 1l.5-45l.5 46l.5-3l.5-2l.5-1l.5 2l.5-12l.5 0l.5-59l.5 74l.5-54l.5-5l.5 4l.5 41l.5-43l.5 45l.5-41l.5 35l.5-37l.5 52l.5-54l.5 52l.5-56l.5 48l.5-45l.5 48l.5-59l.5 47l.5 8l.5 4l.5-51l.5 48l.5-52l.5 46l.5-48l.5 44l.5-54l.5 65l.5-68l.5 5l.5-7l.5-6l.5 3l.5 4l.5 4l.5 61l.5-62l.5 49l.5-75l.5 64l.5-56l.5-27l.5 22l.5 73l.5-61l.5 55l.5 2l.5 19l.5-8l.5-53l.5-4l.5 63l.5-3l.5-40l.5 0l.5 34l.5-40l.5 9l.5-1l.5 42l.5-4l.5 4l.5-51l.5 49l.5-56l.5 62l.5-49l.5 66l.5-84l.5 84l.5-85l.5-5l.5 13l.5 152l.5-154l.5 62l.5-59l.5 61l.5-62l.5 64l.5-53l.5 49l.5-53l.5 47l.5-64l.5 78l.5-73l.5 51l.5-60l.5 53l.5-169l.5 163l.5-65l.5 64l.5-4l.5-5l.5-74l.5 8l.5 4l.5 75l.5-80l.5 19l.5-2l.5-1l.5 14l.5-9l.5 1l.5 81l.5-13l.5-3l.5 4l.5 0l.5-59l.5 58l.5-235l.5 247l.5-247l.5 182l.5-13l.5 60l.5-47l.5-7l.5 2l.5 51l.5-37l.5 35l.5-45l.5 45l.5-35l.5 45l.5-41l.5 47l.5-59l.5 56l.5-60l.5 57l.5-35l.5 62l.5-7l.5 9l.5-57l.5 69l.5 96l.5-180l.5-10l.5 69l.5-55l.5 61l.5-66l.5 3l.5-17l.5 2l.5-1l.5 75l.5-4l.5-5l.5-62l.5 45l.5-51l.5 52l.5-55l.5-11l.5-8l.5 45l.5-39l.5-2l.5 41l.5 5l.5-40l.5 39l.5-49l.5 59l.5-46l.5-168l.5 169l.5 5l.5-10l.5 50l.5-47l.5 56l.5 10l.5 2l.5-53l.5 5l.5-15l.5 8l.5-2l.5 64l.5-75l.5 61l.5-54l.5 45l.5-50l.5 49l.5 21l.5-12l.5-63l.5 63l.5-71l.5 64l.5-48l.5-121l.5 111l.5 56l.5-47l.5 51l.5-61l.5 8l.5-5l.5 49l.5-43l.5 46l.5-58l.5 60l.5-41l.5 37l.5-44l.5 42l.5-38l.5-5l.5 42l.5-38l.5 0l.5 33l.5-39l.5 42l.5-38l.5 33l.5-30l.5 39l.5-2l.5-41l.5-7l.5 54l.5-45l.5 35l.5-43l.5-8l.5 58l.5-46l.5-4l.5 46l.5-44l.5-6l.5 51l.5-39l.5 7l.5 45l.5-61l.5 53l.5-39l.5 46l.5-46l.5 46l.5-43l.5-5l.5-2l.5 47l.5 3l.5-3l.5-51l.5 52l.5-44l.5 37l.5-41l.5 43l.5-42l.5 46l.5-47l.5 46l.5-9l.5-40l.5 2l.5 48l.5 7l.5-11l.5-32l.5 39l.5-36l.5 50l.5-52l.5 37l.5-38l.5 6l.5 0l.5 46l.5-53l.5 65l.5-57l.5 49l.5-54l.5-18l.5 8l.5-3l.5-10l.5 72l.5-86l.5 87l.5-85l.5 19l.5 1l.5 51l.5-63l.5 77l.5-71l.5 54l.5-56l.5 59l.5-39l.5-16l.5 17l.5 46l.5 15l.5-58l.5 1l.5 41l.5-46l.5 41l.5-44l.5 46l.5-37l.5 36l.5-42l.5 40l.5-55l.5 56l.5-48l.5 46l.5 1l.5 0l.5-61l.5 50l.5-51l.5 68l.5-70l.5 68l.5-56l.5 60l.5-5l.5-50l.5-9l.5 50l.5-55l.5 53l.5-33l.5 39l.5-46l.5-2l.5 51l.5 3l.5-53l.5 51l.5-51l.5 3l.5 43l.5 6l.5-58l.5 47l.5-42l.5 46l.5-47l.5 46l.5-42l.5 49l.5-39l.5 42l.5-49l.5 46l.5-53l.5 49l.5-50l.5 53l.5-52l.5 56l.5-61l.5 4l.5-3l.5-5l.5 1l.5 47l.5-51l.5 44l.5-60l.5 60l.5-57l.5 44l.5-45l.5 44l.5-47l.5 39l.5-31l.5-9l.5 3l.5 36l.5-38l.5 33l.5 5l.5 7l.5-55l.5 41l.5-41l.5-3l.5 7l.5 0l.5 3l.5 31l.5-39l.5 39l.5-49l.5 55l.5-3l.5 4l.5-60l.5 5l.5 0l.5 51l.5-54l.5 57l.5-45l.5 54l.5-69l.5 73l.5-61l.5 8l.5-12l.5 10l.5-8l.5 60l.5-4l.5-6l.5-57l.5 73l.5-20l.5-38l.5-1l.5 44l.5-53l.5 62l.5-66l.5 58l.5-2l.5 2l.5-46l.5 41l.5-48l.5 50l.5-42l.5-16l.5-3l.5 72l.5-12l.5-4l.5-46l.5 50l.5-41l.5 37l.5 15l.5-2l.5-58l.5 59l.5-50l.5 55l.5-58l.5 35l.5-42l.5 48l.5-55l.5 60l.5-61l.5 55l.5-48l.5 49l.5-48l.5 3l.5-1l.5 53l.5-48l.5 54l.5-48l.5 59l.5-62l.5 49l.5-33l.5 54l.5-63l.5 3l.5-5l.5 73l.5-63l.5 59l.5-54l.5 65l.5-63l.5 56l.5-56l.5 57l.5 12l.5-8l.5-7l.5 8l.5-53l.5 49l.5-36l.5 43l.5-53l.5 55l.5-41l.5 3l.5 49l.5-1l.5 0l.5-11l.5-44l.5 38l.5-42l.5 41l.5-34l.5 38l.5-44l.5 53l.5-48l.5 37l.5-31l.5 38l.5-44l.5 51l.5-45l.5 36l.5 9l.5-52l.5-5l.5 47l.5-5l.5 11l.5-64l.5-2l.5 1l.5 46l.5-42l.5 52l.5-55l.5 56l.5-67l.5 57l.5-2l.5-3l.5-46l.5 45l.5-43l.5 48l.5-4l.5-3l.5-3l.5-2l.5-41l.5 46l.5 0l.5 9l.5-58l.5 54l.5 6l.5-12l.5-67l.5 85l.5-83l.5 76l.5-72l.5 73l.5-91l.5 77l.5-83l.5 91l.5-79l.5 97l.5-98l.5 95l.5-107l.5 117l.5-5l.5-2l.5-88l.5 103l.5-11l.5 5l.5-234l.5 244l.5-11l.5-103l.5 124l.5-51l.5-99l.5 116l.5-103l.5-15l.5 11l.5 83l.5-70l.5 7l.5 1l.5-2l.5-13l.5 74l.5 16l.5-113l.5 8l.5 70l.5 80l.5-75l.5-82l.5 87l.5-106l.5 95l.5-112l.5 99l.5 9l.5 14l.5-109l.5 80l.5-154l.5 142l.5-95l.5 88l.5-74l.5-8l.5 94l.5-5l.5-67l.5 70l.5-72l.5 90l.5-18l.5 21l.5-81l.5 77l.5-87l.5 73l.5-72l.5 91l.5-5l.5 24l.5-73l.5 77l.5-72l.5 72l.5-74l.5 83l.5-89l.5 11l.5 10l.5 99l.5-82l.5 75l.5-81l.5-10l.5-3l.5 12l.5 24l.5 142l.5-161l.5 105l.5-109l.5 102l.5-81l.5 3l.5-18l.5 99l.5-110l.5 78l.5-84l.5 95l.5-1l.5-225l.5 141l.5 73l.5-102l.5-112l.5 123l.5 77l.5-93l.5 75l.5-95l.5 85l.5 143l.5-136l.5-97l.5 101l.5-96l.5 111l.5-121l.5 134l.5-17l.5 40l.5-163l.5 172l.5-159l.5-1l.5 32l.5 118l.5-112l.5 114l.5 138l.5-159l.5 159l.5-271l.5 27l.5 117l.5-143l.5 123l.5-100l.5 112l.5-111l.5 139l.5-105l.5 85l.5-95l.5-11l.5 123l.5 7l.5-119l.5 118l.5-130l.5 153l.5-130l.5 11l.5 124l.5-11l.5-126l.5 129l.5-130l.5 84l.5-111l.5 136l.5-134l.5 110l.5-18l.5 8l.5-96l.5 105l.5-1l.5-94l.5 18l.5 101l.5-114l.5 101l.5-91l.5 108l.5-122l.5 142l.5-144l.5 16l.5 92l.5-12l.5 12l.5-11l.5-60l.5 61l.5-56l.5 56l.5-58l.5-12l.5 11l.5 68l.5-59l.5 61l.5-6l.5 6l.5 0l.5-40l.5 0l.5 43l.5-50l.5 45l.5-39l.5-3l.5-2l.5 44l.5-37l.5-5l.5-7l.5-5l.5 37l.5-2l.5 0l.5-7l.5 3l.5-9l.5 3l.5-34l.5 3l.5 29l.5-1l.5-2l.5-29l.5 36l.5-40l.5-9l.5-3l.5 41l.5 8l.5-4l.5-37l.5 46l.5-49l.5 51l.5-52l.5 41l.5-32l.5 39l.5-53l.5 60l.5-61l.5 51l.5-43l.5 55l.5-53l.5 53l.5-53l.5 47l.5-50l.5 58l.5-46l.5 42l.5-4l.5 11l.5-46l.5 37l.5-39l.5 41l.5-40l.5 48l.5-54l.5 45l.5-47l.5 56l.5 3l.5 3l.5-54l.5-2l.5-7l.5-5l.5 2l.5-11l.5 9l.5 55l.5-65l.5 80l.5-95l.5 91l.5-75l.5 61l.5-85l.5 9l.5 9l.5 63l.5-73l.5 81l.5-68l.5-2l.5 5l.5 63l.5-54l.5 59l.5-54l.5 60l.5-70l.5 71l.5-62l.5 50l.5-67l.5 82l.5-88l.5 71l.5-73l.5 77l.5-101l.5 115l.5-97l.5 78l.5-91l.5 10l.5 6l.5 78l.5 9l.5 4l.5-91l.5 79l.5-71l.5 75l.5-93l.5 80l.5 15l.5-72l.5 2l.5 66l.5-76l.5 71l.5-70l.5 71l.5-60l.5 54l.5-66l.5 83l.5-91l.5 96l.5-91l.5 90l.5-106l.5 107l.5 1l.5 5l.5-95l.5 88l.5-122l.5 96l.5-66l.5 101l.5-119l.5 102l.5-103l.5 93l.5-108l.5 127l.5-142l.5 103l.5-80l.5 108l.5-126l.5 123l.5-131l.5 118l.5-97l.5 120l.5-156l.5 157l.5-161l.5 112l.5-154l.5 186l.5-128l.5 109l.5 19l.5-132l.5-15l.5 103l.5-2l.5 16l.5-99l.5 76l.5-52l.5 60l.5-54l.5 35l.5-165l.5 176l.5-75l.5 3l.5-25l.5 6l.5-3l.5-34l.5-20l.5 142l.5-151l.5 40l.5-14l.5 108l.5-108l.5 117l.5-117l.5 38l.5-3l.5 116l.5-108l.5 127l.5-11l.5-120l.5-5l.5 126l.5-102l.5 122l.5-126l.5 5l.5 30l.5 74l.5-75l.5 105l.5-100l.5 102l.5-10l.5 0l.5-109l.5 88l.5-93l.5 105l.5-95l.5 78l.5-82l.5 101l.5 2l.5-225l.5 123l.5 80l.5-68l.5-13l.5-14l.5 71l.5-59l.5-14l.5 5l.5 33l.5-34l.5 36l.5 2l.5 11l.5-55l.5 207l.5-193l.5 38l.5-36l.5 3l.5 2l.5 34l.5-43l.5 48l.5-54l.5-110l.5 177l.5-177l.5 136l.5 53l.5-37l.5 56l.5-38l.5 52l.5 13l.5 5l.5-54l.5 54l.5-63l.5 48l.5-72l.5 52l.5-3l.5-27l.5-70l.5-52l.5 13l.5 98l.5-84l.5 78l.5-93l.5 69l.5-63l.5 62l.5-54l.5 60l.5-60l.5 61l.5-59l.5 55l.5 6l.5-14l.5-55l.5 55l.5-46l.5 60l.5-68l.5 24l.5-10l.5 73l.5-69l.5 74l.5-75l.5 67l.5 11l.5-70l.5 10l.5 3l.5 61l.5 18l.5-18l.5-66l.5 75l.5-1l.5-82l.5 98l.5-92l.5 15l.5-24l.5 98l.5 4l.5-17l.5-57l.5 67l.5-89l.5 70l.5-75l.5 93l.5-77l.5 69l.5-182l.5 323l.5-204l.5 82l.5-91l.5 71l.5-80l.5 102l.5-112l.5 16l.5 11l.5 80l.5 8l.5 0l.5-13l.5 2l.5-68l.5 80l.5-77l.5 85l.5-75l.5 12l.5-7l.5 23l.5-11l.5 14l.5-10l.5-7l.5 5l.5 60l.5-49l.5-11l.5-6l.5 84l.5-78l.5 74l.5-66l.5 101l.5-89l.5 61l.5-65l.5-7l.5 17l.5 66l.5-79l.5 78l.5-86l.5 22l.5 87l.5 4l.5-106l.5 122l.5-95l.5 73l.5-85l.5 67l.5-94l.5-16l.5 81l.5 4l.5-94l.5 113l.5-121l.5 82l.5-105l.5-5l.5-35l.5 14l.5 1l.5 109l.5-83l.5 87l.5-112l.5 125l.5-105l.5 78l.5-75l.5 74l.5-77l.5 10l.5-1l.5 71l.5-70l.5 76l.5-65l.5 9l.5 81l.5 3l.5-68l.5 9l.5 102l.5-256l.5 225l.5 8l.5 0l.5 130l.5-69l.5 69l.5-84l.5 84l.5-80l.5 80l.5-72l.5 72l.5-76l.5 76l.5-76l.5 76l.5-78l.5 78l.5-78l.5 78l.5-82l.5 82l.5-77l.5 77l.5-83l.5-28l.5-12l.5 7l.5 3l.5-14l.5-49l.5 56l.5-73l.5 66l.5-62l.5 77l.5-87l.5-8l.5 8l.5 78l.5-106l.5 83l.5-86l.5 100l.5-109l.5-124l.5 119l.5-21l.5 32l.5 66l.5-63l.5-21l.5 21l.5 75l.5-1l.5 14l.5-112l.5 97l.5-79l.5 70l.5 1l.5 18l.5-100l.5 83l.5-94l.5 93l.5-86l.5 102l.5-3l.5 14l.5-111l.5 97l.5-89l.5 102l.5-110l.5 137l.5-113l.5 134l.5-152l.5 92l.5-105l.5 125l.5-103l.5 77l.5-103l.5 128l.5-114l.5-11l.5 0l.5 122l.5-96l.5 86l.5-86l.5 79l.5-90l.5 103l.5-117l.5 128l.5-117l.5 118l.5-145l.5 135l.5-152l.5 129l.5-107l.5 110l.5-206l.5 227l.5-129l.5 136l.5-234l.5 204l.5-97l.5 108l.5-111l.5 110l.5-101l.5 111l.5-117l.5 108l.5-121l.5 108l.5-92l.5 71l.5-72l.5 82l.5-74l.5 84l.5-67l.5-20l.5 8l.5-6l.5 11l.5 8l.5-21l.5 121l.5-98l.5 10l.5 1l.5 91l.5 37l.5-5l.5-148l.5 101l.5-107l.5 110l.5-97l.5 109l.5-102l.5 98l.5-105l.5 72l.5-67l.5 99l.5-4l.5-18l.5-78l.5 76l.5-81l.5 95l.5 0l.5-97l.5-23l.5 129l.5-8l.5-97l.5-19l.5 125l.5-102l.5 115l.5-132l.5 127l.5-136l.5 148l.5-104l.5 86l.5-107l.5 151l.5-15l.5-7l.5-93l.5 85l.5 12l.5-21l.5-100l.5 105l.5-78l.5 84l.5-89l.5-6l.5 5l.5 107l.5-84l.5 85l.5-101l.5 95l.5-86l.5 106l.5-83l.5 83l.5-96l.5-9l.5 101l.5-280l.5 176l.5 90l.5-266l.5 275l.5-108l.5 104l.5-90l.5 12l.5-1l.5 79l.5-74l.5 106l.5-114l.5-189l.5 218l.5 85l.5-93l.5 81l.5-69l.5 85l.5-103l.5 109l.5 16l.5-32l.5-12l.5 2l.5-100l.5 98l.5-106l.5 6l.5-2l.5 67l.5-78l.5 101l.5-90l.5 78l.5-76l.5 8l.5 4l.5 51l.5-50l.5 49l.5-50l.5 6l.5 0l.5 67l.5-16l.5-73l.5 6l.5 2l.5 67l.5 21l.5-117l.5 101l.5-101l.5 30l.5-20l.5 108l.5-126l.5 158l.5-166l.5 9l.5 162l.5-25l.5-162l.5 178l.5-12l.5-22l.5-109l.5 131l.5-169l.5 136l.5-94l.5 92l.5 37l.5-123l.5-15l.5 100l.5 21l.5-32l.5-93l.5 131l.5-108l.5 86l.5-118l.5 121l.5-94l.5 109l.5-107l.5 132l.5-122l.5 131l.5-29l.5 10l.5-172l.5 180l.5-8l.5-8l.5-149l.5 161l.5-177l.5 25l.5 130l.5 9l.5-172l.5 162l.5 20l.5-240l.5 64l.5 142l.5-192l.5 164l.5-159l.5 215l.5-176l.5 155l.5-137l.5 120l.5-130l.5 123l.5-143l.5 166l.5-128l.5 5l.5 17l.5 87l.5-106l.5 108l.5-107l.5 110l.5-119l.5 101l.5-93l.5-144l.5 124l.5 107l.5 34l.5-22l.5-110l.5 129l.5-95l.5 112l.5-124l.5 139l.5-136l.5 114l.5-101l.5 90l.5 54l.5-216l.5-22l.5-10l.5-39l.5 42l.5 39l.5-31l.5 12l.5 171l.5 8l.5 7l.5 10l.5-10l.5-110l.5 111l.5-83l.5 63l.5-84l.5 106l.5-25l.5 23l.5-19l.5-14l.5-82l.5 5l.5 79l.5-14l.5-78l.5-12l.5 9l.5 83l.5 7l.5-103l.5 6l.5 70l.5-73l.5 72l.5-72l.5-25l.5 1l.5 101l.5-120l.5 108l.5-94l.5 118l.5-2l.5 7l.5-135l.5 111l.5-211l.5 248l.5-121l.5 108l.5-124l.5 15l.5 105l.5 1l.5-65l.5 72l.5-59l.5 86l.5-77l.5-4l.5 82l.5 4l.5-85l.5 89l.5-83l.5 129l.5-22l.5-122l.5-15l.5 123l.5-125l.5 97l.5-91l.5 55l.5-86l.5 93l.5-80l.5 78l.5-65l.5 3l.5-22l.5 103l.5-98l.5 101l.5-92l.5 94l.5-94l.5 91l.5-99l.5 94l.5 7l.5-6l.5 6l.5-9l.5-65l.5 74l.5-77l.5-10l.5 2l.5 1l.5-2l.5-1l.5-15l.5 62l.5-64l.5 69l.5-67l.5 52l.5-53l.5 59l.5-67l.5 77l.5-82l.5 75l.5-16l.5 17l.5-76l.5 63l.5 16l.5-17l.5-68l.5 80l.5-81l.5 83l.5-66l.5 78l.5-21l.5-57l.5 0l.5 89l.5-104l.5 3l.5 12l.5-1l.5-5l.5 73l.5-76l.5 73l.5 11l.5 5l.5-68l.5-1l.5 7l.5 5l.5-22l.5 81l.5 1l.5 5l.5-4l.5 3l.5-77l.5 79l.5 3l.5 13l.5-89l.5 92l.5-90l.5 84l.5-86l.5 91l.5-105l.5 84l.5 22l.5-89l.5 3l.5-1l.5-11l.5 89l.5-109l.5 108l.5-122l.5 120l.5-105l.5 5l.5-13l.5 99l.5-87l.5 94l.5 11l.5 1l.5-18l.5 24l.5-121l.5-129l.5 129l.5 106l.5-92l.5 82l.5-79l.5-12l.5 10l.5 75l.5-11l.5 6l.5-86l.5 84l.5 3l.5 6l.5-73l.5 85l.5-80l.5 70l.5-76l.5 2l.5 18l.5 66l.5-10l.5 10l.5-61l.5 54l.5-48l.5-3l.5 2l.5 62l.5-60l.5-1l.5 7l.5 49l.5-48l.5 68l.5-8l.5 15l.5-81l.5 8l.5 1l.5 76l.5-73l.5 9l.5-21l.5 99l.5-89l.5 96l.5-104l.5-5l.5 11l.5-5l.5 0l.5 115l.5-118l.5 85l.5 38l.5-40l.5-114l.5-9l.5 108l.5-94l.5 15l.5 59l.5-64l.5 72l.5-83l.5 64l.5-57l.5 46l.5-67l.5 57l.5 0l.5 5l.5 5l.5-8l.5-4l.5-53l.5 11l.5 42l.5-2l.5 1l.5-49l.5-19" stroke="#000" stroke-width="2.5" stroke-linejoin="round" fill="none"/></g>
<g clip-path="url(#clipE)">
<g stroke="#f00" stroke-width="2.6" stroke-linecap="round" fill="none"><use href="#t6" transform="matrix(1 .81 0 3.6 252.4 1609.3)"/><use href="#t7" transform="matrix(1 .78 0 -3.6 258.4 1614.2)"/><use href="#t1" transform="matrix(1 1.85 0 -3.6 264.4 1618.9)"/><use href="#t7" transform="matrix(-1 2.52 0 -3.6 276.4 1614.8)"/><use href="#t6" transform="matrix(-1 .74 0 -3.6 282.4 1610.4)"/><use href="#t2" transform="matrix(-1 -1.85 0 3.6 288.4 1621.5)"/><use href="#t3" transform="matrix(1 -1.16 0 3.6 288.4 1621.5)"/><use href="#t0" transform="matrix(-1 -.52 0 -3.6 300.4 1617.7)"/><use href="#t7" transform="matrix(-1 .03 0 3.6 306.4 1617.5)"/><use href="#t1" transform="matrix(1 -.23 0 -3.6 306.4 1617.5)"/><use href="#t4" transform="matrix(1 .69 0 3.6 312.4 1616.1)"/><use href="#t3" transform="matrix(-1 .99 0 -3.6 324.4 1614.3)"/><use href="#t1" transform="matrix(-1 .45 0 -3.6 330.4 1611.6)"/><use href="#t1" transform="matrix(-1 .35 0 -3.6 336.4 1609.5)"/><use href="#t5" transform="matrix(-1 -1.97 0 -3.6 342.4 1621.4)"/><use href="#t0" transform="matrix(-1 -.49 0 3.6 348.4 1624.3)"/><use href="#t7" transform="matrix(1 1.46 0 -2.8 348.4 1624.3)"/><use href="#t6" transform="matrix(1 .32 0 -2.8 354.4 1633.1)"/><use href="#t4" transform="matrix(1 -.66 0 2.8 360.4 1635)"/><use href="#t0" transform="matrix(-1 -.34 0 -2.8 372.4 1633.1)"/><use href="#t4" transform="matrix(1 -.03 0 -2.8 372.4 1633.1)"/><use href="#t2" transform="matrix(-1 .07 0 2.8 384.4 1632.5)"/><use href="#t7" transform="matrix(1 .19 0 2.8 384.4 1632.5)"/><use href="#t1" transform="matrix(-1 -3.46 0 2.8 396.4 1654.4)"/><use href="#t6" transform="matrix(1 7.69 0 -2.8 396.4 1654.4)"/><use href="#t0" transform="matrix(-1 -.5 0 2.8 480.4 1609.7)"/><use href="#t4" transform="matrix(-1 -.53 0 -2.8 486.4 1612.9)"/><use href="#t5" transform="matrix(1 .02 0 2.8 486.4 1612.9)"/><use href="#t5" transform="matrix(1 -.73 0 -2.8 492.4 1613)"/><use href="#t3" transform="matrix(1 1.53 0 2.8 498.4 1608.6)"/><use href="#t2" transform="matrix(1 1.09 0 2.8 504.4 1617.8)"/><use href="#t7" transform="matrix(-1 -.89 0 -2.8 516.4 1629.6)"/><use href="#t5" transform="matrix(1 .68 0 2.8 516.4 1629.6)"/><use href="#t2" transform="matrix(1 .24 0 2.8 522.4 1633.7)"/><use href="#t4" transform="matrix(-1 -.06 0 -2.8 534.4 1635.5)"/><use href="#t6" transform="matrix(-1 .81 0 -2.8 540.4 1630.7)"/><use href="#t5" transform="matrix(-1 1.29 0 -2.8 546.4 1622.9)"/><use href="#t4" transform="matrix(1 .73 0 2.8 546.4 1622.9)"/><use href="#t6" transform="matrix(-1 -.32 0 -2.8 558.4 1629.3)"/><use href="#t2" transform="matrix(1 -1.89 0 2.8 558.4 1629.3)"/><use href="#t4" transform="matrix(-1 -.32 0 2.8 570.4 1619.9)"/><use href="#t0" transform="matrix(1 4.76 0 2.8 570.4 1619.9)"/><use href="#t3" transform="matrix(-1 3.96 0 2.8 582.4 1624.7)"/><use href="#t0" transform="matrix(-1 .06 0 2.8 588.4 1624.3)"/><use href="#t1" transform="matrix(-1 -1.29 0 -2.8 594.4 1632)"/><use href="#t7" transform="matrix(1 -1.3 0 2.8 594.4 1632)"/><use href="#t3" transform="matrix(1 -1.03 0 2.8 600.4 1624.2)"/><use href="#t3" transform="matrix(1 -2.06 0 2.8 606.4 1618)"/><use href="#t3" transform="matrix(-1 -.46 0 -2.8 618.4 1608.4)"/><use href="#t0" transform="matrix(-1 .61 0 -2.8 624.4 1604.8)"/><use href="#t4" transform="matrix(-1 -1.04 0 2.8 630.4 1611)"/><use href="#t1" transform="matrix(1 2.24 0 2.8 630.4 1611)"/><use href="#t6" transform="matrix(1 -1.19 0 -2.8 636.4 1624.5)"/><use href="#t6" transform="matrix(-1 -2.31 0 2.8 648.4 1631.2)"/><use href="#t1" transform="matrix(-1 3.8 0 2.8 654.4 1608.4)"/><use href="#t1" transform="matrix(-1 -1.28 0 2.8 660.4 1616.1)"/><use href="#t4" transform="matrix(-1 -2.35 0 2.8 666.4 1630.2)"/><use href="#t0" transform="matrix(1 -3.74 0 -2.8 666.4 1630.2)"/><use href="#t2" transform="matrix(-1 -3.81 0 2.8 678.4 1630.6)"/><use href="#t7" transform="matrix(1 2.36 0 2.8 678.4 1630.6)"/><use href="#t2" transform="matrix(-1 -2.3 0 -2.8 690.4 1658.6)"/><use href="#t6" transform="matrix(1 .94 0 2.8 690.4 1658.6)"/><use href="#t6" transform="matrix(1 .81 0 2.8 696.4 1664.2)"/><use href="#t6" transform="matrix(-1 1.24 0 -2.8 708.4 1661.6)"/><use href="#t3" transform="matrix(1 -2.09 0 2.8 708.4 1661.6)"/><use href="#t4" transform="matrix(-1 -2.64 0 2.8 720.4 1664.9)"/><use href="#t4" transform="matrix(-1 1.01 0 -2.8 726.4 1658.8)"/><use href="#t6" transform="matrix(1 -1.79 0 -2.8 726.4 1658.8)"/><use href="#t0" transform="matrix(1 -1.62 0 -2.8 732.4 1648.1)"/><use href="#t6" transform="matrix(1 -1.27 0 -2.8 738.4 1638.3)"/><use href="#t7" transform="matrix(1 -.34 0 -2.8 744.4 1630.7)"/><use href="#t1" transform="matrix(-1 3.83 0 2.8 756.4 1605.7)"/><use href="#t4" transform="matrix(-1 .87 0 2.8 762.4 1600.5)"/><use href="#t4" transform="matrix(1 1.85 0 -2.8 762.4 1600.5)"/><use href="#t4" transform="matrix(1 -2.7 0 -2.8 768.4 1611.5)"/><use href="#t1" transform="matrix(-1 .9 0 -2.8 780.4 1590)"/><use href="#t5" transform="matrix(1 3.24 0 -2.8 780.4 1590)"/><use href="#t5" transform="matrix(-1 .14 0 -2.8 792.4 1608.5)"/><use href="#t2" transform="matrix(1 1.8 0 -2.8 792.4 1608.5)"/><use href="#t5" transform="matrix(1 -1.96 0 -2.8 798.4 1619.4)"/><use href="#t7" transform="matrix(-1 .56 0 -2.8 810.4 1604.2)"/><use href="#t6" transform="matrix(1 .45 0 -2.8 810.4 1604.2)"/><use href="#t2" transform="matrix(-1 -2.95 0 2.8 822.4 1624.6)"/><use href="#t3" transform="matrix(1 7.66 0 -5 822.4 1624.6)"/><use href="#t7" transform="matrix(-1 .8 0 -5 834.4 1665.7)"/><use href="#t1" transform="matrix(-1 -.61 0 -5 840.4 1669.4)"/><use href="#t0" transform="matrix(1 0 0 5 840.4 1669.4)"/><use href="#t3" transform="matrix(1 -.86 0 5 846.4 1669.4)"/><use href="#t3" transform="matrix(1 -.59 0 5 852.4 1664.2)"/><use href="#t4" transform="matrix(1 2.06 0 5 858.4 1660.7)"/><use href="#t6" transform="matrix(1 -6.62 0 5 864.4 1673)"/><use href="#t0" transform="matrix(-1 3.47 0 -2.8 876.4 1612.5)"/><use href="#t3" transform="matrix(1 -.12 0 -2.8 876.4 1612.5)"/><use href="#t5" transform="matrix(-1 .74 0 2.8 888.4 1607.4)"/><use href="#t4" transform="matrix(1 .79 0 2.8 888.4 1607.4)"/><use href="#t3" transform="matrix(1 -.19 0 2.8 894.4 1612.1)"/><use href="#t2" transform="matrix(1 -.24 0 2.8 900.4 1611)"/><use href="#t6" transform="matrix(1 -.05 0 2.8 906.4 1609.6)"/><use href="#t1" transform="matrix(1 .98 0 2.8 912.4 1609.3)"/><use href="#t1" transform="matrix(-1 .25 0 -2.8 924.4 1613.6)"/><use href="#t1" transform="matrix(1 -.34 0 2.8 924.4 1613.6)"/><use href="#t3" transform="matrix(-1 .61 0 -2.8 936.4 1607.9)"/><use href="#t6" transform="matrix(1 .83 0 -2.8 936.4 1607.9)"/><use href="#t5" transform="matrix(1 .6 0 2.8 942.4 1612.9)"/><use href="#t4" transform="matrix(-1 -.44 0 -2.8 954.4 1619.2)"/><use href="#t1" transform="matrix(-1 .33 0 2.8 960.4 1617.2)"/><use href="#t3" transform="matrix(-1 -.3 0 2.8 966.4 1619)"/><use href="#t1" transform="matrix(-1 .02 0 -2.8 972.4 1618.8)"/><use href="#t3" transform="matrix(1 -.71 0 2.8 972.4 1618.8)"/><use href="#t7" transform="matrix(1 .29 0 -2.8 978.4 1614.6)"/><use href="#t7" transform="matrix(1 -.34 0 2.8 984.4 1616.3)"/><use href="#t0" transform="matrix(-1 .76 0 2.8 996.4 1609.7)"/><use href="#t1" transform="matrix(1 -.4 0 2.8 996.4 1609.7)"/><use href="#t4" transform="matrix(1 .52 0 -2.8 1002.4 1607.3)"/><use href="#t4" transform="matrix(1 -.75 0 -2.8 1008.4 1610.4)"/><use href="#t7" transform="matrix(1 1.61 0 -2.8 1014.4 1605.9)"/><use href="#t3" transform="matrix(-1 -.32 0 2.8 1026.4 1617.5)"/><use href="#t3" transform="matrix(1 1.98 0 2.8 1026.4 1617.5)"/><use href="#t1" transform="matrix(-1 1.23 0 2.8 1038.4 1621.9)"/><use href="#t3" transform="matrix(1 .57 0 2.8 1038.4 1621.9)"/><use href="#t4" transform="matrix(1 .74 0 2.8 1044.4 1625.3)"/><use href="#t6" transform="matrix(1 .1 0 -2.8 1050.4 1629.8)"/><use href="#t2" transform="matrix(1 -.12 0 2.8 1056.4 1630.4)"/><use href="#t5" transform="matrix(1 .07 0 -2.8 1062.4 1629.6)"/><use href="#t1" transform="matrix(-1 -1.05 0 2.8 1074.4 1636.3)"/><use href="#t7" transform="matrix(-1 -.38 0 -2.8 1170.4 1650.8)"/><use href="#t4" transform="matrix(-1 .67 0 2.8 1176.4 1646.8)"/><use href="#t5" transform="matrix(-1 .02 0 2.8 1182.4 1646.7)"/><use href="#t2" transform="matrix(-1 .02 0 -2.8 1188.4 1646.6)"/><use href="#t6" transform="matrix(-1 -.44 0 -2.8 1194.4 1649.2)"/><use href="#t3" transform="matrix(1 1.32 0 -2.8 1194.4 1649.2)"/><use href="#t4" transform="matrix(-1 -1.64 0 -2.8 1206.4 1667)"/><use href="#t5" transform="matrix(1 -.41 0 -2.8 1206.4 1667)"/><use href="#t1" transform="matrix(1 1.76 0 -7 1212.4 1664.6)"/><use href="#t6" transform="matrix(-1 -1.66 0 -7 1224.4 1685)"/><use href="#s3" transform="matrix(-1 -.49 0 -7 1230.4 1688)"/><use href="#s5" transform="matrix(-1 -.51 0 -7 1236.4 1691.1)"/><use href="#s0" transform="matrix(-1 -2.04 0 -7 1242.4 1703.3)"/><use href="#s7" transform="matrix(-1 -2.87 0 7 1248.4 1720.5)"/><use href="#s0" transform="matrix(1 2.21 0 -7 1248.4 1720.5)"/><use href="#s6" transform="matrix(1 -6.49 0 7 1254.4 1733.8)"/><use href="#s0" transform="matrix(-1 1.75 0 7 1266.4 1684.4)"/><use href="#s1" transform="matrix(1 .01 0 7 1266.4 1684.4)"/><use href="#s0" transform="matrix(1 1.14 0 7 1272.4 1684.4)"/><use href="#s7" transform="matrix(1 3.03 0 -7 1278.4 1691.3)"/><use href="#s6" transform="matrix(-1 -4.44 0 -7 1290.4 1736.1)"/><use href="#s1" transform="matrix(-1 10.11 0 7 1296.4 1675.4)"/><use href="#s3" transform="matrix(1 19.88 0 -7 1296.4 1675.4)"/><use href="#s5" transform="matrix(1 1.2 0 -7 1302.4 1794.7)"/><use href="#s6" transform="matrix(-1 21.85 0 7 1314.4 1670.8)"/><use href="#s4" transform="matrix(1 2.82 0 -7 1314.4 1670.8)"/><use href="#s4" transform="matrix(-1 -.36 0 -7 1326.4 1689.9)"/><use href="#s4" transform="matrix(-1 -3.4 0 7 1332.4 1710.3)"/><use href="#s5" transform="matrix(1 4.98 0 7 1332.4 1710.3)"/><use href="#s1" transform="matrix(-1 2.36 0 -7 1344.4 1726)"/><use href="#s4" transform="matrix(-1 .8 0 7 1350.4 1721.2)"/><use href="#s2" transform="matrix(1 7.73 0 7 1350.4 1721.2)"/><use href="#s0" transform="matrix(-1 -4.76 0 -7 1362.4 1796.2)"/><use href="#s3" transform="matrix(1 -9.01 0 7 1362.4 1796.2)"/><use href="#s4" transform="matrix(-1 5.07 0 7 1374.4 1711.7)"/><use href="#s1" transform="matrix(-1 4.23 0 -7 1380.4 1686.3)"/><use href="#s3" transform="matrix(-1 -6.36 0 7 1386.4 1724.5)"/><use href="#s5" transform="matrix(1 6.88 0 7 1386.4 1724.5)"/><use href="#s1" transform="matrix(1 1.82 0 7 1392.4 1765.8)"/><use href="#s6" transform="matrix(-1 9.93 0 7 1404.4 1717.1)"/><use href="#s7" transform="matrix(1 -4.96 0 7 1404.4 1717.1)"/><use href="#s1" transform="matrix(-1 -5.57 0 -7 1416.4 1720.8)"/><use href="#s5" transform="matrix(-1 -3.25 0 7 1422.4 1740.3)"/><use href="#s7" transform="matrix(-1 9.18 0 -7 1428.4 1685.1)"/><use href="#s1" transform="matrix(-1 4.07 0 -7 1434.4 1660.8)"/><use href="#s2" transform="matrix(1 -.29 0 7 1434.4 1660.8)"/><use href="#s0" transform="matrix(-1 0 0 -7 1446.4 1659)"/><use href="#s4" transform="matrix(1 .65 0 7 1446.4 1659)"/><use href="#s7" transform="matrix(-1 -1.64 0 -7 1458.4 1672.8)"/><use href="#s1" transform="matrix(1 1.22 0 7 1458.4 1672.8)"/><use href="#s6" transform="matrix(1 1.68 0 -7 1464.4 1680.1)"/><use href="#s1" transform="matrix(1 .73 0 7 1470.4 1690.2)"/><use href="#s2" transform="matrix(1 -4.52 0 7 1476.4 1694.6)"/><use href="#s7" transform="matrix(-1 -.11 0 7 1488.4 1668.1)"/><use href="#s4" transform="matrix(-1 -1.58 0 7 1494.4 1677.6)"/><use href="#s1" transform="matrix(-1 -8.21 0 7 1500.4 1726.9)"/><use href="#s7" transform="matrix(1 -2.76 0 -7 1500.4 1726.9)"/><use href="#s7" transform="matrix(1 -4.14 0 -7 1506.4 1710.3)"/><use href="#s6" transform="matrix(-1 -.85 0 -7 1518.4 1690.5)"/><use href="#s0" transform="matrix(-1 -1.23 0 7 1524.4 1697.9)"/><use href="#s1" transform="matrix(1 -3.09 0 -7 1524.4 1697.9)"/><use href="#s1" transform="matrix(-1 1.37 0 7 1536.4 1671.2)"/><use href="#s2" transform="matrix(1 5.52 0 7 1536.4 1671.2)"/><use href="#s3" transform="matrix(-1 -3.83 0 7 1548.4 1727.3)"/><use href="#s5" transform="matrix(1 -3.28 0 -7 1548.4 1727.3)"/><use href="#s0" transform="matrix(-1 2.26 0 7 1560.4 1694.1)"/><use href="#s5" transform="matrix(-1 .53 0 -7 1566.4 1690.9)"/><use href="#s5" transform="matrix(1 3.58 0 -7 1566.4 1690.9)"/><use href="#s0" transform="matrix(-1 -2.01 0 7 1578.4 1724.5)"/><use href="#s1" transform="matrix(1 8.67 0 7 1578.4 1724.5)"/><use href="#s2" transform="matrix(-1 -.06 0 -7 1590.4 1776.9)"/><use href="#s6" transform="matrix(1 -1.67 0 -7 1590.4 1776.9)"/><use href="#s6" transform="matrix(-1 -1.11 0 -7 1602.4 1773.5)"/><use href="#s7" transform="matrix(1 -2.99 0 -7 1602.4 1773.5)"/><use href="#s0" transform="matrix(-1 8.84 0 7 1614.4 1702.5)"/><use href="#t7" transform="matrix(-1 9.95 0 -4.5 1620.4 1642.8)"/><use href="#t3" transform="matrix(1 1.36 0 4.5 1620.4 1642.8)"/><use href="#t7" transform="matrix(-1 .42 0 4.5 1632.4 1648.5)"/><use href="#t7" transform="matrix(-1 -.95 0 4.5 1638.4 1654.2)"/><use href="#t7" transform="matrix(-1 -1.17 0 -4.5 1644.4 1661.2)"/><use href="#t4" transform="matrix(-1 -2.56 0 -4.5 1650.4 1676.6)"/><use href="#t4" transform="matrix(1 -1.2 0 -4.5 1650.4 1676.6)"/><use href="#t2" transform="matrix(1 -3.7 0 4.5 1656.4 1669.3)"/><use href="#t2" transform="matrix(1 1.37 0 4.5 1662.4 1647.2)"/><use href="#t4" transform="matrix(1 2.64 0 4.5 1668.4 1655.4)"/><use href="#t1" transform="matrix(1 -1.76 0 4.5 1674.4 1671.2)"/><use href="#t2" transform="matrix(1 -3.26 0 4.5 1680.4 1660.7)"/><use href="#t1" transform="matrix(-1 5.64 0 -4.5 1692.4 1607.3)"/><use href="#t4" transform="matrix(1 -.08 0 -4.5 1692.4 1607.3)"/><use href="#t1" transform="matrix(-1 -.92 0 4.5 1704.4 1612.3)"/></g>
<path d="M287 1636h0m.5-2h0m.5 7h0m0-4h0m9 75h0m1-.5h0m0-8h0m49.5-61h0m1 22.5h0m0 2.5h0m0-1.5h0m0-8.5h0m0 .5h0m0-11h0m0 10h0m.5 16.5h0m52.5 165h0m.5-94.5h0m1.5-36h0m0 119.5h0m.5-61.5h0m0 94.5h0m0-39.5h0m0 20h0m0 8h0m0-5h0m0 8h0m0-33h0m0 7.5h0m0 45.5h0m.5-19.5h0m0-17.5h0m0-15h0m0 59h0m0-53h0m0-15.5h0m0 14h0m0-10.5h0m0 45.5h0m0 19h0m0-64.5h0m0 10.5h0m.5 28h0m0-38.5h0m0-.5h0m0 15.5h0m0-5h0m0-13.5h0m0 18h0m0 50h0m0-36.5h0m0 10.5h0m1-115h0m.5 68.5h0m1.5-100h0m0 131h0m0 33.5h0m0 3h0m.5-2.5h0m0 1.5h0m0 14h0m0-44h0m0 6.5h0m0-20h0m0-.5h0m.5 41.5h0m0-20h0m0-120.5h0m0 154.5h0m0-50h0m0 5h0m0 35h0m.5-195h0m1.5 60.5h0m1 42.5h0m.5-105.5h0m0 31.5h0m1.5 60.5h0m0 3.5h0m0-29h0m0-.5h0m0 17h0m0-30h0m0 16.5h0m.5-14h0m0 36h0m0-10.5h0m0-22h0m0 39h0m0-25.5h0m0 21.5h0m0-18h0m0 2.5h0m0 10.5h0m0-16h0m0 1.5h0m0 4h0m.5-4.5h0m0 0h0m0 13h0m0-17h0m0 21.5h0m0 7.5h0m0-36h0m0-10h0m0 10h0m0 21h0m0 6h0m0 7.5h0m0-42.5h0m.5 27.5h0m0 15.5h0m0-30h0m.5 39.5h0m0 34h0m.5-140h0m3 163h0m2-3.5h0m0-152h0m.5 107.5h0m0-73h0m0 5h0m0 40.5h0m0-9.5h0m0-9.5h0m.5-8h0m0 14h0m0-8h0m0-15h0m0 16.5h0m0-3.5h0m0-15.5h0m0 19h0m0 4h0m0 1h0m0 12.5h0m.5-11.5h0m0 4.5h0m0 0h0m0 2.5h0m0-39h0m0 40.5h0m0-10h0m0-22h0m0-7.5h0m0 44.5h0m0-12h0m0-33h0m0 26h0m.5-13.5h0m0-17h0m.5 19h0m.5 108.5h0m2.5-5h0m0-154h0m.5 6.5h0m0-3.5h0m0-2h0m.5 19h0m0-12.5h0m0 3h0m0 20h0m.5-14h0m0-11.5h0m.5 23.5h0m0-18.5h0m.5 10h0m0-15h0m0 133h0m0-119.5h0m.5-16h0m.5 18h0m0-18h0m0 24h0m0-10h0m.5-9.5h0m0 112.5h0m0-85.5h0m.5-29h0m0 45.5h0m0-43h0m0 4h0m.5 7h0m0 18h0m.5-36h0m0 31.5h0m0 95.5h0m0-102.5h0m0-15.5h0m0 25.5h0m0-4h0m.5-9.5h0m0 13.5h0m0 1h0m.5-14.5h0m.5-18.5h0m0 66.5h0m.5-60h0m0 2.5h0m0 64h0m.5-55.5h0m0-11h0m.5 19.5h0m0-5.5h0m.5-10.5h0m0 14h0m0-25h0m0 28.5h0m0-16.5h0m.5-10h0m0-4h0m0 165.5h0m0-160.5h0m0 151.5h0m.5-54.5h0m0-82h0m0-2h0m.5 11h0m0-20h0m0-6.5h0m0 13h0m.5-3h0m0 13h0m0-2h0m0 104.5h0m0-61h0m0-64.5h0m.5 17.5h0m0 7.5h0m.5-27.5h0m0 23h0m1 58.5h0m.5-5h0m0 54.5h0m0-39h0m0-26h0m0 17h0m0 14.5h0m0-8.5h0m0-26.5h0m0 12.5h0m0-9h0m0 11h0m0 9h0m0 12h0m0-39h0m.5 7h0m0 34.5h0m0-33h0m0-9.5h0m0 7.5h0m0 32.5h0m0-16h0m0 11h0m0-10h0m0 11h0m0-38h0m.5 6h0m0 14h0m0 18h0m0-30.5h0m0-7h0m0 11.5h0m0 8h0m0 15h0m0-22.5h0m0 11h0m.5-4.5h0m0 15.5h0m2-87.5h0m.5 40.5h0m0-52.5h0m0 53.5h0m0-41.5h0m0 24h0m0-26h0m0 16h0m.5 24h0m0-33h0m0-1.5h0m0 5.5h0m0 .5h0m0 31h0m0-9.5h0m0 8h0m.5-52h0m0 37.5h0m0-33.5h0m0 6.5h0m0 39h0m0-4.5h0m0-27h0m0 1.5h0m0-12h0m0-4h0m.5 7.5h0m0 12.5h0m0-23h0m0 31h0m0-12.5h0m0 145.5h0m1-42h0m0 19h0m0-25h0m.5 27.5h0m0-28h0m.5 13.5h0m3.5-88.5h0m1 75.5h0m0-20.5h0m0 16.5h0m.5-15.5h0m0 34h0m.5-112.5h0m0 36.5h0m0 61.5h0m0 2h0m.5-14.5h0m0 21h0m0-4.5h0m.5 7h0m0-11h0m0-17.5h0m0 24.5h0m0-5.5h0m0 5h0m0-28.5h0m0 37.5h0m0-42h0m0 4.5h0m.5 8h0m0-1.5h0m0 26.5h0m0-32h0m0 4h0m0 34h0m0-25.5h0m0 23.5h0m0-17h0m0 16.5h0m0-11.5h0m0-3h0m0-20.5h0m0 25.5h0m0 5h0m0-28h0m0-10h0m0 28h0m0 9.5h0m.5-38h0m0 6h0m0 1h0m0-8.5h0m0 0h0m0 21h0m0 5.5h0m0 10h0m0-9h0m0 10h0m0-17h0m.5 27h0m0-38.5h0m0 5.5h0m0 20h0m0 9h0m0 .5h0m0-3h0m0-4.5h0m0-2h0m.5-22.5h0m0 16.5h0m.5-53.5h0m0 64h0m0-14h0m.5-14.5h0m.5 4h0m0 31.5h0m0-36.5h0m.5 72.5h0m0-40.5h0m0 16.5h0m.5-47.5h0m.5 25h0m.5 47h0m0-40h0m0-31h0m.5-22h0m0 26.5h0m.5-11h0m0 19.5h0m0-54.5h0m0 38h0m0 2h0m0-1h0m0-8.5h0m0-6h0m0 0h0m0 13.5h0m0 18h0m0-26.5h0m0 9.5h0m.5 14h0m0-2.5h0m0 4.5h0m0-1.5h0m0-15.5h0m0-3h0m0 15.5h0m0 20.5h0m0-47.5h0m0 22.5h0m0 33h0m0-32h0m0 1.5h0m.5-15.5h0m0-11h0m0-.5h0m0 7h0m0 21h0m0-14.5h0m0 18h0m0-32h0m0 83h0m.5-33.5h0m0-5h0m0-21h0m.5-50.5h0m.5 79h0m1 8h0m.5-89.5h0m0 109.5h0m1.5-128h0m.5 42.5h0m0-3.5h0m0-21h0m0 12h0m0-3.5h0m0 61h0m0-69.5h0m0 11h0m0-6h0m0 8.5h0m.5 13h0m0-11.5h0m0 6h0m0 2.5h0m0-8h0m0-18h0m0 4.5h0m0 .5h0m0 23h0m0-2h0m0-4h0m0 7h0m0-26h0m.5 15.5h0m0 4h0m0-6h0m0-16.5h0m0 20h0m0 7h0m0-2h0m0-43.5h0m0 19h0m0 10.5h0m0 .5h0m0 11.5h0m0-7.5h0m0-5.5h0m.5-32.5h0m.5 81h0m.5 59h0m.5-95.5h0m0-2.5h0m0-61h0m0 60h0m0-7h0m0 11h0m0-10h0m.5-4.5h0m0-2.5h0m0 21.5h0m0-9.5h0m0 10h0m0-6h0m0-15.5h0m.5 17.5h0m0-5.5h0m0-7.5h0m0-5h0m0 12.5h0m0 2.5h0m0-40.5h0m.5 26h0m0-28.5h0m1 152.5h0m31-161h0m.5 5h0m0 47.5h0m0 61h0m0 59h0m0 16.5h0m28.5-190h0m50.5-52h0m0-31h0m0 28h0m.5-32.5h0m0-1h0m0 3h0m0 13h0m0-15.5h0m0 15.5h0m0-10.5h0m0 9h0m0-1h0m0-16h0m.5 24.5h0" stroke="#f00" stroke-width="2.6" stroke-linecap="round" fill="none"/>
<path d="M692.5 1705h0m.5 5h0m.5-1.5h0m0 8.5h0m.5-6.5h0m3.5-18.5h0m0 7.5h0m.5 3.5h0m0 3h0m34-96h0m1 24h0m1.5-.5h0m1-7.5h0m.5-2.5h0m1.5 9.5h0m.5 3h0m1.5-2.5h0m0-16h0m0-3.5h0m0 23.5h0m.5-20.5h0m0 19h0m0-22h0m.5 11.5h0m5.5-13h0m.5 17.5h0m.5-5h0m0-2h0m1.5 3h0m1-10h0m1.5 7h0m1.5-9.5h0m.5 5.5h0m0 13.5h0m0 3h0m1-18h0m0 19h0m0 0h0m.5-20h0m.5 6.5h0m81.5 83h0m0-4.5h0m.5 1.5h0m0-8.5h0m0 0h0m27-2h0m.5-2h0m0 9.5h0m0-8h0m0 3.5h0m.5 5.5h0m62.5-78h0m.5 .5h0m.5-.5h0m0 .5h0m0 .5h0" stroke="#f00" stroke-width="2.6" stroke-linecap="round" fill="none"/>
<path d="M1076 1823.5h0m0-40h0m0 8.5h0m0-4h0m0 11h0m.5-76.5h0m0 71.5h0m.5-14h0m0 13h0m0 16.5h0m0 18h0m0 1h0m.5 3.5h0m0-18.5h0m0 25.5h0m0-78h0m0 26h0m0 3h0m.5 47h0m0-35.5h0m0-18.5h0m0 19h0m.5-71.5h0m0 92.5h0m0-35.5h0m0-7.5h0m0 55h0m0-4h0m.5-4h0m0-29h0m0 38.5h0m.5-2.5h0m0-22.5h0m0-15.5h0m.5-8h0m0-15.5h0m0 21h0m0 67h0m0-72.5h0m0 66h0m.5 6.5h0m0-52h0m0 20.5h0m0 21.5h0m.5-125h0m0 133h0m0-37.5h0m0 0h0m0-12.5h0m0 11h0m.5 17h0m0 25h0m0-33.5h0m0-27h0m.5 32h0m0-4.5h0m.5-6.5h0m0-3.5h0m0-61h0m.5 42h0m0-83.5h0m.5 100h0m0-88.5h0m0 81h0m0 7h0m0-14.5h0m0 5.5h0m.5-9h0m0 8.5h0m0-26h0m0-5h0m0 5h0m0 51h0m.5-33.5h0m0-83h0m.5 100h0m0 6.5h0m0 2h0m0-8.5h0m0-73.5h0m.5 65.5h0m0-71.5h0m0 90.5h0m0-31h0m.5 27.5h0m0 12h0m0 5.5h0m0-58.5h0m0 44.5h0m0-99.5h0m.5 77h0m0 10.5h0m0 6.5h0m0 10h0m0-16.5h0m.5-2.5h0m.5 10h0m0 11.5h0m0-23h0m0-14.5h0m0 24.5h0m.5 1h0m0-37h0m0 6.5h0m0-3.5h0m0 47.5h0m0-51.5h0m0 31h0m0-8.5h0m0-12h0m0-4.5h0m.5 46h0m0-72.5h0m.5 52h0m0 14h0m0-16h0m.5-20.5h0m0 49h0m.5-56h0m0 48.5h0m0-44h0m0-26h0m0 62h0m.5-28.5h0m0-9h0m0 38h0m0-22h0m0 20.5h0m0 0h0m0-51.5h0m0-2.5h0m0 12h0m.5-54h0m0 66h0m0 70.5h0m0-93h0m0-1.5h0m.5 4h0m0-34.5h0m0-.5h0m0 77h0m0-26.5h0m0-2h0m0-12.5h0m0 52.5h0m0-69.5h0m.5 48h0m0-27.5h0m0-7.5h0m0 2h0m0-8h0m.5 12.5h0m0-7h0m0-21h0m0-6.5h0m0 31.5h0m0-31.5h0m0 1h0m0 18.5h0m.5 5.5h0m0 4h0m0 63h0m0-85.5h0m0 13.5h0m.5-5.5h0m0 10.5h0m.5 75.5h0m0-95.5h0m.5-5h0m0-4h0m.5 15h0m0 6.5h0m0-15h0m0 24h0m0-8h0m.5-2h0m.5-12.5h0m0 27.5h0m0 3h0m.5-36h0m0 36.5h0m0-26h0m0 25.5h0m0-35h0m0 18h0m.5-2h0m0 1h0m.5 15h0m0-30.5h0m0 9h0m0 27h0m0 0h0m.5-29.5h0m0-29h0m.5 19h0m0-.5h0m0 38.5h0m0-35.5h0m.5 31.5h0m0-25h0m.5 27h0m0-.5h0m.5-8.5h0m0-8.5h0m0 95.5h0m0-41h0m.5-101.5h0m0 28h0m0 10h0m.5-3.5h0m0 5h0m0 11.5h0m.5-3.5h0m0 14h0m0-10h0m0 3.5h0m0 .5h0m.5-6h0m0 10.5h0m0-7h0m0 1h0m.5 2.5h0m0-15.5h0m0 114.5h0m.5-114h0m0 17h0m0-2h0m0 8h0m0-14.5h0m.5 5.5h0m0-2h0m.5 3h0m0-19h0m0 35.5h0m.5 82.5h0m.5-113.5h0m.5 6h0m0-10.5h0m0 0h0m0 22h0m.5-30h0m0 18.5h0m.5 15h0m0-35.5h0m0 29h0m0-23.5h0m0 9h0m0-2.5h0m.5 22h0m0-27h0m.5 4h0m0 9h0m0-13h0m0 3h0m0 79.5h0m.5-50.5h0m0-27h0m.5 113h0m.5-100.5h0m0-12.5h0m0 3h0m.5 0h0m0 21h0m0-30.5h0m0 11.5h0m0 6h0m0 .5h0m1 4h0m0-17h0m.5 118h0m0-92h0m0-28.5h0m.5 40h0m0 74.5h0m0-108h0m0 70.5h0m0-66.5h0m0 0h0m.5 14.5h0m0-29h0m0 17.5h0m0-2.5h0m0 5h0m.5-6h0m0 17.5h0m.5 55h0m0-69.5h0m0 15h0m0-4.5h0m0-11h0m.5 3.5h0m0 87.5h0m0-105.5h0m.5 18h0m0 9h0m.5 0h0m0-6.5h0m.5-20.5h0m0-3.5h0m0-2.5h0m0 29.5h0m0-9h0m0-16h0m1 103h0m0-85.5h0m0-1h0m0-21h0m.5 39h0m1 1h0m0-25.5h0m0 6.5h0m.5-20h0m0 15.5h0m.5 41.5h0m1.5 36h0m0-48.5h0m1.5-14.5h0m.5-92.5h0m0 0h0m0-46.5h0m0 22.5h0m0-26.5h0m0 23.5h0m0 9.5h0m0-11.5h0m0-.5h0m.5 36h0m0-17h0m0-18h0m0 19h0m0-8.5h0m0 12.5h0m0-28.5h0m0 7h0m0 37.5h0m0-28h0m0 13h0m0-11h0m0 200h0m.5-197.5h0m0-2.5h0m0 14h0m0-9.5h0m1 68.5h0m0-17.5h0m3 20h0m1-1h0m0 38.5h0m1 46h0m.5 37h0m0-24h0m.5 2h0m.5 1.5h0m0 30h0m.5-28h0m0 26h0m0-97.5h0m0 52.5h0m0 2h0m.5 40.5h0m0-25.5h0m0 15.5h0m0 10h0m.5-62h0m0 42h0m0 22h0m0-47h0m0 45h0m0-33h0m0 26h0m0-45.5h0m0-9.5h0m0 16.5h0m0 49h0m0-35h0m0-11h0m0 9h0m0-26h0m0 33.5h0m.5 30h0m0-29h0m0 30.5h0m0-42h0m0 24h0m0-34.5h0m0-2h0m0 19.5h0m0 10.5h0m0-33.5h0m0 34h0m0-26.5h0m0-2.5h0m0 32h0m0 21.5h0m0-18.5h0m0-46h0m0-40.5h0m0 83h0m0-23h0m0-41.5h0m0 86h0m0-45.5h0m0 42.5h0m.5-52h0m0 6h0m0-5.5h0m0-13.5h0m0 3h0m0 66.5h0m0-7h0m0-19h0m0-.5h0m0-21.5h0m0 10.5h0m0 23.5h0m0 12.5h0m0-45h0m0 34h0m0-21.5h0m0-26h0m.5 13h0m0 8.5h0m0 13h0m0 13.5h0m.5 6h0m0-5.5h0m.5-44.5h0m0-3h0m.5 54.5h0m0-16h0m0-102.5h0m.5 121.5h0m0-35.5h0m0 8h0m.5-7.5h0m.5 34.5h0m0-40.5h0m0-13.5h0m.5 35.5h0m0-101.5h0m0 52.5h0m.5 36h0m0-35.5h0m.5 12h0m0 15.5h0m0 34.5h0m0-35h0m0 32h0m0-11.5h0m0 16h0m0-26h0m0-2.5h0m0 8.5h0m0 13.5h0m0-9h0m.5-19.5h0m0 21h0m0 3h0m0-32h0m0 18.5h0m0 22.5h0m0-15h0m0-5h0m0-11h0m0 16.5h0m0 8.5h0m0-27h0m0 8h0m0 9.5h0m0-10h0m0-11h0m0-93h0m0 140.5h0m0-43.5h0m0-.5h0m0 28h0m0-9h0m.5-5h0m0-15.5h0m0-1h0m0 7h0m0 16.5h0m0-21.5h0m0-10.5h0m0 3.5h0m0 1.5h0m0 6h0m0-1h0m0 36h0m0-7.5h0m0-28.5h0m0-24.5h0m0 22.5h0m0 8.5h0m0 18h0m0-11h0m0 1.5h0m0 8h0m.5-22.5h0m0 20.5h0m0-19.5h0m0 20.5h0m0 3h0m0-52h0m0 52.5h0m0-20.5h0m0-24h0m0 59h0m.5 4h0m0-58.5h0m0 27.5h0m.5 30h0m0-35.5h0m.5-34.5h0m0 17.5h0m.5 21h0m.5 20.5h0m0-16h0m0-40.5h0m0 55.5h0m.5-5h0m0-39.5h0m1-30.5h0m.5 11.5h0m0 9h0m0-36h0m.5-17h0m.5 3.5h0m0-85h0m.5 8.5h0m.5 182h0m0-114h0m0-87.5h0m0 45.5h0m0-34h0m0-8.5h0m.5 42.5h0m0 3h0m0 68h0m0-101.5h0m0 29.5h0m0-37h0m0 71.5h0m0-47.5h0m0 23h0m.5-51h0m0 2.5h0m0 18h0m0 1h0m0 65h0m0-49h0m0-19.5h0m0-3.5h0m0-13h0m0 55h0m0-13.5h0m.5-45h0m0 34h0m0 5h0m0-9h0m0 13h0m0 34h0m0-74.5h0m0 35.5h0m0-.5h0m0 64h0m0-90.5h0m.5 78.5h0m0-45.5h0m.5 113.5h0m0-133h0m0 72h0m0-68.5h0m.5 17h0m0-42.5h0m0 98.5h0m0-78h0m0 22h0m0 10.5h0m.5 40.5h0m0-57h0m.5 22.5h0m.5 61h0m0-48h0m1-41.5h0m0-22.5h0m0 22.5h0m.5 74.5h0m0-78.5h0m0 97h0m.5-51.5h0m.5 92h0m0-153.5h0m0 92.5h0m.5 11h0m0-17.5h0m0 7h0m0-13.5h0m0-66.5h0m.5 47h0m0-46h0m.5 19h0m0 44.5h0m0 37.5h0m0-34.5h0m0-52.5h0m0 55h0m0 10.5h0m0 5h0m0-82h0m0-22h0m.5 74h0m0 0h0m0-63h0m0 82h0m0 18h0m0-52.5h0m0 36.5h0m0-85h0m0 32h0m0 46h0m0-19h0m0 11.5h0m0 21.5h0m0-100h0m.5 58.5h0m0-35h0m0-4h0m0 9.5h0m0-14h0m0 103.5h0m0-105.5h0m0 74.5h0m0 4h0m0-38.5h0m0-31.5h0m0 72h0m0-57.5h0m0 81.5h0m0-87h0m0 68h0m1-64h0m0-23.5h0m.5 82h0m0 11h0m0 17.5h0m0-104.5h0m0 137.5h0m0-109.5h0m.5 61h0m0 19.5h0m.5-9.5h0m0-23h0m0 20.5h0m.5-91h0m0 89.5h0m0-119.5h0m0 62.5h0m.5-37.5h0m0 82.5h0m0 7.5h0m0-110.5h0m.5 23.5h0m0 50.5h0m.5-10h0m0-42h0m0 43.5h0m.5-49h0m0 35h0m0 35h0m.5-27.5h0m5.5-24.5h0m0-23h0m0-2.5h0m.5 42h0m0 1.5h0m.5-45h0m0 2.5h0m0-7.5h0m89.5 175h0m0 38.5h0m0-14.5h0m0-48h0m.5-8h0m0 51h0m0-39.5h0m0 44h0m0-57.5h0m.5 23h0m0 4.5h0m0 33h0m0-53h0m.5 4.5h0m31-85h0m0-2.5h0m0 47.5h0m0-11h0m0-6h0m0-17h0m.5-1h0m0 22.5h0m0 3.5h0m.5-18.5h0m0-17h0m0 3.5h0m0 16h0m.5-19h0m0 33h0m0-25h0m.5-10h0m0-3h0m0 30h0m0-7.5h0m0-20.5h0m.5 22h0m0 14.5h0m.5-13h0m0-17h0m.5-2.5h0m0 14.5h0m.5 9h0m0-34h0m0 51.5h0m0-41h0m0 21h0m0 2h0m.5-23h0m0 25h0m.5-11.5h0m0-15h0m0 7h0m.5 12.5h0m0 14.5h0m.5-100h0m.5-3.5h0m0-3.5h0m0 4.5h0m0-2h0m.5 9h0m0 0h0m0-6.5h0m0-4.5h0m0 9h0m.5-3h0m.5 1.5h0m0-5.5h0m.5 3h0m0 .5h0m0-3.5h0m.5 7.5h0m0-10h0m.5 4h0m0 7h0m1.5 102h0m0-11h0m.5 6h0m0 0h0m0 39.5h0m0-59.5h0m0 84h0m0-6h0m0 8h0m0-76h0m0 71h0m0-83.5h0m0 5.5h0m0 8.5h0m.5 10.5h0m0 71.5h0m0-22.5h0m0-69.5h0m0-.5h0m0 23h0m.5 47h0m0-15.5h0m0 18h0m0-67h0m0 78h0m3 16.5h0m0 0h0m0-11h0m0 19h0m0-4h0m.5-9.5h0m0 12.5h0m.5 5.5h0m0 1h0m0-10.5h0" stroke="#f00" stroke-width="2.6" stroke-linecap="round" fill="none"/>
<path d="M1335 1741h0m0-9h0m0 3.5h0m.5-22h0m0 2h0m1-7h0m0 4h0m0 24h0m.5-25.5h0m0 10.5h0m.5-5h0m1 2.5h0m.5-14h0m0 4h0m0 21h0m0-11h0m.5 17.5h0m.5-26h0m0 21h0m.5-3.5h0m0 4h0m0 7h0m0-17h0m0-7.5h0m.5 2.5h0m0 6h0m1 15.5h0m0-3h0m0-8h0m.5 4.5h0m0 5.5h0m.5-5.5h0m0-25h0m1 32h0m.5-11h0m0 12.5h0m0-22.5h0m0-2h0m1 14.5h0m0-15.5h0m0 25h0m.5-32h0m0 9h0m.5 3.5h0m.5 13.5h0m0 2h0m0-19h0m0 5h0m.5-9.5h0m.5 0h0m1-2.5h0m.5 17.5h0m0 11h0m.5-26h0m0 16.5h0m0-4h0m.5-5.5h0m0 9.5h0m.5 3.5h0m0-.5h0m.5 10h0m0 28.5h0m0-7.5h0m.5-17h0m0 20.5h0m0-16.5h0m0-4h0m0 .5h0m.5 29h0m0-19h0m0 8.5h0m0 1.5h0m.5-19h0m0 16.5h0m0-21.5h0m0 24.5h0m.5 7.5h0m.5-29.5h0m0 30.5h0m0-3h0m0-10h0m0 12.5h0m.5-1.5h0m0-2h0m0-22.5h0m.5-1.5h0m0 .5h0m.5 20h0m0 1h0m.5-7h0m0-5h0m.5 16.5h0m0-32.5h0m.5 1.5h0m.5-1h0m0 18h0m0 11.5h0m.5-17h0m0-2h0m0 13h0m0-24.5h0m0 32.5h0m.5-15.5h0m0 9h0m0 9h0m.5-29h0m0 3h0m0-4h0m0-5h0m.5 28.5h0m0-20h0m0 19.5h0m.5-27h0m0 126h0m0-107h0m0 4h0m.5-6.5h0m0 105h0m0-7.5h0m0-89.5h0m.5-12h0m0 105.5h0m0-44.5h0m0 39.5h0m0 8h0m0-12h0m0-6h0m0-33.5h0m0 45h0m0 28h0m0-36h0m.5 3h0m0 6h0m0-59h0m0 12.5h0m0 73.5h0m0-127h0m0 123h0m0-122h0m0 124.5h0m0-30.5h0m0-6h0m0-49.5h0m0 86.5h0m0-66h0m0 43.5h0m.5 4h0m0-22.5h0m0 38.5h0m0-62.5h0m0 66h0m0-50h0m0 21h0m0 1h0m0 6.5h0m0-59h0m.5 78h0m0-27.5h0m1 19h0m.5-19.5h0m.5 13h0m0 15h0m2-11.5h0m0 7.5h0m.5-3.5h0m1-3h0m1.5 4.5h0m1.5-135.5h0m0 6.5h0m0-10h0m0 49.5h0m0-56.5h0m.5 62h0m0 .5h0m0-25h0m0-57h0m0-9.5h0m0 85.5h0m0-68.5h0m0 60.5h0m0 27h0m0-34.5h0m0-51.5h0m0 49.5h0m0-15h0m.5-22.5h0m0 29.5h0m0-54h0m0 85.5h0m0-75.5h0m0 54h0m.5-63.5h0m11.5 20h0m0 10.5h0m0-31h0m0-1.5h0m0 33.5h0m0-19h0m.5-20h0m0-9h0m0 52.5h0m0-46.5h0m0-6.5h0m0 28.5h0m0-8.5h0m0 12.5h0m0-11.5h0m0-15.5h0m0 34.5h0m0-32h0m0-3.5h0m0 41h0m0-14h0m0 11.5h0m.5-22h0m0 7.5h0m0-23.5h0m0 7.5h0m0-6.5h0m0 36.5h0m0 5h0m0-33h0m0 2h0m0 25h0m0 9.5h0m0-7.5h0m0-35h0m0 35.5h0m.5-34h0m0-1.5h0m0 22h0m0-29h0m.5 31h0m0-32.5h0m0 46.5h0m.5-15h0m0 4h0m0-15h0m0-20h0m0 45h0m0 7h0m0-21.5h0m0 16h0m0-27h0m.5 23h0m0-13.5h0m0-24.5h0m0 43.5h0m0-19h0m0 5h0m.5-33h0m0 2h0m2.5 116h0m.5-13h0m0-16.5h0m0 19h0m0-42h0m0 19h0m0 40h0m.5-9h0m0-1.5h0m.5-34.5h0m0 12h0m0-12.5h0m.5 24.5h0m0-17.5h0m0-10.5h0m0 37h0m0 35.5h0m0-59.5h0m.5-25h0m0 73.5h0m.5-33h0m0 2.5h0m0 4.5h0m0-39h0m0 13h0m.5 6h0m0 19h0m0-38h0m.5 32h0m0-20.5h0m0 51.5h0m0 27.5h0m0-95h0m0-6h0m0 50.5h0m.5-10.5h0m0 17.5h0m0-59h0m0 91h0m0-4.5h0m0-44h0m0-7.5h0m0-28h0m.5 36h0m0 3h0m0 44h0m.5-59h0m0 30.5h0m.5 29.5h0m0-3.5h0m0-81.5h0m.5 61h0m0-64h0m0 77.5h0m0-40h0m.5-4.5h0m0 62h0m0-61.5h0m.5 5.5h0m0-24.5h0m0 50h0m0-8h0m0-20h0m0 2.5h0m.5-20.5h0m0 9h0m0 31.5h0m.5-36h0m0-27.5h0m0 58h0m0-53.5h0m.5 3.5h0m0-2h0m.5 67h0m0-15.5h0m0 37.5h0m0-74.5h0m.5-16h0m0 80.5h0m0-5h0m.5-43.5h0m.5-36h0m0 11h0m0-12h0m0 15h0m.5 75h0m0-31h0m0-27.5h0m0 56.5h0m0-8.5h0m0-69.5h0m0 1h0m0-8.5h0m0 2.5h0m0 64.5h0m0-56.5h0m0 39.5h0m0 2.5h0m0 52h0m0-8.5h0m0-88.5h0m0 55h0m0 21h0m0 23h0m.5-7h0m0-69.5h0m0 56.5h0m0-52h0m0 27h0m0-45.5h0m0 73h0m0 16h0m0-59h0m0 12h0m0-10h0m0-17h0m0 10.5h0m.5 10.5h0m0-48h0m0 56.5h0m0 2.5h0m0-56h0m0 70h0m0-57h0m0-22h0m0 80h0m0-14h0m0-42h0m0 1h0m0 45.5h0m0 18h0m0 13h0m0-29.5h0m0-16h0m0 39h0m0-12h0m0-37.5h0m0 24h0m.5-64h0m0 39.5h0m0-28.5h0m.5 21h0m0-4h0m0 43h0m0-66h0m0 55h0m.5-24.5h0m0 55.5h0m0-80.5h0m0 88.5h0m7.5-91.5h0m0-42.5h0m0 34h0m.5-22h0m0-23h0m0 62.5h0m0-51.5h0m0 21.5h0m0-2.5h0m.5-25h0m0 3h0m0 71.5h0m0-20h0m.5-13h0m9 31h0m0 11.5h0m0-63h0m0 24.5h0m0 61h0m0-6.5h0m.5-85.5h0m0 35.5h0m0 31h0m0 33h0m0-56h0m0 42h0m0-75h0m0 48.5h0m.5-23.5h0m0-2.5h0m0-23h0m0 81.5h0m0-43.5h0m0-31h0m0 74h0m0-7h0m3 17h0m0-65.5h0m0-1.5h0m0 33h0m0-50.5h0m0 1.5h0m0 5h0m.5 51.5h0m0 8h0m0 7.5h0m0 1h0m.5-15.5h0m63-170h0m0-3h0m0 36h0m0-34.5h0m.5 7h0m0 32h0m0 6.5h0m0-39h0m0 0h0m0 18.5h0m0-24.5h0m0 52.5h0m0-50.5h0m0 52h0m.5-2.5h0m0-5.5h0m0-15.5h0m0-3.5h0m0 25.5h0m0-57h0m10 134h0m0-31.5h0m0-35h0m0 61.5h0m0-16.5h0m0-62h0m.5 85.5h0m0-.5h0m0-66.5h0m0 22.5h0m0-3.5h0m0-18h0m0 61.5h0m0-79h0m0 18h0m.5 41h0m0 17.5h0m0-16h0m0 25.5h0m0-79h0m0 18h0m0 54h0m.5-18h0m0-33.5h0m0 22.5h0m0-21.5h0m0-24h0m0 43h0m0 6.5h0m0-48.5h0m22 149h0m0 31h0m0-29.5h0m0 7.5h0m.5-55h0m0 10h0m.5 9.5h0m0 16.5h0m0 19.5h0m0-35h0m12-141h0m.5 9.5h0m0 16.5h0m.5-18h0m0 18h0m0-19.5h0m0-1h0m.5 8.5h0m0-7h0m0 17.5h0m36.5 144.5h0m0-27.5h0m0 21.5h0m0 6h0m0 9.5h0m0-5h0m.5-29h0m0-12h0m0 43.5h0m.5-11h0m0 12h0m0-13.5h0m5 28h0m0 10.5h0m0-28.5h0m0 25h0m0-32h0m0 10h0m0 23.5h0m0-28.5h0m0 8h0m0-9h0m.5-6.5h0m0 16h0m0-10.5h0m0 6.5h0m0-5h0m0 28.5h0m0-21.5h0m0 13.5h0m0-17.5h0m.5 33h0m0-37.5h0m0-8.5h0m0 37.5h0m4-77.5h0m0 19h0m0 20h0m0 8.5h0m0-48h0m0 10h0m0-7h0m0-16h0m.5-7h0m0 24h0m0-15.5h0m0 17h0m0 46.5h0m0-69.5h0m0 44.5h0m0-4h0m0 35.5h0m0-19h0m0 4.5h0m0-42.5h0m0-6h0m0 40h0m0-43h0m.5 50h0m0-31h0m0 29.5h0m0-61h0m0 34h0m0 40.5h0m0-26h0m3-64h0m0 25h0m0 22h0m0-44.5h0m.5-1.5h0m0 22.5h0m0-42.5h0m0-3.5h0m0 35h0m0-16h0m0 53.5h0m0-26h0m.5-41h0m0-4h0m0 70h0m0-56.5h0m0 39h0m0-16.5h0m0-19.5h0m0 51.5h0m.5-67.5h0m0 55h0m2 3.5h0m0-2.5h0m1-8.5h0m.5 22.5h0m0-32h0m.5 9.5h0m0 13.5h0m.5 4.5h0m0-23h0m0 17.5h0m0 15.5h0m.5-17.5h0m.5-26h0m0 22h0m0 15h0m.5-19h0m.5 21h0m.5 .5h0m0-26.5h0m.5 8.5h0m0 16h0m0 5.5h0m.5-32h0m.5 6h0m1 15.5h0m0-4.5h0m1 3h0m0-10.5h0m1 22h0m0-16h0m0-18.5h0m.5 25.5h0m0 10.5h0m0-14h0m0 4.5h0m.5-8h0m0-20.5h0m1 37.5h0m1-19.5h0m0 9h0m.5 8.5h0m1-35.5h0m0-6h0m.5 21h0m.5-2.5h0m0-9.5h0m.5-9.5h0m.5 17h0m0 18h0m.5 8h0m0-39.5h0m.5 21h0m0-21.5h0m1 22.5h0m0 3h0m.5-24h0m.5-2.5h0m0 35h0m.5-14.5h0m1.5 10h0m68-105.5h0m0 0h0m.5 3h0m0 9h0m0-10.5h0m0 8.5h0m.5-12.5h0m0 7.5h0m2.5 27.5h0m1.5-99h0m0-1.5h0m0-.5h0m.5 12.5h0m0-7.5h0m0-2.5h0m.5-8h0m0 13.5h0m.5 2h0m0-7h0" stroke="#f00" stroke-width="2.6" stroke-linecap="round" fill="none"/>
<g stroke="#cd853f" stroke-width="2.6" stroke-linecap="round" fill="none"><use href="#t3" transform="matrix(-1 -1.09 0 -3.8 258.4 1744.4)"/><use href="#t2" transform="matrix(1 .56 0 3.8 258.4 1744.4)"/><use href="#t2" transform="matrix(1 -.9 0 3.8 264.4 1747.7)"/><use href="#t2" transform="matrix(-1 .82 0 3.8 276.4 1737.4)"/><use href="#t3" transform="matrix(1 -.54 0 -3.8 276.4 1737.4)"/><use href="#t6" transform="matrix(-1 .06 0 3.8 288.4 1733.8)"/><use href="#t1" transform="matrix(1 .88 0 3.8 288.4 1733.8)"/><use href="#t2" transform="matrix(1 .91 0 3.8 294.4 1739.1)"/><use href="#t7" transform="matrix(1 -.81 0 -3.8 300.4 1744.5)"/><use href="#t7" transform="matrix(-1 -.39 0 3.8 312.4 1742)"/><use href="#t0" transform="matrix(1 .41 0 -3.8 312.4 1742)"/><use href="#t1" transform="matrix(1 -.53 0 3.8 318.4 1744.5)"/><use href="#t5" transform="matrix(-1 -.81 0 3.8 330.4 1746.1)"/><use href="#t4" transform="matrix(1 -1.15 0 -3.8 330.4 1746.1)"/><use href="#t6" transform="matrix(-1 -.2 0 -3.8 342.4 1740.4)"/><use href="#t7" transform="matrix(-1 0 0 -3.8 348.4 1740.5)"/><use href="#t6" transform="matrix(-1 .46 0 3.8 354.4 1737.7)"/><use href="#t1" transform="matrix(1 -1.28 0 -3.8 354.4 1737.7)"/><use href="#t1" transform="matrix(-1 .67 0 3.8 366.4 1726)"/><use href="#t4" transform="matrix(1 .27 0 -3.8 366.4 1726)"/><use href="#t6" transform="matrix(1 .07 0 -3.8 372.4 1727.6)"/><use href="#t4" transform="matrix(-1 -.27 0 3.8 384.4 1729.6)"/><use href="#t5" transform="matrix(1 -.64 0 -3.8 384.4 1729.6)"/><use href="#t6" transform="matrix(-1 2.68 0 3.8 396.4 1709.7)"/><use href="#t3" transform="matrix(-1 5.61 0 -3.8 402.4 1676.1)"/><use href="#t1" transform="matrix(1 .13 0 9 402.4 1676.1)"/><use href="#t6" transform="matrix(1 4.27 0 -9 408.4 1676.9)"/><use href="#t0" transform="matrix(1 -2.24 0 9 414.4 1702.5)"/><use href="#t0" transform="matrix(-1 1.27 0 9 426.4 1681.5)"/><use href="#t6" transform="matrix(-1 -3.17 0 -9 432.4 1700.4)"/><use href="#t1" transform="matrix(1 .33 0 -9 432.4 1700.4)"/><use href="#t7" transform="matrix(1 -2.21 0 9 438.4 1702.4)"/><use href="#t4" transform="matrix(1 -4.88 0 -9 444.4 1689.2)"/><use href="#t1" transform="matrix(-1 -.69 0 -9 456.4 1664)"/><use href="#t2" transform="matrix(-1 -2.93 0 -9 462.4 1681.6)"/><use href="#t2" transform="matrix(1 -6.89 0 -9 462.4 1681.6)"/><use href="#t4" transform="matrix(-1 -18.47 0 9 474.4 1751.1)"/><use href="#t3" transform="matrix(-1 -.04 0 3.8 480.4 1751.3)"/><use href="#t2" transform="matrix(-1 -1.92 0 3.8 486.4 1762.8)"/><use href="#t4" transform="matrix(1 .32 0 -3.8 486.4 1762.8)"/><use href="#t2" transform="matrix(1 -1.15 0 3.8 492.4 1764.7)"/><use href="#t2" transform="matrix(1 -2.01 0 3.8 498.4 1757.9)"/><use href="#t2" transform="matrix(1 -.42 0 -3.8 504.4 1745.8)"/><use href="#t2" transform="matrix(1 .61 0 3.8 510.4 1743.3)"/><use href="#t3" transform="matrix(-1 .52 0 -3.8 522.4 1743.8)"/><use href="#t7" transform="matrix(1 .87 0 -3.8 522.4 1743.8)"/><use href="#t2" transform="matrix(-1 -.55 0 -3.8 534.4 1752.3)"/><use href="#t7" transform="matrix(1 .33 0 -3.8 534.4 1752.3)"/><use href="#t0" transform="matrix(1 -.18 0 3.8 540.4 1754.2)"/><use href="#t4" transform="matrix(-1 1.71 0 -3.8 552.4 1742.9)"/><use href="#t5" transform="matrix(1 .38 0 -3.8 552.4 1742.9)"/><use href="#t3" transform="matrix(1 1.32 0 -3.8 558.4 1745.2)"/><use href="#t0" transform="matrix(1 -2.9 0 3.8 564.4 1753.1)"/><use href="#t1" transform="matrix(1 -2.41 0 3.8 570.4 1735.7)"/><use href="#t1" transform="matrix(-1 -.67 0 -3.8 582.4 1725.3)"/><use href="#t0" transform="matrix(-1 -3.65 0 3.8 588.4 1747.1)"/><use href="#t0" transform="matrix(1 -1.13 0 -3.8 588.4 1747.1)"/><use href="#t2" transform="matrix(-1 2.05 0 -3.8 600.4 1728.1)"/><use href="#t1" transform="matrix(1 -.14 0 -3.8 600.4 1728.1)"/><use href="#t3" transform="matrix(1 2.13 0 3.8 606.4 1727.2)"/><use href="#t7" transform="matrix(1 -.91 0 3.8 612.4 1740)"/><use href="#t5" transform="matrix(1 2.37 0 -3.8 618.4 1734.5)"/><use href="#t4" transform="matrix(-1 -1.24 0 -3.8 630.4 1756.2)"/><use href="#t2" transform="matrix(1 -.54 0 3.8 630.4 1756.2)"/><use href="#t5" transform="matrix(-1 -.64 0 3.8 642.4 1756.8)"/><use href="#t5" transform="matrix(-1 -.16 0 3.8 648.4 1757.7)"/><use href="#t6" transform="matrix(1 3.13 0 3.8 648.4 1757.7)"/><use href="#t0" transform="matrix(-1 2.57 0 3.8 660.4 1761)"/><use href="#t0" transform="matrix(1 -3.34 0 3.8 660.4 1761)"/><use href="#t5" transform="matrix(1 -.04 0 3.8 666.4 1741)"/><use href="#t2" transform="matrix(-1 .61 0 -3.8 678.4 1737.1)"/><use href="#t2" transform="matrix(1 -1.22 0 3.8 678.4 1737.1)"/><use href="#t1" transform="matrix(-1 1.28 0 3.8 690.4 1722.1)"/><use href="#t5" transform="matrix(1 .8 0 -3.8 690.4 1722.1)"/><use href="#t5" transform="matrix(1 -1.04 0 -3.8 696.4 1726.9)"/><use href="#t0" transform="matrix(-1 -.63 0 -3.8 708.4 1724.4)"/><use href="#t2" transform="matrix(1 .44 0 -3.8 708.4 1724.4)"/><use href="#t5" transform="matrix(-1 -1.14 0 3.8 720.4 1733.9)"/><use href="#t0" transform="matrix(1 .08 0 -3.8 720.4 1733.9)"/><use href="#t3" transform="matrix(1 1.57 0 3.8 726.4 1734.4)"/><use href="#t0" transform="matrix(-1 -1.73 0 3.8 738.4 1754.2)"/><use href="#t1" transform="matrix(-1 -.57 0 -3.8 744.4 1757.6)"/><use href="#t0" transform="matrix(-1 1.05 0 -3.8 750.4 1751.3)"/><use href="#t3" transform="matrix(-1 .07 0 -3.8 756.4 1750.9)"/><use href="#t3" transform="matrix(1 .58 0 3.8 756.4 1750.9)"/><use href="#t0" transform="matrix(-1 -1.08 0 3.8 768.4 1760.8)"/><use href="#t1" transform="matrix(-1 -3.71 0 -3.8 774.4 1783.1)"/><use href="#t2" transform="matrix(1 .85 0 -3.8 774.4 1783.1)"/><use href="#t7" transform="matrix(-1 1.81 0 -3.8 786.4 1777.3)"/><use href="#t6" transform="matrix(1 -1.32 0 3.8 786.4 1777.3)"/><use href="#t6" transform="matrix(-1 .81 0 3.8 798.4 1764.5)"/><use href="#t6" transform="matrix(-1 .03 0 -3.8 804.4 1764.4)"/><use href="#t3" transform="matrix(1 .74 0 3.8 804.4 1764.4)"/><use href="#t3" transform="matrix(1 .65 0 3.8 810.4 1768.8)"/><use href="#t6" transform="matrix(-1 1.5 0 -3.8 822.4 1763.8)"/><use href="#t3" transform="matrix(-1 3.35 0 3.8 828.4 1743.7)"/><use href="#t6" transform="matrix(1 -.56 0 3.8 828.4 1743.7)"/><use href="#t6" transform="matrix(1 -.96 0 3.8 834.4 1740.3)"/><use href="#t5" transform="matrix(1 1.78 0 -3.8 840.4 1734.6)"/><use href="#t0" transform="matrix(1 .21 0 3.8 846.4 1745.3)"/><use href="#t6" transform="matrix(1 .7 0 -3.8 852.4 1746.5)"/><use href="#t4" transform="matrix(1 -.92 0 -3.8 858.4 1750.7)"/><use href="#t3" transform="matrix(-1 -1.22 0 -3.8 870.4 1752.5)"/><use href="#t6" transform="matrix(-1 -.7 0 -3.8 876.4 1756.7)"/><use href="#t0" transform="matrix(1 .62 0 -3.8 876.4 1756.7)"/><use href="#t4" transform="matrix(1 .19 0 -3.8 882.4 1760.4)"/><use href="#t3" transform="matrix(1 -.96 0 -3.8 888.4 1761.6)"/><use href="#t5" transform="matrix(1 -.23 0 -3.8 894.4 1755.8)"/><use href="#t0" transform="matrix(-1 -.46 0 3.8 906.4 1757.1)"/><use href="#t1" transform="matrix(-1 1.51 0 -3.8 912.4 1748.1)"/><use href="#t1" transform="matrix(-1 -.85 0 3.8 918.4 1753.2)"/><use href="#t0" transform="matrix(-1 .53 0 -3.8 924.4 1750)"/><use href="#t4" transform="matrix(-1 -.29 0 -3.8 930.4 1751.7)"/><use href="#t6" transform="matrix(1 .24 0 -3.8 930.4 1751.7)"/><use href="#t5" transform="matrix(1 -.04 0 -3.8 936.4 1753.2)"/><use href="#t7" transform="matrix(-1 -.26 0 3.8 948.4 1754.6)"/><use href="#t7" transform="matrix(1 .03 0 -3.8 948.4 1754.6)"/><use href="#t1" transform="matrix(1 -.3 0 -3.8 954.4 1754.7)"/><use href="#t4" transform="matrix(1 .94 0 3.8 960.4 1752.9)"/><use href="#t0" transform="matrix(-1 -2.66 0 3.8 972.4 1774.6)"/><use href="#t1" transform="matrix(-1 1.21 0 -3.8 978.4 1767.3)"/><use href="#t5" transform="matrix(-1 1.9 0 3.8 984.4 1755.9)"/><use href="#t4" transform="matrix(1 -1.04 0 3.8 984.4 1755.9)"/><use href="#t4" transform="matrix(1 -.4 0 3.8 990.4 1749.6)"/><use href="#t0" transform="matrix(1 -.28 0 3.8 996.4 1747.2)"/><use href="#t6" transform="matrix(1 .78 0 3.8 1002.4 1745.5)"/><use href="#t3" transform="matrix(1 -.68 0 3.8 1008.4 1750.2)"/><use href="#t5" transform="matrix(-1 -.3 0 3.8 1020.4 1748)"/><use href="#t5" transform="matrix(1 -1.3 0 3.8 1020.4 1748)"/><use href="#t6" transform="matrix(-1 .34 0 -3.8 1032.4 1738.1)"/><use href="#t1" transform="matrix(-1 .14 0 -3.8 1038.4 1737.2)"/><use href="#t6" transform="matrix(1 3.08 0 3.8 1038.4 1737.2)"/><use href="#t4" transform="matrix(-1 .46 0 -3.8 1050.4 1752.9)"/><use href="#t4" transform="matrix(-1 -.23 0 -3.8 1056.4 1754.3)"/><use href="#t4" transform="matrix(1 1.06 0 3.8 1056.4 1754.3)"/><use href="#t7" transform="matrix(1 1.16 0 3.8 1062.4 1760.7)"/><use href="#t4" transform="matrix(-1 8.88 0 -3.8 1074.4 1714.3)"/><use href="#t3" transform="matrix(-1 5.36 0 -8.5 1080.4 1682.2)"/><use href="#t6" transform="matrix(-1 -1.99 0 -8.5 1086.4 1694.1)"/><use href="#t5" transform="matrix(1 -.01 0 -8.5 1086.4 1694.1)"/><use href="#t7" transform="matrix(1 -4.16 0 -8.5 1092.4 1694.1)"/><use href="#t2" transform="matrix(-1 .61 0 -8.5 1104.4 1665.5)"/><use href="#t6" transform="matrix(-1 -1.43 0 -8.5 1110.4 1674)"/><use href="#t7" transform="matrix(1 1.56 0 -8.5 1110.4 1674)"/><use href="#t6" transform="matrix(-1 -4.97 0 8.5 1122.4 1713.2)"/><use href="#t3" transform="matrix(-1 3.61 0 8.5 1128.4 1691.6)"/><use href="#t1" transform="matrix(-1 4.91 0 -8.5 1134.4 1662.1)"/><use href="#t6" transform="matrix(1 4.03 0 8.5 1134.4 1662.1)"/><use href="#t3" transform="matrix(1 9.15 0 -8.5 1140.4 1686.3)"/><use href="#t3" transform="matrix(-1 4.35 0 -8.5 1152.4 1715.1)"/><use href="#t6" transform="matrix(1 -2.48 0 8.5 1152.4 1715.1)"/><use href="#t7" transform="matrix(-1 -8.64 0 -8.5 1164.4 1752.1)"/><use href="#t3" transform="matrix(-1 -.9 0 -3.8 1170.4 1757.5)"/><use href="#t1" transform="matrix(1 -.25 0 -3.8 1170.4 1757.5)"/><use href="#t2" transform="matrix(-1 .72 0 -3.8 1182.4 1751.7)"/><use href="#t4" transform="matrix(1 -1.29 0 -3.8 1182.4 1751.7)"/><use href="#t3" transform="matrix(1 .65 0 -3.8 1188.4 1743.9)"/><use href="#t0" transform="matrix(1 .42 0 3.8 1194.4 1747.8)"/><use href="#t4" transform="matrix(1 -.98 0 3.8 1200.4 1750.4)"/><use href="#t1" transform="matrix(-1 2.06 0 -3.8 1212.4 1732.1)"/><use href="#t2" transform="matrix(1 .74 0 -5.5 1212.4 1732.1)"/><use href="#t0" transform="matrix(-1 1.05 0 -5.5 1224.4 1730.2)"/><use href="#t5" transform="matrix(-1 -.38 0 5.5 1230.4 1732.5)"/><use href="#t3" transform="matrix(1 .2 0 5.5 1230.4 1732.5)"/><use href="#t0" transform="matrix(1 -.65 0 -5.5 1236.4 1733.7)"/><use href="#t6" transform="matrix(-1 -.45 0 -5.5 1248.4 1732.5)"/><use href="#t5" transform="matrix(-1 4.81 0 5.5 1254.4 1703.7)"/><use href="#t3" transform="matrix(-1 5.8 0 -5.5 1260.4 1668.9)"/><use href="#t6" transform="matrix(-1 .64 0 -8 1266.4 1665)"/><use href="#s0" transform="matrix(-1 -.62 0 8 1272.4 1668.7)"/><use href="#s7" transform="matrix(1 2.11 0 -8 1272.4 1668.7)"/><use href="#s5" transform="matrix(1 2.5 0 8 1278.4 1681.4)"/><use href="#s4" transform="matrix(-1 2.19 0 8 1290.4 1683.2)"/><use href="#s1" transform="matrix(1 1.14 0 8 1290.4 1683.2)"/><use href="#s6" transform="matrix(-1 1.55 0 -8 1302.4 1680.8)"/><use href="#s1" transform="matrix(-1 -1.39 0 -8 1308.4 1689.1)"/><use href="#s2" transform="matrix(1 -.83 0 -8 1308.4 1689.1)"/><use href="#s0" transform="matrix(-1 -1.11 0 8 1320.4 1690.8)"/><use href="#s5" transform="matrix(1 -.1 0 -8 1320.4 1690.8)"/><use href="#s7" transform="matrix(1 -1.35 0 -8 1326.4 1690.2)"/><use href="#s1" transform="matrix(-1 .61 0 -8 1338.4 1678.5)"/><use href="#s0" transform="matrix(-1 -1.85 0 8 1344.4 1689.6)"/><use href="#s1" transform="matrix(-1 2.81 0 8 1350.4 1672.7)"/><use href="#s7" transform="matrix(-1 -1.56 0 -8 1356.4 1682.1)"/><use href="#s0" transform="matrix(1 .02 0 8 1356.4 1682.1)"/><use href="#s3" transform="matrix(1 2.52 0 8 1362.4 1682.2)"/><use href="#s4" transform="matrix(-1 -3.4 0 8 1374.4 1717.7)"/><use href="#s5" transform="matrix(1 -1.88 0 -8 1374.4 1717.7)"/><use href="#s7" transform="matrix(1 -1.98 0 -8 1380.4 1706.4)"/><use href="#s4" transform="matrix(-1 -2.42 0 -8 1392.4 1709.1)"/><use href="#s3" transform="matrix(1 -5.35 0 8 1392.4 1709.1)"/><use href="#s4" transform="matrix(-1 .05 0 -8 1404.4 1676.7)"/><use href="#s4" transform="matrix(1 2.42 0 -8 1404.4 1676.7)"/><use href="#s7" transform="matrix(1 1.31 0 -8 1410.4 1691.2)"/><use href="#s7" transform="matrix(1 -2.01 0 8 1416.4 1699)"/><use href="#s3" transform="matrix(1 2.15 0 8 1422.4 1687)"/><use href="#s3" transform="matrix(-1 .79 0 8 1434.4 1695.1)"/><use href="#s5" transform="matrix(1 1.19 0 8 1434.4 1695.1)"/><use href="#s3" transform="matrix(1 2.19 0 -8 1440.4 1702.3)"/><use href="#s1" transform="matrix(-1 -.45 0 -8 1452.4 1718.1)"/><use href="#s6" transform="matrix(1 -1.36 0 -8 1452.4 1718.1)"/><use href="#s4" transform="matrix(1 -.35 0 -8 1458.4 1709.9)"/><use href="#s0" transform="matrix(-1 -.78 0 8 1470.4 1712.5)"/><use href="#s2" transform="matrix(-1 -1.24 0 -8 1476.4 1719.9)"/><use href="#s7" transform="matrix(-1 -2.89 0 8 1482.4 1737.3)"/><use href="#s1" transform="matrix(-1 1.96 0 8 1488.4 1725.5)"/><use href="#s6" transform="matrix(1 -2.8 0 8 1488.4 1725.5)"/><use href="#s7" transform="matrix(-1 -.93 0 -8 1500.4 1714.3)"/><use href="#s6" transform="matrix(-1 -2.3 0 8 1506.4 1728.1)"/><use href="#s3" transform="matrix(-1 -2.19 0 8 1512.4 1741.3)"/><use href="#s2" transform="matrix(-1 2.85 0 -8 1518.4 1724.2)"/><use href="#s3" transform="matrix(1 .06 0 -8 1518.4 1724.2)"/><use href="#s0" transform="matrix(-1 -1.25 0 8 1530.4 1732.1)"/><use href="#s7" transform="matrix(1 -.16 0 -8 1530.4 1732.1)"/><use href="#s2" transform="matrix(1 -4.75 0 -8 1536.4 1731.1)"/><use href="#s4" transform="matrix(1 -2.46 0 8 1542.4 1702.6)"/><use href="#s4" transform="matrix(-1 -1.88 0 -8 1554.4 1699.1)"/><use href="#s3" transform="matrix(-1 -2.02 0 -8 1560.4 1711.2)"/><use href="#s2" transform="matrix(-1 2.7 0 8 1566.4 1695)"/><use href="#s7" transform="matrix(-1 1.47 0 -8 1572.4 1686.2)"/><use href="#s5" transform="matrix(1 1.49 0 8 1572.4 1686.2)"/><use href="#s7" transform="matrix(-1 2.28 0 8 1584.4 1681.5)"/><use href="#s4" transform="matrix(1 2.45 0 8 1584.4 1681.5)"/><use href="#s7" transform="matrix(-1 .44 0 -8 1596.4 1693.5)"/><use href="#s6" transform="matrix(-1 -.22 0 8 1602.4 1694.8)"/><use href="#s4" transform="matrix(-1 -1.57 0 8 1608.4 1704.2)"/><use href="#s1" transform="matrix(-1 -2.56 0 -8 1614.4 1719.6)"/><use href="#t0" transform="matrix(1 2.82 0 3.8 1614.4 1719.6)"/><use href="#t3" transform="matrix(1 -.13 0 3.8 1620.4 1736.5)"/><use href="#t3" transform="matrix(-1 .37 0 -3.8 1632.4 1733.5)"/><use href="#t7" transform="matrix(1 .35 0 -3.8 1632.4 1733.5)"/><use href="#t5" transform="matrix(1 .85 0 3.8 1638.4 1735.6)"/><use href="#t3" transform="matrix(-1 .23 0 -3.8 1650.4 1739.3)"/><use href="#t7" transform="matrix(-1 -.42 0 -3.8 1656.4 1741.8)"/><use href="#t3" transform="matrix(1 -1.62 0 -3.8 1656.4 1741.8)"/><use href="#t3" transform="matrix(-1 .53 0 3.8 1668.4 1728.9)"/><use href="#t6" transform="matrix(-1 -1.38 0 3.8 1674.4 1737.2)"/><use href="#t1" transform="matrix(-1 -1.15 0 3.8 1680.4 1744.1)"/><use href="#t6" transform="matrix(1 2.47 0 -3.8 1680.4 1744.1)"/><use href="#t1" transform="matrix(-1 -.33 0 3.8 1692.4 1760.9)"/><use href="#t5" transform="matrix(-1 .73 0 -3.8 1698.4 1756.5)"/><use href="#t0" transform="matrix(-1 1.75 0 3.8 1704.4 1746)"/></g>
<path d="M297.5 1703h0m0 16h0m0-7h0m.5 12.5h0m0-11h0m0 0h0m16.5 9.5h0m0-37h0m0 23h0m.5-17.5h0m0 15.5h0m0-12h0m0-4.5h0m0 2.5h0m0 23h0m.5-37.5h0m0 44.5h0m0-46.5h0m188.5 32h0m0-14h0m0 32.5h0m0-175h0m0 16.5h0m0 36.5h0m0 111h0m.5-7.5h0m0 0h0m0 6.5h0m0-14.5h0m0 28h0m0-19h0m27.5 21.5h0m0-2.5h0m.5-32.5h0m.5 31h0m0-23.5h0m0 32h0m0-15h0m0-8.5h0m50 147.5h0m0-102.5h0m0 22h0m0-13.5h0m0 84.5h0m0-81.5h0m0 92.5h0m0-48.5h0m0 21h0m0 15.5h0m.5 25h0m0-51.5h0m0-58h0m0 72.5h0m0-1.5h0m0 18h0m0-77.5h0m0 23.5h0m0-25.5h0m0-1h0m0 23h0m.5-31h0m0 55h0m0-15h0m0 68h0m0-10.5h0m0-103h0m0 36h0" stroke="#cd853f" stroke-width="2.6" stroke-linecap="round" fill="none"/>
<path d="M665.5 1713.5h0m.5 2.5h0m0 8.5h0m0 2h0m.5-11.5h0m0 4h0m14.5 152.5h0m10-162.5h0m.5-14h0m0-4.5h0m.5 2.5h0m0-4.5h0m5.5 13h0m0-8h0m.5-2h0m0 1h0m0-6h0m56 49h0m0 3.5h0m0-19.5h0m0 10h0m.5 8.5h0m0 10h0m.5-22.5h0m0 6h0m3 13.5h0m0-8h0m.5 1.5h0m0-4h0m0-13h0m.5 22.5h0m9.5-27h0m9 20h0m50 62h0m22-74.5h0m0-13.5h0m0-26.5h0m0 28h0m0 3.5h0m.5 2h0m0-18.5h0m0 9.5h0m.5 12h0m0-22h0m11 17h0m0 7h0m0 14h0m1-3.5h0m0-16h0m.5 11.5h0m14.5-15.5h0m1 9.5h0m0-3h0m0-16h0m.5 19h0m0-16h0m9.5 97h0m0 8.5h0m4.5-83h0m0-.5h0m0-11.5h0m0 9h0m.5-22h0m0 9h0m0 15.5h0m34.5 .5h0m.5 13.5h0m0 2h0m0-9.5h0" stroke="#cd853f" stroke-width="2.6" stroke-linecap="round" fill="none"/>
<path d="M1124 1699.5h0m0 9.5h0m0 12.5h0m0 32h0m0-4h0m.5-63h0m0 66h0m0-59.5h0m0 63.5h0m0-77h0m0 45.5h0m0-17.5h0m0-6h0m0 29.5h0m.5 27h0m0-31h0m0-20h0m0-21.5h0m2.5-87.5h0m2 13h0m14.5 110.5h0m.5 19.5h0m0 20.5h0m0-19.5h0m0-18h0m.5 13h0m0-6h0m0 30.5h0m0-34h0m0 25.5h0m0 5h0m0-15h0m0-12.5h0m0-6.5h0m0 32.5h0m0-9h0m.5 9h0m0-37.5h0m0 12.5h0m0-12.5h0m5 21h0m0-29.5h0m0 44h0m0 7h0m0-61h0m0-4h0m0 52h0m0-43.5h0m0 57.5h0m.5-15h0m0-36h0m0 23h0m0 25.5h0m0-50h0m0 51h0m0-33.5h0m0-18h0m0 37h0m0-53.5h0m0 47h0m.5 21.5h0m0-6.5h0m0-45.5h0m0 19.5h0m0-31h0m0 51.5h0m0 2h0m0-36.5h0m0 32.5h0m0-18.5h0m117-144h0m12.5 209h0m24-159h0m0-17h0m0-4h0m0 2.5h0m.5 5.5h0m0 6h0m0 6h0m0 3h0m.5-2.5h0m7 188h0m1 6h0m0-1.5h0m0 2h0" stroke="#cd853f" stroke-width="2.6" stroke-linecap="round" fill="none"/>
<path d="M1341.5 1589.5h0m.5 4.5h0m0 2h0m0 68h0m.5-73.5h0m0-.5h0m0 233h0m0-241h0m.5 8.5h0m0 237.5h0m0-9.5h0m1 11h0m44.5-241h0m23.5-21.5h0m15.5 271.5h0m13-265.5h0m0 208h0m2 76h0m16.5 18.5h0m27.5-97.5h0m11-165h0m43 264.5h0m10.5-86h0m1 2h0m0-3h0m101.5-71.5h0m0-26.5h0m0 28.5h0m0-13.5h0m0-8.5h0m0 1.5h0m0 4h0m0 16.5h0m.5-18h0m0-16.5h0m0 5h0m0 21h0m0-19h0m.5 13.5h0m0-12h0m0 31.5h0m0-26.5h0m0 16.5h0m0 2.5h0m0 5.5h0m0-18.5h0m0 16h0m3.5-100h0m0 143.5h0m0 76.5h0m27.5-59h0" stroke="#cd853f" stroke-width="2.6" stroke-linecap="round" fill="none"/>
<path d="M1343 1704h0m2.5-40.5h0m2 113.5h0m2.5-6h0m4-76.5h0m19 26.5h0m6 38h0m0-65.5h0m1 10.5h0m3 67.5h0m1.5-9.5h0m5-84.5h0m.5 159.5h0m0-3h0m.5-55h0m1 63.5h0m.5-1h0m0-18h0m.5 4h0m0 11h0m0-13h0m0-159h0m.5 164h0m.5-.5h0m.5 5h0m0-8.5h0m.5 9.5h0m.5-14.5h0m0 10.5h0m1-3.5h0m0 12h0m0-15.5h0m.5-145.5h0m0 164h0m0-2.5h0m.5-6h0m0 2.5h0m.5-10.5h0m.5-3h0m0-79h0m0 79.5h0m.5 9h0m0 1h0m0-1.5h0m0-4.5h0m0-6h0m0-140h0m.5 144h0m0 8h0m.5 1.5h0m0-11h0m0 10.5h0m4.5-56.5h0m3-59.5h0m1.5-22.5h0m.5 58.5h0m2.5 19.5h0m8-31.5h0m3.5 31h0m5.5-8h0m4-85.5h0m.5 52h0m5-32.5h0m2.5 41.5h0m2-32.5h0m2.5 59h0m3-99.5h0m1 47.5h0m.5 10h0m.5 13h0m0-44.5h0m12-1.5h0m3 78h0m5-9h0m5-90.5h0m.5 68.5h0m2.5-39.5h0m.5 1h0m3.5 71h0m4.5-111.5h0m1.5 27h0m4.5 41h0m1-8.5h0m8-13h0m1.5 2h0m2.5-27.5h0m1 15.5h0m5.5 19h0m.5 5h0m4.5 29.5h0m2.5 26.5h0m4.5-31h0m1.5-57.5h0m7.5 16.5h0m1.5 23h0m3 16.5h0m5.5 26.5h0m.5 0h0m.5-16h0m.5-6h0m2-38h0m0-7h0m2.5-24.5h0m.5 68.5h0m1.5-58h0m2.5 84h0m10-87.5h0m4 63.5h0m2-50.5h0m1.5-20.5h0m1 33.5h0m3.5-27h0m3 13.5h0m4 50h0m2 8.5h0m5.5-48.5h0m3.5-31.5h0m3.5 42h0m1-33.5h0m4 27.5h0m3 32.5h0m2.5 25.5h0m0-39h0m3 9.5h0m4.5-32h0" stroke="#cd853f" stroke-width="2.6" stroke-linecap="round" fill="none"/>
<g stroke="#00f" stroke-width="2.6" stroke-linecap="round" fill="none"><use href="#t6" transform="matrix(-1 -.28 0 -3.2 258.4 1662.2)"/><use href="#t3" transform="matrix(1 -.37 0 -3.2 258.4 1662.2)"/><use href="#t6" transform="matrix(-1 .06 0 -3.2 270.4 1659.6)"/><use href="#t2" transform="matrix(-1 -.23 0 3.2 276.4 1661)"/><use href="#t4" transform="matrix(-1 .73 0 3.2 282.4 1656.7)"/><use href="#t0" transform="matrix(-1 -1.22 0 3.2 288.4 1664)"/><use href="#t6" transform="matrix(1 -.1 0 -3.2 288.4 1664)"/><use href="#t1" transform="matrix(1 -.62 0 3.2 294.4 1663.4)"/><use href="#t2" transform="matrix(1 -.13 0 3.2 300.4 1659.7)"/><use href="#t4" transform="matrix(1 -.33 0 -3.2 306.4 1658.9)"/><use href="#t7" transform="matrix(-1 -.77 0 3.2 318.4 1661.6)"/><use href="#t3" transform="matrix(1 .04 0 -3.2 318.4 1661.6)"/><use href="#t5" transform="matrix(-1 .49 0 3.2 330.4 1658.9)"/><use href="#t6" transform="matrix(-1 -.94 0 -3.2 336.4 1664.5)"/><use href="#t4" transform="matrix(-1 -.64 0 -3.2 342.4 1668.4)"/><use href="#t5" transform="matrix(1 .47 0 3.2 342.4 1668.4)"/><use href="#t5" transform="matrix(-1 2.19 0 3.2 354.4 1658.1)"/><use href="#t3" transform="matrix(1 -1.94 0 3.2 354.4 1658.1)"/><use href="#t5" transform="matrix(1 -.4 0 3.2 360.4 1646.5)"/><use href="#t3" transform="matrix(1 .15 0 3.2 366.4 1644.1)"/><use href="#t3" transform="matrix(-1 -.17 0 3.2 378.4 1646)"/><use href="#t1" transform="matrix(-1 1.34 0 3.2 384.4 1638)"/><use href="#t4" transform="matrix(-1 -.75 0 -3.2 390.4 1642.4)"/><use href="#t5" transform="matrix(-1 -2.42 0 3.2 396.4 1657)"/><use href="#t5" transform="matrix(1 -5.4 0 -3.2 396.4 1657)"/><use href="#t6" transform="matrix(1 -1.26 0 -3.2 402.4 1624.5)"/><use href="#t2" transform="matrix(-1 .55 0 3.2 414.4 1613.7)"/><use href="#t4" transform="matrix(1 .7 0 -3.2 414.4 1613.7)"/><use href="#t3" transform="matrix(1 -.07 0 -3.2 420.4 1617.8)"/><use href="#t6" transform="matrix(1 .49 0 3.2 426.4 1617.4)"/><use href="#t7" transform="matrix(-1 -.16 0 3.2 438.4 1621.3)"/><use href="#t1" transform="matrix(-1 -.2 0 -3.2 444.4 1622.6)"/><use href="#t3" transform="matrix(1 -.6 0 -3.2 444.4 1622.6)"/><use href="#t3" transform="matrix(1 -.04 0 3.2 450.4 1619)"/><use href="#t0" transform="matrix(-1 .02 0 3.2 462.4 1618.6)"/><use href="#t6" transform="matrix(-1 -2.43 0 3.2 468.4 1633.2)"/><use href="#t4" transform="matrix(-1 -3.51 0 3.2 474.4 1654.3)"/><use href="#t0" transform="matrix(-1 .16 0 3.2 480.4 1653.3)"/><use href="#t7" transform="matrix(-1 -.99 0 3.2 486.4 1659.2)"/><use href="#t4" transform="matrix(-1 .15 0 3.2 492.4 1658.3)"/><use href="#t7" transform="matrix(1 .04 0 -3.2 492.4 1658.3)"/><use href="#t7" transform="matrix(1 1 0 -3.2 498.4 1658.6)"/><use href="#t2" transform="matrix(-1 .82 0 -3.2 510.4 1659.7)"/><use href="#t6" transform="matrix(-1 .51 0 -3.2 516.4 1656.6)"/><use href="#t6" transform="matrix(1 -.62 0 3.2 516.4 1656.6)"/><use href="#t2" transform="matrix(-1 .2 0 -3.2 528.4 1651.7)"/><use href="#t5" transform="matrix(1 -.2 0 -3.2 528.4 1651.7)"/><use href="#t0" transform="matrix(1 -.36 0 -3.2 534.4 1650.5)"/><use href="#t0" transform="matrix(1 .48 0 -3.2 540.4 1648.4)"/><use href="#t0" transform="matrix(-1 .86 0 3.2 552.4 1646.1)"/><use href="#t4" transform="matrix(1 1.36 0 3.2 552.4 1646.1)"/><use href="#t1" transform="matrix(1 1.24 0 3.2 558.4 1654.3)"/><use href="#t0" transform="matrix(-1 2.37 0 -3.2 570.4 1647.5)"/><use href="#t4" transform="matrix(1 -.6 0 3.2 570.4 1647.5)"/><use href="#t0" transform="matrix(-1 -1.79 0 -3.2 582.4 1654.7)"/><use href="#t0" transform="matrix(-1 -1.14 0 3.2 588.4 1661.5)"/><use href="#t1" transform="matrix(1 .12 0 -3.2 588.4 1661.5)"/><use href="#t3" transform="matrix(1 1.51 0 3.2 594.4 1662.2)"/><use href="#t7" transform="matrix(-1 -1.89 0 -3.2 606.4 1682.7)"/><use href="#t4" transform="matrix(-1 -1.89 0 3.2 612.4 1694)"/><use href="#t1" transform="matrix(-1 -.59 0 -3.2 618.4 1697.5)"/><use href="#t1" transform="matrix(-1 1.17 0 -3.2 624.4 1690.5)"/><use href="#t0" transform="matrix(1 -1.63 0 3.2 624.4 1690.5)"/><use href="#t4" transform="matrix(-1 .26 0 -3.2 636.4 1679.1)"/><use href="#t3" transform="matrix(-1 1.59 0 3.2 642.4 1669.6)"/><use href="#t0" transform="matrix(1 2.05 0 3.2 642.4 1669.6)"/><use href="#t4" transform="matrix(1 4.38 0 -3.2 648.4 1681.9)"/><use href="#t6" transform="matrix(1 -2.97 0 -3.2 654.4 1708.2)"/><use href="#t3" transform="matrix(1 -1.51 0 -3.2 660.4 1690.4)"/><use href="#t4" transform="matrix(-1 -3.34 0 3.2 672.4 1701.4)"/><use href="#t5" transform="matrix(-1 5.37 0 -3.2 678.4 1669.2)"/><use href="#t5" transform="matrix(-1 2.84 0 -3.2 684.4 1652.1)"/><use href="#t5" transform="matrix(-1 1.96 0 -3.2 690.4 1640.4)"/><use href="#t6" transform="matrix(-1 .96 0 -3.2 696.4 1634.6)"/><use href="#t0" transform="matrix(1 -.97 0 -3.2 696.4 1634.6)"/><use href="#t7" transform="matrix(1 -.5 0 3.2 702.4 1628.8)"/><use href="#t0" transform="matrix(-1 -.43 0 -3.2 714.4 1628.4)"/><use href="#t2" transform="matrix(-1 -.59 0 -3.2 720.4 1631.9)"/><use href="#t4" transform="matrix(1 -1.3 0 -3.2 720.4 1631.9)"/><use href="#t4" transform="matrix(1 1.04 0 3.2 726.4 1624.2)"/><use href="#t7" transform="matrix(1 1.6 0 -3.2 732.4 1630.4)"/><use href="#t4" transform="matrix(-1 -1.24 0 -3.2 744.4 1647.4)"/><use href="#t0" transform="matrix(-1 -.07 0 -3.2 750.4 1647.9)"/><use href="#t5" transform="matrix(-1 -2.58 0 -3.2 756.4 1663.4)"/><use href="#t4" transform="matrix(-1 -2.4 0 -3.2 762.4 1677.8)"/><use href="#t3" transform="matrix(1 -.78 0 -3.2 762.4 1677.8)"/><use href="#t1" transform="matrix(-1 -3.3 0 -3.2 774.4 1692.9)"/><use href="#t7" transform="matrix(1 -.55 0 -3.2 774.4 1692.9)"/><use href="#t4" transform="matrix(1 -4.25 0 3.2 780.4 1689.6)"/><use href="#t4" transform="matrix(1 -1.61 0 -3.2 786.4 1664.1)"/><use href="#t1" transform="matrix(-1 .06 0 3.2 798.4 1654)"/><use href="#t2" transform="matrix(-1 -.21 0 3.2 804.4 1655.3)"/><use href="#t3" transform="matrix(1 1.93 0 3.2 804.4 1655.3)"/><use href="#t7" transform="matrix(1 .69 0 -3.2 810.4 1666.9)"/><use href="#t6" transform="matrix(-1 2.64 0 -3.2 822.4 1655.2)"/><use href="#t7" transform="matrix(1 -3.61 0 -3.2 822.4 1655.2)"/><use href="#t7" transform="matrix(1 -.42 0 3.2 828.4 1633.5)"/><use href="#t2" transform="matrix(1 -.79 0 3.2 834.4 1631)"/><use href="#t0" transform="matrix(-1 -.1 0 -3.2 846.4 1626.9)"/><use href="#t2" transform="matrix(1 -.1 0 3.2 846.4 1626.9)"/><use href="#t3" transform="matrix(-1 -1.07 0 3.2 858.4 1632.7)"/><use href="#t3" transform="matrix(-1 -.85 0 3.2 864.4 1637.7)"/><use href="#t6" transform="matrix(-1 -1.32 0 3.2 870.4 1645.7)"/><use href="#t2" transform="matrix(-1 -.91 0 -3.2 876.4 1651.1)"/><use href="#t4" transform="matrix(1 -.19 0 -3.2 876.4 1651.1)"/><use href="#t2" transform="matrix(1 .35 0 -3.2 882.4 1650)"/><use href="#t2" transform="matrix(-1 .06 0 -3.2 894.4 1651.7)"/><use href="#t1" transform="matrix(1 .38 0 3.2 894.4 1651.7)"/><use href="#t2" transform="matrix(-1 -.37 0 3.2 906.4 1656.2)"/><use href="#t6" transform="matrix(-1 .54 0 -3.2 912.4 1653)"/><use href="#t6" transform="matrix(-1 -.42 0 3.2 918.4 1655.5)"/><use href="#t1" transform="matrix(-1 -.07 0 -3.2 924.4 1656)"/><use href="#t1" transform="matrix(-1 .03 0 -3.2 930.4 1655.8)"/><use href="#t4" transform="matrix(-1 -.5 0 3.2 936.4 1658.8)"/><use href="#t0" transform="matrix(1 .93 0 3.2 936.4 1658.8)"/><use href="#t6" transform="matrix(-1 .91 0 3.2 948.4 1658.9)"/><use href="#t5" transform="matrix(-1 .38 0 -3.2 954.4 1656.6)"/><use href="#t7" transform="matrix(-1 -.08 0 3.2 960.4 1657.1)"/><use href="#t1" transform="matrix(-1 .19 0 3.2 966.4 1655.9)"/><use href="#t2" transform="matrix(-1 .06 0 -3.2 972.4 1655.6)"/><use href="#t6" transform="matrix(1 .3 0 -3.2 972.4 1655.6)"/><use href="#t4" transform="matrix(1 -.89 0 3.2 978.4 1657.4)"/><use href="#t4" transform="matrix(-1 1.05 0 -3.2 990.4 1645.8)"/><use href="#t4" transform="matrix(-1 -.19 0 -3.2 996.4 1646.9)"/><use href="#t5" transform="matrix(-1 -1.08 0 3.2 1002.4 1653.4)"/><use href="#t7" transform="matrix(1 -1.12 0 -3.2 1002.4 1653.4)"/><use href="#t7" transform="matrix(-1 .45 0 3.2 1014.4 1643.9)"/><use href="#t4" transform="matrix(1 -1.35 0 -3.2 1014.4 1643.9)"/><use href="#t3" transform="matrix(-1 -1.08 0 3.2 1026.4 1642.3)"/><use href="#t2" transform="matrix(-1 -.28 0 3.2 1032.4 1644)"/><use href="#t2" transform="matrix(-1 -.75 0 -3.2 1038.4 1648.6)"/><use href="#t3" transform="matrix(-1 -.29 0 3.2 1044.4 1650.3)"/><use href="#t4" transform="matrix(1 .31 0 3.2 1044.4 1650.3)"/><use href="#t5" transform="matrix(-1 1.09 0 3.2 1056.4 1645.7)"/><use href="#t3" transform="matrix(1 -.05 0 -3.2 1056.4 1645.7)"/><use href="#t0" transform="matrix(1 -.27 0 -3.2 1062.4 1645.4)"/><use href="#t1" transform="matrix(1 -1.7 0 3.2 1068.4 1643.7)"/><use href="#t6" transform="matrix(1 -1.07 0 -4.5 1074.4 1633.5)"/><use href="#t4" transform="matrix(1 -.93 0 4.5 1080.4 1627.1)"/><use href="#t4" transform="matrix(-1 -.12 0 4.5 1092.4 1622.2)"/><use href="#t6" transform="matrix(1 .44 0 -4.5 1092.4 1622.2)"/><use href="#t1" transform="matrix(1 .3 0 4.5 1098.4 1624.8)"/><use href="#t7" transform="matrix(1 -.32 0 4.5 1104.4 1626.6)"/><use href="#t2" transform="matrix(-1 -1.72 0 -4.5 1116.4 1635)"/><use href="#t6" transform="matrix(-1 -2.14 0 4.5 1122.4 1647.9)"/><use href="#t6" transform="matrix(-1 2.54 0 4.5 1128.4 1632.6)"/><use href="#t2" transform="matrix(-1 1.02 0 4.5 1134.4 1626.5)"/><use href="#t2" transform="matrix(1 .46 0 4.5 1134.4 1626.5)"/><use href="#t7" transform="matrix(-1 -2.47 0 -4.5 1146.4 1644.1)"/><use href="#t0" transform="matrix(-1 .28 0 -4.5 1152.4 1642.4)"/><use href="#t3" transform="matrix(-1 -.56 0 -4.5 1158.4 1645.7)"/><use href="#t0" transform="matrix(-1 .48 0 -4.5 1164.4 1642.8)"/><use href="#t3" transform="matrix(1 .41 0 -3.2 1164.4 1642.8)"/><use href="#t4" transform="matrix(-1 .41 0 -3.2 1176.4 1642.8)"/><use href="#t6" transform="matrix(1 -.23 0 -3.2 1176.4 1642.8)"/><use href="#t4" transform="matrix(1 -.27 0 -3.2 1182.4 1641.5)"/><use href="#t7" transform="matrix(1 -.08 0 3.2 1188.4 1639.8)"/><use href="#t7" transform="matrix(-1 .3 0 3.2 1200.4 1637.6)"/><use href="#t2" transform="matrix(1 .15 0 -3.2 1200.4 1637.6)"/><use href="#t1" transform="matrix(1 1.03 0 -3.2 1206.4 1638.4)"/><use href="#t3" transform="matrix(1 -1.06 0 3.2 1212.4 1644.6)"/><use href="#t2" transform="matrix(1 -1.33 0 -3.2 1218.4 1638.3)"/><use href="#t2" transform="matrix(1 .38 0 -3.2 1224.4 1630.3)"/><use href="#t6" transform="matrix(-1 1.19 0 3.2 1236.4 1625.4)"/><use href="#t3" transform="matrix(1 .24 0 -3.2 1236.4 1625.4)"/><use href="#t2" transform="matrix(-1 .71 0 3.2 1248.4 1622.6)"/><use href="#t7" transform="matrix(-1 .23 0 -3.2 1254.4 1621.2)"/><use href="#t5" transform="matrix(-1 -.81 0 3.2 1260.4 1626.1)"/><use href="#t5" transform="matrix(-1 -.71 0 -3.2 1266.4 1630.3)"/><use href="#t5" transform="matrix(-1 .12 0 3.2 1272.4 1629.6)"/><use href="#t4" transform="matrix(1 .35 0 3.2 1272.4 1629.6)"/><use href="#t2" transform="matrix(1 -1.31 0 3.2 1278.4 1631.7)"/><use href="#t2" transform="matrix(-1 -.66 0 3.2 1290.4 1627.8)"/><use href="#t0" transform="matrix(-1 .19 0 -3.2 1296.4 1626.7)"/><use href="#t4" transform="matrix(-1 -.58 0 3.2 1302.4 1630.1)"/><use href="#t4" transform="matrix(-1 .35 0 -3.2 1308.4 1628)"/><use href="#t6" transform="matrix(1 -.15 0 3.2 1308.4 1628)"/><use href="#t5" transform="matrix(-1 .06 0 -3.2 1320.4 1626.8)"/><use href="#t5" transform="matrix(-1 .04 0 -3.2 1326.4 1626.5)"/><use href="#t2" transform="matrix(-1 -.28 0 -3.2 1332.4 1628.2)"/><use href="#t3" transform="matrix(-1 .42 0 3.2 1338.4 1625.7)"/><use href="#t6" transform="matrix(1 .88 0 -3.2 1338.4 1625.7)"/><use href="#t6" transform="matrix(-1 -1.25 0 -3.2 1350.4 1638.4)"/><use href="#t0" transform="matrix(1 -.02 0 3.2 1350.4 1638.4)"/><use href="#t5" transform="matrix(1 .16 0 3.2 1356.4 1638.3)"/><use href="#t6" transform="matrix(-1 1.25 0 -3.2 1368.4 1631.8)"/><use href="#t5" transform="matrix(-1 .23 0 -3.2 1374.4 1630.4)"/><use href="#t2" transform="matrix(-1 .34 0 -3.2 1380.4 1628.4)"/><use href="#t6" transform="matrix(1 1.9 0 -3.2 1380.4 1628.4)"/><use href="#t4" transform="matrix(1 .34 0 3.2 1386.4 1639.8)"/><use href="#t1" transform="matrix(1 .23 0 -3.2 1392.4 1641.8)"/><use href="#t2" transform="matrix(-1 0 0 3.2 1404.4 1643.2)"/><use href="#t1" transform="matrix(1 -1.46 0 -3.2 1404.4 1643.2)"/><use href="#t1" transform="matrix(-1 1.38 0 -3.2 1416.4 1626.2)"/><use href="#t0" transform="matrix(-1 -2.1 0 3.2 1422.4 1638.8)"/><use href="#t5" transform="matrix(-1 -1.02 0 -3.2 1428.4 1644.9)"/><use href="#t5" transform="matrix(-1 .78 0 3.2 1434.4 1640.2)"/><use href="#t1" transform="matrix(1 -.22 0 3.2 1434.4 1640.2)"/><use href="#t2" transform="matrix(1 .48 0 3.2 1440.4 1638.9)"/><use href="#t3" transform="matrix(-1 .46 0 3.2 1452.4 1639.1)"/><use href="#t0" transform="matrix(1 .38 0 3.2 1452.4 1639.1)"/><use href="#t5" transform="matrix(1 -1.08 0 3.2 1458.4 1641.3)"/><use href="#t0" transform="matrix(1 .56 0 -3.2 1464.4 1634.8)"/><use href="#t3" transform="matrix(-1 -1.53 0 3.2 1476.4 1647.4)"/><use href="#t4" transform="matrix(-1 -.95 0 3.2 1482.4 1653.1)"/><use href="#t6" transform="matrix(-1 .75 0 -3.2 1488.4 1648.6)"/><use href="#t1" transform="matrix(1 .74 0 -3.2 1488.4 1648.6)"/><use href="#t1" transform="matrix(-1 .71 0 3.2 1500.4 1648.8)"/><use href="#t6" transform="matrix(1 .82 0 -3.2 1500.4 1648.8)"/><use href="#t4" transform="matrix(-1 0 0 3.2 1512.4 1653.7)"/><use href="#t6" transform="matrix(1 -1.32 0 -3.2 1512.4 1653.7)"/><use href="#t0" transform="matrix(1 1.14 0 -3.2 1518.4 1645.8)"/><use href="#t4" transform="matrix(-1 .67 0 3.2 1530.4 1648.6)"/><use href="#t7" transform="matrix(-1 -1.3 0 -3.2 1536.4 1656.4)"/><use href="#t1" transform="matrix(1 -.32 0 -3.2 1536.4 1656.4)"/><use href="#t1" transform="matrix(-1 1.57 0 -3.2 1548.4 1645.1)"/><use href="#t6" transform="matrix(1 .02 0 3.2 1548.4 1645.1)"/><use href="#t2" transform="matrix(1 -.71 0 3.2 1554.4 1645.2)"/><use href="#t4" transform="matrix(1 .97 0 3.2 1560.4 1640.9)"/><use href="#t6" transform="matrix(1 .51 0 3.2 1566.4 1646.7)"/><use href="#t2" transform="matrix(-1 1.57 0 -3.2 1578.4 1640.3)"/><use href="#t2" transform="matrix(1 -.4 0 3.2 1578.4 1640.3)"/><use href="#t4" transform="matrix(-1 -.52 0 3.2 1590.4 1641)"/><use href="#t3" transform="matrix(-1 .41 0 3.2 1596.4 1638.6)"/><use href="#t6" transform="matrix(1 -.23 0 3.2 1596.4 1638.6)"/><use href="#t0" transform="matrix(-1 .07 0 -3.2 1608.4 1636.8)"/><use href="#t3" transform="matrix(-1 .06 0 -3.2 1614.4 1636.5)"/><use href="#t4" transform="matrix(-1 -1.45 0 3.2 1620.4 1645.2)"/><use href="#t2" transform="matrix(1 .97 0 -3.2 1620.4 1645.2)"/><use href="#t2" transform="matrix(-1 1.17 0 3.2 1632.4 1643.9)"/><use href="#t3" transform="matrix(1 .33 0 -3.2 1632.4 1643.9)"/><use href="#t2" transform="matrix(-1 -.38 0 -3.2 1644.4 1648.2)"/><use href="#t2" transform="matrix(1 .84 0 -3.2 1644.4 1648.2)"/><use href="#t2" transform="matrix(-1 .21 0 -3.2 1656.4 1652)"/><use href="#t4" transform="matrix(1 -1.4 0 3.2 1656.4 1652)"/><use href="#t0" transform="matrix(1 .77 0 3.2 1662.4 1643.6)"/><use href="#t6" transform="matrix(1 -.4 0 3.2 1668.4 1648.2)"/><use href="#t3" transform="matrix(-1 -.61 0 3.2 1680.4 1649.5)"/><use href="#t6" transform="matrix(-1 -2.05 0 3.2 1686.4 1661.8)"/><use href="#t0" transform="matrix(1 1.13 0 -3.2 1686.4 1661.8)"/><use href="#t2" transform="matrix(-1 1.55 0 3.2 1698.4 1659.3)"/><use href="#t1" transform="matrix(-1 .58 0 3.2 1704.4 1655.8)"/></g>
<path d="M291 1681.5h0m.5-2.5h0m.5-9.5h0m.5 8h0m21.5-20.5h0m0-37h0m0 48.5h0m0 13h0m0 13h0m0-84h0m0 25h0m0 41.5h0m0-57h0m0 17h0m0 69.5h0m.5-53h0m0 18.5h0m0-17.5h0m0 24h0m0-8h0m0 57h0m0-60h0m0 9.5h0m0 0h0m0 50h0m0-3h0m0-40.5h0m0 43h0m0-40h0m0-5.5h0m0-9.5h0m0 14h0m0 34h0m.5-39h0m0 35.5h0m0-39h0m0 44h0m0-2.5h0m0-61h0m0 11h0m0-30.5h0m0-28.5h0m0 115.5h0m0-109h0m0 69h0m0-38.5h0m.5 80.5h0m0 1.5h0m0-92.5h0m188 29.5h0m0-11h0m0-4h0m0-13.5h0m0 28.5h0m.5-12.5h0m0-13h0m0 .5h0m.5 6.5h0m.5 4.5h0m0 9.5h0m0-9h0m78 24.5h0m0 20h0m0-15.5h0m0-3.5h0m0-6h0m0-2.5h0m0 18h0m0-11h0m.5 8h0m0 26h0m0-28.5h0m0 30h0m0-12.5h0m0-24h0m0 .5h0m0-4.5h0m.5 42h0m0-18h0m0-24h0m0 45h0m0-14.5h0m0-23.5h0" stroke="#00f" stroke-width="2.6" stroke-linecap="round" fill="none"/>
<path d="M849 1586h0m.5 0h0m0 24.5h0m0 6.5h0m0-10.5h0m0-12.5h0m0-5h0m0-15h0m0 25.5h0m0-17.5h0m.5 8.5h0m0-20.5h0m0 25.5h0m0 21.5h0m0-12h0m0-14h0m.5 10h0m0-33.5h0m0 49h0m0-1.5h0m0-31h0m0 11h0m28.5 35.5h0m.5-5h0m0 0h0m.5 5h0m13.5 .5h0m0-6h0m0 6h0m0-4.5h0m48.5 61h0m0-9.5h0m.5 9.5h0m0 2h0m.5-8h0" stroke="#00f" stroke-width="2.6" stroke-linecap="round" fill="none"/>
<path d="M1101.5 1609h0m.5-4h0m0 .5h0m0-7.5h0m.5 4.5h0" stroke="#00f" stroke-width="2.6" stroke-linecap="round" fill="none"/>
<path d="M1477 1661.5h0m0-.5h0m.5 10.5h0m.5-7h0m0-3h0m12-63h0m0-10h0m0-15.5h0m0 22h0m0-4.5h0m0 9.5h0m0-27h0m0 41.5h0m0 9h0m0-34.5h0m0 21h0m.5-24h0m0 27.5h0m0-2.5h0m0-11h0m0-3.5h0m0-5h0m0 24h0m.5-35.5h0m0 46h0m0-48h0m0-5.5h0m0 15.5h0m0 .5h0m16.5 77.5h0m.5-6h0m0-1h0m15.5-1.5h0m0 7h0m.5-6h0m14 6.5h0m0 1.5h0m.5-1.5h0m.5-8h0m76.5-3.5h0m0 17h0m0-18h0m0 14.5h0m.5-14.5h0m0 11h0m0-9h0m0 19.5h0" stroke="#00f" stroke-width="2.6" stroke-linecap="round" fill="none"/>
</g>
<path d="M251.4 292.1h29M251.4 197.9h29M251.4 103.8h29M251.4 367.4h14.5M251.4 348.5h14.5M251.4 329.7h14.5M251.4 310.9h14.5M251.4 273.2h14.5M251.4 254.4h14.5M251.4 235.6h14.5M251.4 216.8h14.5M251.4 179.1h14.5M251.4 160.3h14.5M251.4 141.4h14.5M251.4 122.6h14.5M251.4 85h14.5M251.4 66.1h14.5M1701.3 292.1h-29M1701.3 197.9h-29M1701.3 103.8h-29M1701.3 367.4h-14.5M1701.3 348.5h-14.5M1701.3 329.7h-14.5M1701.3 310.9h-14.5M1701.3 273.2h-14.5M1701.3 254.4h-14.5M1701.3 235.6h-14.5M1701.3 216.8h-14.5M1701.3 179.1h-14.5M1701.3 160.3h-14.5M1701.3 141.4h-14.5M1701.3 122.6h-14.5M1701.3 85h-14.5M1701.3 66.1h-14.5" stroke="#000" stroke-width="2.6" fill="none"/>
<path d="M362.8 386.2v-4.5M362.8 47.3v4.5M496.6 386.2v-4.5M496.6 47.3v4.5M630.5 386.2v-7M630.5 47.3v7M764.4 386.2v-4.5M764.4 47.3v4.5M898.2 386.2v-4.5M898.2 47.3v4.5M1032 386.2v-4.5M1032 47.3v4.5M1165.9 386.2v-7M1165.9 47.3v7M1299.8 386.2v-4.5M1299.8 47.3v4.5M1433.6 386.2v-4.5M1433.6 47.3v4.5M1567.4 386.2v-4.5M1567.4 47.3v4.5" stroke="#000" stroke-width="2.7" fill="none"/>
<rect x="251.4" y="47.3" width="1449.9" height="338.9" fill="none" stroke="#000" stroke-width="2.7" stroke-linejoin="round"/>
<text transform="translate(239.5 118.4) scale(0.945 1)" font-size="45.3" fill="#000" stroke="#000" text-anchor="end">150</text>
<text transform="translate(239.5 212.5) scale(0.945 1)" font-size="45.3" fill="#000" stroke="#000" text-anchor="end">100</text>
<text transform="translate(239.5 306.6) scale(0.945 1)" font-size="45.3" fill="#000" stroke="#000" text-anchor="end">50</text>
<text transform="translate(239.5 385.8) scale(0.945 1)" font-size="45.3" fill="#000" stroke="#000" text-anchor="end">0</text>
<text transform="translate(134 216) rotate(-90) scale(0.945 1)" font-size="44.3" fill="#000" stroke="#000" text-anchor="middle">346.5 eV Nor</text>
<text transform="translate(260 100) scale(0.945 1)" font-size="51.5" fill="#f00" stroke="#f00" text-anchor="start">(A)</text>
<path d="M251.4 733.6h29M251.4 677.1h29M251.4 620.6h29M251.4 564.1h29M251.4 507.6h29M251.4 451.1h29M251.4 747.7h14.5M251.4 719.4h14.5M251.4 705.3h14.5M251.4 691.2h14.5M251.4 663h14.5M251.4 648.8h14.5M251.4 634.7h14.5M251.4 606.5h14.5M251.4 592.3h14.5M251.4 578.2h14.5M251.4 550h14.5M251.4 535.9h14.5M251.4 521.7h14.5M251.4 493.5h14.5M251.4 479.4h14.5M251.4 465.3h14.5M251.4 437h14.5M1701.3 733.6h-29M1701.3 677.1h-29M1701.3 620.6h-29M1701.3 564.1h-29M1701.3 507.6h-29M1701.3 451.1h-29M1701.3 747.7h-14.5M1701.3 719.4h-14.5M1701.3 705.3h-14.5M1701.3 691.2h-14.5M1701.3 663h-14.5M1701.3 648.8h-14.5M1701.3 634.7h-14.5M1701.3 606.5h-14.5M1701.3 592.3h-14.5M1701.3 578.2h-14.5M1701.3 550h-14.5M1701.3 535.9h-14.5M1701.3 521.7h-14.5M1701.3 493.5h-14.5M1701.3 479.4h-14.5M1701.3 465.3h-14.5M1701.3 437h-14.5" stroke="#000" stroke-width="2.6" fill="none"/>
<path d="M362.8 761.8v-4.5M362.8 422.9v4.5M496.6 761.8v-4.5M496.6 422.9v4.5M630.5 761.8v-7M630.5 422.9v7M764.4 761.8v-4.5M764.4 422.9v4.5M898.2 761.8v-4.5M898.2 422.9v4.5M1032 761.8v-4.5M1032 422.9v4.5M1165.9 761.8v-7M1165.9 422.9v7M1299.8 761.8v-4.5M1299.8 422.9v4.5M1433.6 761.8v-4.5M1433.6 422.9v4.5M1567.4 761.8v-4.5M1567.4 422.9v4.5" stroke="#000" stroke-width="2.7" fill="none"/>
<rect x="251.4" y="422.9" width="1449.9" height="338.9" fill="none" stroke="#000" stroke-width="2.7" stroke-linejoin="round"/>
<text transform="translate(239.5 748.1) scale(0.945 1)" font-size="45.3" fill="#000" stroke="#000" text-anchor="end">4</text>
<text transform="translate(239.5 691.7) scale(0.945 1)" font-size="45.3" fill="#000" stroke="#000" text-anchor="end">6</text>
<text transform="translate(239.5 635.2) scale(0.945 1)" font-size="45.3" fill="#000" stroke="#000" text-anchor="end">8</text>
<text transform="translate(239.5 578.7) scale(0.945 1)" font-size="45.3" fill="#000" stroke="#000" text-anchor="end">10</text>
<text transform="translate(239.5 522.2) scale(0.945 1)" font-size="45.3" fill="#000" stroke="#000" text-anchor="end">12</text>
<text transform="translate(239.5 465.7) scale(0.945 1)" font-size="45.3" fill="#000" stroke="#000" text-anchor="end">14</text>
<text transform="translate(158.5 592) rotate(-90) scale(0.945 1)" font-size="44.3" fill="#000" stroke="#000" text-anchor="middle">P<tspan font-size="28.5" dy="9" dx="2">total</tspan><tspan font-size="44.3" dy="-9"> (nPa)</tspan></text>
<text transform="translate(260 476) scale(0.945 1)" font-size="51.5" fill="#000" stroke="#000" text-anchor="start">(B)</text>
<text transform="translate(1724.5 506.5) scale(0.945 1)" font-size="44" fill="#000" stroke="#000" text-anchor="start">P<tspan font-size="28.5" dy="9" dx="2">total</tspan></text>
<text transform="translate(1724.5 677) scale(0.945 1)" font-size="44" fill="#f00" stroke="#f00" text-anchor="start">P<tspan font-size="28.5" dy="9" dx="2">expt</tspan></text>
<path d="M251.4 1021h29M251.4 1109.6h14.5M251.4 1088h14.5M251.4 1070.4h14.5M251.4 1055.5h14.5M251.4 1042.6h14.5M251.4 1031.2h14.5M251.4 954h14.5M251.4 914.9h14.5M251.4 887.1h14.5M251.4 865.5h14.5M251.4 847.9h14.5M251.4 833h14.5M251.4 820.1h14.5M251.4 808.7h14.5M1701.3 1021h-29M1701.3 1109.6h-14.5M1701.3 1088h-14.5M1701.3 1070.4h-14.5M1701.3 1055.5h-14.5M1701.3 1042.6h-14.5M1701.3 1031.2h-14.5M1701.3 954h-14.5M1701.3 914.9h-14.5M1701.3 887.1h-14.5M1701.3 865.5h-14.5M1701.3 847.9h-14.5M1701.3 833h-14.5M1701.3 820.1h-14.5M1701.3 808.7h-14.5" stroke="#000" stroke-width="2.6" fill="none"/>
<path d="M362.8 1137.4v-4.5M362.8 798.5v4.5M496.6 1137.4v-4.5M496.6 798.5v4.5M630.5 1137.4v-7M630.5 798.5v7M764.4 1137.4v-4.5M764.4 798.5v4.5M898.2 1137.4v-4.5M898.2 798.5v4.5M1032 1137.4v-4.5M1032 798.5v4.5M1165.9 1137.4v-7M1165.9 798.5v7M1299.8 1137.4v-4.5M1299.8 798.5v4.5M1433.6 1137.4v-4.5M1433.6 798.5v4.5M1567.4 1137.4v-4.5M1567.4 798.5v4.5" stroke="#000" stroke-width="2.7" fill="none"/>
<rect x="251.4" y="798.5" width="1449.9" height="338.9" fill="none" stroke="#000" stroke-width="2.7" stroke-linejoin="round"/>
<text transform="translate(239.5 822.1) scale(0.945 1)" font-size="45.3" fill="#000" stroke="#000" text-anchor="end">10</text>
<text transform="translate(239.5 1035.6) scale(0.945 1)" font-size="45.3" fill="#000" stroke="#000" text-anchor="end">1</text>
<text transform="translate(158.5 967) rotate(-90) scale(0.945 1)" font-size="44.3" fill="#000" stroke="#000" text-anchor="middle">P (nPa)</text>
<text transform="translate(260 852) scale(0.945 1)" font-size="51.5" fill="#000" stroke="#000" text-anchor="start">(C)</text>
<text transform="translate(1724.5 856) scale(0.945 1)" font-size="44" fill="#f00" stroke="#f00" text-anchor="start">P<tspan font-size="28.5" dy="9" dx="2">B</tspan></text>
<text transform="translate(1724.5 967) scale(0.945 1)" font-size="44" fill="#00f" stroke="#00f" text-anchor="start">P<tspan font-size="28.5" dy="9" dx="2">e</tspan></text>
<text transform="translate(1724.5 1082) scale(0.945 1)" font-size="44" fill="#cd853f" stroke="#cd853f" text-anchor="start">P<tspan font-size="28.5" dy="9" dx="2">p+a</tspan></text>
<path d="M251.4 1456.5h29M251.4 1400h29M251.4 1343.5h29M251.4 1287.1h29M251.4 1230.6h29M251.4 1501.7h14.5M251.4 1490.4h14.5M251.4 1479.1h14.5M251.4 1467.8h14.5M251.4 1445.2h14.5M251.4 1433.9h14.5M251.4 1422.6h14.5M251.4 1411.3h14.5M251.4 1388.7h14.5M251.4 1377.4h14.5M251.4 1366.1h14.5M251.4 1354.8h14.5M251.4 1332.3h14.5M251.4 1321h14.5M251.4 1309.7h14.5M251.4 1298.4h14.5M251.4 1275.8h14.5M251.4 1264.5h14.5M251.4 1253.2h14.5M251.4 1241.9h14.5M251.4 1219.3h14.5M251.4 1208h14.5M251.4 1196.7h14.5M251.4 1185.4h14.5M1701.3 1456.5h-29M1701.3 1400h-29M1701.3 1343.5h-29M1701.3 1287.1h-29M1701.3 1230.6h-29M1701.3 1501.7h-14.5M1701.3 1490.4h-14.5M1701.3 1479.1h-14.5M1701.3 1467.8h-14.5M1701.3 1445.2h-14.5M1701.3 1433.9h-14.5M1701.3 1422.6h-14.5M1701.3 1411.3h-14.5M1701.3 1388.7h-14.5M1701.3 1377.4h-14.5M1701.3 1366.1h-14.5M1701.3 1354.8h-14.5M1701.3 1332.3h-14.5M1701.3 1321h-14.5M1701.3 1309.7h-14.5M1701.3 1298.4h-14.5M1701.3 1275.8h-14.5M1701.3 1264.5h-14.5M1701.3 1253.2h-14.5M1701.3 1241.9h-14.5M1701.3 1219.3h-14.5M1701.3 1208h-14.5M1701.3 1196.7h-14.5M1701.3 1185.4h-14.5" stroke="#000" stroke-width="2.6" fill="none"/>
<path d="M362.8 1513v-4.5M362.8 1174.1v4.5M496.6 1513v-4.5M496.6 1174.1v4.5M630.5 1513v-7M630.5 1174.1v7M764.4 1513v-4.5M764.4 1174.1v4.5M898.2 1513v-4.5M898.2 1174.1v4.5M1032 1513v-4.5M1032 1174.1v4.5M1165.9 1513v-7M1165.9 1174.1v7M1299.8 1513v-4.5M1299.8 1174.1v4.5M1433.6 1513v-4.5M1433.6 1174.1v4.5M1567.4 1513v-4.5M1567.4 1174.1v4.5" stroke="#000" stroke-width="2.7" fill="none"/>
<rect x="251.4" y="1174.1" width="1449.9" height="338.9" fill="none" stroke="#000" stroke-width="2.7" stroke-linejoin="round"/>
<text transform="translate(239.5 1471.1) scale(0.945 1)" font-size="45.3" fill="#000" stroke="#000" text-anchor="end">35</text>
<text transform="translate(239.5 1414.6) scale(0.945 1)" font-size="45.3" fill="#000" stroke="#000" text-anchor="end">40</text>
<text transform="translate(239.5 1358.1) scale(0.945 1)" font-size="45.3" fill="#000" stroke="#000" text-anchor="end">45</text>
<text transform="translate(239.5 1301.6) scale(0.945 1)" font-size="45.3" fill="#000" stroke="#000" text-anchor="end">50</text>
<text transform="translate(239.5 1245.2) scale(0.945 1)" font-size="45.3" fill="#000" stroke="#000" text-anchor="end">55</text>
<text transform="translate(239.5 1200.7) scale(0.945 1)" font-size="45.3" fill="#000" stroke="#000" text-anchor="end">60</text>
<text transform="translate(239.5 1516.6) scale(0.945 1)" font-size="45.3" fill="#000" stroke="#000" text-anchor="end">30</text>
<text transform="translate(158.5 1342) rotate(-90) scale(0.945 1)" font-size="44.3" fill="#000" stroke="#000" text-anchor="middle">P<tspan font-size="28.5" dy="9" dx="2">total</tspan><tspan font-size="44.3" dy="-9"> Nor (nPa)</tspan></text>
<text transform="translate(260 1227) scale(0.945 1)" font-size="51.5" fill="#000" stroke="#000" text-anchor="start">(D)</text>
<path d="M251.4 1689.1h29M251.4 1828.6h14.5M251.4 1793.4h14.5M251.4 1768.5h14.5M251.4 1749.2h14.5M251.4 1733.4h14.5M251.4 1720h14.5M251.4 1708.5h14.5M251.4 1698.3h14.5M251.4 1629.1h14.5M251.4 1594h14.5M251.4 1569h14.5M1701.3 1689.1h-29M1701.3 1828.6h-14.5M1701.3 1793.4h-14.5M1701.3 1768.5h-14.5M1701.3 1749.2h-14.5M1701.3 1733.4h-14.5M1701.3 1720h-14.5M1701.3 1708.5h-14.5M1701.3 1698.3h-14.5M1701.3 1629.1h-14.5M1701.3 1594h-14.5M1701.3 1569h-14.5" stroke="#000" stroke-width="2.6" fill="none"/>
<path d="M362.8 1888.6v-4.5M362.8 1549.7v4.5M496.6 1888.6v-4.5M496.6 1549.7v4.5M630.5 1888.6v-7M630.5 1549.7v7M764.4 1888.6v-4.5M764.4 1549.7v4.5M898.2 1888.6v-4.5M898.2 1549.7v4.5M1032 1888.6v-4.5M1032 1549.7v4.5M1165.9 1888.6v-7M1165.9 1549.7v7M1299.8 1888.6v-4.5M1299.8 1549.7v4.5M1433.6 1888.6v-4.5M1433.6 1549.7v4.5M1567.4 1888.6v-4.5M1567.4 1549.7v4.5" stroke="#000" stroke-width="2.7" fill="none"/>
<rect x="251.4" y="1549.7" width="1449.9" height="338.9" fill="none" stroke="#000" stroke-width="2.7" stroke-linejoin="round"/>
<text transform="translate(239.5 1703.7) scale(0.945 1)" font-size="45.3" fill="#000" stroke="#000" text-anchor="end">10</text>
<text transform="translate(239.5 1887.2) scale(0.945 1)" font-size="45.3" fill="#000" stroke="#000" text-anchor="end">1</text>
<text transform="translate(158.5 1718) rotate(-90) scale(0.945 1)" font-size="44.3" fill="#000" stroke="#000" text-anchor="middle">P Nor (nPa)</text>
<text transform="translate(260 1603) scale(0.945 1)" font-size="51.5" fill="#000" stroke="#000" text-anchor="start">(E)</text>
<text transform="translate(1724.5 1605) scale(0.945 1)" font-size="44" fill="#f00" stroke="#f00" text-anchor="start">P<tspan font-size="28.5" dy="9" dx="2">B</tspan></text>
<text transform="translate(1724.5 1717) scale(0.945 1)" font-size="44" fill="#00f" stroke="#00f" text-anchor="start">P<tspan font-size="28.5" dy="9" dx="2">e</tspan></text>
<text transform="translate(1724.5 1832) scale(0.945 1)" font-size="44" fill="#cd853f" stroke="#cd853f" text-anchor="start">P<tspan font-size="28.5" dy="9" dx="2">p+a</tspan></text>
<defs><linearGradient id="cb" x1="0" y1="1" x2="0" y2="0"><stop offset="0" stop-color="#031e50"/><stop offset="0.06" stop-color="#05377d"/><stop offset="0.1" stop-color="#0a4b96"/><stop offset="0.16" stop-color="#1964aa"/><stop offset="0.216" stop-color="#3c87be"/><stop offset="0.274" stop-color="#73afd2"/><stop offset="0.323" stop-color="#a0cbe1"/><stop offset="0.4" stop-color="#c8deed"/><stop offset="0.455" stop-color="#e4eef5"/><stop offset="0.5" stop-color="#f6f6f6"/><stop offset="0.532" stop-color="#f8e8e1"/><stop offset="0.581" stop-color="#fcd2be"/><stop offset="0.639" stop-color="#f7af91"/><stop offset="0.697" stop-color="#f08c69"/><stop offset="0.755" stop-color="#d75a41"/><stop offset="0.826" stop-color="#b9281e"/><stop offset="0.9" stop-color="#a0050f"/><stop offset="0.95" stop-color="#78000a"/><stop offset="1" stop-color="#460005"/></linearGradient></defs>
<rect x="1724" y="47.3" width="22.5" height="338.9" fill="url(#cb)" stroke="#000" stroke-width="2.7" stroke-linejoin="round"/>
<path d="M1725 225H1745.5" stroke="#dc8741" stroke-width="2"/>
<path d="M1725 236.7H1745.5" stroke="#f0d728" stroke-width="2"/>
<path d="M1725 268.2H1745.5" stroke="#1414f0" stroke-width="2"/>
<path d="M1725 281.3H1745.5" stroke="#000" stroke-width="2"/>
<text transform="translate(1759 74.9) scale(0.945 1)" font-size="45.3" fill="#000" stroke="#000" text-anchor="start">1.0</text>
<text transform="translate(1759 129.2) scale(0.945 1)" font-size="45.3" fill="#000" stroke="#000" text-anchor="start">0.8</text>
<text transform="translate(1759 196.9) scale(0.945 1)" font-size="45.3" fill="#000" stroke="#000" text-anchor="start">0.6</text>
<text transform="translate(1759 264.7) scale(0.945 1)" font-size="45.3" fill="#000" stroke="#000" text-anchor="start">0.4</text>
<text transform="translate(1759 332.5) scale(0.945 1)" font-size="45.3" fill="#000" stroke="#000" text-anchor="start">0.2</text>
<text transform="translate(1759 386.8) scale(0.945 1)" font-size="45.3" fill="#000" stroke="#000" text-anchor="start">0.0</text>
<rect x="400.7" y="47.3" width="71.5" height="1841.3" fill="rgba(0,0,0,0.4)"/><path d="M400.7 46.3V1889.6M472.2 46.3V1889.6" stroke="#000" stroke-width="2.4" fill="none"/>
<rect x="1075.3" y="47.3" width="87.9" height="1841.3" fill="rgba(0,0,0,0.4)"/><path d="M1075.3 46.3V1889.6M1163.2 46.3V1889.6" stroke="#000" stroke-width="2.4" fill="none"/>
<rect x="1211.5" y="47.3" width="404.8" height="1841.3" fill="rgba(0,0,255,0.4)"/><path d="M1211.5 46.3V1889.6M1616.3 46.3V1889.6" stroke="#000" stroke-width="2.4" fill="none"/>
<text transform="translate(448.3 37.7) scale(0.945 1)" font-size="50.5" fill="#000" stroke="#000" text-anchor="middle">(1)</text>
<text transform="translate(1125 37.7) scale(0.945 1)" font-size="50.5" fill="#000" stroke="#000" text-anchor="middle">(2)</text>
<text transform="translate(1385 37.7) scale(0.945 1)" font-size="50.5" fill="#000" stroke="#000" text-anchor="middle">(3)</text>
<text transform="translate(630.5 1942) scale(0.955 1)" font-size="44.3" fill="#000" stroke="#000" text-anchor="middle">31</text>
<text transform="translate(630.5 1978) scale(0.955 1)" font-size="44.3" fill="#000" stroke="#000" text-anchor="middle">Jan</text>
<text transform="translate(1165.9 1942) scale(0.955 1)" font-size="44.3" fill="#000" stroke="#000" text-anchor="middle">01</text>
<text transform="translate(1165.9 1978) scale(0.955 1)" font-size="44.3" fill="#000" stroke="#000" text-anchor="middle">Feb</text>
<text transform="translate(1701.3 1942) scale(0.955 1)" font-size="44.3" fill="#000" stroke="#000" text-anchor="middle">02</text>
<text transform="translate(2.5 1942) scale(0.955 1)" font-size="44.3" fill="#000" stroke="#000" text-anchor="start">Date</text>
<text transform="translate(2.5 1978) scale(0.955 1)" font-size="44.3" fill="#000" stroke="#000" text-anchor="start">2020</text>
</svg>
</body></html>
